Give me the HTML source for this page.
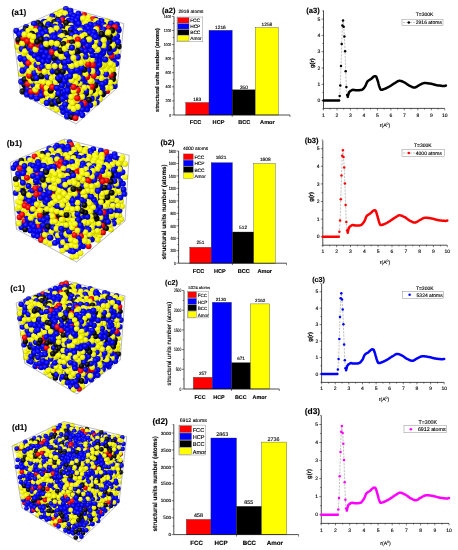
<!DOCTYPE html><html><head><meta charset="utf-8"><style>
html,body{margin:0;padding:0;background:#fff;width:458px;height:550px;overflow:hidden}
svg{display:block;font-family:'Liberation Sans', Arial, sans-serif;text-rendering:geometricPrecision}
text{fill:#000;stroke:#000;stroke-width:0.12px}
.lb{font-weight:bold}.cat{font-weight:bold}.yt{font-weight:bold}
.ax{fill:none;stroke:#000;stroke-width:0.7}.tk{fill:none;stroke:#000;stroke-width:0.5}
.lbx{fill:none;stroke:#777;stroke-width:0.4}
.ed{fill:none;stroke:#999;stroke-width:0.4}.ed2{fill:none;stroke:#666;stroke-width:0.45}.bk{fill:#22224a}
.y{fill:url(#gy)}.b{fill:url(#gb)}.k{fill:url(#gk)}.r{fill:url(#gr)}
</style></head><body>
<svg width="458" height="550" viewBox="0 0 458 550">
<defs>
<radialGradient id="gy" cx="0.4" cy="0.38" r="0.62"><stop offset="0" stop-color="#ffff70"/><stop offset="0.55" stop-color="#f6f600"/><stop offset="1" stop-color="#c4c400"/></radialGradient>
<radialGradient id="gb" cx="0.4" cy="0.38" r="0.62"><stop offset="0" stop-color="#3c3cff"/><stop offset="0.55" stop-color="#0000f4"/><stop offset="1" stop-color="#0000a8"/></radialGradient>
<radialGradient id="gk" cx="0.4" cy="0.38" r="0.62"><stop offset="0" stop-color="#4a4a4a"/><stop offset="0.55" stop-color="#0c0c0c"/><stop offset="1" stop-color="#000"/></radialGradient>
<radialGradient id="gr" cx="0.4" cy="0.38" r="0.62"><stop offset="0" stop-color="#ff5050"/><stop offset="0.55" stop-color="#f40000"/><stop offset="1" stop-color="#a80000"/></radialGradient>
</defs>
<g class="c1">
<path d="M66.0 7.0L61.8 57.4M20.8 93.4L61.8 57.4L117.0 88.0" class="ed"/>
<path d="M66.2 17.1L25.7 36.4L30.5 86.0L74.0 108.7L107.1 81.6L111.2 31.3Z" class="bk"/>
<circle cx="64.8" cy="14.9" r="3.1" class="y"/>
<circle cx="65.9" cy="9.0" r="3.1" class="b"/>
<circle cx="68.4" cy="12.9" r="3.1" class="b"/>
<circle cx="66.1" cy="19.0" r="3.1" class="b"/>
<circle cx="62.0" cy="14.3" r="3.1" class="b"/>
<circle cx="57.8" cy="20.6" r="3.1" class="b"/>
<circle cx="70.6" cy="17.0" r="3.1" class="b"/>
<circle cx="61.9" cy="18.5" r="3.1" class="y"/>
<circle cx="57.1" cy="17.4" r="3.1" class="y"/>
<circle cx="66.2" cy="15.9" r="3.1" class="b"/>
<circle cx="60.8" cy="11.6" r="3.1" class="y"/>
<circle cx="70.4" cy="10.9" r="3.1" class="b"/>
<circle cx="61.7" cy="22.8" r="3.1" class="b"/>
<circle cx="72.5" cy="20.4" r="3.1" class="k"/>
<circle cx="72.1" cy="15.0" r="3.1" class="y"/>
<circle cx="67.4" cy="19.8" r="3.1" class="b"/>
<circle cx="78.7" cy="22.0" r="3.1" class="k"/>
<circle cx="57.1" cy="22.0" r="3.1" class="b"/>
<circle cx="65.0" cy="13.3" r="3.1" class="y"/>
<circle cx="56.1" cy="14.0" r="3.1" class="y"/>
<circle cx="62.6" cy="20.6" r="3.1" class="b"/>
<circle cx="66.4" cy="23.8" r="3.1" class="b"/>
<circle cx="59.4" cy="17.2" r="3.1" class="b"/>
<circle cx="78.7" cy="18.2" r="3.1" class="k"/>
<circle cx="52.1" cy="21.7" r="3.1" class="k"/>
<circle cx="78.4" cy="13.9" r="3.1" class="b"/>
<circle cx="66.6" cy="17.3" r="3.1" class="y"/>
<circle cx="54.2" cy="25.7" r="3.1" class="b"/>
<circle cx="70.9" cy="19.7" r="3.1" class="b"/>
<circle cx="52.4" cy="16.3" r="3.1" class="b"/>
<circle cx="78.7" cy="22.4" r="3.1" class="b"/>
<circle cx="72.1" cy="15.2" r="3.1" class="b"/>
<circle cx="48.0" cy="26.9" r="3.1" class="k"/>
<circle cx="58.8" cy="20.5" r="3.1" class="b"/>
<circle cx="71.5" cy="24.2" r="3.1" class="b"/>
<circle cx="84.2" cy="15.0" r="3.1" class="r"/>
<circle cx="29.3" cy="83.7" r="3.1" class="y"/>
<circle cx="60.0" cy="15.4" r="3.1" class="y"/>
<circle cx="85.1" cy="21.7" r="3.1" class="r"/>
<circle cx="61.5" cy="23.9" r="3.1" class="k"/>
<circle cx="47.5" cy="22.1" r="3.1" class="b"/>
<circle cx="105.7" cy="78.8" r="3.1" class="b"/>
<circle cx="66.9" cy="23.5" r="3.1" class="k"/>
<circle cx="79.8" cy="16.9" r="3.1" class="b"/>
<circle cx="68.3" cy="17.3" r="3.1" class="b"/>
<circle cx="53.4" cy="20.4" r="3.1" class="y"/>
<circle cx="89.8" cy="24.4" r="3.1" class="y"/>
<circle cx="73.8" cy="20.4" r="3.1" class="y"/>
<circle cx="62.9" cy="18.3" r="3.1" class="b"/>
<circle cx="55.5" cy="28.1" r="3.1" class="y"/>
<circle cx="69.1" cy="27.8" r="3.1" class="b"/>
<circle cx="81.3" cy="25.2" r="3.1" class="y"/>
<circle cx="57.5" cy="24.1" r="3.1" class="y"/>
<circle cx="27.9" cy="81.0" r="3.1" class="k"/>
<circle cx="74.8" cy="25.0" r="3.1" class="k"/>
<circle cx="109.5" cy="84.3" r="3.1" class="b"/>
<circle cx="84.6" cy="18.6" r="3.1" class="y"/>
<circle cx="108.6" cy="73.7" r="3.1" class="b"/>
<circle cx="62.6" cy="28.3" r="3.1" class="b"/>
<circle cx="31.7" cy="89.2" r="3.1" class="b"/>
<circle cx="48.1" cy="25.6" r="3.1" class="b"/>
<circle cx="31.8" cy="84.2" r="3.1" class="k"/>
<circle cx="40.4" cy="29.9" r="3.1" class="r"/>
<circle cx="109.5" cy="79.3" r="3.1" class="b"/>
<circle cx="73.9" cy="16.4" r="3.1" class="b"/>
<circle cx="104.8" cy="82.7" r="3.1" class="y"/>
<circle cx="26.1" cy="87.5" r="3.1" class="k"/>
<circle cx="46.7" cy="29.9" r="3.1" class="b"/>
<circle cx="49.4" cy="19.6" r="3.1" class="y"/>
<circle cx="44.0" cy="21.8" r="3.1" class="b"/>
<circle cx="28.8" cy="75.4" r="3.1" class="k"/>
<circle cx="92.5" cy="21.5" r="3.1" class="b"/>
<circle cx="100.0" cy="86.0" r="3.1" class="y"/>
<circle cx="36.5" cy="89.9" r="3.1" class="k"/>
<circle cx="104.5" cy="75.3" r="3.1" class="b"/>
<circle cx="67.8" cy="20.0" r="3.1" class="y"/>
<circle cx="57.8" cy="19.8" r="3.1" class="k"/>
<circle cx="106.5" cy="67.0" r="3.1" class="b"/>
<circle cx="65.8" cy="25.3" r="3.1" class="b"/>
<circle cx="95.9" cy="27.6" r="3.1" class="k"/>
<circle cx="114.6" cy="85.9" r="3.1" class="b"/>
<circle cx="22.6" cy="91.4" r="3.1" class="k"/>
<circle cx="54.1" cy="26.3" r="3.1" class="b"/>
<circle cx="88.7" cy="17.6" r="3.1" class="y"/>
<circle cx="72.2" cy="29.1" r="3.1" class="k"/>
<circle cx="80.9" cy="21.2" r="3.1" class="b"/>
<circle cx="87.1" cy="22.1" r="3.1" class="y"/>
<circle cx="40.0" cy="27.1" r="3.1" class="k"/>
<circle cx="31.7" cy="80.2" r="3.1" class="b"/>
<circle cx="24.4" cy="84.7" r="3.1" class="k"/>
<circle cx="83.7" cy="27.3" r="3.1" class="y"/>
<circle cx="73.1" cy="23.3" r="3.1" class="k"/>
<circle cx="111.7" cy="74.1" r="3.1" class="k"/>
<circle cx="109.3" cy="63.7" r="3.1" class="y"/>
<circle cx="31.4" cy="92.7" r="3.1" class="y"/>
<circle cx="49.2" cy="23.7" r="3.1" class="y"/>
<circle cx="78.2" cy="18.0" r="3.1" class="b"/>
<circle cx="78.7" cy="25.8" r="3.1" class="k"/>
<circle cx="91.0" cy="26.1" r="3.1" class="y"/>
<circle cx="59.2" cy="23.5" r="3.1" class="r"/>
<circle cx="30.2" cy="71.9" r="3.1" class="b"/>
<circle cx="27.3" cy="66.4" r="3.1" class="k"/>
<circle cx="72.6" cy="19.0" r="3.1" class="b"/>
<circle cx="101.5" cy="75.7" r="3.1" class="k"/>
<circle cx="95.3" cy="19.5" r="3.1" class="b"/>
<circle cx="102.2" cy="81.3" r="3.1" class="b"/>
<circle cx="114.2" cy="81.6" r="3.1" class="y"/>
<circle cx="54.4" cy="22.1" r="3.1" class="k"/>
<circle cx="108.4" cy="56.6" r="3.1" class="y"/>
<circle cx="52.1" cy="30.9" r="3.1" class="y"/>
<circle cx="46.1" cy="29.9" r="3.1" class="k"/>
<circle cx="36.7" cy="81.7" r="3.1" class="y"/>
<circle cx="35.1" cy="86.9" r="3.1" class="y"/>
<circle cx="64.0" cy="31.0" r="3.1" class="b"/>
<circle cx="111.6" cy="86.5" r="3.1" class="b"/>
<circle cx="113.2" cy="69.5" r="3.1" class="y"/>
<circle cx="43.2" cy="22.9" r="3.1" class="b"/>
<circle cx="26.8" cy="80.8" r="3.1" class="k"/>
<circle cx="103.3" cy="69.4" r="3.1" class="y"/>
<circle cx="108.2" cy="71.4" r="3.1" class="y"/>
<circle cx="58.7" cy="30.9" r="3.1" class="b"/>
<circle cx="62.1" cy="20.0" r="3.1" class="r"/>
<circle cx="41.4" cy="32.6" r="3.1" class="k"/>
<circle cx="35.6" cy="76.3" r="3.1" class="y"/>
<circle cx="27.8" cy="88.9" r="3.1" class="b"/>
<circle cx="25.8" cy="73.4" r="3.1" class="y"/>
<circle cx="83.1" cy="18.4" r="3.1" class="y"/>
<circle cx="94.3" cy="29.8" r="3.1" class="b"/>
<circle cx="21.3" cy="81.7" r="3.1" class="b"/>
<circle cx="26.9" cy="94.4" r="3.1" class="b"/>
<circle cx="30.9" cy="85.0" r="3.1" class="y"/>
<circle cx="106.7" cy="77.1" r="3.1" class="y"/>
<circle cx="105.6" cy="63.5" r="3.1" class="y"/>
<circle cx="38.1" cy="23.0" r="3.1" class="k"/>
<circle cx="102.8" cy="88.5" r="3.1" class="y"/>
<circle cx="107.1" cy="83.4" r="3.1" class="b"/>
<circle cx="87.0" cy="29.9" r="3.1" class="b"/>
<circle cx="35.2" cy="30.3" r="3.1" class="y"/>
<circle cx="94.8" cy="24.5" r="3.1" class="r"/>
<circle cx="29.2" cy="59.8" r="3.1" class="b"/>
<circle cx="96.9" cy="89.2" r="3.1" class="b"/>
<circle cx="68.1" cy="28.8" r="3.1" class="b"/>
<circle cx="73.1" cy="31.1" r="3.1" class="b"/>
<circle cx="39.6" cy="93.1" r="3.1" class="b"/>
<circle cx="100.2" cy="26.8" r="3.1" class="b"/>
<circle cx="43.2" cy="89.8" r="3.1" class="b"/>
<circle cx="68.9" cy="20.9" r="3.1" class="b"/>
<circle cx="98.1" cy="79.0" r="3.1" class="b"/>
<circle cx="109.9" cy="50.1" r="3.1" class="b"/>
<circle cx="107.1" cy="90.9" r="3.1" class="r"/>
<circle cx="99.7" cy="21.2" r="3.1" class="b"/>
<circle cx="85.7" cy="24.6" r="3.1" class="y"/>
<circle cx="113.5" cy="60.8" r="3.1" class="b"/>
<circle cx="112.9" cy="78.9" r="3.1" class="k"/>
<circle cx="29.8" cy="65.4" r="3.1" class="b"/>
<circle cx="34.4" cy="92.5" r="3.1" class="b"/>
<circle cx="40.2" cy="84.7" r="3.1" class="b"/>
<circle cx="35.7" cy="71.3" r="3.1" class="b"/>
<circle cx="30.9" cy="70.7" r="3.1" class="b"/>
<circle cx="76.2" cy="20.3" r="3.1" class="b"/>
<circle cx="51.6" cy="25.0" r="3.1" class="k"/>
<circle cx="27.1" cy="52.7" r="3.1" class="b"/>
<circle cx="78.7" cy="28.8" r="3.1" class="y"/>
<circle cx="101.0" cy="74.3" r="3.1" class="b"/>
<circle cx="93.0" cy="19.3" r="3.1" class="r"/>
<circle cx="43.0" cy="29.0" r="3.1" class="y"/>
<circle cx="74.2" cy="24.5" r="3.1" class="b"/>
<circle cx="87.9" cy="20.5" r="3.1" class="y"/>
<circle cx="23.8" cy="69.5" r="3.1" class="y"/>
<circle cx="31.6" cy="77.8" r="3.1" class="b"/>
<circle cx="58.1" cy="26.7" r="3.1" class="b"/>
<circle cx="21.0" cy="73.6" r="3.1" class="y"/>
<circle cx="102.9" cy="79.1" r="3.1" class="k"/>
<circle cx="45.9" cy="94.9" r="3.1" class="b"/>
<circle cx="104.5" cy="30.6" r="3.1" class="b"/>
<circle cx="55.0" cy="33.2" r="3.1" class="k"/>
<circle cx="25.1" cy="61.0" r="3.1" class="b"/>
<circle cx="58.4" cy="21.3" r="3.1" class="b"/>
<circle cx="90.9" cy="31.6" r="3.1" class="y"/>
<circle cx="106.3" cy="68.7" r="3.1" class="b"/>
<circle cx="101.7" cy="84.4" r="3.1" class="b"/>
<circle cx="106.4" cy="73.9" r="3.1" class="b"/>
<circle cx="113.5" cy="74.5" r="3.1" class="k"/>
<circle cx="110.3" cy="87.6" r="3.1" class="y"/>
<circle cx="63.5" cy="25.9" r="3.1" class="y"/>
<circle cx="103.0" cy="61.1" r="3.1" class="b"/>
<circle cx="46.0" cy="23.1" r="3.1" class="y"/>
<circle cx="33.9" cy="83.3" r="3.1" class="r"/>
<circle cx="100.3" cy="67.5" r="3.1" class="y"/>
<circle cx="39.2" cy="26.4" r="3.1" class="b"/>
<circle cx="92.9" cy="91.7" r="3.1" class="b"/>
<circle cx="105.0" cy="56.3" r="3.1" class="y"/>
<circle cx="26.2" cy="48.5" r="3.1" class="b"/>
<circle cx="112.9" cy="68.1" r="3.1" class="y"/>
<circle cx="109.8" cy="57.8" r="3.1" class="b"/>
<circle cx="95.8" cy="28.1" r="3.1" class="y"/>
<circle cx="113.4" cy="53.2" r="3.1" class="y"/>
<circle cx="103.6" cy="93.1" r="3.1" class="b"/>
<circle cx="24.8" cy="79.3" r="3.1" class="k"/>
<circle cx="27.7" cy="83.9" r="3.1" class="r"/>
<circle cx="31.5" cy="96.4" r="3.1" class="b"/>
<circle cx="83.6" cy="31.8" r="3.1" class="b"/>
<circle cx="41.2" cy="33.6" r="3.1" class="k"/>
<circle cx="49.7" cy="32.7" r="3.1" class="y"/>
<circle cx="34.3" cy="28.4" r="3.1" class="b"/>
<circle cx="81.8" cy="24.4" r="3.1" class="y"/>
<circle cx="108.5" cy="45.0" r="3.1" class="b"/>
<circle cx="33.5" cy="33.3" r="3.1" class="b"/>
<circle cx="40.5" cy="97.5" r="3.1" class="b"/>
<circle cx="33.9" cy="23.8" r="3.1" class="b"/>
<circle cx="98.7" cy="94.1" r="3.1" class="y"/>
<circle cx="29.1" cy="35.8" r="3.1" class="b"/>
<circle cx="88.1" cy="27.2" r="3.1" class="y"/>
<circle cx="74.6" cy="28.5" r="3.1" class="b"/>
<circle cx="38.6" cy="78.4" r="3.1" class="b"/>
<circle cx="104.1" cy="25.3" r="3.1" class="y"/>
<circle cx="58.8" cy="31.0" r="3.1" class="y"/>
<circle cx="110.3" cy="40.1" r="3.1" class="b"/>
<circle cx="28.4" cy="58.7" r="3.1" class="k"/>
<circle cx="69.2" cy="26.9" r="3.1" class="y"/>
<circle cx="23.0" cy="65.4" r="3.1" class="b"/>
<circle cx="33.3" cy="66.8" r="3.1" class="y"/>
<circle cx="106.5" cy="52.0" r="3.1" class="y"/>
<circle cx="72.2" cy="22.1" r="3.1" class="b"/>
<circle cx="42.7" cy="83.5" r="3.1" class="b"/>
<circle cx="110.2" cy="82.6" r="3.1" class="y"/>
<circle cx="109.4" cy="63.6" r="3.1" class="b"/>
<circle cx="46.6" cy="28.5" r="3.1" class="b"/>
<circle cx="31.2" cy="91.5" r="3.1" class="r"/>
<circle cx="21.4" cy="59.2" r="3.1" class="b"/>
<circle cx="96.1" cy="21.0" r="3.1" class="y"/>
<circle cx="27.7" cy="71.6" r="3.1" class="y"/>
<circle cx="98.6" cy="77.3" r="3.1" class="y"/>
<circle cx="68.2" cy="31.8" r="3.1" class="b"/>
<circle cx="97.5" cy="86.7" r="3.1" class="y"/>
<circle cx="113.6" cy="45.0" r="3.1" class="y"/>
<circle cx="77.7" cy="34.1" r="3.1" class="b"/>
<circle cx="41.3" cy="89.9" r="3.1" class="b"/>
<circle cx="34.2" cy="59.1" r="3.1" class="k"/>
<circle cx="33.6" cy="76.0" r="3.1" class="b"/>
<circle cx="63.4" cy="35.1" r="3.1" class="y"/>
<circle cx="95.1" cy="82.3" r="3.1" class="b"/>
<circle cx="36.6" cy="98.4" r="3.1" class="b"/>
<circle cx="106.5" cy="87.7" r="3.1" class="y"/>
<circle cx="39.9" cy="30.3" r="3.1" class="b"/>
<circle cx="110.7" cy="75.1" r="3.1" class="r"/>
<circle cx="28.8" cy="30.1" r="3.1" class="b"/>
<circle cx="28.9" cy="63.7" r="3.1" class="r"/>
<circle cx="116.1" cy="63.7" r="3.1" class="b"/>
<circle cx="89.9" cy="95.6" r="3.1" class="y"/>
<circle cx="104.2" cy="68.5" r="3.1" class="y"/>
<circle cx="66.2" cy="22.8" r="3.1" class="k"/>
<circle cx="55.7" cy="24.8" r="3.1" class="y"/>
<circle cx="38.1" cy="85.1" r="3.1" class="y"/>
<circle cx="36.8" cy="92.1" r="3.1" class="r"/>
<circle cx="28.9" cy="77.4" r="3.1" class="y"/>
<circle cx="32.2" cy="53.1" r="3.1" class="b"/>
<circle cx="101.8" cy="31.9" r="3.1" class="b"/>
<circle cx="45.3" cy="33.9" r="3.1" class="b"/>
<circle cx="108.2" cy="27.7" r="3.1" class="y"/>
<circle cx="26.5" cy="44.2" r="3.1" class="b"/>
<circle cx="96.6" cy="31.6" r="3.1" class="b"/>
<circle cx="22.6" cy="70.7" r="3.1" class="b"/>
<circle cx="37.5" cy="69.6" r="3.1" class="k"/>
<circle cx="99.7" cy="26.9" r="3.1" class="r"/>
<circle cx="41.7" cy="75.6" r="3.1" class="k"/>
<circle cx="101.6" cy="57.1" r="3.1" class="b"/>
<circle cx="90.9" cy="87.6" r="3.1" class="b"/>
<circle cx="101.8" cy="21.3" r="3.1" class="b"/>
<circle cx="47.1" cy="87.2" r="3.1" class="b"/>
<circle cx="48.4" cy="24.4" r="3.1" class="b"/>
<circle cx="113.7" cy="51.0" r="3.1" class="r"/>
<circle cx="98.4" cy="70.1" r="3.1" class="k"/>
<circle cx="101.9" cy="64.7" r="3.1" class="y"/>
<circle cx="109.8" cy="36.7" r="3.1" class="y"/>
<circle cx="24.0" cy="55.7" r="3.1" class="b"/>
<circle cx="87.3" cy="31.6" r="3.1" class="b"/>
<circle cx="91.4" cy="23.6" r="3.1" class="y"/>
<circle cx="81.3" cy="29.5" r="3.1" class="b"/>
<circle cx="63.7" cy="30.1" r="3.1" class="k"/>
<circle cx="51.2" cy="95.0" r="3.1" class="b"/>
<circle cx="55.9" cy="35.7" r="3.1" class="k"/>
<circle cx="25.5" cy="37.9" r="3.1" class="b"/>
<circle cx="105.4" cy="80.9" r="3.1" class="b"/>
<circle cx="33.5" cy="85.0" r="3.1" class="b"/>
<circle cx="105.2" cy="45.7" r="3.1" class="k"/>
<circle cx="111.5" cy="69.5" r="3.1" class="y"/>
<circle cx="50.5" cy="36.7" r="3.1" class="y"/>
<circle cx="102.4" cy="88.6" r="3.1" class="b"/>
<circle cx="107.3" cy="21.5" r="3.1" class="y"/>
<circle cx="111.5" cy="57.4" r="3.1" class="b"/>
<circle cx="54.4" cy="29.3" r="3.1" class="b"/>
<circle cx="105.9" cy="75.6" r="3.1" class="y"/>
<circle cx="110.1" cy="32.0" r="3.1" class="y"/>
<circle cx="25.2" cy="50.7" r="3.1" class="y"/>
<circle cx="117.7" cy="56.4" r="3.1" class="b"/>
<circle cx="93.7" cy="27.5" r="3.1" class="b"/>
<circle cx="102.7" cy="94.3" r="3.1" class="k"/>
<circle cx="107.7" cy="61.1" r="3.1" class="y"/>
<circle cx="33.8" cy="63.7" r="3.1" class="k"/>
<circle cx="35.7" cy="29.1" r="3.1" class="b"/>
<circle cx="94.9" cy="93.7" r="3.1" class="y"/>
<circle cx="37.7" cy="36.9" r="3.1" class="r"/>
<circle cx="85.8" cy="23.0" r="3.1" class="y"/>
<circle cx="44.5" cy="81.0" r="3.1" class="b"/>
<circle cx="26.0" cy="68.3" r="3.1" class="b"/>
<circle cx="109.2" cy="42.7" r="3.1" class="k"/>
<circle cx="73.1" cy="33.4" r="3.1" class="b"/>
<circle cx="45.6" cy="92.4" r="3.1" class="r"/>
<circle cx="70.8" cy="25.8" r="3.1" class="y"/>
<circle cx="41.3" cy="96.5" r="3.1" class="r"/>
<circle cx="28.9" cy="55.4" r="3.1" class="y"/>
<circle cx="41.7" cy="68.1" r="3.1" class="b"/>
<circle cx="54.7" cy="99.9" r="3.1" class="b"/>
<circle cx="94.4" cy="75.0" r="3.1" class="y"/>
<circle cx="115.9" cy="42.5" r="3.1" class="y"/>
<circle cx="22.1" cy="64.5" r="3.1" class="y"/>
<circle cx="111.0" cy="48.4" r="3.1" class="b"/>
<circle cx="112.8" cy="65.2" r="3.1" class="y"/>
<circle cx="31.0" cy="50.1" r="3.1" class="k"/>
<circle cx="40.6" cy="25.6" r="3.1" class="k"/>
<circle cx="19.6" cy="50.4" r="3.1" class="y"/>
<circle cx="26.2" cy="27.0" r="3.1" class="b"/>
<circle cx="46.9" cy="99.7" r="3.1" class="k"/>
<circle cx="35.3" cy="73.2" r="3.1" class="y"/>
<circle cx="21.0" cy="43.8" r="3.1" class="b"/>
<circle cx="108.9" cy="53.2" r="3.1" class="y"/>
<circle cx="104.5" cy="41.5" r="3.1" class="k"/>
<circle cx="60.1" cy="28.3" r="3.1" class="y"/>
<circle cx="115.2" cy="35.9" r="3.1" class="b"/>
<circle cx="39.5" cy="62.7" r="3.1" class="b"/>
<circle cx="78.7" cy="23.7" r="3.1" class="b"/>
<circle cx="91.5" cy="84.2" r="3.1" class="b"/>
<circle cx="99.6" cy="80.0" r="3.1" class="b"/>
<circle cx="103.2" cy="25.4" r="3.1" class="b"/>
<circle cx="66.1" cy="35.5" r="3.1" class="b"/>
<circle cx="99.2" cy="34.5" r="3.1" class="k"/>
<circle cx="83.1" cy="35.3" r="3.1" class="y"/>
<circle cx="40.8" cy="73.2" r="3.1" class="k"/>
<circle cx="20.5" cy="57.9" r="3.1" class="b"/>
<circle cx="91.5" cy="32.8" r="3.1" class="b"/>
<circle cx="107.4" cy="66.5" r="3.1" class="y"/>
<circle cx="33.1" cy="33.2" r="3.1" class="k"/>
<circle cx="31.9" cy="38.7" r="3.1" class="b"/>
<circle cx="100.5" cy="53.1" r="3.1" class="b"/>
<circle cx="25.2" cy="46.7" r="3.1" class="y"/>
<circle cx="46.0" cy="36.5" r="3.1" class="y"/>
<circle cx="36.5" cy="81.1" r="3.1" class="y"/>
<circle cx="30.3" cy="66.6" r="3.1" class="b"/>
<circle cx="98.4" cy="23.3" r="3.1" class="b"/>
<circle cx="46.8" cy="75.9" r="3.1" class="y"/>
<circle cx="105.4" cy="57.5" r="3.1" class="y"/>
<circle cx="31.2" cy="80.7" r="3.1" class="y"/>
<circle cx="76.4" cy="36.7" r="3.1" class="b"/>
<circle cx="45.1" cy="32.0" r="3.1" class="b"/>
<circle cx="34.8" cy="60.1" r="3.1" class="k"/>
<circle cx="99.8" cy="98.8" r="3.1" class="y"/>
<circle cx="86.7" cy="94.6" r="3.1" class="y"/>
<circle cx="102.2" cy="70.5" r="3.1" class="r"/>
<circle cx="40.9" cy="78.7" r="3.1" class="b"/>
<circle cx="68.9" cy="31.1" r="3.1" class="y"/>
<circle cx="35.3" cy="89.6" r="3.1" class="y"/>
<circle cx="108.6" cy="71.6" r="3.1" class="y"/>
<circle cx="42.4" cy="89.9" r="3.1" class="b"/>
<circle cx="118.6" cy="46.4" r="3.1" class="k"/>
<circle cx="88.5" cy="99.7" r="3.1" class="y"/>
<circle cx="50.7" cy="31.3" r="3.1" class="r"/>
<circle cx="84.4" cy="27.0" r="3.1" class="y"/>
<circle cx="41.4" cy="84.6" r="3.1" class="b"/>
<circle cx="104.9" cy="50.1" r="3.1" class="b"/>
<circle cx="29.3" cy="75.7" r="3.1" class="r"/>
<circle cx="101.6" cy="86.5" r="3.1" class="b"/>
<circle cx="47.6" cy="26.6" r="3.1" class="b"/>
<circle cx="96.1" cy="69.0" r="3.1" class="k"/>
<circle cx="40.2" cy="30.6" r="3.1" class="b"/>
<circle cx="25.7" cy="62.1" r="3.1" class="b"/>
<circle cx="103.5" cy="77.1" r="3.1" class="y"/>
<circle cx="29.8" cy="43.9" r="3.1" class="b"/>
<circle cx="104.6" cy="31.5" r="3.1" class="r"/>
<circle cx="116.2" cy="51.4" r="3.1" class="y"/>
<circle cx="60.0" cy="36.5" r="3.1" class="k"/>
<circle cx="75.1" cy="27.4" r="3.1" class="b"/>
<circle cx="93.6" cy="99.2" r="3.1" class="y"/>
<circle cx="53.4" cy="96.3" r="3.1" class="y"/>
<circle cx="102.3" cy="45.6" r="3.1" class="b"/>
<circle cx="95.5" cy="87.9" r="3.1" class="b"/>
<circle cx="105.1" cy="82.3" r="3.1" class="b"/>
<circle cx="24.1" cy="33.0" r="3.1" class="b"/>
<circle cx="51.2" cy="100.8" r="3.1" class="y"/>
<circle cx="40.2" cy="58.9" r="3.1" class="y"/>
<circle cx="107.8" cy="27.2" r="3.1" class="b"/>
<circle cx="63.3" cy="32.4" r="3.1" class="b"/>
<circle cx="54.7" cy="26.6" r="3.1" class="b"/>
<circle cx="88.2" cy="29.9" r="3.1" class="y"/>
<circle cx="106.4" cy="38.0" r="3.1" class="k"/>
<circle cx="48.6" cy="84.2" r="3.1" class="b"/>
<circle cx="57.6" cy="31.6" r="3.1" class="r"/>
<circle cx="46.1" cy="70.4" r="3.1" class="y"/>
<circle cx="90.5" cy="24.7" r="3.1" class="b"/>
<circle cx="36.0" cy="66.9" r="3.1" class="y"/>
<circle cx="89.7" cy="80.2" r="3.1" class="y"/>
<circle cx="99.3" cy="63.2" r="3.1" class="y"/>
<circle cx="97.1" cy="31.4" r="3.1" class="y"/>
<circle cx="22.3" cy="37.7" r="3.1" class="y"/>
<circle cx="17.4" cy="46.4" r="3.1" class="y"/>
<circle cx="27.9" cy="36.2" r="3.1" class="k"/>
<circle cx="42.9" cy="100.8" r="3.1" class="y"/>
<circle cx="100.5" cy="58.1" r="3.1" class="y"/>
<circle cx="92.3" cy="93.0" r="3.1" class="k"/>
<circle cx="54.5" cy="35.6" r="3.1" class="k"/>
<circle cx="18.5" cy="41.6" r="3.1" class="r"/>
<circle cx="31.1" cy="28.4" r="3.1" class="y"/>
<circle cx="49.3" cy="90.0" r="3.1" class="b"/>
<circle cx="94.5" cy="63.3" r="3.1" class="k"/>
<circle cx="29.8" cy="58.8" r="3.1" class="y"/>
<circle cx="105.1" cy="63.8" r="3.1" class="y"/>
<circle cx="36.7" cy="40.1" r="3.1" class="y"/>
<circle cx="66.3" cy="27.0" r="3.1" class="k"/>
<circle cx="112.0" cy="40.1" r="3.1" class="y"/>
<circle cx="111.8" cy="33.8" r="3.1" class="r"/>
<circle cx="99.5" cy="92.8" r="3.1" class="y"/>
<circle cx="24.7" cy="42.2" r="3.1" class="b"/>
<circle cx="49.9" cy="38.6" r="3.1" class="b"/>
<circle cx="40.9" cy="70.1" r="3.1" class="r"/>
<circle cx="28.6" cy="50.9" r="3.1" class="y"/>
<circle cx="87.5" cy="89.9" r="3.1" class="b"/>
<circle cx="29.3" cy="71.1" r="3.1" class="y"/>
<circle cx="117.9" cy="41.7" r="3.1" class="b"/>
<circle cx="95.3" cy="58.1" r="3.1" class="y"/>
<circle cx="21.9" cy="48.9" r="3.1" class="b"/>
<circle cx="110.5" cy="63.7" r="3.1" class="y"/>
<circle cx="56.7" cy="102.7" r="3.1" class="b"/>
<circle cx="36.1" cy="45.4" r="3.1" class="b"/>
<circle cx="37.7" cy="86.5" r="3.1" class="y"/>
<circle cx="43.0" cy="63.1" r="3.1" class="b"/>
<circle cx="33.6" cy="78.2" r="3.1" class="k"/>
<circle cx="113.4" cy="28.5" r="3.1" class="b"/>
<circle cx="96.7" cy="75.6" r="3.1" class="k"/>
<circle cx="99.3" cy="50.6" r="3.1" class="b"/>
<circle cx="60.4" cy="26.4" r="3.1" class="b"/>
<circle cx="111.5" cy="55.7" r="3.1" class="r"/>
<circle cx="96.3" cy="83.0" r="3.1" class="y"/>
<circle cx="80.7" cy="30.4" r="3.1" class="b"/>
<circle cx="48.1" cy="97.7" r="3.1" class="y"/>
<circle cx="84.1" cy="102.3" r="3.1" class="y"/>
<circle cx="111.0" cy="23.6" r="3.1" class="b"/>
<circle cx="36.6" cy="28.5" r="3.1" class="r"/>
<circle cx="33.8" cy="49.7" r="3.1" class="y"/>
<circle cx="42.4" cy="36.8" r="3.1" class="b"/>
<circle cx="41.0" cy="95.4" r="3.1" class="b"/>
<circle cx="106.0" cy="74.2" r="3.1" class="b"/>
<circle cx="24.1" cy="53.5" r="3.1" class="y"/>
<circle cx="52.9" cy="87.4" r="3.1" class="y"/>
<circle cx="106.3" cy="54.9" r="3.1" class="y"/>
<circle cx="105.6" cy="69.1" r="3.1" class="y"/>
<circle cx="36.0" cy="55.9" r="3.1" class="b"/>
<circle cx="85.6" cy="38.0" r="3.1" class="b"/>
<circle cx="45.7" cy="93.2" r="3.1" class="r"/>
<circle cx="66.7" cy="38.2" r="3.1" class="k"/>
<circle cx="76.4" cy="34.1" r="3.1" class="b"/>
<circle cx="90.1" cy="76.1" r="3.1" class="y"/>
<circle cx="40.7" cy="75.5" r="3.1" class="y"/>
<circle cx="103.3" cy="24.9" r="3.1" class="b"/>
<circle cx="113.8" cy="48.8" r="3.1" class="b"/>
<circle cx="25.5" cy="29.3" r="3.1" class="k"/>
<circle cx="110.2" cy="45.5" r="3.1" class="b"/>
<circle cx="33.4" cy="35.2" r="3.1" class="y"/>
<circle cx="25.1" cy="59.5" r="3.1" class="b"/>
<circle cx="95.3" cy="25.3" r="3.1" class="b"/>
<circle cx="105.8" cy="42.6" r="3.1" class="b"/>
<circle cx="84.8" cy="96.0" r="3.1" class="y"/>
<circle cx="95.8" cy="37.4" r="3.1" class="b"/>
<circle cx="44.8" cy="28.8" r="3.1" class="k"/>
<circle cx="54.6" cy="92.9" r="3.1" class="b"/>
<circle cx="59.1" cy="97.2" r="3.1" class="y"/>
<circle cx="71.0" cy="33.7" r="3.1" class="b"/>
<circle cx="38.5" cy="33.5" r="3.1" class="y"/>
<circle cx="118.6" cy="30.3" r="3.1" class="b"/>
<circle cx="91.4" cy="101.7" r="3.1" class="y"/>
<circle cx="96.6" cy="102.5" r="3.1" class="b"/>
<circle cx="71.9" cy="38.6" r="3.1" class="r"/>
<circle cx="102.4" cy="84.0" r="3.1" class="b"/>
<circle cx="19.4" cy="34.5" r="3.1" class="b"/>
<circle cx="101.0" cy="35.3" r="3.1" class="b"/>
<circle cx="46.8" cy="102.9" r="3.1" class="b"/>
<circle cx="38.4" cy="62.2" r="3.1" class="b"/>
<circle cx="71.4" cy="27.8" r="3.1" class="b"/>
<circle cx="50.5" cy="30.0" r="3.1" class="y"/>
<circle cx="45.9" cy="79.9" r="3.1" class="b"/>
<circle cx="96.7" cy="96.6" r="3.1" class="b"/>
<circle cx="91.8" cy="66.6" r="3.1" class="b"/>
<circle cx="100.9" cy="71.9" r="3.1" class="y"/>
<circle cx="86.7" cy="26.5" r="3.1" class="b"/>
<circle cx="87.1" cy="32.8" r="3.1" class="b"/>
<circle cx="90.6" cy="84.1" r="3.1" class="b"/>
<circle cx="101.7" cy="29.7" r="3.1" class="b"/>
<circle cx="117.0" cy="36.4" r="3.1" class="b"/>
<circle cx="33.4" cy="62.4" r="3.1" class="y"/>
<circle cx="95.4" cy="71.5" r="3.1" class="b"/>
<circle cx="50.3" cy="77.5" r="3.1" class="b"/>
<circle cx="106.0" cy="60.6" r="3.1" class="y"/>
<circle cx="34.5" cy="72.8" r="3.1" class="b"/>
<circle cx="27.2" cy="46.2" r="3.1" class="k"/>
<circle cx="28.5" cy="63.1" r="3.1" class="r"/>
<circle cx="91.5" cy="29.4" r="3.1" class="b"/>
<circle cx="80.6" cy="36.9" r="3.1" class="y"/>
<circle cx="44.8" cy="88.9" r="3.1" class="r"/>
<circle cx="30.5" cy="40.6" r="3.1" class="k"/>
<circle cx="53.1" cy="82.8" r="3.1" class="b"/>
<circle cx="56.5" cy="28.3" r="3.1" class="y"/>
<circle cx="40.6" cy="81.0" r="3.1" class="y"/>
<circle cx="61.9" cy="39.9" r="3.1" class="y"/>
<circle cx="41.2" cy="57.3" r="3.1" class="b"/>
<circle cx="85.8" cy="80.1" r="3.1" class="b"/>
<circle cx="63.9" cy="105.2" r="3.1" class="b"/>
<circle cx="62.7" cy="31.6" r="3.1" class="y"/>
<circle cx="97.8" cy="62.8" r="3.1" class="y"/>
<circle cx="38.8" cy="49.5" r="3.1" class="k"/>
<circle cx="105.2" cy="49.9" r="3.1" class="y"/>
<circle cx="76.8" cy="28.8" r="3.1" class="b"/>
<circle cx="105.3" cy="38.4" r="3.1" class="b"/>
<circle cx="47.7" cy="35.1" r="3.1" class="k"/>
<circle cx="56.7" cy="37.0" r="3.1" class="b"/>
<circle cx="44.5" cy="68.4" r="3.1" class="y"/>
<circle cx="97.0" cy="88.9" r="3.1" class="y"/>
<circle cx="92.0" cy="89.8" r="3.1" class="r"/>
<circle cx="101.2" cy="78.0" r="3.1" class="y"/>
<circle cx="36.6" cy="77.9" r="3.1" class="b"/>
<circle cx="102.0" cy="54.1" r="3.1" class="b"/>
<circle cx="32.1" cy="67.7" r="3.1" class="y"/>
<circle cx="47.1" cy="73.7" r="3.1" class="y"/>
<circle cx="40.1" cy="29.2" r="3.1" class="b"/>
<circle cx="114.1" cy="32.4" r="3.1" class="y"/>
<circle cx="84.0" cy="90.6" r="3.1" class="k"/>
<circle cx="116.8" cy="24.6" r="3.1" class="b"/>
<circle cx="18.4" cy="39.6" r="3.1" class="k"/>
<circle cx="22.3" cy="43.3" r="3.1" class="y"/>
<circle cx="29.4" cy="56.7" r="3.1" class="y"/>
<circle cx="100.5" cy="41.6" r="3.1" class="b"/>
<circle cx="88.3" cy="71.6" r="3.1" class="y"/>
<circle cx="16.4" cy="30.8" r="3.1" class="b"/>
<circle cx="109.5" cy="35.0" r="3.1" class="y"/>
<circle cx="51.1" cy="100.2" r="3.1" class="b"/>
<circle cx="103.6" cy="65.8" r="3.1" class="y"/>
<circle cx="110.1" cy="52.5" r="3.1" class="b"/>
<circle cx="95.0" cy="33.1" r="3.1" class="b"/>
<circle cx="98.6" cy="68.0" r="3.1" class="y"/>
<circle cx="94.1" cy="58.5" r="3.1" class="y"/>
<circle cx="49.6" cy="88.7" r="3.1" class="r"/>
<circle cx="34.2" cy="46.9" r="3.1" class="y"/>
<circle cx="45.8" cy="63.5" r="3.1" class="b"/>
<circle cx="58.1" cy="87.5" r="3.1" class="b"/>
<circle cx="82.3" cy="27.9" r="3.1" class="b"/>
<circle cx="39.0" cy="44.9" r="3.1" class="y"/>
<circle cx="38.7" cy="70.4" r="3.1" class="y"/>
<circle cx="22.5" cy="32.1" r="3.1" class="b"/>
<circle cx="49.6" cy="69.1" r="3.1" class="y"/>
<circle cx="91.9" cy="37.2" r="3.1" class="b"/>
<circle cx="52.0" cy="106.5" r="3.1" class="y"/>
<circle cx="25.1" cy="51.4" r="3.1" class="y"/>
<circle cx="100.4" cy="47.3" r="3.1" class="y"/>
<circle cx="82.6" cy="103.5" r="3.1" class="k"/>
<circle cx="93.2" cy="97.7" r="3.1" class="y"/>
<circle cx="88.5" cy="103.3" r="3.1" class="b"/>
<circle cx="28.4" cy="30.9" r="3.1" class="y"/>
<circle cx="23.3" cy="38.1" r="3.1" class="r"/>
<circle cx="59.7" cy="106.3" r="3.1" class="b"/>
<circle cx="43.8" cy="53.1" r="3.1" class="y"/>
<circle cx="35.1" cy="40.1" r="3.1" class="y"/>
<circle cx="28.1" cy="36.0" r="3.1" class="r"/>
<circle cx="50.2" cy="41.7" r="3.1" class="k"/>
<circle cx="82.4" cy="96.5" r="3.1" class="y"/>
<circle cx="45.2" cy="38.9" r="3.1" class="b"/>
<circle cx="105.8" cy="27.3" r="3.1" class="y"/>
<circle cx="37.0" cy="54.6" r="3.1" class="b"/>
<circle cx="31.4" cy="52.6" r="3.1" class="b"/>
<circle cx="61.6" cy="36.1" r="3.1" class="b"/>
<circle cx="74.3" cy="32.5" r="3.1" class="b"/>
<circle cx="95.6" cy="52.0" r="3.1" class="b"/>
<circle cx="112.5" cy="45.5" r="3.1" class="y"/>
<circle cx="97.3" cy="28.4" r="3.1" class="r"/>
<circle cx="82.7" cy="40.4" r="3.1" class="b"/>
<circle cx="79.8" cy="33.6" r="3.1" class="b"/>
<circle cx="68.0" cy="28.6" r="3.1" class="y"/>
<circle cx="53.9" cy="33.1" r="3.1" class="b"/>
<circle cx="42.6" cy="86.5" r="3.1" class="r"/>
<circle cx="67.2" cy="36.7" r="3.1" class="b"/>
<circle cx="88.3" cy="89.5" r="3.1" class="b"/>
<circle cx="62.0" cy="92.0" r="3.1" class="y"/>
<circle cx="36.6" cy="64.8" r="3.1" class="b"/>
<circle cx="82.6" cy="86.2" r="3.1" class="k"/>
<circle cx="58.5" cy="101.0" r="3.1" class="y"/>
<circle cx="42.4" cy="33.8" r="3.1" class="b"/>
<circle cx="88.4" cy="97.0" r="3.1" class="b"/>
<circle cx="37.0" cy="35.9" r="3.1" class="k"/>
<circle cx="72.5" cy="41.2" r="3.1" class="r"/>
<circle cx="46.9" cy="93.1" r="3.1" class="y"/>
<circle cx="113.3" cy="38.7" r="3.1" class="b"/>
<circle cx="90.5" cy="65.5" r="3.1" class="b"/>
<circle cx="94.0" cy="103.4" r="3.1" class="y"/>
<circle cx="110.9" cy="29.5" r="3.1" class="b"/>
<circle cx="91.4" cy="55.0" r="3.1" class="b"/>
<circle cx="35.2" cy="31.1" r="3.1" class="y"/>
<circle cx="118.2" cy="28.8" r="3.1" class="b"/>
<circle cx="92.0" cy="75.8" r="3.1" class="y"/>
<circle cx="56.6" cy="94.2" r="3.1" class="k"/>
<circle cx="40.1" cy="40.4" r="3.1" class="y"/>
<circle cx="95.5" cy="40.8" r="3.1" class="b"/>
<circle cx="88.4" cy="83.9" r="3.1" class="b"/>
<circle cx="52.9" cy="75.8" r="3.1" class="r"/>
<circle cx="101.1" cy="35.7" r="3.1" class="b"/>
<circle cx="52.5" cy="96.5" r="3.1" class="b"/>
<circle cx="95.7" cy="93.8" r="3.1" class="y"/>
<circle cx="105.2" cy="59.5" r="3.1" class="b"/>
<circle cx="43.2" cy="81.8" r="3.1" class="y"/>
<circle cx="96.6" cy="81.9" r="3.1" class="b"/>
<circle cx="43.2" cy="47.8" r="3.1" class="y"/>
<circle cx="79.1" cy="107.1" r="3.1" class="b"/>
<circle cx="58.9" cy="40.8" r="3.1" class="y"/>
<circle cx="92.9" cy="70.6" r="3.1" class="r"/>
<circle cx="29.4" cy="48.2" r="3.1" class="b"/>
<circle cx="99.2" cy="60.9" r="3.1" class="b"/>
<circle cx="43.1" cy="60.4" r="3.1" class="b"/>
<circle cx="104.8" cy="45.1" r="3.1" class="r"/>
<circle cx="54.2" cy="81.2" r="3.1" class="b"/>
<circle cx="77.3" cy="38.5" r="3.1" class="b"/>
<circle cx="49.3" cy="83.3" r="3.1" class="y"/>
<circle cx="85.2" cy="73.9" r="3.1" class="y"/>
<circle cx="47.7" cy="58.6" r="3.1" class="b"/>
<circle cx="88.4" cy="28.6" r="3.1" class="b"/>
<circle cx="50.6" cy="36.8" r="3.1" class="r"/>
<circle cx="101.0" cy="72.3" r="3.1" class="y"/>
<circle cx="52.9" cy="91.5" r="3.1" class="b"/>
<circle cx="94.4" cy="46.0" r="3.1" class="b"/>
<circle cx="86.3" cy="79.6" r="3.1" class="y"/>
<circle cx="108.9" cy="48.4" r="3.1" class="k"/>
<circle cx="86.0" cy="37.5" r="3.1" class="b"/>
<circle cx="85.3" cy="107.9" r="3.1" class="b"/>
<circle cx="65.4" cy="107.3" r="3.1" class="y"/>
<circle cx="37.6" cy="49.2" r="3.1" class="r"/>
<circle cx="46.4" cy="77.8" r="3.1" class="y"/>
<circle cx="32.3" cy="59.3" r="3.1" class="y"/>
<circle cx="89.7" cy="59.9" r="3.1" class="b"/>
<circle cx="108.0" cy="33.9" r="3.1" class="y"/>
<circle cx="91.9" cy="32.3" r="3.1" class="b"/>
<circle cx="78.6" cy="95.7" r="3.1" class="k"/>
<circle cx="19.7" cy="34.0" r="3.1" class="b"/>
<circle cx="97.1" cy="76.1" r="3.1" class="y"/>
<circle cx="109.4" cy="41.3" r="3.1" class="k"/>
<circle cx="81.7" cy="81.7" r="3.1" class="b"/>
<circle cx="65.0" cy="101.3" r="3.1" class="y"/>
<circle cx="53.7" cy="43.3" r="3.1" class="k"/>
<circle cx="52.1" cy="103.7" r="3.1" class="k"/>
<circle cx="78.0" cy="102.1" r="3.1" class="b"/>
<circle cx="102.8" cy="30.9" r="3.1" class="b"/>
<circle cx="89.7" cy="40.7" r="3.1" class="k"/>
<circle cx="96.2" cy="56.3" r="3.1" class="y"/>
<circle cx="27.2" cy="41.0" r="3.1" class="r"/>
<circle cx="65.7" cy="42.4" r="3.1" class="y"/>
<circle cx="52.5" cy="63.1" r="3.1" class="y"/>
<circle cx="87.2" cy="68.8" r="3.1" class="b"/>
<circle cx="40.3" cy="68.2" r="3.1" class="r"/>
<circle cx="45.0" cy="42.9" r="3.1" class="b"/>
<circle cx="41.4" cy="76.2" r="3.1" class="k"/>
<circle cx="60.8" cy="32.4" r="3.1" class="b"/>
<circle cx="97.1" cy="34.0" r="3.1" class="b"/>
<circle cx="83.1" cy="91.3" r="3.1" class="b"/>
<circle cx="61.4" cy="109.9" r="3.1" class="y"/>
<circle cx="113.3" cy="33.3" r="3.1" class="y"/>
<circle cx="70.3" cy="106.1" r="3.1" class="r"/>
<circle cx="32.0" cy="33.9" r="3.1" class="k"/>
<circle cx="41.7" cy="54.0" r="3.1" class="k"/>
<circle cx="114.9" cy="27.0" r="3.1" class="r"/>
<circle cx="59.5" cy="81.2" r="3.1" class="b"/>
<circle cx="59.3" cy="89.5" r="3.1" class="b"/>
<circle cx="45.1" cy="71.4" r="3.1" class="y"/>
<circle cx="38.9" cy="61.9" r="3.1" class="y"/>
<circle cx="94.2" cy="61.8" r="3.1" class="y"/>
<circle cx="101.8" cy="65.9" r="3.1" class="y"/>
<circle cx="71.0" cy="30.0" r="3.1" class="b"/>
<circle cx="103.2" cy="52.7" r="3.1" class="b"/>
<circle cx="48.6" cy="51.1" r="3.1" class="k"/>
<circle cx="46.0" cy="31.4" r="3.1" class="b"/>
<circle cx="63.1" cy="85.6" r="3.1" class="b"/>
<circle cx="65.8" cy="94.0" r="3.1" class="b"/>
<circle cx="63.6" cy="37.5" r="3.1" class="b"/>
<circle cx="51.9" cy="68.6" r="3.1" class="y"/>
<circle cx="46.7" cy="87.8" r="3.1" class="y"/>
<circle cx="105.1" cy="38.2" r="3.1" class="k"/>
<circle cx="51.6" cy="31.2" r="3.1" class="y"/>
<circle cx="57.3" cy="37.3" r="3.1" class="b"/>
<circle cx="80.3" cy="87.2" r="3.1" class="r"/>
<circle cx="92.3" cy="51.3" r="3.1" class="y"/>
<circle cx="34.7" cy="43.9" r="3.1" class="b"/>
<circle cx="54.3" cy="87.2" r="3.1" class="k"/>
<circle cx="108.7" cy="27.9" r="3.1" class="r"/>
<circle cx="96.4" cy="67.7" r="3.1" class="b"/>
<circle cx="91.6" cy="98.7" r="3.1" class="b"/>
<circle cx="100.3" cy="48.6" r="3.1" class="b"/>
<circle cx="92.8" cy="90.3" r="3.1" class="k"/>
<circle cx="49.4" cy="74.3" r="3.1" class="y"/>
<circle cx="40.7" cy="45.1" r="3.1" class="y"/>
<circle cx="87.8" cy="95.2" r="3.1" class="y"/>
<circle cx="83.0" cy="99.4" r="3.1" class="y"/>
<circle cx="90.1" cy="105.2" r="3.1" class="b"/>
<circle cx="85.1" cy="31.6" r="3.1" class="b"/>
<circle cx="56.5" cy="109.6" r="3.1" class="y"/>
<circle cx="38.3" cy="35.0" r="3.1" class="b"/>
<circle cx="72.2" cy="35.3" r="3.1" class="r"/>
<circle cx="34.7" cy="55.5" r="3.1" class="b"/>
<circle cx="45.9" cy="65.4" r="3.1" class="y"/>
<circle cx="56.0" cy="102.0" r="3.1" class="b"/>
<circle cx="74.4" cy="41.2" r="3.1" class="r"/>
<circle cx="79.8" cy="36.0" r="3.1" class="b"/>
<circle cx="95.2" cy="85.4" r="3.1" class="k"/>
<circle cx="86.8" cy="86.1" r="3.1" class="b"/>
<circle cx="68.1" cy="99.1" r="3.1" class="r"/>
<circle cx="61.3" cy="103.9" r="3.1" class="y"/>
<circle cx="81.2" cy="74.5" r="3.1" class="k"/>
<circle cx="76.0" cy="110.0" r="3.1" class="y"/>
<circle cx="94.5" cy="40.4" r="3.1" class="b"/>
<circle cx="56.3" cy="73.0" r="3.1" class="r"/>
<circle cx="31.9" cy="50.8" r="3.1" class="b"/>
<circle cx="79.8" cy="30.5" r="3.1" class="y"/>
<circle cx="60.8" cy="76.3" r="3.1" class="r"/>
<circle cx="38.7" cy="39.9" r="3.1" class="b"/>
<circle cx="101.8" cy="35.1" r="3.1" class="b"/>
<circle cx="91.8" cy="81.5" r="3.1" class="y"/>
<circle cx="51.9" cy="95.6" r="3.1" class="y"/>
<circle cx="47.7" cy="36.5" r="3.1" class="b"/>
<circle cx="91.9" cy="36.4" r="3.1" class="y"/>
<circle cx="51.2" cy="57.1" r="3.1" class="y"/>
<circle cx="50.2" cy="41.7" r="3.1" class="r"/>
<circle cx="56.8" cy="67.8" r="3.1" class="b"/>
<circle cx="96.2" cy="29.3" r="3.1" class="y"/>
<circle cx="85.6" cy="65.4" r="3.1" class="y"/>
<circle cx="91.5" cy="46.7" r="3.1" class="y"/>
<circle cx="90.7" cy="72.6" r="3.1" class="b"/>
<circle cx="60.5" cy="96.0" r="3.1" class="k"/>
<circle cx="87.6" cy="50.7" r="3.1" class="y"/>
<circle cx="100.7" cy="40.4" r="3.1" class="b"/>
<circle cx="97.5" cy="72.9" r="3.1" class="b"/>
<circle cx="68.2" cy="110.4" r="3.1" class="k"/>
<circle cx="24.5" cy="34.4" r="3.1" class="y"/>
<circle cx="106.1" cy="48.5" r="3.1" class="b"/>
<circle cx="83.1" cy="105.8" r="3.1" class="b"/>
<circle cx="82.5" cy="41.5" r="3.1" class="y"/>
<circle cx="85.9" cy="73.0" r="3.1" class="y"/>
<circle cx="64.8" cy="33.2" r="3.1" class="k"/>
<circle cx="99.7" cy="56.5" r="3.1" class="b"/>
<circle cx="106.8" cy="43.0" r="3.1" class="b"/>
<circle cx="45.1" cy="57.3" r="3.1" class="b"/>
<circle cx="88.2" cy="58.0" r="3.1" class="b"/>
<circle cx="87.1" cy="109.3" r="3.1" class="b"/>
<circle cx="45.1" cy="48.9" r="3.1" class="r"/>
<circle cx="48.7" cy="83.3" r="3.1" class="y"/>
<circle cx="109.8" cy="36.6" r="3.1" class="k"/>
<circle cx="112.1" cy="30.4" r="3.1" class="k"/>
<circle cx="55.5" cy="92.5" r="3.1" class="y"/>
<circle cx="50.7" cy="90.6" r="3.1" class="k"/>
<circle cx="55.5" cy="81.4" r="3.1" class="b"/>
<circle cx="60.5" cy="40.0" r="3.1" class="b"/>
<circle cx="72.4" cy="102.5" r="3.1" class="r"/>
<circle cx="76.6" cy="105.3" r="3.1" class="b"/>
<circle cx="99.3" cy="64.7" r="3.1" class="b"/>
<circle cx="103.7" cy="29.6" r="3.1" class="b"/>
<circle cx="31.3" cy="45.6" r="3.1" class="r"/>
<circle cx="68.1" cy="104.8" r="3.1" class="b"/>
<circle cx="38.6" cy="58.9" r="3.1" class="b"/>
<circle cx="60.0" cy="85.2" r="3.1" class="y"/>
<circle cx="53.2" cy="35.4" r="3.1" class="b"/>
<circle cx="86.6" cy="79.3" r="3.1" class="b"/>
<circle cx="81.8" cy="69.7" r="3.1" class="y"/>
<circle cx="83.8" cy="61.0" r="3.1" class="y"/>
<circle cx="53.0" cy="52.6" r="3.1" class="y"/>
<circle cx="44.9" cy="41.4" r="3.1" class="y"/>
<circle cx="79.5" cy="82.6" r="3.1" class="b"/>
<circle cx="64.4" cy="82.2" r="3.1" class="y"/>
<circle cx="54.7" cy="44.9" r="3.1" class="b"/>
<circle cx="59.3" cy="34.3" r="3.1" class="b"/>
<circle cx="63.3" cy="111.8" r="3.1" class="b"/>
<circle cx="91.2" cy="64.6" r="3.1" class="b"/>
<circle cx="95.6" cy="53.2" r="3.1" class="y"/>
<circle cx="32.8" cy="40.2" r="3.1" class="y"/>
<circle cx="40.9" cy="52.5" r="3.1" class="b"/>
<circle cx="95.9" cy="61.4" r="3.1" class="b"/>
<circle cx="29.9" cy="35.5" r="3.1" class="y"/>
<circle cx="75.0" cy="94.5" r="3.1" class="y"/>
<circle cx="47.3" cy="76.8" r="3.1" class="b"/>
<circle cx="64.7" cy="88.5" r="3.1" class="b"/>
<circle cx="42.9" cy="33.6" r="3.1" class="b"/>
<circle cx="41.9" cy="66.8" r="3.1" class="b"/>
<circle cx="50.2" cy="72.2" r="3.1" class="y"/>
<circle cx="68.8" cy="92.7" r="3.1" class="b"/>
<circle cx="90.0" cy="91.8" r="3.1" class="y"/>
<circle cx="96.8" cy="44.6" r="3.1" class="b"/>
<circle cx="96.3" cy="36.8" r="3.1" class="b"/>
<circle cx="94.5" cy="69.7" r="3.1" class="b"/>
<circle cx="65.5" cy="96.8" r="3.1" class="b"/>
<circle cx="88.9" cy="99.9" r="3.1" class="k"/>
<circle cx="89.5" cy="33.1" r="3.1" class="b"/>
<circle cx="44.6" cy="71.7" r="3.1" class="y"/>
<circle cx="35.5" cy="49.4" r="3.1" class="y"/>
<circle cx="68.8" cy="42.3" r="3.1" class="b"/>
<circle cx="91.8" cy="86.5" r="3.1" class="r"/>
<circle cx="87.3" cy="46.9" r="3.1" class="y"/>
<circle cx="86.6" cy="39.1" r="3.1" class="y"/>
<circle cx="75.8" cy="32.7" r="3.1" class="b"/>
<circle cx="80.4" cy="99.1" r="3.1" class="b"/>
<circle cx="54.5" cy="64.9" r="3.1" class="b"/>
<circle cx="64.1" cy="75.0" r="3.1" class="b"/>
<circle cx="78.2" cy="39.2" r="3.1" class="b"/>
<circle cx="77.9" cy="76.8" r="3.1" class="k"/>
<circle cx="35.8" cy="36.4" r="3.1" class="k"/>
<circle cx="49.0" cy="60.1" r="3.1" class="y"/>
<circle cx="60.5" cy="67.7" r="3.1" class="b"/>
<circle cx="58.2" cy="77.8" r="3.1" class="b"/>
<circle cx="61.0" cy="44.9" r="3.1" class="y"/>
<circle cx="72.8" cy="37.6" r="3.1" class="b"/>
<circle cx="86.7" cy="105.4" r="3.1" class="b"/>
<circle cx="108.2" cy="32.4" r="3.1" class="y"/>
<circle cx="48.4" cy="66.9" r="3.1" class="b"/>
<circle cx="43.0" cy="61.4" r="3.1" class="b"/>
<circle cx="100.5" cy="50.3" r="3.1" class="b"/>
<circle cx="52.3" cy="87.2" r="3.1" class="r"/>
<circle cx="54.9" cy="59.2" r="3.1" class="y"/>
<circle cx="81.2" cy="90.0" r="3.1" class="b"/>
<circle cx="57.7" cy="71.9" r="3.1" class="b"/>
<circle cx="81.0" cy="33.4" r="3.1" class="b"/>
<circle cx="38.1" cy="44.6" r="3.1" class="r"/>
<circle cx="81.0" cy="64.5" r="3.1" class="y"/>
<circle cx="85.9" cy="93.5" r="3.1" class="k"/>
<circle cx="93.8" cy="75.6" r="3.1" class="r"/>
<circle cx="103.4" cy="45.2" r="3.1" class="y"/>
<circle cx="82.5" cy="109.5" r="3.1" class="b"/>
<circle cx="49.8" cy="46.3" r="3.1" class="y"/>
<circle cx="75.9" cy="86.1" r="3.1" class="b"/>
<circle cx="87.3" cy="88.2" r="3.1" class="y"/>
<circle cx="70.4" cy="33.2" r="3.1" class="k"/>
<circle cx="65.0" cy="103.1" r="3.1" class="y"/>
<circle cx="90.5" cy="81.0" r="3.1" class="y"/>
<circle cx="93.4" cy="49.1" r="3.1" class="b"/>
<circle cx="80.9" cy="58.2" r="3.1" class="r"/>
<circle cx="71.1" cy="113.4" r="3.1" class="b"/>
<circle cx="76.7" cy="114.0" r="3.1" class="b"/>
<circle cx="58.7" cy="100.9" r="3.1" class="k"/>
<circle cx="58.2" cy="83.2" r="3.1" class="y"/>
<circle cx="101.3" cy="33.3" r="3.1" class="y"/>
<circle cx="87.4" cy="74.1" r="3.1" class="b"/>
<circle cx="43.7" cy="47.3" r="3.1" class="b"/>
<circle cx="85.1" cy="68.4" r="3.1" class="y"/>
<circle cx="94.0" cy="32.2" r="3.1" class="b"/>
<circle cx="62.2" cy="107.7" r="3.1" class="b"/>
<circle cx="103.8" cy="40.2" r="3.1" class="y"/>
<circle cx="70.1" cy="101.1" r="3.1" class="k"/>
<circle cx="75.3" cy="100.7" r="3.1" class="y"/>
<circle cx="87.8" cy="52.6" r="3.1" class="y"/>
<circle cx="90.3" cy="43.4" r="3.1" class="b"/>
<circle cx="67.4" cy="38.1" r="3.1" class="y"/>
<circle cx="60.0" cy="60.1" r="3.1" class="r"/>
<circle cx="60.1" cy="37.3" r="3.1" class="y"/>
<circle cx="83.0" cy="51.3" r="3.1" class="y"/>
<circle cx="80.5" cy="44.2" r="3.1" class="r"/>
<circle cx="67.5" cy="82.7" r="3.1" class="b"/>
<circle cx="52.0" cy="78.2" r="3.1" class="y"/>
<circle cx="55.9" cy="47.4" r="3.1" class="b"/>
<circle cx="55.5" cy="42.4" r="3.1" class="y"/>
<circle cx="62.1" cy="80.4" r="3.1" class="y"/>
<circle cx="73.2" cy="43.8" r="3.1" class="k"/>
<circle cx="67.5" cy="110.0" r="3.1" class="b"/>
<circle cx="44.3" cy="56.3" r="3.1" class="b"/>
<circle cx="52.4" cy="37.3" r="3.1" class="b"/>
<circle cx="51.3" cy="56.7" r="3.1" class="y"/>
<circle cx="92.8" cy="64.9" r="3.1" class="r"/>
<circle cx="64.7" cy="93.3" r="3.1" class="b"/>
<circle cx="52.7" cy="71.2" r="3.1" class="b"/>
<circle cx="43.8" cy="42.4" r="3.1" class="k"/>
<circle cx="75.4" cy="74.8" r="3.1" class="k"/>
<circle cx="58.4" cy="93.5" r="3.1" class="b"/>
<circle cx="89.0" cy="36.9" r="3.1" class="k"/>
<circle cx="48.2" cy="52.3" r="3.1" class="y"/>
<circle cx="99.3" cy="44.0" r="3.1" class="b"/>
<circle cx="87.7" cy="64.4" r="3.1" class="y"/>
<circle cx="76.2" cy="93.8" r="3.1" class="b"/>
<circle cx="75.6" cy="107.0" r="3.1" class="b"/>
<circle cx="91.8" cy="59.7" r="3.1" class="y"/>
<circle cx="96.6" cy="55.7" r="3.1" class="b"/>
<circle cx="82.7" cy="76.5" r="3.1" class="k"/>
<circle cx="70.9" cy="87.4" r="3.1" class="k"/>
<circle cx="82.3" cy="115.1" r="3.1" class="b"/>
<circle cx="83.8" cy="97.5" r="3.1" class="b"/>
<circle cx="67.1" cy="116.4" r="3.1" class="b"/>
<circle cx="83.8" cy="84.9" r="3.1" class="b"/>
<circle cx="46.5" cy="37.0" r="3.1" class="y"/>
<circle cx="78.1" cy="79.8" r="3.1" class="b"/>
<circle cx="85.4" cy="46.1" r="3.1" class="k"/>
<circle cx="71.1" cy="96.5" r="3.1" class="b"/>
<circle cx="33.4" cy="36.9" r="3.1" class="y"/>
<circle cx="41.6" cy="51.2" r="3.1" class="b"/>
<circle cx="56.8" cy="87.9" r="3.1" class="b"/>
<circle cx="92.4" cy="71.2" r="3.1" class="y"/>
<circle cx="63.0" cy="47.4" r="3.1" class="r"/>
<circle cx="58.6" cy="52.9" r="3.1" class="y"/>
<circle cx="84.4" cy="103.3" r="3.1" class="r"/>
<circle cx="61.2" cy="42.6" r="3.1" class="y"/>
<circle cx="62.0" cy="66.3" r="3.1" class="b"/>
<circle cx="86.4" cy="57.2" r="3.1" class="b"/>
<circle cx="77.6" cy="69.6" r="3.1" class="y"/>
<circle cx="37.2" cy="41.6" r="3.1" class="k"/>
<circle cx="39.5" cy="36.4" r="3.1" class="b"/>
<circle cx="97.7" cy="49.6" r="3.1" class="y"/>
<circle cx="79.0" cy="99.3" r="3.1" class="r"/>
<circle cx="84.5" cy="35.0" r="3.1" class="y"/>
<circle cx="69.0" cy="46.9" r="3.1" class="b"/>
<circle cx="55.8" cy="64.8" r="3.1" class="b"/>
<circle cx="66.9" cy="70.0" r="3.1" class="y"/>
<circle cx="62.4" cy="85.7" r="3.1" class="y"/>
<circle cx="70.2" cy="106.8" r="3.1" class="y"/>
<circle cx="77.2" cy="48.1" r="3.1" class="b"/>
<circle cx="69.4" cy="78.6" r="3.1" class="y"/>
<circle cx="59.2" cy="72.2" r="3.1" class="r"/>
<circle cx="86.1" cy="90.8" r="3.1" class="b"/>
<circle cx="62.6" cy="98.8" r="3.1" class="b"/>
<circle cx="55.6" cy="82.0" r="3.1" class="y"/>
<circle cx="78.9" cy="89.9" r="3.1" class="y"/>
<circle cx="79.3" cy="55.0" r="3.1" class="y"/>
<circle cx="72.0" cy="35.0" r="3.1" class="b"/>
<circle cx="48.7" cy="66.7" r="3.1" class="y"/>
<circle cx="97.0" cy="37.4" r="3.1" class="b"/>
<circle cx="51.3" cy="41.5" r="3.1" class="b"/>
<circle cx="91.6" cy="47.2" r="3.1" class="y"/>
<circle cx="55.7" cy="76.4" r="3.1" class="y"/>
<circle cx="53.5" cy="53.6" r="3.1" class="b"/>
<circle cx="94.7" cy="42.8" r="3.1" class="k"/>
<circle cx="82.4" cy="59.8" r="3.1" class="r"/>
<circle cx="60.2" cy="57.9" r="3.1" class="b"/>
<circle cx="85.7" cy="41.6" r="3.1" class="b"/>
<circle cx="76.5" cy="37.5" r="3.1" class="y"/>
<circle cx="48.3" cy="60.9" r="3.1" class="b"/>
<circle cx="57.7" cy="39.8" r="3.1" class="b"/>
<circle cx="72.1" cy="74.4" r="3.1" class="b"/>
<circle cx="65.2" cy="104.3" r="3.1" class="b"/>
<circle cx="74.6" cy="82.6" r="3.1" class="b"/>
<circle cx="87.1" cy="76.9" r="3.1" class="r"/>
<circle cx="101.5" cy="33.9" r="3.1" class="k"/>
<circle cx="82.5" cy="70.6" r="3.1" class="k"/>
<circle cx="71.5" cy="116.8" r="3.1" class="k"/>
<circle cx="60.1" cy="80.3" r="3.1" class="k"/>
<circle cx="54.8" cy="58.9" r="3.1" class="b"/>
<circle cx="74.0" cy="103.8" r="3.1" class="r"/>
<circle cx="77.4" cy="112.7" r="3.1" class="b"/>
<circle cx="54.9" cy="70.2" r="3.1" class="b"/>
<circle cx="83.5" cy="81.1" r="3.1" class="b"/>
<circle cx="70.0" cy="92.9" r="3.1" class="k"/>
<circle cx="80.8" cy="104.6" r="3.1" class="b"/>
<circle cx="92.8" cy="35.6" r="3.1" class="b"/>
<circle cx="64.5" cy="91.2" r="3.1" class="b"/>
<circle cx="62.1" cy="36.1" r="3.1" class="y"/>
<circle cx="41.9" cy="46.9" r="3.1" class="b"/>
<circle cx="59.9" cy="63.1" r="3.1" class="b"/>
<circle cx="83.7" cy="51.9" r="3.1" class="k"/>
<circle cx="47.9" cy="47.3" r="3.1" class="k"/>
<circle cx="46.6" cy="52.5" r="3.1" class="b"/>
<circle cx="82.0" cy="96.7" r="3.1" class="y"/>
<circle cx="74.6" cy="94.9" r="3.1" class="y"/>
<circle cx="92.3" cy="55.0" r="3.1" class="b"/>
<circle cx="77.2" cy="63.2" r="3.1" class="k"/>
<circle cx="63.2" cy="75.5" r="3.1" class="y"/>
<circle cx="73.6" cy="42.7" r="3.1" class="b"/>
<circle cx="54.2" cy="45.9" r="3.1" class="b"/>
<circle cx="67.3" cy="63.3" r="3.1" class="k"/>
<circle cx="83.2" cy="45.6" r="3.1" class="k"/>
<circle cx="68.5" cy="43.7" r="3.1" class="y"/>
<circle cx="84.4" cy="87.6" r="3.1" class="y"/>
<circle cx="82.4" cy="65.0" r="3.1" class="y"/>
<circle cx="75.6" cy="56.9" r="3.1" class="y"/>
<circle cx="88.2" cy="70.4" r="3.1" class="b"/>
<circle cx="57.6" cy="50.4" r="3.1" class="b"/>
<circle cx="59.3" cy="44.3" r="3.1" class="y"/>
<circle cx="88.1" cy="64.2" r="3.1" class="r"/>
<circle cx="71.3" cy="112.0" r="3.1" class="b"/>
<circle cx="70.8" cy="100.7" r="3.1" class="y"/>
<circle cx="64.4" cy="50.5" r="3.1" class="r"/>
<circle cx="41.0" cy="39.3" r="3.1" class="k"/>
<circle cx="69.7" cy="69.1" r="3.1" class="b"/>
<circle cx="65.0" cy="40.0" r="3.1" class="b"/>
<circle cx="69.0" cy="83.3" r="3.1" class="k"/>
<circle cx="49.7" cy="57.4" r="3.1" class="b"/>
<circle cx="87.5" cy="59.1" r="3.1" class="y"/>
<circle cx="54.7" cy="37.5" r="3.1" class="b"/>
<circle cx="77.9" cy="76.3" r="3.1" class="b"/>
<circle cx="46.5" cy="39.7" r="3.1" class="b"/>
<circle cx="63.5" cy="67.8" r="3.1" class="k"/>
<circle cx="76.7" cy="100.3" r="3.1" class="y"/>
<circle cx="75.5" cy="118.0" r="3.1" class="r"/>
<circle cx="79.6" cy="83.1" r="3.1" class="y"/>
<circle cx="94.6" cy="46.3" r="3.1" class="y"/>
<circle cx="88.8" cy="46.2" r="3.1" class="b"/>
<circle cx="77.0" cy="68.7" r="3.1" class="b"/>
<circle cx="76.5" cy="46.8" r="3.1" class="y"/>
<circle cx="54.8" cy="66.1" r="3.1" class="y"/>
<circle cx="80.0" cy="41.2" r="3.1" class="y"/>
<circle cx="82.2" cy="36.4" r="3.1" class="y"/>
<circle cx="95.5" cy="41.1" r="3.1" class="y"/>
<circle cx="70.0" cy="39.1" r="3.1" class="y"/>
<circle cx="73.5" cy="88.0" r="3.1" class="y"/>
<circle cx="69.9" cy="50.2" r="3.1" class="r"/>
<circle cx="80.9" cy="91.2" r="3.1" class="y"/>
<circle cx="58.1" cy="78.0" r="3.1" class="b"/>
<circle cx="86.8" cy="39.2" r="3.1" class="k"/>
<circle cx="51.1" cy="51.2" r="3.1" class="b"/>
<circle cx="77.6" cy="106.8" r="3.1" class="y"/>
<circle cx="61.9" cy="85.4" r="3.1" class="b"/>
<circle cx="85.5" cy="74.0" r="3.1" class="y"/>
<circle cx="72.6" cy="61.8" r="3.1" class="y"/>
<circle cx="87.0" cy="54.3" r="3.1" class="y"/>
<circle cx="75.7" cy="37.3" r="3.1" class="y"/>
<circle cx="57.4" cy="72.3" r="3.1" class="k"/>
<circle cx="72.5" cy="77.4" r="3.1" class="y"/>
<circle cx="82.3" cy="57.3" r="3.1" class="y"/>
<circle cx="68.8" cy="58.0" r="3.1" class="b"/>
<circle cx="59.4" cy="40.5" r="3.1" class="b"/>
<circle cx="63.6" cy="56.8" r="3.1" class="y"/>
<circle cx="67.6" cy="96.3" r="3.1" class="b"/>
<circle cx="76.5" cy="51.6" r="3.1" class="b"/>
<circle cx="82.3" cy="78.5" r="3.1" class="b"/>
<circle cx="91.0" cy="50.8" r="3.1" class="b"/>
<circle cx="59.5" cy="62.1" r="3.1" class="b"/>
<circle cx="73.6" cy="108.8" r="3.1" class="y"/>
<circle cx="59.6" cy="53.0" r="3.1" class="b"/>
<circle cx="52.4" cy="42.9" r="3.1" class="k"/>
<circle cx="61.7" cy="46.1" r="3.1" class="y"/>
<circle cx="55.7" cy="48.1" r="3.1" class="b"/>
<circle cx="85.0" cy="47.1" r="3.1" class="r"/>
<circle cx="95.6" cy="37.0" r="3.1" class="b"/>
<circle cx="73.9" cy="71.3" r="3.1" class="k"/>
<circle cx="66.3" cy="74.9" r="3.1" class="y"/>
<circle cx="68.7" cy="44.7" r="3.1" class="k"/>
<circle cx="76.9" cy="59.0" r="3.1" class="y"/>
<circle cx="46.1" cy="43.8" r="3.1" class="y"/>
<circle cx="54.4" cy="57.4" r="3.1" class="k"/>
<circle cx="84.3" cy="69.6" r="3.1" class="k"/>
<circle cx="64.8" cy="62.3" r="3.1" class="r"/>
<circle cx="77.2" cy="81.1" r="3.1" class="b"/>
<circle cx="69.6" cy="65.8" r="3.1" class="y"/>
<circle cx="66.3" cy="50.9" r="3.1" class="b"/>
<circle cx="61.1" cy="76.1" r="3.1" class="b"/>
<circle cx="82.7" cy="62.3" r="3.1" class="y"/>
<circle cx="77.3" cy="98.2" r="3.1" class="r"/>
<circle cx="91.3" cy="42.1" r="3.1" class="b"/>
<circle cx="64.8" cy="81.0" r="3.1" class="b"/>
<circle cx="72.5" cy="103.0" r="3.1" class="y"/>
<circle cx="67.7" cy="90.4" r="3.1" class="b"/>
<circle cx="80.1" cy="47.4" r="3.1" class="k"/>
<circle cx="77.7" cy="90.2" r="3.1" class="r"/>
<circle cx="65.4" cy="40.9" r="3.1" class="y"/>
<circle cx="73.4" cy="43.1" r="3.1" class="y"/>
<circle cx="74.0" cy="85.5" r="3.1" class="b"/>
<circle cx="73.7" cy="54.7" r="3.1" class="b"/>
<circle cx="78.8" cy="73.2" r="3.1" class="b"/>
<circle cx="77.8" cy="39.7" r="3.1" class="r"/>
<circle cx="52.0" cy="51.9" r="3.1" class="r"/>
<circle cx="70.9" cy="49.2" r="3.1" class="b"/>
<circle cx="85.7" cy="56.5" r="3.1" class="b"/>
<circle cx="80.8" cy="54.2" r="3.1" class="y"/>
<circle cx="83.0" cy="42.7" r="3.1" class="b"/>
<circle cx="61.6" cy="66.0" r="3.1" class="y"/>
<circle cx="71.3" cy="96.8" r="3.1" class="y"/>
<circle cx="60.1" cy="57.4" r="3.1" class="b"/>
<circle cx="70.2" cy="61.0" r="3.1" class="b"/>
<circle cx="57.5" cy="43.2" r="3.1" class="k"/>
<circle cx="85.5" cy="51.3" r="3.1" class="b"/>
<circle cx="62.8" cy="71.6" r="3.1" class="k"/>
<circle cx="77.3" cy="64.1" r="3.1" class="y"/>
<circle cx="76.0" cy="50.2" r="3.1" class="k"/>
<circle cx="61.1" cy="51.0" r="3.1" class="b"/>
<circle cx="87.4" cy="45.8" r="3.1" class="b"/>
<circle cx="68.0" cy="55.2" r="3.1" class="b"/>
<circle cx="70.7" cy="70.7" r="3.1" class="b"/>
<circle cx="73.7" cy="90.8" r="3.1" class="y"/>
<circle cx="69.4" cy="84.0" r="3.1" class="b"/>
<circle cx="73.3" cy="75.6" r="3.1" class="b"/>
<circle cx="89.1" cy="39.3" r="3.1" class="y"/>
<circle cx="55.8" cy="48.6" r="3.1" class="b"/>
<circle cx="65.7" cy="48.0" r="3.1" class="k"/>
<circle cx="81.4" cy="67.7" r="3.1" class="b"/>
<circle cx="69.3" cy="42.9" r="3.1" class="r"/>
<circle cx="77.9" cy="77.9" r="3.1" class="y"/>
<circle cx="51.4" cy="42.8" r="3.1" class="y"/>
<circle cx="66.9" cy="77.4" r="3.1" class="b"/>
<circle cx="75.5" cy="83.1" r="3.1" class="y"/>
<circle cx="64.0" cy="62.8" r="3.1" class="k"/>
<circle cx="79.6" cy="57.5" r="3.1" class="y"/>
<circle cx="72.9" cy="65.3" r="3.1" class="b"/>
<circle cx="63.9" cy="42.8" r="3.1" class="y"/>
<circle cx="81.2" cy="49.9" r="3.1" class="b"/>
<circle cx="76.7" cy="42.7" r="3.1" class="r"/>
<circle cx="72.7" cy="57.6" r="3.1" class="b"/>
<circle cx="57.2" cy="53.6" r="3.1" class="y"/>
<circle cx="80.9" cy="63.0" r="3.1" class="y"/>
<circle cx="71.6" cy="80.2" r="3.1" class="y"/>
<circle cx="70.9" cy="47.8" r="3.1" class="k"/>
<circle cx="77.0" cy="69.9" r="3.1" class="b"/>
<circle cx="69.4" cy="61.3" r="3.1" class="b"/>
<circle cx="66.7" cy="51.5" r="3.1" class="y"/>
<circle cx="56.9" cy="43.7" r="3.1" class="y"/>
<circle cx="65.4" cy="67.6" r="3.1" class="b"/>
<circle cx="73.6" cy="87.1" r="3.1" class="r"/>
<circle cx="61.4" cy="56.7" r="3.1" class="y"/>
<circle cx="75.6" cy="76.5" r="3.1" class="y"/>
<circle cx="72.0" cy="42.5" r="3.1" class="k"/>
<circle cx="83.8" cy="41.3" r="3.1" class="b"/>
<circle cx="60.6" cy="50.7" r="3.1" class="k"/>
<circle cx="77.7" cy="51.7" r="3.1" class="k"/>
<circle cx="69.9" cy="76.2" r="3.1" class="b"/>
<circle cx="65.0" cy="62.0" r="3.1" class="b"/>
<circle cx="71.6" cy="71.0" r="3.1" class="b"/>
<circle cx="76.4" cy="64.6" r="3.1" class="y"/>
<circle cx="77.8" cy="44.7" r="3.1" class="y"/>
<circle cx="77.8" cy="57.6" r="3.1" class="b"/>
<circle cx="73.3" cy="54.2" r="3.1" class="b"/>
<circle cx="63.5" cy="44.1" r="3.1" class="k"/>
<circle cx="70.0" cy="47.8" r="3.1" class="b"/>
<circle cx="71.7" cy="66.0" r="3.1" class="y"/>
<circle cx="66.8" cy="53.9" r="3.1" class="b"/>
<circle cx="64.8" cy="48.6" r="3.1" class="y"/>
<circle cx="76.4" cy="50.9" r="3.1" class="k"/>
<circle cx="68.9" cy="60.9" r="3.1" class="b"/>
<circle cx="73.4" cy="57.9" r="3.1" class="y"/>
<circle cx="73.7" cy="46.5" r="3.1" class="y"/>
<circle cx="68.4" cy="46.0" r="3.1" class="y"/>
<circle cx="72.1" cy="52.0" r="3.1" class="y"/>
<circle cx="71.9" cy="47.6" r="3.1" class="b"/>
<path d="M66.0 7.0L13.0 30.3L20.8 93.4L76.0 124.0L117.0 88.0L123.8 23.6Z" class="ed2"/>
</g>
<g class="c2">
<path d="M64.5 139.0L65.0 188.2M16.5 229.2L65.0 188.2L125.0 221.0" class="ed"/>
<path d="M65.7 149.1L23.7 169.0L27.7 221.1L75.1 245.4L113.6 214.8L116.0 163.3Z" class="bk"/>
<circle cx="63.8" cy="149.3" r="2.95" class="b"/>
<circle cx="69.0" cy="149.7" r="2.95" class="y"/>
<circle cx="62.6" cy="143.1" r="2.95" class="y"/>
<circle cx="64.5" cy="151.5" r="2.95" class="y"/>
<circle cx="67.5" cy="146.6" r="2.95" class="y"/>
<circle cx="58.5" cy="150.9" r="2.95" class="y"/>
<circle cx="62.6" cy="148.3" r="2.95" class="y"/>
<circle cx="75.6" cy="152.4" r="2.95" class="y"/>
<circle cx="69.6" cy="142.1" r="2.95" class="b"/>
<circle cx="70.0" cy="151.1" r="2.95" class="r"/>
<circle cx="58.8" cy="145.5" r="2.95" class="y"/>
<circle cx="75.0" cy="148.3" r="2.95" class="b"/>
<circle cx="57.4" cy="154.5" r="2.95" class="y"/>
<circle cx="54.9" cy="149.0" r="2.95" class="b"/>
<circle cx="62.7" cy="153.1" r="2.95" class="y"/>
<circle cx="65.5" cy="145.8" r="2.95" class="y"/>
<circle cx="78.1" cy="151.2" r="2.95" class="b"/>
<circle cx="71.4" cy="154.6" r="2.95" class="y"/>
<circle cx="67.7" cy="150.0" r="2.95" class="r"/>
<circle cx="53.4" cy="154.2" r="2.95" class="b"/>
<circle cx="60.5" cy="149.8" r="2.95" class="y"/>
<circle cx="71.0" cy="144.8" r="2.95" class="r"/>
<circle cx="57.1" cy="145.7" r="2.95" class="b"/>
<circle cx="77.7" cy="146.0" r="2.95" class="y"/>
<circle cx="73.2" cy="151.4" r="2.95" class="r"/>
<circle cx="65.7" cy="155.8" r="2.95" class="b"/>
<circle cx="51.1" cy="150.6" r="2.95" class="b"/>
<circle cx="56.1" cy="152.4" r="2.95" class="y"/>
<circle cx="59.1" cy="157.1" r="2.95" class="y"/>
<circle cx="78.8" cy="154.9" r="2.95" class="b"/>
<circle cx="85.0" cy="153.6" r="2.95" class="y"/>
<circle cx="62.4" cy="146.4" r="2.95" class="b"/>
<circle cx="50.1" cy="155.2" r="2.95" class="k"/>
<circle cx="65.8" cy="150.7" r="2.95" class="b"/>
<circle cx="76.9" cy="151.8" r="2.95" class="b"/>
<circle cx="83.5" cy="148.9" r="2.95" class="k"/>
<circle cx="67.9" cy="146.8" r="2.95" class="b"/>
<circle cx="113.4" cy="215.3" r="2.95" class="y"/>
<circle cx="55.3" cy="147.7" r="2.95" class="b"/>
<circle cx="49.3" cy="148.4" r="2.95" class="b"/>
<circle cx="69.8" cy="155.8" r="2.95" class="b"/>
<circle cx="53.8" cy="158.6" r="2.95" class="b"/>
<circle cx="28.1" cy="218.7" r="2.95" class="b"/>
<circle cx="59.9" cy="152.8" r="2.95" class="y"/>
<circle cx="45.5" cy="160.1" r="2.95" class="b"/>
<circle cx="24.2" cy="222.9" r="2.95" class="b"/>
<circle cx="113.2" cy="208.3" r="2.95" class="y"/>
<circle cx="87.9" cy="151.1" r="2.95" class="y"/>
<circle cx="77.6" cy="147.0" r="2.95" class="y"/>
<circle cx="78.2" cy="157.6" r="2.95" class="y"/>
<circle cx="72.4" cy="150.8" r="2.95" class="b"/>
<circle cx="61.5" cy="158.4" r="2.95" class="r"/>
<circle cx="91.1" cy="154.9" r="2.95" class="b"/>
<circle cx="83.6" cy="157.9" r="2.95" class="b"/>
<circle cx="81.5" cy="152.8" r="2.95" class="y"/>
<circle cx="109.9" cy="212.7" r="2.95" class="y"/>
<circle cx="61.0" cy="149.2" r="2.95" class="b"/>
<circle cx="49.4" cy="157.6" r="2.95" class="k"/>
<circle cx="118.2" cy="214.8" r="2.95" class="y"/>
<circle cx="47.0" cy="152.8" r="2.95" class="b"/>
<circle cx="71.8" cy="159.5" r="2.95" class="y"/>
<circle cx="113.3" cy="200.5" r="2.95" class="b"/>
<circle cx="66.6" cy="150.9" r="2.95" class="b"/>
<circle cx="39.6" cy="162.3" r="2.95" class="b"/>
<circle cx="25.6" cy="209.4" r="2.95" class="b"/>
<circle cx="110.9" cy="219.0" r="2.95" class="y"/>
<circle cx="53.0" cy="154.5" r="2.95" class="y"/>
<circle cx="31.9" cy="223.2" r="2.95" class="b"/>
<circle cx="85.8" cy="149.1" r="2.95" class="y"/>
<circle cx="51.3" cy="150.1" r="2.95" class="y"/>
<circle cx="111.0" cy="205.5" r="2.95" class="r"/>
<circle cx="76.6" cy="153.4" r="2.95" class="b"/>
<circle cx="64.9" cy="156.7" r="2.95" class="r"/>
<circle cx="71.0" cy="154.1" r="2.95" class="b"/>
<circle cx="43.1" cy="158.7" r="2.95" class="b"/>
<circle cx="74.1" cy="149.4" r="2.95" class="y"/>
<circle cx="78.6" cy="160.6" r="2.95" class="y"/>
<circle cx="26.5" cy="224.2" r="2.95" class="b"/>
<circle cx="25.5" cy="215.6" r="2.95" class="b"/>
<circle cx="88.8" cy="158.0" r="2.95" class="b"/>
<circle cx="31.4" cy="215.8" r="2.95" class="y"/>
<circle cx="21.5" cy="227.3" r="2.95" class="b"/>
<circle cx="116.9" cy="210.6" r="2.95" class="b"/>
<circle cx="96.9" cy="155.0" r="2.95" class="b"/>
<circle cx="106.1" cy="220.0" r="2.95" class="b"/>
<circle cx="49.4" cy="161.7" r="2.95" class="y"/>
<circle cx="63.8" cy="161.9" r="2.95" class="b"/>
<circle cx="20.7" cy="217.8" r="2.95" class="y"/>
<circle cx="58.5" cy="160.3" r="2.95" class="r"/>
<circle cx="42.5" cy="153.8" r="2.95" class="k"/>
<circle cx="97.2" cy="159.8" r="2.95" class="y"/>
<circle cx="93.3" cy="149.3" r="2.95" class="b"/>
<circle cx="114.4" cy="217.2" r="2.95" class="b"/>
<circle cx="80.3" cy="149.4" r="2.95" class="y"/>
<circle cx="87.9" cy="153.8" r="2.95" class="y"/>
<circle cx="22.6" cy="205.9" r="2.95" class="b"/>
<circle cx="18.6" cy="223.5" r="2.95" class="y"/>
<circle cx="109.9" cy="211.6" r="2.95" class="r"/>
<circle cx="119.1" cy="206.3" r="2.95" class="b"/>
<circle cx="121.0" cy="219.3" r="2.95" class="y"/>
<circle cx="60.0" cy="155.7" r="2.95" class="b"/>
<circle cx="36.8" cy="157.9" r="2.95" class="b"/>
<circle cx="59.0" cy="151.1" r="2.95" class="y"/>
<circle cx="71.6" cy="158.2" r="2.95" class="y"/>
<circle cx="116.2" cy="199.1" r="2.95" class="y"/>
<circle cx="25.0" cy="221.3" r="2.95" class="r"/>
<circle cx="36.9" cy="223.5" r="2.95" class="y"/>
<circle cx="50.5" cy="157.9" r="2.95" class="b"/>
<circle cx="31.3" cy="228.1" r="2.95" class="b"/>
<circle cx="48.0" cy="153.5" r="2.95" class="b"/>
<circle cx="114.4" cy="204.7" r="2.95" class="b"/>
<circle cx="110.8" cy="198.0" r="2.95" class="b"/>
<circle cx="68.5" cy="150.8" r="2.95" class="b"/>
<circle cx="81.1" cy="155.0" r="2.95" class="b"/>
<circle cx="40.2" cy="162.5" r="2.95" class="b"/>
<circle cx="27.7" cy="205.3" r="2.95" class="y"/>
<circle cx="31.1" cy="222.7" r="2.95" class="k"/>
<circle cx="33.6" cy="211.4" r="2.95" class="y"/>
<circle cx="19.5" cy="211.3" r="2.95" class="b"/>
<circle cx="25.2" cy="213.2" r="2.95" class="y"/>
<circle cx="74.0" cy="152.2" r="2.95" class="y"/>
<circle cx="101.1" cy="155.2" r="2.95" class="b"/>
<circle cx="23.8" cy="193.5" r="2.95" class="b"/>
<circle cx="33.6" cy="164.0" r="2.95" class="y"/>
<circle cx="83.3" cy="162.6" r="2.95" class="b"/>
<circle cx="93.1" cy="154.9" r="2.95" class="y"/>
<circle cx="108.3" cy="206.4" r="2.95" class="y"/>
<circle cx="45.4" cy="160.6" r="2.95" class="y"/>
<circle cx="107.4" cy="217.1" r="2.95" class="b"/>
<circle cx="37.8" cy="154.0" r="2.95" class="y"/>
<circle cx="24.7" cy="198.7" r="2.95" class="b"/>
<circle cx="119.4" cy="215.1" r="2.95" class="y"/>
<circle cx="25.3" cy="229.4" r="2.95" class="k"/>
<circle cx="55.8" cy="164.0" r="2.95" class="y"/>
<circle cx="104.6" cy="161.4" r="2.95" class="r"/>
<circle cx="94.2" cy="160.5" r="2.95" class="b"/>
<circle cx="77.1" cy="160.1" r="2.95" class="y"/>
<circle cx="67.2" cy="162.8" r="2.95" class="y"/>
<circle cx="53.6" cy="155.0" r="2.95" class="y"/>
<circle cx="42.2" cy="229.7" r="2.95" class="r"/>
<circle cx="115.6" cy="188.7" r="2.95" class="y"/>
<circle cx="104.4" cy="222.9" r="2.95" class="k"/>
<circle cx="113.6" cy="194.0" r="2.95" class="b"/>
<circle cx="118.2" cy="221.9" r="2.95" class="y"/>
<circle cx="120.0" cy="194.2" r="2.95" class="y"/>
<circle cx="90.4" cy="151.0" r="2.95" class="b"/>
<circle cx="35.4" cy="230.0" r="2.95" class="k"/>
<circle cx="65.9" cy="154.9" r="2.95" class="y"/>
<circle cx="19.6" cy="217.2" r="2.95" class="r"/>
<circle cx="64.0" cy="159.2" r="2.95" class="r"/>
<circle cx="119.5" cy="210.6" r="2.95" class="b"/>
<circle cx="84.7" cy="152.0" r="2.95" class="y"/>
<circle cx="56.7" cy="158.9" r="2.95" class="y"/>
<circle cx="113.5" cy="218.1" r="2.95" class="b"/>
<circle cx="32.7" cy="204.1" r="2.95" class="b"/>
<circle cx="107.3" cy="202.2" r="2.95" class="b"/>
<circle cx="23.0" cy="203.7" r="2.95" class="r"/>
<circle cx="110.1" cy="223.0" r="2.95" class="y"/>
<circle cx="32.9" cy="160.6" r="2.95" class="y"/>
<circle cx="100.9" cy="150.7" r="2.95" class="b"/>
<circle cx="35.1" cy="220.3" r="2.95" class="y"/>
<circle cx="61.7" cy="163.8" r="2.95" class="y"/>
<circle cx="50.1" cy="165.8" r="2.95" class="y"/>
<circle cx="72.8" cy="163.0" r="2.95" class="b"/>
<circle cx="22.4" cy="190.2" r="2.95" class="b"/>
<circle cx="104.5" cy="213.9" r="2.95" class="y"/>
<circle cx="40.5" cy="157.5" r="2.95" class="y"/>
<circle cx="29.4" cy="213.9" r="2.95" class="y"/>
<circle cx="27.5" cy="219.8" r="2.95" class="b"/>
<circle cx="17.5" cy="208.4" r="2.95" class="y"/>
<circle cx="122.0" cy="206.2" r="2.95" class="y"/>
<circle cx="31.7" cy="199.1" r="2.95" class="b"/>
<circle cx="37.3" cy="167.3" r="2.95" class="b"/>
<circle cx="105.8" cy="156.3" r="2.95" class="r"/>
<circle cx="25.8" cy="225.1" r="2.95" class="b"/>
<circle cx="60.0" cy="155.3" r="2.95" class="y"/>
<circle cx="69.6" cy="158.7" r="2.95" class="y"/>
<circle cx="48.3" cy="155.5" r="2.95" class="y"/>
<circle cx="27.8" cy="193.7" r="2.95" class="y"/>
<circle cx="98.1" cy="226.9" r="2.95" class="y"/>
<circle cx="87.9" cy="160.3" r="2.95" class="y"/>
<circle cx="32.9" cy="225.7" r="2.95" class="b"/>
<circle cx="100.3" cy="157.8" r="2.95" class="y"/>
<circle cx="38.6" cy="216.6" r="2.95" class="y"/>
<circle cx="17.9" cy="201.6" r="2.95" class="y"/>
<circle cx="95.7" cy="153.7" r="2.95" class="y"/>
<circle cx="114.4" cy="209.6" r="2.95" class="b"/>
<circle cx="120.2" cy="190.2" r="2.95" class="y"/>
<circle cx="29.3" cy="208.2" r="2.95" class="r"/>
<circle cx="27.1" cy="168.4" r="2.95" class="k"/>
<circle cx="43.6" cy="223.6" r="2.95" class="y"/>
<circle cx="23.1" cy="209.2" r="2.95" class="y"/>
<circle cx="84.7" cy="156.8" r="2.95" class="b"/>
<circle cx="30.4" cy="230.5" r="2.95" class="b"/>
<circle cx="43.3" cy="165.4" r="2.95" class="b"/>
<circle cx="37.6" cy="162.9" r="2.95" class="y"/>
<circle cx="70.9" cy="153.7" r="2.95" class="y"/>
<circle cx="121.1" cy="200.9" r="2.95" class="y"/>
<circle cx="24.7" cy="186.4" r="2.95" class="b"/>
<circle cx="76.3" cy="154.8" r="2.95" class="b"/>
<circle cx="114.4" cy="181.1" r="2.95" class="y"/>
<circle cx="111.7" cy="187.6" r="2.95" class="y"/>
<circle cx="80.8" cy="163.8" r="2.95" class="b"/>
<circle cx="117.6" cy="186.1" r="2.95" class="y"/>
<circle cx="114.4" cy="202.2" r="2.95" class="b"/>
<circle cx="102.8" cy="162.0" r="2.95" class="y"/>
<circle cx="46.1" cy="232.3" r="2.95" class="y"/>
<circle cx="48.3" cy="161.9" r="2.95" class="b"/>
<circle cx="111.1" cy="216.2" r="2.95" class="y"/>
<circle cx="114.2" cy="173.8" r="2.95" class="y"/>
<circle cx="104.7" cy="206.0" r="2.95" class="y"/>
<circle cx="100.9" cy="212.9" r="2.95" class="y"/>
<circle cx="107.1" cy="198.7" r="2.95" class="y"/>
<circle cx="20.2" cy="195.6" r="2.95" class="y"/>
<circle cx="94.7" cy="163.3" r="2.95" class="b"/>
<circle cx="55.7" cy="162.4" r="2.95" class="b"/>
<circle cx="75.9" cy="159.5" r="2.95" class="y"/>
<circle cx="98.9" cy="221.4" r="2.95" class="y"/>
<circle cx="108.0" cy="210.2" r="2.95" class="y"/>
<circle cx="38.2" cy="226.4" r="2.95" class="r"/>
<circle cx="117.0" cy="215.6" r="2.95" class="y"/>
<circle cx="108.4" cy="160.2" r="2.95" class="b"/>
<circle cx="106.3" cy="151.9" r="2.95" class="r"/>
<circle cx="26.8" cy="203.2" r="2.95" class="r"/>
<circle cx="22.1" cy="214.7" r="2.95" class="r"/>
<circle cx="124.4" cy="193.9" r="2.95" class="b"/>
<circle cx="39.0" cy="232.7" r="2.95" class="y"/>
<circle cx="75.7" cy="166.1" r="2.95" class="b"/>
<circle cx="115.2" cy="196.2" r="2.95" class="b"/>
<circle cx="53.9" cy="166.8" r="2.95" class="y"/>
<circle cx="25.9" cy="198.1" r="2.95" class="b"/>
<circle cx="37.7" cy="209.4" r="2.95" class="y"/>
<circle cx="23.1" cy="174.6" r="2.95" class="b"/>
<circle cx="117.9" cy="177.8" r="2.95" class="b"/>
<circle cx="52.6" cy="158.1" r="2.95" class="b"/>
<circle cx="113.8" cy="223.5" r="2.95" class="b"/>
<circle cx="91.4" cy="153.4" r="2.95" class="b"/>
<circle cx="34.5" cy="156.4" r="2.95" class="r"/>
<circle cx="33.9" cy="235.0" r="2.95" class="b"/>
<circle cx="32.2" cy="193.3" r="2.95" class="b"/>
<circle cx="19.4" cy="206.8" r="2.95" class="y"/>
<circle cx="68.4" cy="165.2" r="2.95" class="y"/>
<circle cx="109.3" cy="203.7" r="2.95" class="b"/>
<circle cx="19.7" cy="189.3" r="2.95" class="b"/>
<circle cx="32.6" cy="205.8" r="2.95" class="y"/>
<circle cx="62.1" cy="159.3" r="2.95" class="y"/>
<circle cx="106.1" cy="191.9" r="2.95" class="y"/>
<circle cx="60.4" cy="165.0" r="2.95" class="y"/>
<circle cx="42.5" cy="219.3" r="2.95" class="r"/>
<circle cx="111.0" cy="193.8" r="2.95" class="k"/>
<circle cx="27.2" cy="190.6" r="2.95" class="y"/>
<circle cx="110.9" cy="229.4" r="2.95" class="y"/>
<circle cx="57.8" cy="155.9" r="2.95" class="b"/>
<circle cx="120.4" cy="197.6" r="2.95" class="b"/>
<circle cx="42.3" cy="156.4" r="2.95" class="y"/>
<circle cx="23.0" cy="179.6" r="2.95" class="b"/>
<circle cx="28.5" cy="219.0" r="2.95" class="b"/>
<circle cx="105.0" cy="221.7" r="2.95" class="k"/>
<circle cx="29.4" cy="165.5" r="2.95" class="b"/>
<circle cx="82.0" cy="160.1" r="2.95" class="y"/>
<circle cx="68.6" cy="157.8" r="2.95" class="b"/>
<circle cx="31.2" cy="199.1" r="2.95" class="k"/>
<circle cx="20.3" cy="184.6" r="2.95" class="y"/>
<circle cx="117.9" cy="205.6" r="2.95" class="y"/>
<circle cx="31.5" cy="224.5" r="2.95" class="b"/>
<circle cx="99.9" cy="206.5" r="2.95" class="y"/>
<circle cx="98.8" cy="230.8" r="2.95" class="y"/>
<circle cx="34.6" cy="230.1" r="2.95" class="b"/>
<circle cx="81.1" cy="155.2" r="2.95" class="y"/>
<circle cx="110.4" cy="164.2" r="2.95" class="y"/>
<circle cx="26.2" cy="210.1" r="2.95" class="y"/>
<circle cx="87.9" cy="162.5" r="2.95" class="y"/>
<circle cx="105.1" cy="228.2" r="2.95" class="b"/>
<circle cx="92.7" cy="159.7" r="2.95" class="y"/>
<circle cx="27.9" cy="184.2" r="2.95" class="r"/>
<circle cx="94.1" cy="223.7" r="2.95" class="b"/>
<circle cx="123.5" cy="189.4" r="2.95" class="b"/>
<circle cx="37.9" cy="166.9" r="2.95" class="b"/>
<circle cx="33.5" cy="214.4" r="2.95" class="y"/>
<circle cx="99.8" cy="157.4" r="2.95" class="y"/>
<circle cx="74.2" cy="156.7" r="2.95" class="k"/>
<circle cx="118.1" cy="191.6" r="2.95" class="y"/>
<circle cx="28.6" cy="158.7" r="2.95" class="b"/>
<circle cx="46.7" cy="159.3" r="2.95" class="y"/>
<circle cx="48.4" cy="223.2" r="2.95" class="y"/>
<circle cx="38.9" cy="214.8" r="2.95" class="y"/>
<circle cx="119.8" cy="173.2" r="2.95" class="b"/>
<circle cx="20.1" cy="202.4" r="2.95" class="y"/>
<circle cx="108.5" cy="180.8" r="2.95" class="y"/>
<circle cx="24.1" cy="167.0" r="2.95" class="b"/>
<circle cx="35.4" cy="220.6" r="2.95" class="b"/>
<circle cx="114.3" cy="168.3" r="2.95" class="y"/>
<circle cx="38.2" cy="159.9" r="2.95" class="r"/>
<circle cx="95.6" cy="216.7" r="2.95" class="y"/>
<circle cx="97.8" cy="162.2" r="2.95" class="y"/>
<circle cx="109.9" cy="224.8" r="2.95" class="y"/>
<circle cx="36.7" cy="195.2" r="2.95" class="b"/>
<circle cx="122.9" cy="183.8" r="2.95" class="b"/>
<circle cx="83.8" cy="167.2" r="2.95" class="k"/>
<circle cx="105.7" cy="162.9" r="2.95" class="y"/>
<circle cx="15.7" cy="192.9" r="2.95" class="b"/>
<circle cx="44.2" cy="163.4" r="2.95" class="y"/>
<circle cx="38.9" cy="200.1" r="2.95" class="b"/>
<circle cx="43.9" cy="236.0" r="2.95" class="r"/>
<circle cx="110.6" cy="156.5" r="2.95" class="b"/>
<circle cx="50.7" cy="169.4" r="2.95" class="b"/>
<circle cx="42.2" cy="206.2" r="2.95" class="r"/>
<circle cx="42.5" cy="225.8" r="2.95" class="b"/>
<circle cx="103.2" cy="200.0" r="2.95" class="b"/>
<circle cx="23.5" cy="160.6" r="2.95" class="y"/>
<circle cx="110.7" cy="199.5" r="2.95" class="y"/>
<circle cx="64.7" cy="167.4" r="2.95" class="y"/>
<circle cx="112.2" cy="208.1" r="2.95" class="y"/>
<circle cx="76.7" cy="161.9" r="2.95" class="b"/>
<circle cx="37.8" cy="236.3" r="2.95" class="b"/>
<circle cx="51.8" cy="236.2" r="2.95" class="y"/>
<circle cx="46.3" cy="217.9" r="2.95" class="y"/>
<circle cx="89.1" cy="156.7" r="2.95" class="y"/>
<circle cx="110.1" cy="174.6" r="2.95" class="y"/>
<circle cx="112.2" cy="214.8" r="2.95" class="y"/>
<circle cx="91.3" cy="166.0" r="2.95" class="y"/>
<circle cx="105.2" cy="213.4" r="2.95" class="b"/>
<circle cx="24.3" cy="172.3" r="2.95" class="k"/>
<circle cx="97.9" cy="211.6" r="2.95" class="y"/>
<circle cx="33.2" cy="170.3" r="2.95" class="y"/>
<circle cx="48.6" cy="230.4" r="2.95" class="y"/>
<circle cx="94.8" cy="155.2" r="2.95" class="y"/>
<circle cx="74.6" cy="167.7" r="2.95" class="b"/>
<circle cx="42.9" cy="168.8" r="2.95" class="b"/>
<circle cx="93.1" cy="229.4" r="2.95" class="b"/>
<circle cx="105.4" cy="187.1" r="2.95" class="y"/>
<circle cx="57.5" cy="163.6" r="2.95" class="b"/>
<circle cx="105.4" cy="207.3" r="2.95" class="y"/>
<circle cx="116.2" cy="177.0" r="2.95" class="y"/>
<circle cx="24.1" cy="187.7" r="2.95" class="k"/>
<circle cx="20.9" cy="176.7" r="2.95" class="b"/>
<circle cx="113.0" cy="187.3" r="2.95" class="y"/>
<circle cx="116.7" cy="200.6" r="2.95" class="y"/>
<circle cx="119.8" cy="168.7" r="2.95" class="y"/>
<circle cx="34.1" cy="190.3" r="2.95" class="b"/>
<circle cx="24.7" cy="205.6" r="2.95" class="r"/>
<circle cx="44.2" cy="212.7" r="2.95" class="b"/>
<circle cx="31.8" cy="211.1" r="2.95" class="b"/>
<circle cx="100.3" cy="221.1" r="2.95" class="b"/>
<circle cx="52.5" cy="157.6" r="2.95" class="b"/>
<circle cx="120.1" cy="181.0" r="2.95" class="b"/>
<circle cx="68.2" cy="162.0" r="2.95" class="y"/>
<circle cx="28.4" cy="196.6" r="2.95" class="b"/>
<circle cx="38.0" cy="231.4" r="2.95" class="b"/>
<circle cx="83.9" cy="157.7" r="2.95" class="b"/>
<circle cx="92.2" cy="221.4" r="2.95" class="b"/>
<circle cx="103.9" cy="195.1" r="2.95" class="b"/>
<circle cx="52.0" cy="163.9" r="2.95" class="y"/>
<circle cx="33.8" cy="199.2" r="2.95" class="b"/>
<circle cx="101.8" cy="154.8" r="2.95" class="y"/>
<circle cx="21.2" cy="197.5" r="2.95" class="y"/>
<circle cx="96.9" cy="167.8" r="2.95" class="b"/>
<circle cx="37.2" cy="206.4" r="2.95" class="r"/>
<circle cx="33.8" cy="226.5" r="2.95" class="b"/>
<circle cx="18.6" cy="171.8" r="2.95" class="y"/>
<circle cx="113.3" cy="161.8" r="2.95" class="y"/>
<circle cx="60.6" cy="170.0" r="2.95" class="y"/>
<circle cx="99.7" cy="229.0" r="2.95" class="y"/>
<circle cx="119.6" cy="163.7" r="2.95" class="y"/>
<circle cx="30.8" cy="217.9" r="2.95" class="y"/>
<circle cx="103.1" cy="160.3" r="2.95" class="b"/>
<circle cx="114.6" cy="154.1" r="2.95" class="b"/>
<circle cx="28.0" cy="168.7" r="2.95" class="b"/>
<circle cx="27.5" cy="176.6" r="2.95" class="b"/>
<circle cx="103.2" cy="167.9" r="2.95" class="y"/>
<circle cx="68.0" cy="157.4" r="2.95" class="y"/>
<circle cx="31.9" cy="164.2" r="2.95" class="y"/>
<circle cx="63.3" cy="164.1" r="2.95" class="y"/>
<circle cx="58.1" cy="237.7" r="2.95" class="b"/>
<circle cx="125.2" cy="177.1" r="2.95" class="y"/>
<circle cx="88.5" cy="235.6" r="2.95" class="y"/>
<circle cx="24.6" cy="181.2" r="2.95" class="y"/>
<circle cx="101.6" cy="190.4" r="2.95" class="b"/>
<circle cx="39.0" cy="212.6" r="2.95" class="y"/>
<circle cx="61.6" cy="159.0" r="2.95" class="b"/>
<circle cx="108.8" cy="191.0" r="2.95" class="y"/>
<circle cx="40.1" cy="164.6" r="2.95" class="y"/>
<circle cx="17.7" cy="188.9" r="2.95" class="y"/>
<circle cx="38.4" cy="171.7" r="2.95" class="r"/>
<circle cx="114.6" cy="193.3" r="2.95" class="y"/>
<circle cx="95.1" cy="163.2" r="2.95" class="y"/>
<circle cx="106.0" cy="228.3" r="2.95" class="k"/>
<circle cx="52.3" cy="221.1" r="2.95" class="y"/>
<circle cx="81.3" cy="164.8" r="2.95" class="b"/>
<circle cx="31.4" cy="186.6" r="2.95" class="y"/>
<circle cx="100.6" cy="206.7" r="2.95" class="y"/>
<circle cx="104.9" cy="182.7" r="2.95" class="b"/>
<circle cx="41.0" cy="240.0" r="2.95" class="r"/>
<circle cx="118.2" cy="186.0" r="2.95" class="b"/>
<circle cx="22.5" cy="167.0" r="2.95" class="y"/>
<circle cx="96.9" cy="225.1" r="2.95" class="b"/>
<circle cx="47.5" cy="167.5" r="2.95" class="y"/>
<circle cx="100.0" cy="235.2" r="2.95" class="y"/>
<circle cx="117.9" cy="158.8" r="2.95" class="b"/>
<circle cx="94.4" cy="207.8" r="2.95" class="b"/>
<circle cx="48.1" cy="225.8" r="2.95" class="b"/>
<circle cx="110.2" cy="181.0" r="2.95" class="b"/>
<circle cx="54.8" cy="227.0" r="2.95" class="y"/>
<circle cx="44.2" cy="234.2" r="2.95" class="b"/>
<circle cx="99.7" cy="199.6" r="2.95" class="b"/>
<circle cx="23.9" cy="193.0" r="2.95" class="k"/>
<circle cx="55.9" cy="233.2" r="2.95" class="b"/>
<circle cx="35.9" cy="183.8" r="2.95" class="b"/>
<circle cx="97.2" cy="216.5" r="2.95" class="y"/>
<circle cx="73.4" cy="157.9" r="2.95" class="y"/>
<circle cx="32.9" cy="204.5" r="2.95" class="b"/>
<circle cx="16.3" cy="184.2" r="2.95" class="y"/>
<circle cx="112.8" cy="205.7" r="2.95" class="y"/>
<circle cx="49.6" cy="214.6" r="2.95" class="y"/>
<circle cx="37.8" cy="159.7" r="2.95" class="y"/>
<circle cx="110.8" cy="211.2" r="2.95" class="b"/>
<circle cx="15.8" cy="178.9" r="2.95" class="k"/>
<circle cx="42.9" cy="218.9" r="2.95" class="b"/>
<circle cx="88.4" cy="160.0" r="2.95" class="y"/>
<circle cx="30.1" cy="160.1" r="2.95" class="y"/>
<circle cx="21.3" cy="160.7" r="2.95" class="k"/>
<circle cx="112.7" cy="173.7" r="2.95" class="k"/>
<circle cx="30.3" cy="192.3" r="2.95" class="b"/>
<circle cx="71.7" cy="170.2" r="2.95" class="y"/>
<circle cx="38.1" cy="197.6" r="2.95" class="b"/>
<circle cx="109.8" cy="167.6" r="2.95" class="b"/>
<circle cx="38.1" cy="221.2" r="2.95" class="y"/>
<circle cx="79.1" cy="157.6" r="2.95" class="b"/>
<circle cx="66.6" cy="168.0" r="2.95" class="y"/>
<circle cx="115.9" cy="180.9" r="2.95" class="y"/>
<circle cx="50.4" cy="172.2" r="2.95" class="y"/>
<circle cx="112.4" cy="199.0" r="2.95" class="y"/>
<circle cx="108.1" cy="221.9" r="2.95" class="b"/>
<circle cx="122.5" cy="172.3" r="2.95" class="b"/>
<circle cx="106.2" cy="174.3" r="2.95" class="y"/>
<circle cx="92.3" cy="213.1" r="2.95" class="b"/>
<circle cx="44.2" cy="161.5" r="2.95" class="y"/>
<circle cx="48.5" cy="208.3" r="2.95" class="y"/>
<circle cx="87.9" cy="167.5" r="2.95" class="y"/>
<circle cx="51.1" cy="230.9" r="2.95" class="b"/>
<circle cx="94.1" cy="236.2" r="2.95" class="y"/>
<circle cx="28.3" cy="207.4" r="2.95" class="r"/>
<circle cx="43.3" cy="205.7" r="2.95" class="b"/>
<circle cx="30.0" cy="181.1" r="2.95" class="y"/>
<circle cx="106.0" cy="216.8" r="2.95" class="b"/>
<circle cx="107.6" cy="202.8" r="2.95" class="y"/>
<circle cx="43.7" cy="172.5" r="2.95" class="r"/>
<circle cx="55.2" cy="169.6" r="2.95" class="y"/>
<circle cx="40.6" cy="193.3" r="2.95" class="b"/>
<circle cx="106.2" cy="209.6" r="2.95" class="b"/>
<circle cx="107.8" cy="163.4" r="2.95" class="y"/>
<circle cx="92.7" cy="229.1" r="2.95" class="y"/>
<circle cx="82.5" cy="169.8" r="2.95" class="y"/>
<circle cx="112.9" cy="185.3" r="2.95" class="b"/>
<circle cx="32.3" cy="169.5" r="2.95" class="y"/>
<circle cx="25.1" cy="173.7" r="2.95" class="b"/>
<circle cx="100.1" cy="186.3" r="2.95" class="b"/>
<circle cx="57.0" cy="159.1" r="2.95" class="y"/>
<circle cx="40.0" cy="230.6" r="2.95" class="b"/>
<circle cx="117.6" cy="175.7" r="2.95" class="b"/>
<circle cx="102.2" cy="225.4" r="2.95" class="r"/>
<circle cx="105.4" cy="188.2" r="2.95" class="k"/>
<circle cx="119.7" cy="168.2" r="2.95" class="b"/>
<circle cx="50.3" cy="160.0" r="2.95" class="y"/>
<circle cx="17.4" cy="163.5" r="2.95" class="b"/>
<circle cx="99.2" cy="194.7" r="2.95" class="b"/>
<circle cx="125.1" cy="163.9" r="2.95" class="y"/>
<circle cx="21.8" cy="185.3" r="2.95" class="y"/>
<circle cx="31.3" cy="174.5" r="2.95" class="b"/>
<circle cx="94.7" cy="167.4" r="2.95" class="y"/>
<circle cx="92.7" cy="222.2" r="2.95" class="y"/>
<circle cx="106.0" cy="194.7" r="2.95" class="b"/>
<circle cx="113.2" cy="190.8" r="2.95" class="y"/>
<circle cx="45.8" cy="241.8" r="2.95" class="y"/>
<circle cx="26.1" cy="163.9" r="2.95" class="y"/>
<circle cx="36.3" cy="180.0" r="2.95" class="y"/>
<circle cx="122.5" cy="157.5" r="2.95" class="y"/>
<circle cx="96.0" cy="157.4" r="2.95" class="y"/>
<circle cx="57.5" cy="164.0" r="2.95" class="y"/>
<circle cx="60.9" cy="172.5" r="2.95" class="y"/>
<circle cx="104.4" cy="179.4" r="2.95" class="b"/>
<circle cx="39.6" cy="188.4" r="2.95" class="b"/>
<circle cx="61.4" cy="235.8" r="2.95" class="y"/>
<circle cx="83.5" cy="160.6" r="2.95" class="y"/>
<circle cx="108.0" cy="157.4" r="2.95" class="b"/>
<circle cx="114.5" cy="161.6" r="2.95" class="y"/>
<circle cx="100.9" cy="162.3" r="2.95" class="y"/>
<circle cx="42.7" cy="211.3" r="2.95" class="y"/>
<circle cx="35.1" cy="165.4" r="2.95" class="y"/>
<circle cx="66.5" cy="162.9" r="2.95" class="b"/>
<circle cx="51.1" cy="164.9" r="2.95" class="r"/>
<circle cx="92.0" cy="162.7" r="2.95" class="y"/>
<circle cx="103.0" cy="232.4" r="2.95" class="r"/>
<circle cx="86.5" cy="234.5" r="2.95" class="b"/>
<circle cx="72.6" cy="166.6" r="2.95" class="y"/>
<circle cx="64.2" cy="241.3" r="2.95" class="y"/>
<circle cx="96.0" cy="205.1" r="2.95" class="k"/>
<circle cx="37.4" cy="214.2" r="2.95" class="y"/>
<circle cx="103.5" cy="199.9" r="2.95" class="y"/>
<circle cx="43.4" cy="225.3" r="2.95" class="b"/>
<circle cx="45.3" cy="196.6" r="2.95" class="b"/>
<circle cx="35.2" cy="200.6" r="2.95" class="b"/>
<circle cx="99.7" cy="214.5" r="2.95" class="b"/>
<circle cx="18.1" cy="173.8" r="2.95" class="b"/>
<circle cx="37.0" cy="173.2" r="2.95" class="b"/>
<circle cx="32.9" cy="208.9" r="2.95" class="y"/>
<circle cx="58.7" cy="241.6" r="2.95" class="b"/>
<circle cx="82.6" cy="240.0" r="2.95" class="y"/>
<circle cx="50.4" cy="237.7" r="2.95" class="b"/>
<circle cx="114.6" cy="170.6" r="2.95" class="k"/>
<circle cx="40.6" cy="183.3" r="2.95" class="y"/>
<circle cx="27.4" cy="187.0" r="2.95" class="y"/>
<circle cx="60.2" cy="229.0" r="2.95" class="y"/>
<circle cx="78.2" cy="167.9" r="2.95" class="b"/>
<circle cx="29.2" cy="201.0" r="2.95" class="b"/>
<circle cx="99.0" cy="170.5" r="2.95" class="y"/>
<circle cx="54.7" cy="218.0" r="2.95" class="b"/>
<circle cx="94.2" cy="197.6" r="2.95" class="b"/>
<circle cx="89.0" cy="217.6" r="2.95" class="b"/>
<circle cx="105.2" cy="168.4" r="2.95" class="b"/>
<circle cx="58.2" cy="222.7" r="2.95" class="y"/>
<circle cx="42.4" cy="165.7" r="2.95" class="b"/>
<circle cx="101.6" cy="219.9" r="2.95" class="b"/>
<circle cx="40.3" cy="219.2" r="2.95" class="b"/>
<circle cx="73.3" cy="172.4" r="2.95" class="y"/>
<circle cx="49.1" cy="222.7" r="2.95" class="b"/>
<circle cx="95.4" cy="192.3" r="2.95" class="y"/>
<circle cx="98.2" cy="232.1" r="2.95" class="y"/>
<circle cx="13.5" cy="168.0" r="2.95" class="b"/>
<circle cx="23.9" cy="177.7" r="2.95" class="y"/>
<circle cx="115.2" cy="157.4" r="2.95" class="b"/>
<circle cx="40.1" cy="197.7" r="2.95" class="y"/>
<circle cx="93.6" cy="211.6" r="2.95" class="b"/>
<circle cx="100.3" cy="208.5" r="2.95" class="y"/>
<circle cx="46.4" cy="216.4" r="2.95" class="k"/>
<circle cx="29.0" cy="195.0" r="2.95" class="y"/>
<circle cx="51.3" cy="204.7" r="2.95" class="b"/>
<circle cx="109.1" cy="175.5" r="2.95" class="y"/>
<circle cx="91.2" cy="206.7" r="2.95" class="b"/>
<circle cx="51.1" cy="169.9" r="2.95" class="y"/>
<circle cx="50.6" cy="212.6" r="2.95" class="b"/>
<circle cx="76.8" cy="161.3" r="2.95" class="y"/>
<circle cx="112.2" cy="197.1" r="2.95" class="y"/>
<circle cx="44.9" cy="234.8" r="2.95" class="y"/>
<circle cx="46.9" cy="174.3" r="2.95" class="b"/>
<circle cx="87.8" cy="168.9" r="2.95" class="b"/>
<circle cx="38.7" cy="205.1" r="2.95" class="y"/>
<circle cx="105.8" cy="213.9" r="2.95" class="b"/>
<circle cx="106.7" cy="206.0" r="2.95" class="y"/>
<circle cx="101.8" cy="158.3" r="2.95" class="y"/>
<circle cx="23.2" cy="170.5" r="2.95" class="b"/>
<circle cx="47.1" cy="229.5" r="2.95" class="b"/>
<circle cx="38.0" cy="162.0" r="2.95" class="b"/>
<circle cx="96.5" cy="218.7" r="2.95" class="k"/>
<circle cx="116.2" cy="183.7" r="2.95" class="y"/>
<circle cx="100.8" cy="191.3" r="2.95" class="b"/>
<circle cx="64.9" cy="166.9" r="2.95" class="y"/>
<circle cx="68.2" cy="170.8" r="2.95" class="y"/>
<circle cx="97.8" cy="182.6" r="2.95" class="b"/>
<circle cx="87.4" cy="227.0" r="2.95" class="y"/>
<circle cx="99.0" cy="226.0" r="2.95" class="b"/>
<circle cx="115.2" cy="175.4" r="2.95" class="b"/>
<circle cx="34.1" cy="192.8" r="2.95" class="y"/>
<circle cx="54.2" cy="228.5" r="2.95" class="y"/>
<circle cx="88.0" cy="159.9" r="2.95" class="y"/>
<circle cx="22.9" cy="182.8" r="2.95" class="b"/>
<circle cx="120.2" cy="162.4" r="2.95" class="y"/>
<circle cx="93.6" cy="227.6" r="2.95" class="b"/>
<circle cx="81.8" cy="235.1" r="2.95" class="y"/>
<circle cx="109.0" cy="181.3" r="2.95" class="b"/>
<circle cx="50.4" cy="243.7" r="2.95" class="y"/>
<circle cx="58.1" cy="234.7" r="2.95" class="y"/>
<circle cx="109.7" cy="187.3" r="2.95" class="y"/>
<circle cx="82.5" cy="170.2" r="2.95" class="k"/>
<circle cx="94.5" cy="160.0" r="2.95" class="y"/>
<circle cx="45.9" cy="204.2" r="2.95" class="b"/>
<circle cx="119.4" cy="169.0" r="2.95" class="y"/>
<circle cx="45.2" cy="190.6" r="2.95" class="b"/>
<circle cx="97.7" cy="239.8" r="2.95" class="y"/>
<circle cx="21.9" cy="163.7" r="2.95" class="y"/>
<circle cx="107.3" cy="197.2" r="2.95" class="k"/>
<circle cx="38.1" cy="169.8" r="2.95" class="b"/>
<circle cx="110.4" cy="169.9" r="2.95" class="y"/>
<circle cx="55.7" cy="167.2" r="2.95" class="r"/>
<circle cx="35.2" cy="187.5" r="2.95" class="y"/>
<circle cx="36.2" cy="182.4" r="2.95" class="b"/>
<circle cx="30.8" cy="181.4" r="2.95" class="y"/>
<circle cx="41.2" cy="178.5" r="2.95" class="b"/>
<circle cx="107.8" cy="159.5" r="2.95" class="b"/>
<circle cx="60.7" cy="161.6" r="2.95" class="r"/>
<circle cx="96.3" cy="164.9" r="2.95" class="y"/>
<circle cx="46.1" cy="169.0" r="2.95" class="y"/>
<circle cx="61.9" cy="240.5" r="2.95" class="b"/>
<circle cx="28.1" cy="175.0" r="2.95" class="y"/>
<circle cx="92.7" cy="233.6" r="2.95" class="y"/>
<circle cx="113.3" cy="162.4" r="2.95" class="y"/>
<circle cx="34.1" cy="175.3" r="2.95" class="y"/>
<circle cx="95.0" cy="203.6" r="2.95" class="b"/>
<circle cx="103.3" cy="177.0" r="2.95" class="b"/>
<circle cx="56.6" cy="213.3" r="2.95" class="r"/>
<circle cx="89.6" cy="164.8" r="2.95" class="y"/>
<circle cx="34.4" cy="198.6" r="2.95" class="b"/>
<circle cx="60.5" cy="172.4" r="2.95" class="k"/>
<circle cx="50.6" cy="199.0" r="2.95" class="b"/>
<circle cx="53.4" cy="174.7" r="2.95" class="y"/>
<circle cx="94.1" cy="172.4" r="2.95" class="b"/>
<circle cx="68.3" cy="243.2" r="2.95" class="b"/>
<circle cx="15.6" cy="164.7" r="2.95" class="b"/>
<circle cx="30.7" cy="165.2" r="2.95" class="b"/>
<circle cx="67.2" cy="237.4" r="2.95" class="y"/>
<circle cx="91.9" cy="239.6" r="2.95" class="b"/>
<circle cx="111.6" cy="192.8" r="2.95" class="k"/>
<circle cx="43.2" cy="185.2" r="2.95" class="b"/>
<circle cx="90.6" cy="223.2" r="2.95" class="y"/>
<circle cx="50.5" cy="162.6" r="2.95" class="y"/>
<circle cx="92.8" cy="217.1" r="2.95" class="k"/>
<circle cx="72.1" cy="162.0" r="2.95" class="b"/>
<circle cx="101.0" cy="167.9" r="2.95" class="b"/>
<circle cx="81.3" cy="161.8" r="2.95" class="y"/>
<circle cx="39.9" cy="215.3" r="2.95" class="r"/>
<circle cx="78.8" cy="242.0" r="2.95" class="y"/>
<circle cx="19.7" cy="168.2" r="2.95" class="r"/>
<circle cx="45.6" cy="196.3" r="2.95" class="r"/>
<circle cx="28.5" cy="186.0" r="2.95" class="b"/>
<circle cx="97.9" cy="197.1" r="2.95" class="k"/>
<circle cx="63.6" cy="227.1" r="2.95" class="b"/>
<circle cx="100.4" cy="217.4" r="2.95" class="y"/>
<circle cx="104.8" cy="184.3" r="2.95" class="y"/>
<circle cx="43.7" cy="220.2" r="2.95" class="b"/>
<circle cx="77.7" cy="173.5" r="2.95" class="y"/>
<circle cx="85.1" cy="241.2" r="2.95" class="r"/>
<circle cx="90.8" cy="197.9" r="2.95" class="b"/>
<circle cx="107.2" cy="164.9" r="2.95" class="b"/>
<circle cx="50.0" cy="237.5" r="2.95" class="b"/>
<circle cx="85.1" cy="223.3" r="2.95" class="y"/>
<circle cx="57.5" cy="218.8" r="2.95" class="b"/>
<circle cx="45.3" cy="212.5" r="2.95" class="k"/>
<circle cx="114.4" cy="181.0" r="2.95" class="b"/>
<circle cx="84.3" cy="231.0" r="2.95" class="b"/>
<circle cx="92.6" cy="190.0" r="2.95" class="b"/>
<circle cx="87.9" cy="235.6" r="2.95" class="b"/>
<circle cx="71.9" cy="168.2" r="2.95" class="y"/>
<circle cx="87.7" cy="211.3" r="2.95" class="b"/>
<circle cx="97.4" cy="210.8" r="2.95" class="b"/>
<circle cx="56.8" cy="224.7" r="2.95" class="b"/>
<circle cx="70.4" cy="173.8" r="2.95" class="y"/>
<circle cx="102.4" cy="201.0" r="2.95" class="k"/>
<circle cx="49.1" cy="208.2" r="2.95" class="b"/>
<circle cx="62.6" cy="235.9" r="2.95" class="b"/>
<circle cx="45.4" cy="164.3" r="2.95" class="y"/>
<circle cx="115.0" cy="167.1" r="2.95" class="b"/>
<circle cx="103.5" cy="212.5" r="2.95" class="r"/>
<circle cx="84.7" cy="165.5" r="2.95" class="y"/>
<circle cx="36.8" cy="204.3" r="2.95" class="y"/>
<circle cx="41.1" cy="173.7" r="2.95" class="b"/>
<circle cx="83.6" cy="173.9" r="2.95" class="k"/>
<circle cx="40.1" cy="193.5" r="2.95" class="r"/>
<circle cx="32.4" cy="190.6" r="2.95" class="b"/>
<circle cx="105.0" cy="206.1" r="2.95" class="y"/>
<circle cx="39.9" cy="210.3" r="2.95" class="y"/>
<circle cx="88.4" cy="205.0" r="2.95" class="y"/>
<circle cx="96.3" cy="178.2" r="2.95" class="y"/>
<circle cx="121.6" cy="159.7" r="2.95" class="y"/>
<circle cx="79.2" cy="234.7" r="2.95" class="y"/>
<circle cx="49.2" cy="185.9" r="2.95" class="b"/>
<circle cx="38.7" cy="164.3" r="2.95" class="b"/>
<circle cx="51.5" cy="231.6" r="2.95" class="y"/>
<circle cx="39.9" cy="199.8" r="2.95" class="y"/>
<circle cx="97.6" cy="186.4" r="2.95" class="b"/>
<circle cx="97.4" cy="230.9" r="2.95" class="y"/>
<circle cx="111.4" cy="175.3" r="2.95" class="k"/>
<circle cx="42.8" cy="204.6" r="2.95" class="y"/>
<circle cx="54.8" cy="209.5" r="2.95" class="b"/>
<circle cx="51.4" cy="215.5" r="2.95" class="y"/>
<circle cx="52.1" cy="195.3" r="2.95" class="b"/>
<circle cx="61.0" cy="168.2" r="2.95" class="y"/>
<circle cx="55.0" cy="242.9" r="2.95" class="b"/>
<circle cx="77.4" cy="164.3" r="2.95" class="y"/>
<circle cx="61.4" cy="246.0" r="2.95" class="b"/>
<circle cx="107.6" cy="171.6" r="2.95" class="b"/>
<circle cx="23.2" cy="173.2" r="2.95" class="b"/>
<circle cx="58.3" cy="205.1" r="2.95" class="y"/>
<circle cx="48.6" cy="174.3" r="2.95" class="b"/>
<circle cx="80.8" cy="227.9" r="2.95" class="b"/>
<circle cx="52.4" cy="221.8" r="2.95" class="y"/>
<circle cx="100.9" cy="182.1" r="2.95" class="b"/>
<circle cx="101.7" cy="174.5" r="2.95" class="y"/>
<circle cx="47.8" cy="226.6" r="2.95" class="k"/>
<circle cx="51.1" cy="166.9" r="2.95" class="b"/>
<circle cx="55.8" cy="170.1" r="2.95" class="y"/>
<circle cx="38.4" cy="188.7" r="2.95" class="r"/>
<circle cx="29.1" cy="169.1" r="2.95" class="y"/>
<circle cx="31.2" cy="174.4" r="2.95" class="y"/>
<circle cx="99.0" cy="162.3" r="2.95" class="y"/>
<circle cx="92.4" cy="231.4" r="2.95" class="y"/>
<circle cx="93.2" cy="162.6" r="2.95" class="y"/>
<circle cx="65.2" cy="163.3" r="2.95" class="b"/>
<circle cx="87.9" cy="217.9" r="2.95" class="y"/>
<circle cx="26.9" cy="177.7" r="2.95" class="r"/>
<circle cx="61.9" cy="223.5" r="2.95" class="y"/>
<circle cx="98.6" cy="223.6" r="2.95" class="y"/>
<circle cx="66.8" cy="169.3" r="2.95" class="k"/>
<circle cx="56.5" cy="234.0" r="2.95" class="b"/>
<circle cx="82.7" cy="214.4" r="2.95" class="b"/>
<circle cx="32.6" cy="181.4" r="2.95" class="y"/>
<circle cx="105.7" cy="192.1" r="2.95" class="y"/>
<circle cx="95.3" cy="195.3" r="2.95" class="y"/>
<circle cx="61.5" cy="214.6" r="2.95" class="y"/>
<circle cx="118.4" cy="163.6" r="2.95" class="y"/>
<circle cx="55.1" cy="177.8" r="2.95" class="b"/>
<circle cx="100.2" cy="207.0" r="2.95" class="b"/>
<circle cx="92.6" cy="168.6" r="2.95" class="y"/>
<circle cx="109.1" cy="187.2" r="2.95" class="b"/>
<circle cx="39.0" cy="169.0" r="2.95" class="b"/>
<circle cx="96.8" cy="202.2" r="2.95" class="b"/>
<circle cx="66.4" cy="239.6" r="2.95" class="b"/>
<circle cx="75.8" cy="239.5" r="2.95" class="y"/>
<circle cx="44.9" cy="189.1" r="2.95" class="y"/>
<circle cx="88.1" cy="172.1" r="2.95" class="y"/>
<circle cx="109.7" cy="161.2" r="2.95" class="b"/>
<circle cx="40.8" cy="182.0" r="2.95" class="b"/>
<circle cx="93.9" cy="213.5" r="2.95" class="k"/>
<circle cx="81.3" cy="169.9" r="2.95" class="y"/>
<circle cx="93.2" cy="223.7" r="2.95" class="y"/>
<circle cx="46.9" cy="180.1" r="2.95" class="y"/>
<circle cx="91.5" cy="181.4" r="2.95" class="b"/>
<circle cx="110.7" cy="181.7" r="2.95" class="k"/>
<circle cx="33.3" cy="165.8" r="2.95" class="b"/>
<circle cx="46.7" cy="169.9" r="2.95" class="b"/>
<circle cx="96.7" cy="218.5" r="2.95" class="k"/>
<circle cx="61.0" cy="172.9" r="2.95" class="b"/>
<circle cx="88.6" cy="246.3" r="2.95" class="r"/>
<circle cx="63.1" cy="177.7" r="2.95" class="y"/>
<circle cx="91.9" cy="187.2" r="2.95" class="b"/>
<circle cx="57.3" cy="164.1" r="2.95" class="r"/>
<circle cx="24.5" cy="165.9" r="2.95" class="b"/>
<circle cx="80.6" cy="242.1" r="2.95" class="b"/>
<circle cx="93.3" cy="175.9" r="2.95" class="y"/>
<circle cx="87.8" cy="225.9" r="2.95" class="b"/>
<circle cx="66.9" cy="248.8" r="2.95" class="b"/>
<circle cx="88.9" cy="192.1" r="2.95" class="b"/>
<circle cx="83.0" cy="223.8" r="2.95" class="y"/>
<circle cx="100.9" cy="170.0" r="2.95" class="y"/>
<circle cx="68.1" cy="230.7" r="2.95" class="b"/>
<circle cx="88.4" cy="164.2" r="2.95" class="b"/>
<circle cx="80.3" cy="176.8" r="2.95" class="y"/>
<circle cx="71.1" cy="237.4" r="2.95" class="y"/>
<circle cx="47.5" cy="217.4" r="2.95" class="b"/>
<circle cx="53.8" cy="202.1" r="2.95" class="y"/>
<circle cx="45.7" cy="195.0" r="2.95" class="b"/>
<circle cx="100.3" cy="212.7" r="2.95" class="b"/>
<circle cx="53.2" cy="227.5" r="2.95" class="b"/>
<circle cx="36.3" cy="194.4" r="2.95" class="r"/>
<circle cx="37.4" cy="174.4" r="2.95" class="r"/>
<circle cx="59.8" cy="201.2" r="2.95" class="b"/>
<circle cx="101.8" cy="196.7" r="2.95" class="y"/>
<circle cx="75.3" cy="246.7" r="2.95" class="b"/>
<circle cx="99.6" cy="191.3" r="2.95" class="b"/>
<circle cx="82.9" cy="163.5" r="2.95" class="b"/>
<circle cx="113.7" cy="169.9" r="2.95" class="b"/>
<circle cx="91.8" cy="207.3" r="2.95" class="y"/>
<circle cx="90.5" cy="238.7" r="2.95" class="b"/>
<circle cx="84.1" cy="207.8" r="2.95" class="y"/>
<circle cx="46.9" cy="208.9" r="2.95" class="y"/>
<circle cx="43.9" cy="165.8" r="2.95" class="b"/>
<circle cx="55.6" cy="218.3" r="2.95" class="r"/>
<circle cx="68.6" cy="174.8" r="2.95" class="y"/>
<circle cx="87.5" cy="213.6" r="2.95" class="b"/>
<circle cx="70.3" cy="244.5" r="2.95" class="k"/>
<circle cx="61.2" cy="240.4" r="2.95" class="b"/>
<circle cx="87.3" cy="232.4" r="2.95" class="b"/>
<circle cx="107.3" cy="177.3" r="2.95" class="y"/>
<circle cx="45.5" cy="202.2" r="2.95" class="b"/>
<circle cx="87.7" cy="200.5" r="2.95" class="y"/>
<circle cx="78.2" cy="221.0" r="2.95" class="r"/>
<circle cx="60.3" cy="229.3" r="2.95" class="y"/>
<circle cx="52.6" cy="171.4" r="2.95" class="b"/>
<circle cx="73.2" cy="178.0" r="2.95" class="r"/>
<circle cx="50.2" cy="188.0" r="2.95" class="r"/>
<circle cx="41.0" cy="197.9" r="2.95" class="b"/>
<circle cx="35.3" cy="188.3" r="2.95" class="r"/>
<circle cx="106.2" cy="164.9" r="2.95" class="y"/>
<circle cx="57.6" cy="223.8" r="2.95" class="y"/>
<circle cx="62.5" cy="250.6" r="2.95" class="y"/>
<circle cx="46.1" cy="175.3" r="2.95" class="b"/>
<circle cx="55.8" cy="189.1" r="2.95" class="r"/>
<circle cx="85.1" cy="196.1" r="2.95" class="r"/>
<circle cx="52.3" cy="209.9" r="2.95" class="y"/>
<circle cx="81.3" cy="231.8" r="2.95" class="b"/>
<circle cx="52.0" cy="176.5" r="2.95" class="b"/>
<circle cx="54.2" cy="183.9" r="2.95" class="y"/>
<circle cx="71.2" cy="225.2" r="2.95" class="b"/>
<circle cx="45.0" cy="185.3" r="2.95" class="b"/>
<circle cx="83.6" cy="173.5" r="2.95" class="b"/>
<circle cx="76.3" cy="230.3" r="2.95" class="y"/>
<circle cx="96.6" cy="210.0" r="2.95" class="b"/>
<circle cx="79.5" cy="215.3" r="2.95" class="b"/>
<circle cx="73.5" cy="166.5" r="2.95" class="y"/>
<circle cx="52.4" cy="194.9" r="2.95" class="r"/>
<circle cx="68.9" cy="219.5" r="2.95" class="y"/>
<circle cx="85.4" cy="220.4" r="2.95" class="y"/>
<circle cx="97.0" cy="173.0" r="2.95" class="y"/>
<circle cx="43.0" cy="170.9" r="2.95" class="y"/>
<circle cx="112.2" cy="164.4" r="2.95" class="y"/>
<circle cx="100.9" cy="202.1" r="2.95" class="y"/>
<circle cx="53.9" cy="166.6" r="2.95" class="b"/>
<circle cx="49.8" cy="200.0" r="2.95" class="b"/>
<circle cx="35.8" cy="180.9" r="2.95" class="b"/>
<circle cx="58.1" cy="174.9" r="2.95" class="y"/>
<circle cx="62.5" cy="219.2" r="2.95" class="r"/>
<circle cx="75.9" cy="173.0" r="2.95" class="b"/>
<circle cx="104.4" cy="187.4" r="2.95" class="k"/>
<circle cx="88.5" cy="176.1" r="2.95" class="y"/>
<circle cx="62.9" cy="206.6" r="2.95" class="y"/>
<circle cx="36.9" cy="168.5" r="2.95" class="b"/>
<circle cx="88.7" cy="181.8" r="2.95" class="b"/>
<circle cx="58.6" cy="195.9" r="2.95" class="y"/>
<circle cx="101.0" cy="163.2" r="2.95" class="y"/>
<circle cx="105.5" cy="170.1" r="2.95" class="y"/>
<circle cx="78.7" cy="241.1" r="2.95" class="b"/>
<circle cx="102.2" cy="176.9" r="2.95" class="r"/>
<circle cx="93.9" cy="184.2" r="2.95" class="b"/>
<circle cx="58.0" cy="235.2" r="2.95" class="y"/>
<circle cx="94.0" cy="166.3" r="2.95" class="b"/>
<circle cx="67.9" cy="235.8" r="2.95" class="y"/>
<circle cx="95.5" cy="216.1" r="2.95" class="k"/>
<circle cx="63.7" cy="174.0" r="2.95" class="b"/>
<circle cx="92.3" cy="191.8" r="2.95" class="r"/>
<circle cx="100.4" cy="183.9" r="2.95" class="b"/>
<circle cx="33.0" cy="175.7" r="2.95" class="b"/>
<circle cx="91.8" cy="227.4" r="2.95" class="y"/>
<circle cx="30.1" cy="170.9" r="2.95" class="y"/>
<circle cx="60.3" cy="166.1" r="2.95" class="r"/>
<circle cx="84.7" cy="236.7" r="2.95" class="y"/>
<circle cx="95.4" cy="203.7" r="2.95" class="b"/>
<circle cx="61.5" cy="179.9" r="2.95" class="y"/>
<circle cx="67.3" cy="243.1" r="2.95" class="y"/>
<circle cx="83.0" cy="246.3" r="2.95" class="b"/>
<circle cx="94.4" cy="178.4" r="2.95" class="b"/>
<circle cx="91.6" cy="220.7" r="2.95" class="y"/>
<circle cx="48.4" cy="167.9" r="2.95" class="b"/>
<circle cx="68.9" cy="169.1" r="2.95" class="b"/>
<circle cx="86.8" cy="187.9" r="2.95" class="b"/>
<circle cx="78.9" cy="178.2" r="2.95" class="b"/>
<circle cx="67.3" cy="179.5" r="2.95" class="y"/>
<circle cx="90.3" cy="211.2" r="2.95" class="y"/>
<circle cx="108.6" cy="174.2" r="2.95" class="y"/>
<circle cx="92.2" cy="171.8" r="2.95" class="y"/>
<circle cx="52.6" cy="216.3" r="2.95" class="y"/>
<circle cx="98.6" cy="189.5" r="2.95" class="b"/>
<circle cx="106.4" cy="180.4" r="2.95" class="r"/>
<circle cx="88.1" cy="241.8" r="2.95" class="y"/>
<circle cx="65.3" cy="230.5" r="2.95" class="k"/>
<circle cx="58.8" cy="202.0" r="2.95" class="y"/>
<circle cx="67.0" cy="212.2" r="2.95" class="k"/>
<circle cx="102.0" cy="193.7" r="2.95" class="y"/>
<circle cx="82.4" cy="166.4" r="2.95" class="b"/>
<circle cx="73.3" cy="244.3" r="2.95" class="y"/>
<circle cx="83.8" cy="200.5" r="2.95" class="b"/>
<circle cx="55.2" cy="221.4" r="2.95" class="y"/>
<circle cx="56.4" cy="228.8" r="2.95" class="y"/>
<circle cx="89.6" cy="234.4" r="2.95" class="y"/>
<circle cx="78.1" cy="249.4" r="2.95" class="b"/>
<circle cx="95.4" cy="198.2" r="2.95" class="y"/>
<circle cx="82.8" cy="211.0" r="2.95" class="b"/>
<circle cx="62.2" cy="225.2" r="2.95" class="y"/>
<circle cx="58.1" cy="212.2" r="2.95" class="y"/>
<circle cx="79.9" cy="204.6" r="2.95" class="y"/>
<circle cx="73.1" cy="236.7" r="2.95" class="y"/>
<circle cx="40.5" cy="189.6" r="2.95" class="b"/>
<circle cx="86.9" cy="170.2" r="2.95" class="b"/>
<circle cx="47.4" cy="189.2" r="2.95" class="b"/>
<circle cx="55.9" cy="178.8" r="2.95" class="y"/>
<circle cx="43.2" cy="181.1" r="2.95" class="y"/>
<circle cx="42.8" cy="175.6" r="2.95" class="b"/>
<circle cx="89.0" cy="165.1" r="2.95" class="y"/>
<circle cx="90.9" cy="202.2" r="2.95" class="y"/>
<circle cx="50.4" cy="204.8" r="2.95" class="y"/>
<circle cx="72.0" cy="216.8" r="2.95" class="b"/>
<circle cx="57.5" cy="192.1" r="2.95" class="k"/>
<circle cx="85.5" cy="216.0" r="2.95" class="b"/>
<circle cx="48.9" cy="182.0" r="2.95" class="b"/>
<circle cx="49.7" cy="175.2" r="2.95" class="y"/>
<circle cx="66.0" cy="199.4" r="2.95" class="y"/>
<circle cx="43.6" cy="195.0" r="2.95" class="b"/>
<circle cx="108.9" cy="166.6" r="2.95" class="y"/>
<circle cx="70.4" cy="250.7" r="2.95" class="b"/>
<circle cx="63.1" cy="242.3" r="2.95" class="y"/>
<circle cx="70.2" cy="228.6" r="2.95" class="b"/>
<circle cx="81.9" cy="228.3" r="2.95" class="b"/>
<circle cx="60.8" cy="184.9" r="2.95" class="y"/>
<circle cx="37.8" cy="177.6" r="2.95" class="b"/>
<circle cx="97.9" cy="171.2" r="2.95" class="b"/>
<circle cx="88.6" cy="229.5" r="2.95" class="b"/>
<circle cx="80.1" cy="221.3" r="2.95" class="y"/>
<circle cx="51.8" cy="210.3" r="2.95" class="y"/>
<circle cx="87.9" cy="196.0" r="2.95" class="b"/>
<circle cx="74.1" cy="172.0" r="2.95" class="y"/>
<circle cx="61.6" cy="234.1" r="2.95" class="b"/>
<circle cx="47.0" cy="199.6" r="2.95" class="b"/>
<circle cx="45.7" cy="170.7" r="2.95" class="b"/>
<circle cx="82.8" cy="179.9" r="2.95" class="y"/>
<circle cx="97.5" cy="184.9" r="2.95" class="y"/>
<circle cx="58.2" cy="173.2" r="2.95" class="y"/>
<circle cx="57.8" cy="207.4" r="2.95" class="k"/>
<circle cx="81.0" cy="236.0" r="2.95" class="r"/>
<circle cx="76.4" cy="227.4" r="2.95" class="b"/>
<circle cx="86.9" cy="183.4" r="2.95" class="y"/>
<circle cx="103.3" cy="167.6" r="2.95" class="b"/>
<circle cx="66.4" cy="247.6" r="2.95" class="y"/>
<circle cx="88.7" cy="176.5" r="2.95" class="b"/>
<circle cx="77.1" cy="201.1" r="2.95" class="y"/>
<circle cx="54.5" cy="185.7" r="2.95" class="y"/>
<circle cx="63.1" cy="211.9" r="2.95" class="k"/>
<circle cx="61.3" cy="197.3" r="2.95" class="y"/>
<circle cx="62.9" cy="219.8" r="2.95" class="y"/>
<circle cx="93.1" cy="207.2" r="2.95" class="y"/>
<circle cx="92.5" cy="168.3" r="2.95" class="y"/>
<circle cx="79.0" cy="212.7" r="2.95" class="b"/>
<circle cx="70.9" cy="178.4" r="2.95" class="b"/>
<circle cx="102.6" cy="181.2" r="2.95" class="r"/>
<circle cx="69.2" cy="167.3" r="2.95" class="y"/>
<circle cx="86.7" cy="208.1" r="2.95" class="y"/>
<circle cx="63.4" cy="191.3" r="2.95" class="r"/>
<circle cx="104.6" cy="174.7" r="2.95" class="y"/>
<circle cx="36.0" cy="169.9" r="2.95" class="b"/>
<circle cx="73.4" cy="221.9" r="2.95" class="k"/>
<circle cx="84.8" cy="241.0" r="2.95" class="y"/>
<circle cx="83.6" cy="174.1" r="2.95" class="b"/>
<circle cx="63.3" cy="168.5" r="2.95" class="y"/>
<circle cx="75.9" cy="167.1" r="2.95" class="y"/>
<circle cx="71.3" cy="245.3" r="2.95" class="y"/>
<circle cx="66.4" cy="226.3" r="2.95" class="b"/>
<circle cx="83.0" cy="190.0" r="2.95" class="y"/>
<circle cx="84.7" cy="167.4" r="2.95" class="b"/>
<circle cx="67.6" cy="240.4" r="2.95" class="b"/>
<circle cx="82.6" cy="196.6" r="2.95" class="y"/>
<circle cx="80.5" cy="253.2" r="2.95" class="y"/>
<circle cx="64.3" cy="178.7" r="2.95" class="y"/>
<circle cx="69.0" cy="210.9" r="2.95" class="b"/>
<circle cx="68.6" cy="204.5" r="2.95" class="y"/>
<circle cx="61.2" cy="228.7" r="2.95" class="b"/>
<circle cx="79.9" cy="245.1" r="2.95" class="b"/>
<circle cx="93.0" cy="180.0" r="2.95" class="b"/>
<circle cx="99.1" cy="176.1" r="2.95" class="r"/>
<circle cx="59.1" cy="215.5" r="2.95" class="k"/>
<circle cx="81.0" cy="184.9" r="2.95" class="b"/>
<circle cx="59.6" cy="202.6" r="2.95" class="y"/>
<circle cx="97.8" cy="190.9" r="2.95" class="b"/>
<circle cx="90.8" cy="216.6" r="2.95" class="y"/>
<circle cx="68.1" cy="218.8" r="2.95" class="y"/>
<circle cx="54.2" cy="196.8" r="2.95" class="y"/>
<circle cx="92.7" cy="187.3" r="2.95" class="y"/>
<circle cx="87.5" cy="222.7" r="2.95" class="y"/>
<circle cx="92.6" cy="194.0" r="2.95" class="y"/>
<circle cx="52.7" cy="180.2" r="2.95" class="y"/>
<circle cx="94.0" cy="199.8" r="2.95" class="b"/>
<circle cx="74.4" cy="239.9" r="2.95" class="y"/>
<circle cx="72.4" cy="256.9" r="2.95" class="y"/>
<circle cx="66.2" cy="234.0" r="2.95" class="y"/>
<circle cx="52.4" cy="203.3" r="2.95" class="y"/>
<circle cx="87.3" cy="201.8" r="2.95" class="y"/>
<circle cx="44.2" cy="185.2" r="2.95" class="y"/>
<circle cx="49.6" cy="192.7" r="2.95" class="b"/>
<circle cx="82.0" cy="217.7" r="2.95" class="b"/>
<circle cx="47.6" cy="174.7" r="2.95" class="y"/>
<circle cx="85.4" cy="232.2" r="2.95" class="y"/>
<circle cx="43.0" cy="179.7" r="2.95" class="k"/>
<circle cx="41.2" cy="174.0" r="2.95" class="b"/>
<circle cx="99.0" cy="166.4" r="2.95" class="y"/>
<circle cx="77.9" cy="192.8" r="2.95" class="b"/>
<circle cx="75.0" cy="233.2" r="2.95" class="y"/>
<circle cx="54.4" cy="170.1" r="2.95" class="b"/>
<circle cx="77.0" cy="208.8" r="2.95" class="b"/>
<circle cx="77.7" cy="180.9" r="2.95" class="k"/>
<circle cx="62.5" cy="208.0" r="2.95" class="b"/>
<circle cx="60.0" cy="182.5" r="2.95" class="y"/>
<circle cx="71.1" cy="198.6" r="2.95" class="b"/>
<circle cx="68.2" cy="172.4" r="2.95" class="r"/>
<circle cx="73.5" cy="174.6" r="2.95" class="y"/>
<circle cx="59.5" cy="189.1" r="2.95" class="y"/>
<circle cx="73.2" cy="251.4" r="2.95" class="b"/>
<circle cx="56.7" cy="211.3" r="2.95" class="y"/>
<circle cx="62.3" cy="174.1" r="2.95" class="b"/>
<circle cx="90.0" cy="211.4" r="2.95" class="y"/>
<circle cx="78.2" cy="171.1" r="2.95" class="r"/>
<circle cx="80.8" cy="229.7" r="2.95" class="b"/>
<circle cx="64.0" cy="195.3" r="2.95" class="y"/>
<circle cx="102.2" cy="171.1" r="2.95" class="b"/>
<circle cx="75.5" cy="215.9" r="2.95" class="y"/>
<circle cx="66.0" cy="187.4" r="2.95" class="b"/>
<circle cx="72.5" cy="183.0" r="2.95" class="b"/>
<circle cx="51.0" cy="187.4" r="2.95" class="y"/>
<circle cx="71.0" cy="223.6" r="2.95" class="y"/>
<circle cx="61.6" cy="219.8" r="2.95" class="y"/>
<circle cx="97.0" cy="183.6" r="2.95" class="y"/>
<circle cx="78.5" cy="203.2" r="2.95" class="b"/>
<circle cx="73.0" cy="169.0" r="2.95" class="y"/>
<circle cx="91.7" cy="168.1" r="2.95" class="b"/>
<circle cx="87.4" cy="216.7" r="2.95" class="b"/>
<circle cx="75.2" cy="228.4" r="2.95" class="r"/>
<circle cx="91.9" cy="173.7" r="2.95" class="y"/>
<circle cx="85.5" cy="194.3" r="2.95" class="b"/>
<circle cx="57.7" cy="205.9" r="2.95" class="b"/>
<circle cx="77.0" cy="197.7" r="2.95" class="y"/>
<circle cx="68.2" cy="215.6" r="2.95" class="y"/>
<circle cx="82.6" cy="177.8" r="2.95" class="b"/>
<circle cx="65.5" cy="180.9" r="2.95" class="b"/>
<circle cx="54.5" cy="177.5" r="2.95" class="y"/>
<circle cx="70.9" cy="239.8" r="2.95" class="y"/>
<circle cx="84.3" cy="206.1" r="2.95" class="y"/>
<circle cx="88.8" cy="180.7" r="2.95" class="r"/>
<circle cx="78.6" cy="238.2" r="2.95" class="b"/>
<circle cx="72.7" cy="204.5" r="2.95" class="y"/>
<circle cx="80.0" cy="213.1" r="2.95" class="y"/>
<circle cx="69.0" cy="231.6" r="2.95" class="b"/>
<circle cx="76.4" cy="256.4" r="2.95" class="y"/>
<circle cx="75.7" cy="246.0" r="2.95" class="y"/>
<circle cx="91.2" cy="196.8" r="2.95" class="b"/>
<circle cx="79.1" cy="220.3" r="2.95" class="k"/>
<circle cx="71.7" cy="210.7" r="2.95" class="y"/>
<circle cx="66.2" cy="224.9" r="2.95" class="y"/>
<circle cx="61.7" cy="212.9" r="2.95" class="y"/>
<circle cx="86.0" cy="169.1" r="2.95" class="y"/>
<circle cx="91.9" cy="191.0" r="2.95" class="y"/>
<circle cx="55.9" cy="200.6" r="2.95" class="y"/>
<circle cx="80.1" cy="185.7" r="2.95" class="b"/>
<circle cx="62.2" cy="201.0" r="2.95" class="y"/>
<circle cx="48.6" cy="180.1" r="2.95" class="y"/>
<circle cx="86.3" cy="188.1" r="2.95" class="y"/>
<circle cx="70.6" cy="190.6" r="2.95" class="b"/>
<circle cx="55.2" cy="183.2" r="2.95" class="y"/>
<circle cx="97.4" cy="168.9" r="2.95" class="y"/>
<circle cx="76.2" cy="189.7" r="2.95" class="b"/>
<circle cx="66.5" cy="210.2" r="2.95" class="y"/>
<circle cx="46.2" cy="172.1" r="2.95" class="k"/>
<circle cx="52.3" cy="171.7" r="2.95" class="y"/>
<circle cx="84.2" cy="222.2" r="2.95" class="y"/>
<circle cx="89.4" cy="203.4" r="2.95" class="y"/>
<circle cx="58.1" cy="193.1" r="2.95" class="y"/>
<circle cx="60.5" cy="179.9" r="2.95" class="b"/>
<circle cx="58.9" cy="171.9" r="2.95" class="y"/>
<circle cx="62.6" cy="189.2" r="2.95" class="y"/>
<circle cx="67.2" cy="198.6" r="2.95" class="b"/>
<circle cx="72.7" cy="220.3" r="2.95" class="y"/>
<circle cx="84.0" cy="200.4" r="2.95" class="b"/>
<circle cx="85.3" cy="212.6" r="2.95" class="k"/>
<circle cx="96.5" cy="174.5" r="2.95" class="b"/>
<circle cx="77.8" cy="177.7" r="2.95" class="y"/>
<circle cx="68.7" cy="171.1" r="2.95" class="b"/>
<circle cx="74.5" cy="235.0" r="2.95" class="r"/>
<circle cx="72.0" cy="227.6" r="2.95" class="y"/>
<circle cx="94.4" cy="179.9" r="2.95" class="b"/>
<circle cx="91.6" cy="186.3" r="2.95" class="y"/>
<circle cx="82.7" cy="192.5" r="2.95" class="y"/>
<circle cx="66.5" cy="176.7" r="2.95" class="b"/>
<circle cx="76.6" cy="172.3" r="2.95" class="r"/>
<circle cx="75.6" cy="241.6" r="2.95" class="y"/>
<circle cx="87.5" cy="174.2" r="2.95" class="b"/>
<circle cx="54.3" cy="188.4" r="2.95" class="y"/>
<circle cx="72.1" cy="177.3" r="2.95" class="b"/>
<circle cx="69.8" cy="206.2" r="2.95" class="y"/>
<circle cx="78.7" cy="206.0" r="2.95" class="b"/>
<circle cx="64.0" cy="194.6" r="2.95" class="y"/>
<circle cx="82.0" cy="170.7" r="2.95" class="y"/>
<circle cx="80.5" cy="225.1" r="2.95" class="b"/>
<circle cx="73.7" cy="186.4" r="2.95" class="b"/>
<circle cx="68.2" cy="182.8" r="2.95" class="b"/>
<circle cx="62.2" cy="205.1" r="2.95" class="y"/>
<circle cx="77.4" cy="230.4" r="2.95" class="y"/>
<circle cx="82.5" cy="180.8" r="2.95" class="y"/>
<circle cx="77.6" cy="197.5" r="2.95" class="b"/>
<circle cx="92.8" cy="171.0" r="2.95" class="y"/>
<circle cx="71.8" cy="200.9" r="2.95" class="b"/>
<circle cx="59.4" cy="197.6" r="2.95" class="y"/>
<circle cx="54.9" cy="174.1" r="2.95" class="y"/>
<circle cx="66.6" cy="215.1" r="2.95" class="k"/>
<circle cx="60.0" cy="184.9" r="2.95" class="b"/>
<circle cx="82.0" cy="186.9" r="2.95" class="b"/>
<circle cx="91.9" cy="176.4" r="2.95" class="y"/>
<circle cx="78.1" cy="220.0" r="2.95" class="b"/>
<circle cx="82.0" cy="211.1" r="2.95" class="k"/>
<circle cx="74.2" cy="214.6" r="2.95" class="y"/>
<circle cx="70.0" cy="194.1" r="2.95" class="y"/>
<circle cx="62.4" cy="175.2" r="2.95" class="y"/>
<circle cx="88.1" cy="180.5" r="2.95" class="r"/>
<circle cx="84.4" cy="205.0" r="2.95" class="k"/>
<circle cx="59.4" cy="191.1" r="2.95" class="y"/>
<circle cx="53.7" cy="179.7" r="2.95" class="y"/>
<circle cx="84.8" cy="195.9" r="2.95" class="y"/>
<circle cx="65.6" cy="187.2" r="2.95" class="b"/>
<circle cx="87.5" cy="190.7" r="2.95" class="y"/>
<circle cx="71.8" cy="172.9" r="2.95" class="k"/>
<circle cx="64.0" cy="180.7" r="2.95" class="b"/>
<circle cx="76.3" cy="176.4" r="2.95" class="y"/>
<circle cx="67.8" cy="208.6" r="2.95" class="y"/>
<circle cx="65.7" cy="200.4" r="2.95" class="y"/>
<circle cx="78.5" cy="190.2" r="2.95" class="r"/>
<circle cx="74.8" cy="223.9" r="2.95" class="y"/>
<circle cx="89.2" cy="172.7" r="2.95" class="b"/>
<circle cx="82.3" cy="173.6" r="2.95" class="y"/>
<circle cx="76.1" cy="184.3" r="2.95" class="b"/>
<circle cx="81.6" cy="200.0" r="2.95" class="b"/>
<circle cx="77.3" cy="208.2" r="2.95" class="y"/>
<circle cx="73.2" cy="204.1" r="2.95" class="b"/>
<circle cx="66.9" cy="175.7" r="2.95" class="y"/>
<circle cx="86.3" cy="185.6" r="2.95" class="y"/>
<circle cx="64.1" cy="193.6" r="2.95" class="y"/>
<circle cx="58.5" cy="181.0" r="2.95" class="y"/>
<circle cx="70.7" cy="181.2" r="2.95" class="b"/>
<circle cx="61.8" cy="185.7" r="2.95" class="b"/>
<circle cx="77.7" cy="195.5" r="2.95" class="b"/>
<circle cx="77.5" cy="214.2" r="2.95" class="b"/>
<circle cx="83.5" cy="192.2" r="2.95" class="y"/>
<circle cx="60.6" cy="175.6" r="2.95" class="y"/>
<circle cx="73.2" cy="188.6" r="2.95" class="y"/>
<circle cx="82.7" cy="179.5" r="2.95" class="y"/>
<circle cx="68.0" cy="197.4" r="2.95" class="y"/>
<circle cx="72.4" cy="209.3" r="2.95" class="y"/>
<circle cx="73.2" cy="175.4" r="2.95" class="b"/>
<circle cx="87.0" cy="174.4" r="2.95" class="y"/>
<circle cx="77.5" cy="202.7" r="2.95" class="y"/>
<circle cx="79.4" cy="188.6" r="2.95" class="k"/>
<circle cx="65.2" cy="184.8" r="2.95" class="y"/>
<circle cx="68.1" cy="178.6" r="2.95" class="b"/>
<circle cx="72.7" cy="200.2" r="2.95" class="b"/>
<circle cx="73.3" cy="181.0" r="2.95" class="y"/>
<circle cx="70.2" cy="190.1" r="2.95" class="y"/>
<circle cx="74.8" cy="193.8" r="2.95" class="y"/>
<circle cx="79.5" cy="177.5" r="2.95" class="y"/>
<circle cx="77.5" cy="184.3" r="2.95" class="y"/>
<circle cx="69.8" cy="182.2" r="2.95" class="y"/>
<circle cx="73.4" cy="189.0" r="2.95" class="k"/>
<circle cx="74.5" cy="182.9" r="2.95" class="y"/>
<path d="M64.5 139.0L10.2 162.6L16.5 229.2L76.5 262.0L125.0 221.0L129.2 155.4Z" class="ed2"/>
</g>
<g class="c3">
<path d="M66.0 280.6L68.1 329.4M24.8 363.4L68.1 329.4L120.3 360.0" class="ed"/>
<path d="M67.1 289.5L27.7 308.5L33.6 357.0L75.9 380.3L111.1 354.0L113.8 303.1Z" class="bk"/>
<circle cx="66.8" cy="285.9" r="2.8" class="b"/>
<circle cx="65.4" cy="290.3" r="2.8" class="y"/>
<circle cx="70.2" cy="290.3" r="2.8" class="k"/>
<circle cx="62.3" cy="287.9" r="2.8" class="y"/>
<circle cx="71.1" cy="286.4" r="2.8" class="b"/>
<circle cx="73.9" cy="292.2" r="2.8" class="b"/>
<circle cx="66.1" cy="283.4" r="2.8" class="r"/>
<circle cx="63.4" cy="291.7" r="2.8" class="b"/>
<circle cx="66.7" cy="288.5" r="2.8" class="y"/>
<circle cx="61.8" cy="284.6" r="2.8" class="r"/>
<circle cx="70.7" cy="290.9" r="2.8" class="k"/>
<circle cx="55.8" cy="295.0" r="2.8" class="b"/>
<circle cx="75.4" cy="288.9" r="2.8" class="k"/>
<circle cx="61.0" cy="294.4" r="2.8" class="k"/>
<circle cx="77.2" cy="293.4" r="2.8" class="b"/>
<circle cx="57.6" cy="290.7" r="2.8" class="k"/>
<circle cx="75.5" cy="285.1" r="2.8" class="y"/>
<circle cx="65.2" cy="286.7" r="2.8" class="b"/>
<circle cx="71.0" cy="294.9" r="2.8" class="y"/>
<circle cx="60.1" cy="287.6" r="2.8" class="b"/>
<circle cx="82.7" cy="295.0" r="2.8" class="y"/>
<circle cx="71.8" cy="287.0" r="2.8" class="y"/>
<circle cx="80.9" cy="289.9" r="2.8" class="y"/>
<circle cx="55.8" cy="292.8" r="2.8" class="k"/>
<circle cx="64.3" cy="293.8" r="2.8" class="b"/>
<circle cx="69.5" cy="292.2" r="2.8" class="b"/>
<circle cx="64.6" cy="290.0" r="2.8" class="b"/>
<circle cx="76.5" cy="293.3" r="2.8" class="k"/>
<circle cx="78.7" cy="286.9" r="2.8" class="b"/>
<circle cx="55.2" cy="297.5" r="2.8" class="y"/>
<circle cx="55.5" cy="288.5" r="2.8" class="b"/>
<circle cx="63.1" cy="297.6" r="2.8" class="y"/>
<circle cx="49.9" cy="297.8" r="2.8" class="r"/>
<circle cx="73.8" cy="290.7" r="2.8" class="y"/>
<circle cx="70.3" cy="296.7" r="2.8" class="k"/>
<circle cx="58.8" cy="295.0" r="2.8" class="k"/>
<circle cx="68.9" cy="289.0" r="2.8" class="k"/>
<circle cx="52.1" cy="294.5" r="2.8" class="r"/>
<circle cx="60.8" cy="289.8" r="2.8" class="b"/>
<circle cx="83.7" cy="295.8" r="2.8" class="k"/>
<circle cx="84.5" cy="289.5" r="2.8" class="b"/>
<circle cx="63.6" cy="295.2" r="2.8" class="k"/>
<circle cx="78.5" cy="293.0" r="2.8" class="r"/>
<circle cx="50.5" cy="290.9" r="2.8" class="b"/>
<circle cx="112.0" cy="355.5" r="2.8" class="b"/>
<circle cx="60.8" cy="299.2" r="2.8" class="k"/>
<circle cx="79.0" cy="289.0" r="2.8" class="b"/>
<circle cx="80.3" cy="298.1" r="2.8" class="y"/>
<circle cx="56.2" cy="292.6" r="2.8" class="b"/>
<circle cx="75.6" cy="296.3" r="2.8" class="y"/>
<circle cx="54.2" cy="299.9" r="2.8" class="y"/>
<circle cx="111.5" cy="349.5" r="2.8" class="b"/>
<circle cx="89.3" cy="293.0" r="2.8" class="y"/>
<circle cx="64.7" cy="289.8" r="2.8" class="y"/>
<circle cx="31.6" cy="351.6" r="2.8" class="y"/>
<circle cx="107.9" cy="356.7" r="2.8" class="k"/>
<circle cx="83.1" cy="293.5" r="2.8" class="b"/>
<circle cx="50.6" cy="296.9" r="2.8" class="b"/>
<circle cx="111.0" cy="345.1" r="2.8" class="b"/>
<circle cx="70.2" cy="293.9" r="2.8" class="y"/>
<circle cx="68.7" cy="298.0" r="2.8" class="y"/>
<circle cx="91.8" cy="297.9" r="2.8" class="y"/>
<circle cx="46.9" cy="300.6" r="2.8" class="y"/>
<circle cx="34.4" cy="357.1" r="2.8" class="b"/>
<circle cx="30.0" cy="356.2" r="2.8" class="y"/>
<circle cx="47.9" cy="293.6" r="2.8" class="y"/>
<circle cx="107.3" cy="352.9" r="2.8" class="y"/>
<circle cx="74.7" cy="291.0" r="2.8" class="y"/>
<circle cx="73.8" cy="299.9" r="2.8" class="k"/>
<circle cx="65.5" cy="293.7" r="2.8" class="y"/>
<circle cx="90.1" cy="288.8" r="2.8" class="b"/>
<circle cx="56.4" cy="295.6" r="2.8" class="y"/>
<circle cx="38.9" cy="360.6" r="2.8" class="k"/>
<circle cx="52.8" cy="292.5" r="2.8" class="b"/>
<circle cx="35.2" cy="351.1" r="2.8" class="r"/>
<circle cx="111.3" cy="354.8" r="2.8" class="b"/>
<circle cx="86.7" cy="296.0" r="2.8" class="b"/>
<circle cx="42.6" cy="300.8" r="2.8" class="y"/>
<circle cx="61.0" cy="292.6" r="2.8" class="r"/>
<circle cx="51.5" cy="301.8" r="2.8" class="y"/>
<circle cx="77.4" cy="294.3" r="2.8" class="r"/>
<circle cx="116.1" cy="357.2" r="2.8" class="b"/>
<circle cx="57.1" cy="299.6" r="2.8" class="y"/>
<circle cx="87.9" cy="299.8" r="2.8" class="y"/>
<circle cx="62.3" cy="297.9" r="2.8" class="y"/>
<circle cx="81.7" cy="297.6" r="2.8" class="y"/>
<circle cx="115.0" cy="351.9" r="2.8" class="b"/>
<circle cx="110.8" cy="350.6" r="2.8" class="b"/>
<circle cx="108.7" cy="346.5" r="2.8" class="y"/>
<circle cx="69.3" cy="301.1" r="2.8" class="y"/>
<circle cx="70.6" cy="291.9" r="2.8" class="y"/>
<circle cx="31.4" cy="348.2" r="2.8" class="y"/>
<circle cx="39.0" cy="357.3" r="2.8" class="y"/>
<circle cx="92.4" cy="294.0" r="2.8" class="k"/>
<circle cx="45.4" cy="297.7" r="2.8" class="b"/>
<circle cx="53.0" cy="298.3" r="2.8" class="b"/>
<circle cx="86.8" cy="292.5" r="2.8" class="b"/>
<circle cx="75.0" cy="297.3" r="2.8" class="y"/>
<circle cx="80.8" cy="291.4" r="2.8" class="y"/>
<circle cx="112.9" cy="345.3" r="2.8" class="b"/>
<circle cx="112.5" cy="340.7" r="2.8" class="y"/>
<circle cx="49.8" cy="295.6" r="2.8" class="b"/>
<circle cx="33.7" cy="361.0" r="2.8" class="y"/>
<circle cx="107.4" cy="358.5" r="2.8" class="b"/>
<circle cx="47.7" cy="302.0" r="2.8" class="k"/>
<circle cx="29.0" cy="361.0" r="2.8" class="b"/>
<circle cx="28.6" cy="344.1" r="2.8" class="k"/>
<circle cx="40.7" cy="298.5" r="2.8" class="y"/>
<circle cx="62.2" cy="302.6" r="2.8" class="y"/>
<circle cx="98.6" cy="300.2" r="2.8" class="k"/>
<circle cx="103.0" cy="360.3" r="2.8" class="r"/>
<circle cx="97.3" cy="293.9" r="2.8" class="b"/>
<circle cx="57.5" cy="302.7" r="2.8" class="k"/>
<circle cx="54.9" cy="293.6" r="2.8" class="y"/>
<circle cx="33.7" cy="341.0" r="2.8" class="b"/>
<circle cx="111.3" cy="360.9" r="2.8" class="b"/>
<circle cx="42.9" cy="294.0" r="2.8" class="r"/>
<circle cx="25.8" cy="357.4" r="2.8" class="y"/>
<circle cx="118.4" cy="354.0" r="2.8" class="k"/>
<circle cx="69.7" cy="296.9" r="2.8" class="b"/>
<circle cx="61.4" cy="294.9" r="2.8" class="y"/>
<circle cx="92.6" cy="290.6" r="2.8" class="y"/>
<circle cx="76.0" cy="301.0" r="2.8" class="y"/>
<circle cx="27.8" cy="353.6" r="2.8" class="y"/>
<circle cx="30.3" cy="337.4" r="2.8" class="y"/>
<circle cx="35.6" cy="345.8" r="2.8" class="y"/>
<circle cx="66.6" cy="292.4" r="2.8" class="k"/>
<circle cx="117.7" cy="348.8" r="2.8" class="y"/>
<circle cx="37.5" cy="304.3" r="2.8" class="y"/>
<circle cx="83.7" cy="296.8" r="2.8" class="b"/>
<circle cx="86.5" cy="301.7" r="2.8" class="y"/>
<circle cx="93.4" cy="298.2" r="2.8" class="k"/>
<circle cx="88.9" cy="297.5" r="2.8" class="b"/>
<circle cx="108.3" cy="350.8" r="2.8" class="y"/>
<circle cx="73.6" cy="293.2" r="2.8" class="y"/>
<circle cx="107.6" cy="345.1" r="2.8" class="b"/>
<circle cx="112.7" cy="333.5" r="2.8" class="b"/>
<circle cx="64.6" cy="298.0" r="2.8" class="b"/>
<circle cx="115.4" cy="361.3" r="2.8" class="b"/>
<circle cx="43.7" cy="363.7" r="2.8" class="r"/>
<circle cx="33.2" cy="357.0" r="2.8" class="b"/>
<circle cx="29.7" cy="331.0" r="2.8" class="b"/>
<circle cx="59.9" cy="299.5" r="2.8" class="k"/>
<circle cx="112.4" cy="352.2" r="2.8" class="r"/>
<circle cx="103.3" cy="351.5" r="2.8" class="b"/>
<circle cx="36.1" cy="352.2" r="2.8" class="y"/>
<circle cx="39.3" cy="295.7" r="2.8" class="b"/>
<circle cx="54.7" cy="299.7" r="2.8" class="y"/>
<circle cx="115.0" cy="356.3" r="2.8" class="b"/>
<circle cx="30.7" cy="351.7" r="2.8" class="y"/>
<circle cx="109.1" cy="340.5" r="2.8" class="b"/>
<circle cx="37.5" cy="361.5" r="2.8" class="b"/>
<circle cx="112.3" cy="344.1" r="2.8" class="b"/>
<circle cx="77.9" cy="295.0" r="2.8" class="y"/>
<circle cx="104.9" cy="358.3" r="2.8" class="b"/>
<circle cx="67.1" cy="302.6" r="2.8" class="b"/>
<circle cx="52.8" cy="303.9" r="2.8" class="y"/>
<circle cx="86.3" cy="292.0" r="2.8" class="y"/>
<circle cx="112.2" cy="323.5" r="2.8" class="y"/>
<circle cx="42.8" cy="359.9" r="2.8" class="b"/>
<circle cx="82.9" cy="300.6" r="2.8" class="y"/>
<circle cx="31.6" cy="345.7" r="2.8" class="y"/>
<circle cx="58.0" cy="296.4" r="2.8" class="b"/>
<circle cx="108.2" cy="335.4" r="2.8" class="b"/>
<circle cx="42.4" cy="300.3" r="2.8" class="y"/>
<circle cx="117.8" cy="344.8" r="2.8" class="y"/>
<circle cx="25.8" cy="351.5" r="2.8" class="y"/>
<circle cx="91.6" cy="301.9" r="2.8" class="k"/>
<circle cx="31.1" cy="362.0" r="2.8" class="b"/>
<circle cx="92.0" cy="295.0" r="2.8" class="b"/>
<circle cx="104.0" cy="301.5" r="2.8" class="b"/>
<circle cx="74.4" cy="297.6" r="2.8" class="b"/>
<circle cx="45.9" cy="295.1" r="2.8" class="b"/>
<circle cx="104.3" cy="347.3" r="2.8" class="b"/>
<circle cx="78.8" cy="303.2" r="2.8" class="y"/>
<circle cx="28.4" cy="342.7" r="2.8" class="y"/>
<circle cx="44.9" cy="305.0" r="2.8" class="k"/>
<circle cx="71.4" cy="303.8" r="2.8" class="y"/>
<circle cx="108.4" cy="355.4" r="2.8" class="b"/>
<circle cx="96.2" cy="291.7" r="2.8" class="b"/>
<circle cx="43.5" cy="354.1" r="2.8" class="y"/>
<circle cx="35.4" cy="336.8" r="2.8" class="y"/>
<circle cx="113.6" cy="328.1" r="2.8" class="b"/>
<circle cx="114.5" cy="337.4" r="2.8" class="b"/>
<circle cx="37.8" cy="345.1" r="2.8" class="y"/>
<circle cx="63.3" cy="294.3" r="2.8" class="y"/>
<circle cx="35.4" cy="303.2" r="2.8" class="k"/>
<circle cx="30.4" cy="327.3" r="2.8" class="b"/>
<circle cx="40.1" cy="356.6" r="2.8" class="b"/>
<circle cx="48.8" cy="302.5" r="2.8" class="b"/>
<circle cx="69.9" cy="294.9" r="2.8" class="k"/>
<circle cx="33.7" cy="341.9" r="2.8" class="b"/>
<circle cx="109.3" cy="349.3" r="2.8" class="y"/>
<circle cx="24.0" cy="344.8" r="2.8" class="b"/>
<circle cx="36.0" cy="297.5" r="2.8" class="k"/>
<circle cx="35.2" cy="366.2" r="2.8" class="b"/>
<circle cx="100.6" cy="362.0" r="2.8" class="b"/>
<circle cx="28.2" cy="338.5" r="2.8" class="y"/>
<circle cx="28.6" cy="349.2" r="2.8" class="y"/>
<circle cx="115.5" cy="348.9" r="2.8" class="y"/>
<circle cx="103.8" cy="296.5" r="2.8" class="y"/>
<circle cx="31.1" cy="356.2" r="2.8" class="b"/>
<circle cx="63.8" cy="300.9" r="2.8" class="y"/>
<circle cx="110.6" cy="363.1" r="2.8" class="b"/>
<circle cx="41.4" cy="350.0" r="2.8" class="y"/>
<circle cx="111.4" cy="320.2" r="2.8" class="k"/>
<circle cx="99.0" cy="295.3" r="2.8" class="b"/>
<circle cx="35.3" cy="357.9" r="2.8" class="k"/>
<circle cx="74.7" cy="294.2" r="2.8" class="y"/>
<circle cx="31.4" cy="334.0" r="2.8" class="y"/>
<circle cx="46.5" cy="361.2" r="2.8" class="b"/>
<circle cx="45.2" cy="366.3" r="2.8" class="b"/>
<circle cx="48.6" cy="298.8" r="2.8" class="y"/>
<circle cx="113.4" cy="332.6" r="2.8" class="k"/>
<circle cx="106.0" cy="341.5" r="2.8" class="b"/>
<circle cx="53.5" cy="297.0" r="2.8" class="b"/>
<circle cx="84.2" cy="297.0" r="2.8" class="y"/>
<circle cx="59.5" cy="303.1" r="2.8" class="y"/>
<circle cx="75.2" cy="301.8" r="2.8" class="b"/>
<circle cx="108.1" cy="329.6" r="2.8" class="y"/>
<circle cx="100.4" cy="302.3" r="2.8" class="b"/>
<circle cx="112.0" cy="357.9" r="2.8" class="y"/>
<circle cx="26.3" cy="334.7" r="2.8" class="b"/>
<circle cx="107.3" cy="300.0" r="2.8" class="y"/>
<circle cx="83.0" cy="304.6" r="2.8" class="y"/>
<circle cx="117.4" cy="329.7" r="2.8" class="y"/>
<circle cx="25.3" cy="341.4" r="2.8" class="k"/>
<circle cx="50.9" cy="366.6" r="2.8" class="y"/>
<circle cx="68.2" cy="298.4" r="2.8" class="b"/>
<circle cx="33.3" cy="306.4" r="2.8" class="b"/>
<circle cx="33.8" cy="352.0" r="2.8" class="b"/>
<circle cx="39.6" cy="366.2" r="2.8" class="r"/>
<circle cx="88.8" cy="304.0" r="2.8" class="y"/>
<circle cx="101.0" cy="357.2" r="2.8" class="b"/>
<circle cx="118.4" cy="338.2" r="2.8" class="y"/>
<circle cx="55.1" cy="301.0" r="2.8" class="b"/>
<circle cx="63.9" cy="305.7" r="2.8" class="y"/>
<circle cx="79.9" cy="294.2" r="2.8" class="y"/>
<circle cx="114.4" cy="342.9" r="2.8" class="k"/>
<circle cx="104.8" cy="362.3" r="2.8" class="y"/>
<circle cx="103.7" cy="352.6" r="2.8" class="b"/>
<circle cx="28.2" cy="331.0" r="2.8" class="b"/>
<circle cx="108.3" cy="346.0" r="2.8" class="b"/>
<circle cx="91.4" cy="299.7" r="2.8" class="b"/>
<circle cx="43.1" cy="297.2" r="2.8" class="k"/>
<circle cx="38.4" cy="340.7" r="2.8" class="b"/>
<circle cx="95.8" cy="301.8" r="2.8" class="b"/>
<circle cx="29.5" cy="320.9" r="2.8" class="k"/>
<circle cx="111.6" cy="353.6" r="2.8" class="b"/>
<circle cx="60.0" cy="299.3" r="2.8" class="y"/>
<circle cx="39.8" cy="301.0" r="2.8" class="y"/>
<circle cx="38.1" cy="335.7" r="2.8" class="b"/>
<circle cx="68.3" cy="303.6" r="2.8" class="b"/>
<circle cx="37.8" cy="350.2" r="2.8" class="b"/>
<circle cx="90.8" cy="293.6" r="2.8" class="y"/>
<circle cx="80.0" cy="300.0" r="2.8" class="y"/>
<circle cx="104.9" cy="292.9" r="2.8" class="b"/>
<circle cx="31.0" cy="303.3" r="2.8" class="b"/>
<circle cx="101.0" cy="298.3" r="2.8" class="y"/>
<circle cx="44.7" cy="307.5" r="2.8" class="k"/>
<circle cx="107.9" cy="334.1" r="2.8" class="y"/>
<circle cx="47.9" cy="358.2" r="2.8" class="b"/>
<circle cx="112.0" cy="313.9" r="2.8" class="y"/>
<circle cx="45.5" cy="351.7" r="2.8" class="y"/>
<circle cx="108.9" cy="366.7" r="2.8" class="b"/>
<circle cx="94.2" cy="366.6" r="2.8" class="b"/>
<circle cx="113.2" cy="326.5" r="2.8" class="k"/>
<circle cx="52.0" cy="304.3" r="2.8" class="r"/>
<circle cx="30.2" cy="346.9" r="2.8" class="k"/>
<circle cx="36.0" cy="346.1" r="2.8" class="y"/>
<circle cx="71.8" cy="296.1" r="2.8" class="b"/>
<circle cx="107.4" cy="326.0" r="2.8" class="y"/>
<circle cx="41.7" cy="355.7" r="2.8" class="y"/>
<circle cx="57.3" cy="306.5" r="2.8" class="b"/>
<circle cx="114.7" cy="320.5" r="2.8" class="k"/>
<circle cx="110.1" cy="341.4" r="2.8" class="b"/>
<circle cx="35.9" cy="330.4" r="2.8" class="y"/>
<circle cx="40.4" cy="305.0" r="2.8" class="y"/>
<circle cx="36.7" cy="363.5" r="2.8" class="b"/>
<circle cx="29.2" cy="308.0" r="2.8" class="k"/>
<circle cx="108.8" cy="360.3" r="2.8" class="b"/>
<circle cx="34.7" cy="299.1" r="2.8" class="y"/>
<circle cx="97.4" cy="356.6" r="2.8" class="r"/>
<circle cx="41.4" cy="362.2" r="2.8" class="r"/>
<circle cx="102.5" cy="338.6" r="2.8" class="y"/>
<circle cx="34.4" cy="326.3" r="2.8" class="y"/>
<circle cx="103.7" cy="343.2" r="2.8" class="b"/>
<circle cx="41.8" cy="348.2" r="2.8" class="b"/>
<circle cx="107.3" cy="354.9" r="2.8" class="y"/>
<circle cx="104.3" cy="304.2" r="2.8" class="y"/>
<circle cx="104.3" cy="331.3" r="2.8" class="y"/>
<circle cx="29.4" cy="326.3" r="2.8" class="y"/>
<circle cx="95.8" cy="293.7" r="2.8" class="b"/>
<circle cx="117.9" cy="333.8" r="2.8" class="b"/>
<circle cx="109.2" cy="304.2" r="2.8" class="b"/>
<circle cx="85.2" cy="294.4" r="2.8" class="b"/>
<circle cx="64.2" cy="296.2" r="2.8" class="y"/>
<circle cx="73.8" cy="305.2" r="2.8" class="b"/>
<circle cx="112.1" cy="331.5" r="2.8" class="y"/>
<circle cx="75.5" cy="299.0" r="2.8" class="y"/>
<circle cx="119.8" cy="326.7" r="2.8" class="b"/>
<circle cx="108.7" cy="321.5" r="2.8" class="k"/>
<circle cx="28.4" cy="315.0" r="2.8" class="y"/>
<circle cx="37.1" cy="359.2" r="2.8" class="y"/>
<circle cx="25.8" cy="323.7" r="2.8" class="b"/>
<circle cx="98.2" cy="363.8" r="2.8" class="r"/>
<circle cx="41.9" cy="339.1" r="2.8" class="b"/>
<circle cx="22.9" cy="333.5" r="2.8" class="y"/>
<circle cx="80.1" cy="304.1" r="2.8" class="b"/>
<circle cx="46.7" cy="367.1" r="2.8" class="y"/>
<circle cx="113.8" cy="307.6" r="2.8" class="b"/>
<circle cx="96.3" cy="298.1" r="2.8" class="b"/>
<circle cx="45.4" cy="301.4" r="2.8" class="b"/>
<circle cx="24.7" cy="337.6" r="2.8" class="r"/>
<circle cx="49.7" cy="297.2" r="2.8" class="b"/>
<circle cx="34.6" cy="340.6" r="2.8" class="b"/>
<circle cx="31.2" cy="318.6" r="2.8" class="k"/>
<circle cx="102.2" cy="348.6" r="2.8" class="b"/>
<circle cx="108.5" cy="317.3" r="2.8" class="r"/>
<circle cx="102.4" cy="363.9" r="2.8" class="k"/>
<circle cx="31.6" cy="334.7" r="2.8" class="b"/>
<circle cx="50.6" cy="369.8" r="2.8" class="y"/>
<circle cx="113.3" cy="346.8" r="2.8" class="k"/>
<circle cx="81.2" cy="296.9" r="2.8" class="y"/>
<circle cx="115.0" cy="339.9" r="2.8" class="k"/>
<circle cx="91.5" cy="296.8" r="2.8" class="y"/>
<circle cx="26.2" cy="330.0" r="2.8" class="y"/>
<circle cx="97.4" cy="351.6" r="2.8" class="r"/>
<circle cx="37.9" cy="308.0" r="2.8" class="b"/>
<circle cx="52.4" cy="364.8" r="2.8" class="y"/>
<circle cx="86.8" cy="304.4" r="2.8" class="b"/>
<circle cx="84.7" cy="299.5" r="2.8" class="b"/>
<circle cx="108.5" cy="330.3" r="2.8" class="b"/>
<circle cx="99.1" cy="344.3" r="2.8" class="y"/>
<circle cx="22.5" cy="327.0" r="2.8" class="b"/>
<circle cx="93.2" cy="361.9" r="2.8" class="b"/>
<circle cx="24.0" cy="319.2" r="2.8" class="k"/>
<circle cx="56.3" cy="301.8" r="2.8" class="y"/>
<circle cx="106.8" cy="365.1" r="2.8" class="b"/>
<circle cx="41.2" cy="367.5" r="2.8" class="b"/>
<circle cx="70.5" cy="302.5" r="2.8" class="k"/>
<circle cx="110.6" cy="298.8" r="2.8" class="b"/>
<circle cx="31.3" cy="343.5" r="2.8" class="b"/>
<circle cx="28.7" cy="299.1" r="2.8" class="b"/>
<circle cx="32.7" cy="323.1" r="2.8" class="b"/>
<circle cx="90.2" cy="301.3" r="2.8" class="b"/>
<circle cx="34.3" cy="352.5" r="2.8" class="b"/>
<circle cx="113.5" cy="335.8" r="2.8" class="b"/>
<circle cx="50.2" cy="354.5" r="2.8" class="b"/>
<circle cx="45.7" cy="346.0" r="2.8" class="y"/>
<circle cx="111.7" cy="324.6" r="2.8" class="k"/>
<circle cx="117.0" cy="317.9" r="2.8" class="r"/>
<circle cx="45.8" cy="362.9" r="2.8" class="k"/>
<circle cx="107.6" cy="294.1" r="2.8" class="b"/>
<circle cx="105.3" cy="298.8" r="2.8" class="y"/>
<circle cx="39.8" cy="345.6" r="2.8" class="y"/>
<circle cx="70.6" cy="307.6" r="2.8" class="y"/>
<circle cx="60.8" cy="297.7" r="2.8" class="b"/>
<circle cx="94.7" cy="303.0" r="2.8" class="y"/>
<circle cx="65.5" cy="302.2" r="2.8" class="k"/>
<circle cx="109.0" cy="338.2" r="2.8" class="y"/>
<circle cx="106.9" cy="347.3" r="2.8" class="b"/>
<circle cx="91.0" cy="306.6" r="2.8" class="y"/>
<circle cx="32.6" cy="302.2" r="2.8" class="k"/>
<circle cx="27.5" cy="304.0" r="2.8" class="r"/>
<circle cx="111.8" cy="311.3" r="2.8" class="b"/>
<circle cx="30.4" cy="339.2" r="2.8" class="y"/>
<circle cx="100.7" cy="358.0" r="2.8" class="b"/>
<circle cx="105.3" cy="326.3" r="2.8" class="k"/>
<circle cx="99.7" cy="338.9" r="2.8" class="y"/>
<circle cx="38.3" cy="328.0" r="2.8" class="k"/>
<circle cx="99.0" cy="368.4" r="2.8" class="y"/>
<circle cx="69.9" cy="298.6" r="2.8" class="b"/>
<circle cx="38.7" cy="352.7" r="2.8" class="y"/>
<circle cx="101.3" cy="333.0" r="2.8" class="b"/>
<circle cx="49.3" cy="306.4" r="2.8" class="y"/>
<circle cx="44.5" cy="309.3" r="2.8" class="b"/>
<circle cx="98.8" cy="305.3" r="2.8" class="b"/>
<circle cx="54.1" cy="307.2" r="2.8" class="b"/>
<circle cx="101.0" cy="297.4" r="2.8" class="y"/>
<circle cx="78.0" cy="307.2" r="2.8" class="b"/>
<circle cx="110.0" cy="350.6" r="2.8" class="y"/>
<circle cx="34.1" cy="329.8" r="2.8" class="b"/>
<circle cx="116.5" cy="331.4" r="2.8" class="r"/>
<circle cx="45.1" cy="351.3" r="2.8" class="y"/>
<circle cx="103.2" cy="369.2" r="2.8" class="b"/>
<circle cx="40.8" cy="299.2" r="2.8" class="y"/>
<circle cx="104.5" cy="336.7" r="2.8" class="y"/>
<circle cx="42.6" cy="355.3" r="2.8" class="y"/>
<circle cx="105.9" cy="352.9" r="2.8" class="y"/>
<circle cx="26.3" cy="311.5" r="2.8" class="y"/>
<circle cx="95.1" cy="357.8" r="2.8" class="r"/>
<circle cx="106.8" cy="359.5" r="2.8" class="y"/>
<circle cx="92.7" cy="367.8" r="2.8" class="b"/>
<circle cx="121.0" cy="320.1" r="2.8" class="b"/>
<circle cx="39.7" cy="363.2" r="2.8" class="b"/>
<circle cx="54.0" cy="298.5" r="2.8" class="b"/>
<circle cx="66.3" cy="307.8" r="2.8" class="k"/>
<circle cx="114.8" cy="300.8" r="2.8" class="y"/>
<circle cx="117.9" cy="314.1" r="2.8" class="y"/>
<circle cx="50.0" cy="359.3" r="2.8" class="y"/>
<circle cx="58.3" cy="371.8" r="2.8" class="y"/>
<circle cx="110.6" cy="303.1" r="2.8" class="y"/>
<circle cx="59.8" cy="307.1" r="2.8" class="b"/>
<circle cx="113.0" cy="316.0" r="2.8" class="r"/>
<circle cx="117.5" cy="325.2" r="2.8" class="y"/>
<circle cx="45.7" cy="340.1" r="2.8" class="b"/>
<circle cx="107.4" cy="313.7" r="2.8" class="b"/>
<circle cx="111.6" cy="332.6" r="2.8" class="b"/>
<circle cx="35.9" cy="305.1" r="2.8" class="k"/>
<circle cx="77.7" cy="297.4" r="2.8" class="b"/>
<circle cx="112.2" cy="342.5" r="2.8" class="b"/>
<circle cx="40.0" cy="303.2" r="2.8" class="b"/>
<circle cx="55.1" cy="361.7" r="2.8" class="y"/>
<circle cx="30.0" cy="326.7" r="2.8" class="y"/>
<circle cx="105.3" cy="321.4" r="2.8" class="y"/>
<circle cx="45.7" cy="300.1" r="2.8" class="k"/>
<circle cx="40.8" cy="341.9" r="2.8" class="y"/>
<circle cx="38.0" cy="357.3" r="2.8" class="b"/>
<circle cx="45.1" cy="305.1" r="2.8" class="y"/>
<circle cx="49.5" cy="364.6" r="2.8" class="b"/>
<circle cx="73.9" cy="301.2" r="2.8" class="y"/>
<circle cx="102.9" cy="301.9" r="2.8" class="b"/>
<circle cx="95.4" cy="345.9" r="2.8" class="b"/>
<circle cx="107.4" cy="343.3" r="2.8" class="b"/>
<circle cx="113.5" cy="306.4" r="2.8" class="y"/>
<circle cx="46.8" cy="356.5" r="2.8" class="b"/>
<circle cx="65.3" cy="297.9" r="2.8" class="y"/>
<circle cx="28.3" cy="322.7" r="2.8" class="b"/>
<circle cx="22.5" cy="322.1" r="2.8" class="y"/>
<circle cx="100.3" cy="353.3" r="2.8" class="r"/>
<circle cx="30.5" cy="308.1" r="2.8" class="r"/>
<circle cx="50.8" cy="351.3" r="2.8" class="k"/>
<circle cx="101.4" cy="327.8" r="2.8" class="y"/>
<circle cx="33.6" cy="347.4" r="2.8" class="b"/>
<circle cx="105.5" cy="331.6" r="2.8" class="b"/>
<circle cx="85.7" cy="308.2" r="2.8" class="b"/>
<circle cx="34.9" cy="310.6" r="2.8" class="y"/>
<circle cx="102.3" cy="342.5" r="2.8" class="b"/>
<circle cx="112.7" cy="320.7" r="2.8" class="b"/>
<circle cx="37.3" cy="338.6" r="2.8" class="b"/>
<circle cx="39.0" cy="334.5" r="2.8" class="b"/>
<circle cx="82.8" cy="304.4" r="2.8" class="y"/>
<circle cx="119.3" cy="307.3" r="2.8" class="b"/>
<circle cx="94.9" cy="353.2" r="2.8" class="y"/>
<circle cx="97.4" cy="296.7" r="2.8" class="b"/>
<circle cx="46.1" cy="372.3" r="2.8" class="y"/>
<circle cx="35.0" cy="343.1" r="2.8" class="y"/>
<circle cx="112.7" cy="328.0" r="2.8" class="b"/>
<circle cx="93.3" cy="300.1" r="2.8" class="b"/>
<circle cx="53.4" cy="357.0" r="2.8" class="b"/>
<circle cx="43.0" cy="361.3" r="2.8" class="b"/>
<circle cx="50.2" cy="301.6" r="2.8" class="b"/>
<circle cx="58.4" cy="299.6" r="2.8" class="b"/>
<circle cx="36.4" cy="300.8" r="2.8" class="b"/>
<circle cx="41.9" cy="350.8" r="2.8" class="y"/>
<circle cx="108.2" cy="309.7" r="2.8" class="r"/>
<circle cx="104.4" cy="364.8" r="2.8" class="b"/>
<circle cx="39.6" cy="324.5" r="2.8" class="b"/>
<circle cx="95.1" cy="371.8" r="2.8" class="b"/>
<circle cx="86.3" cy="298.4" r="2.8" class="y"/>
<circle cx="23.3" cy="315.6" r="2.8" class="k"/>
<circle cx="105.0" cy="296.2" r="2.8" class="y"/>
<circle cx="55.7" cy="369.2" r="2.8" class="k"/>
<circle cx="29.7" cy="334.7" r="2.8" class="b"/>
<circle cx="31.6" cy="315.8" r="2.8" class="b"/>
<circle cx="27.3" cy="330.6" r="2.8" class="b"/>
<circle cx="42.1" cy="330.7" r="2.8" class="y"/>
<circle cx="97.2" cy="341.4" r="2.8" class="b"/>
<circle cx="98.8" cy="360.7" r="2.8" class="b"/>
<circle cx="92.1" cy="359.8" r="2.8" class="y"/>
<circle cx="20.0" cy="318.4" r="2.8" class="b"/>
<circle cx="108.3" cy="317.8" r="2.8" class="b"/>
<circle cx="90.0" cy="370.7" r="2.8" class="b"/>
<circle cx="39.5" cy="309.5" r="2.8" class="r"/>
<circle cx="48.6" cy="346.8" r="2.8" class="y"/>
<circle cx="43.8" cy="336.8" r="2.8" class="y"/>
<circle cx="111.0" cy="297.3" r="2.8" class="y"/>
<circle cx="45.3" cy="366.9" r="2.8" class="b"/>
<circle cx="102.5" cy="306.7" r="2.8" class="y"/>
<circle cx="26.0" cy="301.1" r="2.8" class="b"/>
<circle cx="51.4" cy="372.5" r="2.8" class="k"/>
<circle cx="100.0" cy="365.6" r="2.8" class="y"/>
<circle cx="108.2" cy="300.9" r="2.8" class="y"/>
<circle cx="115.1" cy="312.4" r="2.8" class="b"/>
<circle cx="36.2" cy="321.0" r="2.8" class="y"/>
<circle cx="100.6" cy="371.7" r="2.8" class="y"/>
<circle cx="103.2" cy="347.4" r="2.8" class="b"/>
<circle cx="117.9" cy="303.4" r="2.8" class="y"/>
<circle cx="107.1" cy="305.1" r="2.8" class="b"/>
<circle cx="31.1" cy="302.0" r="2.8" class="y"/>
<circle cx="90.5" cy="303.9" r="2.8" class="b"/>
<circle cx="81.7" cy="300.4" r="2.8" class="b"/>
<circle cx="68.6" cy="303.8" r="2.8" class="k"/>
<circle cx="99.8" cy="337.2" r="2.8" class="y"/>
<circle cx="94.6" cy="363.8" r="2.8" class="r"/>
<circle cx="98.2" cy="349.2" r="2.8" class="y"/>
<circle cx="32.1" cy="339.8" r="2.8" class="y"/>
<circle cx="120.0" cy="311.5" r="2.8" class="k"/>
<circle cx="73.3" cy="305.9" r="2.8" class="k"/>
<circle cx="80.0" cy="308.4" r="2.8" class="b"/>
<circle cx="58.3" cy="303.8" r="2.8" class="y"/>
<circle cx="102.7" cy="357.1" r="2.8" class="b"/>
<circle cx="112.6" cy="336.6" r="2.8" class="y"/>
<circle cx="106.6" cy="325.3" r="2.8" class="y"/>
<circle cx="109.2" cy="340.0" r="2.8" class="b"/>
<circle cx="49.7" cy="342.6" r="2.8" class="b"/>
<circle cx="29.0" cy="319.1" r="2.8" class="y"/>
<circle cx="35.1" cy="328.6" r="2.8" class="b"/>
<circle cx="100.9" cy="332.7" r="2.8" class="k"/>
<circle cx="61.4" cy="371.3" r="2.8" class="b"/>
<circle cx="88.0" cy="366.1" r="2.8" class="y"/>
<circle cx="58.1" cy="365.5" r="2.8" class="y"/>
<circle cx="116.5" cy="295.8" r="2.8" class="b"/>
<circle cx="108.3" cy="348.3" r="2.8" class="y"/>
<circle cx="75.4" cy="309.9" r="2.8" class="b"/>
<circle cx="70.5" cy="299.7" r="2.8" class="b"/>
<circle cx="49.4" cy="308.3" r="2.8" class="y"/>
<circle cx="43.4" cy="345.3" r="2.8" class="b"/>
<circle cx="92.0" cy="350.1" r="2.8" class="b"/>
<circle cx="24.8" cy="308.2" r="2.8" class="k"/>
<circle cx="41.9" cy="300.8" r="2.8" class="k"/>
<circle cx="114.2" cy="324.6" r="2.8" class="y"/>
<circle cx="27.0" cy="326.3" r="2.8" class="y"/>
<circle cx="33.9" cy="335.8" r="2.8" class="y"/>
<circle cx="78.0" cy="303.4" r="2.8" class="b"/>
<circle cx="38.2" cy="351.6" r="2.8" class="b"/>
<circle cx="41.7" cy="305.9" r="2.8" class="y"/>
<circle cx="69.3" cy="309.0" r="2.8" class="y"/>
<circle cx="116.9" cy="319.9" r="2.8" class="y"/>
<circle cx="55.6" cy="309.0" r="2.8" class="b"/>
<circle cx="62.8" cy="311.0" r="2.8" class="k"/>
<circle cx="112.9" cy="303.0" r="2.8" class="b"/>
<circle cx="19.3" cy="313.6" r="2.8" class="y"/>
<circle cx="90.7" cy="309.0" r="2.8" class="b"/>
<circle cx="118.9" cy="315.7" r="2.8" class="b"/>
<circle cx="65.0" cy="306.3" r="2.8" class="b"/>
<circle cx="96.7" cy="333.7" r="2.8" class="y"/>
<circle cx="101.2" cy="299.3" r="2.8" class="y"/>
<circle cx="104.4" cy="319.1" r="2.8" class="k"/>
<circle cx="43.5" cy="326.6" r="2.8" class="y"/>
<circle cx="101.1" cy="324.6" r="2.8" class="b"/>
<circle cx="95.7" cy="309.1" r="2.8" class="b"/>
<circle cx="104.9" cy="340.1" r="2.8" class="k"/>
<circle cx="44.8" cy="341.2" r="2.8" class="y"/>
<circle cx="40.1" cy="340.4" r="2.8" class="y"/>
<circle cx="104.7" cy="353.1" r="2.8" class="b"/>
<circle cx="110.2" cy="333.1" r="2.8" class="b"/>
<circle cx="32.1" cy="325.2" r="2.8" class="y"/>
<circle cx="41.9" cy="354.8" r="2.8" class="b"/>
<circle cx="64.0" cy="300.4" r="2.8" class="y"/>
<circle cx="97.5" cy="355.6" r="2.8" class="y"/>
<circle cx="36.7" cy="317.1" r="2.8" class="y"/>
<circle cx="93.5" cy="345.7" r="2.8" class="y"/>
<circle cx="52.5" cy="348.0" r="2.8" class="k"/>
<circle cx="97.8" cy="369.9" r="2.8" class="b"/>
<circle cx="84.0" cy="310.0" r="2.8" class="b"/>
<circle cx="24.6" cy="319.7" r="2.8" class="y"/>
<circle cx="20.2" cy="307.9" r="2.8" class="y"/>
<circle cx="31.0" cy="310.6" r="2.8" class="y"/>
<circle cx="44.2" cy="311.8" r="2.8" class="y"/>
<circle cx="38.6" cy="346.9" r="2.8" class="b"/>
<circle cx="117.9" cy="299.8" r="2.8" class="y"/>
<circle cx="54.6" cy="360.4" r="2.8" class="y"/>
<circle cx="106.2" cy="335.5" r="2.8" class="b"/>
<circle cx="51.2" cy="364.5" r="2.8" class="y"/>
<circle cx="47.4" cy="351.4" r="2.8" class="y"/>
<circle cx="113.9" cy="316.0" r="2.8" class="b"/>
<circle cx="40.2" cy="320.5" r="2.8" class="y"/>
<circle cx="57.5" cy="375.0" r="2.8" class="y"/>
<circle cx="26.7" cy="315.2" r="2.8" class="y"/>
<circle cx="87.2" cy="306.3" r="2.8" class="b"/>
<circle cx="96.1" cy="303.2" r="2.8" class="y"/>
<circle cx="51.6" cy="356.4" r="2.8" class="r"/>
<circle cx="53.9" cy="304.0" r="2.8" class="b"/>
<circle cx="87.0" cy="370.8" r="2.8" class="k"/>
<circle cx="93.6" cy="340.1" r="2.8" class="y"/>
<circle cx="39.0" cy="334.1" r="2.8" class="b"/>
<circle cx="103.4" cy="311.1" r="2.8" class="r"/>
<circle cx="113.0" cy="329.4" r="2.8" class="b"/>
<circle cx="108.2" cy="297.9" r="2.8" class="k"/>
<circle cx="85.6" cy="302.1" r="2.8" class="y"/>
<circle cx="47.4" cy="334.4" r="2.8" class="b"/>
<circle cx="102.9" cy="329.6" r="2.8" class="b"/>
<circle cx="109.2" cy="314.3" r="2.8" class="r"/>
<circle cx="93.3" cy="369.8" r="2.8" class="b"/>
<circle cx="91.3" cy="363.6" r="2.8" class="b"/>
<circle cx="47.1" cy="357.0" r="2.8" class="y"/>
<circle cx="62.5" cy="367.0" r="2.8" class="y"/>
<circle cx="35.8" cy="342.3" r="2.8" class="b"/>
<circle cx="110.0" cy="308.6" r="2.8" class="b"/>
<circle cx="119.5" cy="306.6" r="2.8" class="r"/>
<circle cx="59.8" cy="361.4" r="2.8" class="b"/>
<circle cx="100.2" cy="320.8" r="2.8" class="b"/>
<circle cx="48.2" cy="370.5" r="2.8" class="y"/>
<circle cx="79.4" cy="299.2" r="2.8" class="y"/>
<circle cx="91.5" cy="355.7" r="2.8" class="y"/>
<circle cx="47.2" cy="345.3" r="2.8" class="y"/>
<circle cx="96.3" cy="298.2" r="2.8" class="y"/>
<circle cx="97.4" cy="326.8" r="2.8" class="b"/>
<circle cx="49.9" cy="312.6" r="2.8" class="b"/>
<circle cx="93.9" cy="359.9" r="2.8" class="y"/>
<circle cx="110.4" cy="320.5" r="2.8" class="y"/>
<circle cx="50.5" cy="375.6" r="2.8" class="y"/>
<circle cx="48.5" cy="339.4" r="2.8" class="b"/>
<circle cx="21.2" cy="304.3" r="2.8" class="b"/>
<circle cx="91.3" cy="298.8" r="2.8" class="r"/>
<circle cx="39.4" cy="312.5" r="2.8" class="y"/>
<circle cx="58.4" cy="370.7" r="2.8" class="y"/>
<circle cx="38.9" cy="327.5" r="2.8" class="b"/>
<circle cx="60.9" cy="307.5" r="2.8" class="b"/>
<circle cx="74.2" cy="301.0" r="2.8" class="k"/>
<circle cx="61.9" cy="376.1" r="2.8" class="b"/>
<circle cx="97.8" cy="375.2" r="2.8" class="b"/>
<circle cx="49.9" cy="302.2" r="2.8" class="y"/>
<circle cx="38.2" cy="304.3" r="2.8" class="y"/>
<circle cx="33.8" cy="307.4" r="2.8" class="b"/>
<circle cx="45.3" cy="303.3" r="2.8" class="b"/>
<circle cx="104.4" cy="344.9" r="2.8" class="b"/>
<circle cx="89.2" cy="375.4" r="2.8" class="y"/>
<circle cx="47.0" cy="362.9" r="2.8" class="b"/>
<circle cx="27.8" cy="303.5" r="2.8" class="y"/>
<circle cx="104.7" cy="315.6" r="2.8" class="y"/>
<circle cx="115.9" cy="310.3" r="2.8" class="y"/>
<circle cx="53.9" cy="373.2" r="2.8" class="k"/>
<circle cx="80.8" cy="305.8" r="2.8" class="r"/>
<circle cx="57.3" cy="301.2" r="2.8" class="b"/>
<circle cx="59.4" cy="356.2" r="2.8" class="y"/>
<circle cx="106.0" cy="305.1" r="2.8" class="b"/>
<circle cx="87.8" cy="358.5" r="2.8" class="y"/>
<circle cx="56.3" cy="352.2" r="2.8" class="y"/>
<circle cx="111.7" cy="325.0" r="2.8" class="b"/>
<circle cx="65.5" cy="372.0" r="2.8" class="y"/>
<circle cx="59.2" cy="311.8" r="2.8" class="b"/>
<circle cx="83.5" cy="373.4" r="2.8" class="r"/>
<circle cx="34.8" cy="321.8" r="2.8" class="b"/>
<circle cx="95.1" cy="352.5" r="2.8" class="b"/>
<circle cx="100.2" cy="315.4" r="2.8" class="y"/>
<circle cx="43.5" cy="349.0" r="2.8" class="b"/>
<circle cx="28.6" cy="318.8" r="2.8" class="y"/>
<circle cx="107.7" cy="329.4" r="2.8" class="y"/>
<circle cx="104.5" cy="323.3" r="2.8" class="b"/>
<circle cx="115.6" cy="297.4" r="2.8" class="y"/>
<circle cx="33.1" cy="317.2" r="2.8" class="y"/>
<circle cx="95.4" cy="331.7" r="2.8" class="y"/>
<circle cx="52.3" cy="344.3" r="2.8" class="k"/>
<circle cx="68.3" cy="303.3" r="2.8" class="y"/>
<circle cx="90.4" cy="350.2" r="2.8" class="b"/>
<circle cx="89.8" cy="303.3" r="2.8" class="r"/>
<circle cx="99.3" cy="310.1" r="2.8" class="y"/>
<circle cx="45.3" cy="330.5" r="2.8" class="b"/>
<circle cx="93.4" cy="306.3" r="2.8" class="b"/>
<circle cx="100.3" cy="359.1" r="2.8" class="y"/>
<circle cx="113.3" cy="306.0" r="2.8" class="y"/>
<circle cx="99.6" cy="364.0" r="2.8" class="y"/>
<circle cx="31.6" cy="329.7" r="2.8" class="y"/>
<circle cx="36.9" cy="337.9" r="2.8" class="y"/>
<circle cx="101.6" cy="304.5" r="2.8" class="y"/>
<circle cx="54.8" cy="307.4" r="2.8" class="y"/>
<circle cx="102.5" cy="339.8" r="2.8" class="y"/>
<circle cx="100.2" cy="344.6" r="2.8" class="y"/>
<circle cx="100.1" cy="334.9" r="2.8" class="k"/>
<circle cx="72.3" cy="310.1" r="2.8" class="y"/>
<circle cx="54.2" cy="311.7" r="2.8" class="y"/>
<circle cx="121.1" cy="298.8" r="2.8" class="y"/>
<circle cx="76.9" cy="311.5" r="2.8" class="b"/>
<circle cx="42.4" cy="307.0" r="2.8" class="y"/>
<circle cx="58.7" cy="366.8" r="2.8" class="y"/>
<circle cx="102.2" cy="349.1" r="2.8" class="y"/>
<circle cx="50.3" cy="352.5" r="2.8" class="y"/>
<circle cx="90.8" cy="310.9" r="2.8" class="b"/>
<circle cx="87.3" cy="365.2" r="2.8" class="b"/>
<circle cx="99.2" cy="354.2" r="2.8" class="y"/>
<circle cx="97.3" cy="338.6" r="2.8" class="k"/>
<circle cx="29.3" cy="307.4" r="2.8" class="b"/>
<circle cx="39.4" cy="343.4" r="2.8" class="k"/>
<circle cx="113.7" cy="301.7" r="2.8" class="b"/>
<circle cx="30.7" cy="324.8" r="2.8" class="b"/>
<circle cx="49.8" cy="309.4" r="2.8" class="b"/>
<circle cx="44.4" cy="341.8" r="2.8" class="r"/>
<circle cx="63.7" cy="302.5" r="2.8" class="y"/>
<circle cx="56.5" cy="347.8" r="2.8" class="y"/>
<circle cx="44.3" cy="325.1" r="2.8" class="y"/>
<circle cx="40.9" cy="319.2" r="2.8" class="y"/>
<circle cx="32.5" cy="312.5" r="2.8" class="b"/>
<circle cx="67.8" cy="310.5" r="2.8" class="b"/>
<circle cx="24.8" cy="311.8" r="2.8" class="b"/>
<circle cx="91.5" cy="344.9" r="2.8" class="y"/>
<circle cx="55.4" cy="378.0" r="2.8" class="k"/>
<circle cx="50.1" cy="332.7" r="2.8" class="b"/>
<circle cx="93.4" cy="376.3" r="2.8" class="b"/>
<circle cx="43.3" cy="315.6" r="2.8" class="y"/>
<circle cx="108.2" cy="334.5" r="2.8" class="k"/>
<circle cx="105.3" cy="309.6" r="2.8" class="b"/>
<circle cx="49.0" cy="328.1" r="2.8" class="b"/>
<circle cx="100.5" cy="328.9" r="2.8" class="b"/>
<circle cx="73.4" cy="306.0" r="2.8" class="y"/>
<circle cx="118.4" cy="302.7" r="2.8" class="b"/>
<circle cx="82.7" cy="309.1" r="2.8" class="b"/>
<circle cx="81.7" cy="370.3" r="2.8" class="y"/>
<circle cx="110.3" cy="298.9" r="2.8" class="b"/>
<circle cx="55.5" cy="342.2" r="2.8" class="b"/>
<circle cx="45.2" cy="354.4" r="2.8" class="b"/>
<circle cx="36.1" cy="331.3" r="2.8" class="b"/>
<circle cx="53.1" cy="370.4" r="2.8" class="y"/>
<circle cx="95.4" cy="370.9" r="2.8" class="b"/>
<circle cx="62.8" cy="362.8" r="2.8" class="y"/>
<circle cx="59.6" cy="305.8" r="2.8" class="b"/>
<circle cx="97.4" cy="303.2" r="2.8" class="b"/>
<circle cx="84.8" cy="361.7" r="2.8" class="y"/>
<circle cx="108.7" cy="317.7" r="2.8" class="k"/>
<circle cx="56.8" cy="362.0" r="2.8" class="b"/>
<circle cx="44.6" cy="311.1" r="2.8" class="b"/>
<circle cx="91.2" cy="361.7" r="2.8" class="y"/>
<circle cx="95.7" cy="323.4" r="2.8" class="y"/>
<circle cx="34.7" cy="303.8" r="2.8" class="y"/>
<circle cx="87.4" cy="308.8" r="2.8" class="b"/>
<circle cx="66.0" cy="306.8" r="2.8" class="b"/>
<circle cx="96.4" cy="343.1" r="2.8" class="y"/>
<circle cx="66.3" cy="369.0" r="2.8" class="b"/>
<circle cx="48.9" cy="303.6" r="2.8" class="k"/>
<circle cx="39.9" cy="326.6" r="2.8" class="k"/>
<circle cx="100.1" cy="320.4" r="2.8" class="y"/>
<circle cx="47.0" cy="349.3" r="2.8" class="b"/>
<circle cx="81.4" cy="376.6" r="2.8" class="r"/>
<circle cx="113.3" cy="316.6" r="2.8" class="b"/>
<circle cx="43.3" cy="346.4" r="2.8" class="b"/>
<circle cx="60.1" cy="374.6" r="2.8" class="y"/>
<circle cx="61.4" cy="353.1" r="2.8" class="b"/>
<circle cx="109.1" cy="326.8" r="2.8" class="b"/>
<circle cx="48.5" cy="323.9" r="2.8" class="y"/>
<circle cx="62.4" cy="310.4" r="2.8" class="b"/>
<circle cx="101.9" cy="312.3" r="2.8" class="k"/>
<circle cx="37.9" cy="308.6" r="2.8" class="y"/>
<circle cx="93.8" cy="327.7" r="2.8" class="b"/>
<circle cx="77.1" cy="301.7" r="2.8" class="y"/>
<circle cx="102.8" cy="301.4" r="2.8" class="b"/>
<circle cx="94.0" cy="356.0" r="2.8" class="b"/>
<circle cx="107.4" cy="302.6" r="2.8" class="y"/>
<circle cx="82.6" cy="301.4" r="2.8" class="y"/>
<circle cx="37.3" cy="312.9" r="2.8" class="y"/>
<circle cx="94.8" cy="364.9" r="2.8" class="b"/>
<circle cx="43.7" cy="334.5" r="2.8" class="b"/>
<circle cx="86.3" cy="304.5" r="2.8" class="y"/>
<circle cx="89.3" cy="353.6" r="2.8" class="b"/>
<circle cx="66.9" cy="379.3" r="2.8" class="y"/>
<circle cx="47.8" cy="337.9" r="2.8" class="y"/>
<circle cx="97.5" cy="351.2" r="2.8" class="y"/>
<circle cx="48.0" cy="344.9" r="2.8" class="y"/>
<circle cx="97.8" cy="358.7" r="2.8" class="b"/>
<circle cx="68.4" cy="374.2" r="2.8" class="y"/>
<circle cx="91.8" cy="335.2" r="2.8" class="y"/>
<circle cx="92.3" cy="340.0" r="2.8" class="k"/>
<circle cx="110.3" cy="322.1" r="2.8" class="b"/>
<circle cx="50.7" cy="359.0" r="2.8" class="b"/>
<circle cx="47.0" cy="319.7" r="2.8" class="y"/>
<circle cx="53.1" cy="365.9" r="2.8" class="b"/>
<circle cx="87.5" cy="358.1" r="2.8" class="y"/>
<circle cx="81.3" cy="313.0" r="2.8" class="b"/>
<circle cx="61.2" cy="358.1" r="2.8" class="b"/>
<circle cx="50.1" cy="314.6" r="2.8" class="y"/>
<circle cx="87.3" cy="346.5" r="2.8" class="y"/>
<circle cx="104.8" cy="321.2" r="2.8" class="b"/>
<circle cx="89.7" cy="373.8" r="2.8" class="b"/>
<circle cx="54.0" cy="352.3" r="2.8" class="y"/>
<circle cx="71.7" cy="378.5" r="2.8" class="y"/>
<circle cx="73.3" cy="313.8" r="2.8" class="b"/>
<circle cx="97.6" cy="332.0" r="2.8" class="y"/>
<circle cx="95.0" cy="310.4" r="2.8" class="y"/>
<circle cx="54.0" cy="338.4" r="2.8" class="b"/>
<circle cx="25.2" cy="307.2" r="2.8" class="b"/>
<circle cx="68.3" cy="314.2" r="2.8" class="k"/>
<circle cx="92.0" cy="369.5" r="2.8" class="r"/>
<circle cx="40.5" cy="340.2" r="2.8" class="k"/>
<circle cx="89.9" cy="301.2" r="2.8" class="y"/>
<circle cx="113.9" cy="311.4" r="2.8" class="b"/>
<circle cx="105.0" cy="337.0" r="2.8" class="b"/>
<circle cx="52.2" cy="307.2" r="2.8" class="y"/>
<circle cx="55.9" cy="356.7" r="2.8" class="y"/>
<circle cx="52.7" cy="347.2" r="2.8" class="y"/>
<circle cx="34.3" cy="319.5" r="2.8" class="y"/>
<circle cx="105.2" cy="332.3" r="2.8" class="b"/>
<circle cx="115.6" cy="306.6" r="2.8" class="y"/>
<circle cx="28.4" cy="314.4" r="2.8" class="b"/>
<circle cx="34.6" cy="325.3" r="2.8" class="b"/>
<circle cx="82.0" cy="305.5" r="2.8" class="k"/>
<circle cx="42.8" cy="323.0" r="2.8" class="b"/>
<circle cx="64.5" cy="375.4" r="2.8" class="y"/>
<circle cx="50.7" cy="341.6" r="2.8" class="k"/>
<circle cx="93.1" cy="349.2" r="2.8" class="y"/>
<circle cx="104.0" cy="327.8" r="2.8" class="y"/>
<circle cx="70.8" cy="309.2" r="2.8" class="k"/>
<circle cx="61.9" cy="379.3" r="2.8" class="b"/>
<circle cx="78.9" cy="373.4" r="2.8" class="y"/>
<circle cx="96.8" cy="314.8" r="2.8" class="y"/>
<circle cx="66.1" cy="361.5" r="2.8" class="b"/>
<circle cx="31.3" cy="305.7" r="2.8" class="y"/>
<circle cx="77.1" cy="308.3" r="2.8" class="b"/>
<circle cx="104.5" cy="316.0" r="2.8" class="b"/>
<circle cx="109.2" cy="313.6" r="2.8" class="b"/>
<circle cx="69.6" cy="303.6" r="2.8" class="y"/>
<circle cx="81.5" cy="363.9" r="2.8" class="y"/>
<circle cx="47.6" cy="308.5" r="2.8" class="b"/>
<circle cx="62.3" cy="367.8" r="2.8" class="b"/>
<circle cx="110.5" cy="306.1" r="2.8" class="b"/>
<circle cx="85.5" cy="369.6" r="2.8" class="y"/>
<circle cx="91.2" cy="307.3" r="2.8" class="k"/>
<circle cx="99.4" cy="326.5" r="2.8" class="r"/>
<circle cx="104.5" cy="306.4" r="2.8" class="y"/>
<circle cx="99.9" cy="308.1" r="2.8" class="y"/>
<circle cx="31.9" cy="311.1" r="2.8" class="y"/>
<circle cx="84.7" cy="350.6" r="2.8" class="b"/>
<circle cx="38.1" cy="322.9" r="2.8" class="b"/>
<circle cx="39.0" cy="305.2" r="2.8" class="y"/>
<circle cx="113.8" cy="300.9" r="2.8" class="b"/>
<circle cx="87.1" cy="378.0" r="2.8" class="b"/>
<circle cx="58.2" cy="352.2" r="2.8" class="b"/>
<circle cx="54.5" cy="311.5" r="2.8" class="b"/>
<circle cx="56.5" cy="374.6" r="2.8" class="b"/>
<circle cx="42.6" cy="329.4" r="2.8" class="y"/>
<circle cx="94.4" cy="304.0" r="2.8" class="b"/>
<circle cx="57.6" cy="344.6" r="2.8" class="b"/>
<circle cx="39.9" cy="334.6" r="2.8" class="y"/>
<circle cx="57.2" cy="304.2" r="2.8" class="y"/>
<circle cx="47.2" cy="330.1" r="2.8" class="b"/>
<circle cx="83.9" cy="374.7" r="2.8" class="y"/>
<circle cx="58.6" cy="308.6" r="2.8" class="b"/>
<circle cx="33.1" cy="315.7" r="2.8" class="y"/>
<circle cx="91.3" cy="379.7" r="2.8" class="b"/>
<circle cx="50.9" cy="355.5" r="2.8" class="y"/>
<circle cx="100.8" cy="343.3" r="2.8" class="y"/>
<circle cx="82.2" cy="359.2" r="2.8" class="b"/>
<circle cx="38.1" cy="329.9" r="2.8" class="b"/>
<circle cx="86.4" cy="343.4" r="2.8" class="k"/>
<circle cx="91.0" cy="344.2" r="2.8" class="y"/>
<circle cx="101.4" cy="338.4" r="2.8" class="b"/>
<circle cx="82.9" cy="379.8" r="2.8" class="b"/>
<circle cx="45.7" cy="305.0" r="2.8" class="k"/>
<circle cx="42.6" cy="308.5" r="2.8" class="y"/>
<circle cx="64.9" cy="312.3" r="2.8" class="y"/>
<circle cx="46.5" cy="347.8" r="2.8" class="r"/>
<circle cx="59.5" cy="340.1" r="2.8" class="b"/>
<circle cx="73.0" cy="375.2" r="2.8" class="y"/>
<circle cx="54.5" cy="316.3" r="2.8" class="k"/>
<circle cx="90.9" cy="331.2" r="2.8" class="b"/>
<circle cx="56.3" cy="366.9" r="2.8" class="y"/>
<circle cx="93.7" cy="318.8" r="2.8" class="y"/>
<circle cx="82.2" cy="354.5" r="2.8" class="y"/>
<circle cx="86.3" cy="364.0" r="2.8" class="y"/>
<circle cx="101.7" cy="332.8" r="2.8" class="b"/>
<circle cx="90.6" cy="359.9" r="2.8" class="y"/>
<circle cx="57.0" cy="334.7" r="2.8" class="b"/>
<circle cx="89.6" cy="339.5" r="2.8" class="k"/>
<circle cx="87.9" cy="355.8" r="2.8" class="b"/>
<circle cx="95.4" cy="360.2" r="2.8" class="b"/>
<circle cx="43.1" cy="316.0" r="2.8" class="b"/>
<circle cx="103.6" cy="310.9" r="2.8" class="b"/>
<circle cx="88.4" cy="312.4" r="2.8" class="y"/>
<circle cx="44.8" cy="337.9" r="2.8" class="r"/>
<circle cx="64.2" cy="306.7" r="2.8" class="y"/>
<circle cx="87.9" cy="334.8" r="2.8" class="y"/>
<circle cx="67.2" cy="373.1" r="2.8" class="b"/>
<circle cx="105.0" cy="302.1" r="2.8" class="b"/>
<circle cx="50.2" cy="350.7" r="2.8" class="y"/>
<circle cx="47.1" cy="343.1" r="2.8" class="k"/>
<circle cx="69.3" cy="366.9" r="2.8" class="y"/>
<circle cx="37.0" cy="309.1" r="2.8" class="b"/>
<circle cx="50.4" cy="327.1" r="2.8" class="k"/>
<circle cx="49.7" cy="322.4" r="2.8" class="y"/>
<circle cx="91.4" cy="324.2" r="2.8" class="b"/>
<circle cx="96.8" cy="352.3" r="2.8" class="b"/>
<circle cx="97.8" cy="346.7" r="2.8" class="y"/>
<circle cx="62.8" cy="355.3" r="2.8" class="b"/>
<circle cx="49.4" cy="334.8" r="2.8" class="b"/>
<circle cx="79.1" cy="377.8" r="2.8" class="k"/>
<circle cx="107.4" cy="319.6" r="2.8" class="b"/>
<circle cx="60.0" cy="313.7" r="2.8" class="b"/>
<circle cx="111.0" cy="310.6" r="2.8" class="b"/>
<circle cx="98.8" cy="304.8" r="2.8" class="b"/>
<circle cx="93.3" cy="335.5" r="2.8" class="b"/>
<circle cx="81.4" cy="370.8" r="2.8" class="b"/>
<circle cx="67.8" cy="380.9" r="2.8" class="b"/>
<circle cx="71.8" cy="314.1" r="2.8" class="k"/>
<circle cx="89.4" cy="351.2" r="2.8" class="y"/>
<circle cx="61.9" cy="350.7" r="2.8" class="b"/>
<circle cx="60.0" cy="371.2" r="2.8" class="y"/>
<circle cx="102.9" cy="318.8" r="2.8" class="b"/>
<circle cx="53.8" cy="339.4" r="2.8" class="b"/>
<circle cx="78.3" cy="367.1" r="2.8" class="b"/>
<circle cx="55.0" cy="326.0" r="2.8" class="r"/>
<circle cx="38.7" cy="319.8" r="2.8" class="k"/>
<circle cx="65.5" cy="368.8" r="2.8" class="b"/>
<circle cx="54.8" cy="363.0" r="2.8" class="b"/>
<circle cx="62.0" cy="362.1" r="2.8" class="b"/>
<circle cx="75.3" cy="304.6" r="2.8" class="b"/>
<circle cx="54.1" cy="331.0" r="2.8" class="b"/>
<circle cx="74.1" cy="309.0" r="2.8" class="b"/>
<circle cx="93.3" cy="314.2" r="2.8" class="y"/>
<circle cx="86.7" cy="304.8" r="2.8" class="b"/>
<circle cx="90.3" cy="375.7" r="2.8" class="y"/>
<circle cx="98.8" cy="321.2" r="2.8" class="k"/>
<circle cx="47.9" cy="317.6" r="2.8" class="y"/>
<circle cx="41.2" cy="312.1" r="2.8" class="b"/>
<circle cx="29.8" cy="307.3" r="2.8" class="y"/>
<circle cx="83.0" cy="311.9" r="2.8" class="b"/>
<circle cx="92.3" cy="367.3" r="2.8" class="y"/>
<circle cx="97.6" cy="340.1" r="2.8" class="y"/>
<circle cx="97.0" cy="309.4" r="2.8" class="b"/>
<circle cx="108.0" cy="315.0" r="2.8" class="y"/>
<circle cx="107.7" cy="305.5" r="2.8" class="y"/>
<circle cx="68.9" cy="310.1" r="2.8" class="y"/>
<circle cx="44.9" cy="324.2" r="2.8" class="y"/>
<circle cx="103.8" cy="323.6" r="2.8" class="y"/>
<circle cx="79.4" cy="359.2" r="2.8" class="y"/>
<circle cx="112.3" cy="302.6" r="2.8" class="y"/>
<circle cx="44.4" cy="332.4" r="2.8" class="y"/>
<circle cx="98.3" cy="314.5" r="2.8" class="b"/>
<circle cx="71.0" cy="372.4" r="2.8" class="y"/>
<circle cx="77.5" cy="312.9" r="2.8" class="b"/>
<circle cx="58.8" cy="331.1" r="2.8" class="y"/>
<circle cx="66.2" cy="358.9" r="2.8" class="y"/>
<circle cx="75.1" cy="379.9" r="2.8" class="y"/>
<circle cx="58.5" cy="356.4" r="2.8" class="y"/>
<circle cx="49.4" cy="305.9" r="2.8" class="y"/>
<circle cx="79.0" cy="308.3" r="2.8" class="y"/>
<circle cx="90.4" cy="308.1" r="2.8" class="r"/>
<circle cx="71.6" cy="383.2" r="2.8" class="b"/>
<circle cx="97.8" cy="330.6" r="2.8" class="y"/>
<circle cx="81.8" cy="363.6" r="2.8" class="b"/>
<circle cx="84.8" cy="347.2" r="2.8" class="y"/>
<circle cx="69.7" cy="305.6" r="2.8" class="b"/>
<circle cx="66.5" cy="349.8" r="2.8" class="y"/>
<circle cx="58.7" cy="305.5" r="2.8" class="r"/>
<circle cx="84.9" cy="337.8" r="2.8" class="b"/>
<circle cx="93.8" cy="304.0" r="2.8" class="y"/>
<circle cx="100.3" cy="336.2" r="2.8" class="b"/>
<circle cx="85.7" cy="353.5" r="2.8" class="y"/>
<circle cx="72.9" cy="367.2" r="2.8" class="b"/>
<circle cx="40.2" cy="325.8" r="2.8" class="b"/>
<circle cx="76.9" cy="371.6" r="2.8" class="b"/>
<circle cx="52.8" cy="353.7" r="2.8" class="k"/>
<circle cx="80.7" cy="304.2" r="2.8" class="b"/>
<circle cx="52.1" cy="315.9" r="2.8" class="b"/>
<circle cx="40.6" cy="307.0" r="2.8" class="y"/>
<circle cx="93.3" cy="354.4" r="2.8" class="y"/>
<circle cx="103.1" cy="306.1" r="2.8" class="r"/>
<circle cx="85.4" cy="381.2" r="2.8" class="b"/>
<circle cx="85.8" cy="358.5" r="2.8" class="b"/>
<circle cx="61.6" cy="338.4" r="2.8" class="b"/>
<circle cx="37.8" cy="315.3" r="2.8" class="y"/>
<circle cx="63.7" cy="382.3" r="2.8" class="y"/>
<circle cx="69.2" cy="377.5" r="2.8" class="b"/>
<circle cx="95.9" cy="326.1" r="2.8" class="b"/>
<circle cx="58.8" cy="342.7" r="2.8" class="y"/>
<circle cx="34.4" cy="311.0" r="2.8" class="k"/>
<circle cx="84.3" cy="375.8" r="2.8" class="b"/>
<circle cx="64.4" cy="345.7" r="2.8" class="y"/>
<circle cx="52.7" cy="309.6" r="2.8" class="k"/>
<circle cx="48.7" cy="311.9" r="2.8" class="y"/>
<circle cx="57.9" cy="350.7" r="2.8" class="y"/>
<circle cx="69.3" cy="364.5" r="2.8" class="y"/>
<circle cx="53.5" cy="321.7" r="2.8" class="k"/>
<circle cx="81.8" cy="351.2" r="2.8" class="b"/>
<circle cx="86.7" cy="370.5" r="2.8" class="r"/>
<circle cx="84.0" cy="316.4" r="2.8" class="y"/>
<circle cx="65.4" cy="312.7" r="2.8" class="y"/>
<circle cx="102.3" cy="328.6" r="2.8" class="b"/>
<circle cx="90.9" cy="363.6" r="2.8" class="b"/>
<circle cx="50.5" cy="340.7" r="2.8" class="k"/>
<circle cx="62.6" cy="376.5" r="2.8" class="b"/>
<circle cx="53.7" cy="347.7" r="2.8" class="b"/>
<circle cx="82.0" cy="356.2" r="2.8" class="y"/>
<circle cx="65.7" cy="317.7" r="2.8" class="y"/>
<circle cx="46.3" cy="336.9" r="2.8" class="b"/>
<circle cx="80.8" cy="383.8" r="2.8" class="y"/>
<circle cx="89.2" cy="348.6" r="2.8" class="b"/>
<circle cx="45.0" cy="320.5" r="2.8" class="y"/>
<circle cx="93.3" cy="330.1" r="2.8" class="y"/>
<circle cx="61.4" cy="367.7" r="2.8" class="y"/>
<circle cx="101.6" cy="310.6" r="2.8" class="y"/>
<circle cx="89.3" cy="333.7" r="2.8" class="b"/>
<circle cx="82.7" cy="343.3" r="2.8" class="b"/>
<circle cx="93.7" cy="349.1" r="2.8" class="y"/>
<circle cx="86.4" cy="364.8" r="2.8" class="y"/>
<circle cx="106.5" cy="310.4" r="2.8" class="y"/>
<circle cx="70.1" cy="354.1" r="2.8" class="k"/>
<circle cx="87.2" cy="329.4" r="2.8" class="b"/>
<circle cx="94.4" cy="343.2" r="2.8" class="y"/>
<circle cx="89.2" cy="313.1" r="2.8" class="y"/>
<circle cx="91.1" cy="322.6" r="2.8" class="y"/>
<circle cx="90.4" cy="317.5" r="2.8" class="y"/>
<circle cx="76.7" cy="364.4" r="2.8" class="y"/>
<circle cx="93.3" cy="338.0" r="2.8" class="y"/>
<circle cx="61.1" cy="317.8" r="2.8" class="b"/>
<circle cx="56.0" cy="336.6" r="2.8" class="b"/>
<circle cx="103.0" cy="316.0" r="2.8" class="k"/>
<circle cx="69.9" cy="314.9" r="2.8" class="k"/>
<circle cx="58.1" cy="326.4" r="2.8" class="y"/>
<circle cx="43.2" cy="316.2" r="2.8" class="y"/>
<circle cx="49.7" cy="333.9" r="2.8" class="b"/>
<circle cx="60.9" cy="311.9" r="2.8" class="b"/>
<circle cx="56.8" cy="315.2" r="2.8" class="b"/>
<circle cx="39.2" cy="319.2" r="2.8" class="b"/>
<circle cx="51.8" cy="326.8" r="2.8" class="b"/>
<circle cx="66.0" cy="369.3" r="2.8" class="y"/>
<circle cx="49.6" cy="319.2" r="2.8" class="y"/>
<circle cx="44.6" cy="327.3" r="2.8" class="b"/>
<circle cx="100.3" cy="323.2" r="2.8" class="y"/>
<circle cx="75.1" cy="313.6" r="2.8" class="b"/>
<circle cx="97.9" cy="319.4" r="2.8" class="y"/>
<circle cx="61.7" cy="357.0" r="2.8" class="b"/>
<circle cx="87.8" cy="344.3" r="2.8" class="y"/>
<circle cx="94.5" cy="309.7" r="2.8" class="b"/>
<circle cx="56.6" cy="308.1" r="2.8" class="r"/>
<circle cx="73.1" cy="375.1" r="2.8" class="b"/>
<circle cx="88.5" cy="338.5" r="2.8" class="y"/>
<circle cx="47.6" cy="308.2" r="2.8" class="b"/>
<circle cx="62.3" cy="333.0" r="2.8" class="k"/>
<circle cx="99.6" cy="306.2" r="2.8" class="b"/>
<circle cx="82.9" cy="372.2" r="2.8" class="r"/>
<circle cx="78.8" cy="358.4" r="2.8" class="b"/>
<circle cx="81.9" cy="379.4" r="2.8" class="y"/>
<circle cx="77.1" cy="378.8" r="2.8" class="y"/>
<circle cx="38.6" cy="309.8" r="2.8" class="k"/>
<circle cx="63.8" cy="308.3" r="2.8" class="y"/>
<circle cx="67.5" cy="382.7" r="2.8" class="b"/>
<circle cx="83.3" cy="307.9" r="2.8" class="y"/>
<circle cx="42.1" cy="323.3" r="2.8" class="b"/>
<circle cx="86.5" cy="322.6" r="2.8" class="b"/>
<circle cx="107.1" cy="306.3" r="2.8" class="y"/>
<circle cx="57.6" cy="331.6" r="2.8" class="b"/>
<circle cx="60.1" cy="361.5" r="2.8" class="y"/>
<circle cx="57.3" cy="320.0" r="2.8" class="y"/>
<circle cx="65.9" cy="362.0" r="2.8" class="b"/>
<circle cx="65.5" cy="352.0" r="2.8" class="b"/>
<circle cx="91.8" cy="326.7" r="2.8" class="y"/>
<circle cx="83.1" cy="334.5" r="2.8" class="b"/>
<circle cx="88.5" cy="356.6" r="2.8" class="b"/>
<circle cx="98.0" cy="314.7" r="2.8" class="y"/>
<circle cx="70.8" cy="386.6" r="2.8" class="b"/>
<circle cx="87.9" cy="309.0" r="2.8" class="y"/>
<circle cx="77.0" cy="353.4" r="2.8" class="b"/>
<circle cx="79.5" cy="343.0" r="2.8" class="b"/>
<circle cx="85.6" cy="349.7" r="2.8" class="b"/>
<circle cx="72.2" cy="358.2" r="2.8" class="b"/>
<circle cx="70.2" cy="308.4" r="2.8" class="y"/>
<circle cx="76.8" cy="307.6" r="2.8" class="r"/>
<circle cx="74.2" cy="317.9" r="2.8" class="b"/>
<circle cx="60.2" cy="338.2" r="2.8" class="b"/>
<circle cx="92.6" cy="305.3" r="2.8" class="k"/>
<circle cx="74.6" cy="369.2" r="2.8" class="b"/>
<circle cx="52.3" cy="338.9" r="2.8" class="b"/>
<circle cx="60.8" cy="344.5" r="2.8" class="b"/>
<circle cx="77.8" cy="347.4" r="2.8" class="k"/>
<circle cx="55.8" cy="351.2" r="2.8" class="k"/>
<circle cx="56.3" cy="344.5" r="2.8" class="k"/>
<circle cx="80.4" cy="318.2" r="2.8" class="b"/>
<circle cx="104.3" cy="312.6" r="2.8" class="b"/>
<circle cx="83.7" cy="339.4" r="2.8" class="b"/>
<circle cx="97.6" cy="328.6" r="2.8" class="y"/>
<circle cx="66.1" cy="336.2" r="2.8" class="k"/>
<circle cx="85.0" cy="314.0" r="2.8" class="b"/>
<circle cx="63.7" cy="314.9" r="2.8" class="b"/>
<circle cx="66.6" cy="377.4" r="2.8" class="k"/>
<circle cx="64.9" cy="341.3" r="2.8" class="y"/>
<circle cx="69.3" cy="318.0" r="2.8" class="b"/>
<circle cx="95.7" cy="336.2" r="2.8" class="k"/>
<circle cx="82.5" cy="386.4" r="2.8" class="y"/>
<circle cx="68.4" cy="356.4" r="2.8" class="b"/>
<circle cx="90.0" cy="331.5" r="2.8" class="y"/>
<circle cx="72.6" cy="381.6" r="2.8" class="b"/>
<circle cx="82.0" cy="363.0" r="2.8" class="b"/>
<circle cx="68.9" cy="366.0" r="2.8" class="b"/>
<circle cx="70.2" cy="345.0" r="2.8" class="y"/>
<circle cx="41.9" cy="312.3" r="2.8" class="b"/>
<circle cx="94.5" cy="318.8" r="2.8" class="b"/>
<circle cx="79.8" cy="375.9" r="2.8" class="y"/>
<circle cx="79.9" cy="370.1" r="2.8" class="r"/>
<circle cx="65.8" cy="346.6" r="2.8" class="b"/>
<circle cx="89.6" cy="352.0" r="2.8" class="k"/>
<circle cx="58.7" cy="355.3" r="2.8" class="y"/>
<circle cx="73.1" cy="363.2" r="2.8" class="b"/>
<circle cx="54.2" cy="311.1" r="2.8" class="b"/>
<circle cx="61.7" cy="349.4" r="2.8" class="b"/>
<circle cx="84.7" cy="356.6" r="2.8" class="b"/>
<circle cx="50.6" cy="331.4" r="2.8" class="y"/>
<circle cx="67.5" cy="312.2" r="2.8" class="k"/>
<circle cx="76.2" cy="384.8" r="2.8" class="r"/>
<circle cx="86.5" cy="318.6" r="2.8" class="y"/>
<circle cx="100.7" cy="309.7" r="2.8" class="y"/>
<circle cx="81.1" cy="311.3" r="2.8" class="b"/>
<circle cx="93.0" cy="344.7" r="2.8" class="b"/>
<circle cx="87.1" cy="364.3" r="2.8" class="k"/>
<circle cx="52.2" cy="316.1" r="2.8" class="y"/>
<circle cx="47.5" cy="327.3" r="2.8" class="y"/>
<circle cx="84.7" cy="344.7" r="2.8" class="b"/>
<circle cx="81.0" cy="353.7" r="2.8" class="b"/>
<circle cx="70.1" cy="350.4" r="2.8" class="y"/>
<circle cx="43.8" cy="319.5" r="2.8" class="y"/>
<circle cx="64.5" cy="366.5" r="2.8" class="b"/>
<circle cx="58.7" cy="313.3" r="2.8" class="b"/>
<circle cx="61.5" cy="321.2" r="2.8" class="k"/>
<circle cx="91.0" cy="322.4" r="2.8" class="y"/>
<circle cx="90.7" cy="336.2" r="2.8" class="y"/>
<circle cx="47.5" cy="322.5" r="2.8" class="k"/>
<circle cx="86.5" cy="328.2" r="2.8" class="y"/>
<circle cx="46.0" cy="310.3" r="2.8" class="y"/>
<circle cx="64.2" cy="327.6" r="2.8" class="k"/>
<circle cx="98.7" cy="324.5" r="2.8" class="y"/>
<circle cx="85.4" cy="369.6" r="2.8" class="b"/>
<circle cx="68.2" cy="371.3" r="2.8" class="y"/>
<circle cx="60.6" cy="332.8" r="2.8" class="k"/>
<circle cx="57.0" cy="324.2" r="2.8" class="y"/>
<circle cx="51.9" cy="320.6" r="2.8" class="b"/>
<circle cx="103.5" cy="305.9" r="2.8" class="y"/>
<circle cx="78.6" cy="338.1" r="2.8" class="b"/>
<circle cx="91.7" cy="315.9" r="2.8" class="b"/>
<circle cx="77.4" cy="364.3" r="2.8" class="y"/>
<circle cx="72.0" cy="314.0" r="2.8" class="b"/>
<circle cx="64.0" cy="361.9" r="2.8" class="y"/>
<circle cx="81.7" cy="327.2" r="2.8" class="b"/>
<circle cx="82.8" cy="321.1" r="2.8" class="y"/>
<circle cx="79.5" cy="359.2" r="2.8" class="b"/>
<circle cx="74.5" cy="354.1" r="2.8" class="y"/>
<circle cx="79.1" cy="389.0" r="2.8" class="r"/>
<circle cx="69.7" cy="336.2" r="2.8" class="b"/>
<circle cx="57.5" cy="329.4" r="2.8" class="k"/>
<circle cx="93.9" cy="333.0" r="2.8" class="k"/>
<circle cx="81.5" cy="380.9" r="2.8" class="k"/>
<circle cx="47.2" cy="316.5" r="2.8" class="y"/>
<circle cx="60.3" cy="308.9" r="2.8" class="b"/>
<circle cx="82.9" cy="374.0" r="2.8" class="y"/>
<circle cx="73.7" cy="389.6" r="2.8" class="y"/>
<circle cx="66.5" cy="352.7" r="2.8" class="b"/>
<circle cx="53.0" cy="326.4" r="2.8" class="k"/>
<circle cx="55.0" cy="335.3" r="2.8" class="b"/>
<circle cx="62.5" cy="337.4" r="2.8" class="b"/>
<circle cx="84.6" cy="351.2" r="2.8" class="b"/>
<circle cx="98.8" cy="315.4" r="2.8" class="y"/>
<circle cx="62.9" cy="344.0" r="2.8" class="b"/>
<circle cx="92.0" cy="340.9" r="2.8" class="y"/>
<circle cx="66.1" cy="320.6" r="2.8" class="y"/>
<circle cx="61.6" cy="317.1" r="2.8" class="b"/>
<circle cx="85.3" cy="332.5" r="2.8" class="b"/>
<circle cx="80.6" cy="332.1" r="2.8" class="y"/>
<circle cx="58.6" cy="342.1" r="2.8" class="y"/>
<circle cx="83.3" cy="337.8" r="2.8" class="b"/>
<circle cx="57.7" cy="319.9" r="2.8" class="b"/>
<circle cx="84.9" cy="308.3" r="2.8" class="y"/>
<circle cx="94.0" cy="325.4" r="2.8" class="b"/>
<circle cx="76.4" cy="343.2" r="2.8" class="b"/>
<circle cx="50.7" cy="310.7" r="2.8" class="r"/>
<circle cx="67.1" cy="358.8" r="2.8" class="y"/>
<circle cx="77.5" cy="380.1" r="2.8" class="k"/>
<circle cx="98.1" cy="320.4" r="2.8" class="b"/>
<circle cx="74.1" cy="349.2" r="2.8" class="k"/>
<circle cx="67.1" cy="331.7" r="2.8" class="b"/>
<circle cx="78.8" cy="314.4" r="2.8" class="b"/>
<circle cx="85.3" cy="312.9" r="2.8" class="b"/>
<circle cx="86.6" cy="323.9" r="2.8" class="y"/>
<circle cx="88.3" cy="344.0" r="2.8" class="b"/>
<circle cx="59.4" cy="347.9" r="2.8" class="k"/>
<circle cx="95.2" cy="312.8" r="2.8" class="k"/>
<circle cx="68.1" cy="348.2" r="2.8" class="k"/>
<circle cx="97.9" cy="308.4" r="2.8" class="y"/>
<circle cx="91.4" cy="308.9" r="2.8" class="y"/>
<circle cx="76.1" cy="373.4" r="2.8" class="y"/>
<circle cx="68.2" cy="327.3" r="2.8" class="b"/>
<circle cx="72.9" cy="382.4" r="2.8" class="b"/>
<circle cx="76.8" cy="334.4" r="2.8" class="y"/>
<circle cx="63.2" cy="356.8" r="2.8" class="y"/>
<circle cx="75.6" cy="358.7" r="2.8" class="y"/>
<circle cx="71.3" cy="369.7" r="2.8" class="y"/>
<circle cx="57.0" cy="311.1" r="2.8" class="b"/>
<circle cx="78.3" cy="328.3" r="2.8" class="y"/>
<circle cx="83.9" cy="362.2" r="2.8" class="b"/>
<circle cx="69.4" cy="316.7" r="2.8" class="b"/>
<circle cx="74.7" cy="366.4" r="2.8" class="b"/>
<circle cx="88.1" cy="336.6" r="2.8" class="b"/>
<circle cx="69.3" cy="364.9" r="2.8" class="y"/>
<circle cx="72.8" cy="309.1" r="2.8" class="b"/>
<circle cx="64.0" cy="312.4" r="2.8" class="y"/>
<circle cx="50.3" cy="323.3" r="2.8" class="k"/>
<circle cx="91.6" cy="320.0" r="2.8" class="b"/>
<circle cx="78.7" cy="309.0" r="2.8" class="y"/>
<circle cx="88.0" cy="316.6" r="2.8" class="y"/>
<circle cx="70.9" cy="376.4" r="2.8" class="y"/>
<circle cx="64.1" cy="324.5" r="2.8" class="y"/>
<circle cx="74.3" cy="318.0" r="2.8" class="r"/>
<circle cx="80.2" cy="319.9" r="2.8" class="y"/>
<circle cx="58.6" cy="337.3" r="2.8" class="y"/>
<circle cx="72.4" cy="344.0" r="2.8" class="y"/>
<circle cx="78.4" cy="349.2" r="2.8" class="y"/>
<circle cx="67.3" cy="339.4" r="2.8" class="y"/>
<circle cx="76.9" cy="386.2" r="2.8" class="b"/>
<circle cx="92.2" cy="330.3" r="2.8" class="b"/>
<circle cx="74.0" cy="338.7" r="2.8" class="y"/>
<circle cx="46.7" cy="311.5" r="2.8" class="b"/>
<circle cx="87.0" cy="348.3" r="2.8" class="k"/>
<circle cx="78.5" cy="354.6" r="2.8" class="r"/>
<circle cx="68.3" cy="309.9" r="2.8" class="k"/>
<circle cx="80.7" cy="344.3" r="2.8" class="b"/>
<circle cx="71.0" cy="359.4" r="2.8" class="y"/>
<circle cx="80.7" cy="370.8" r="2.8" class="r"/>
<circle cx="60.5" cy="327.3" r="2.8" class="b"/>
<circle cx="63.1" cy="350.5" r="2.8" class="y"/>
<circle cx="53.1" cy="319.4" r="2.8" class="b"/>
<circle cx="53.9" cy="313.7" r="2.8" class="b"/>
<circle cx="81.4" cy="365.8" r="2.8" class="k"/>
<circle cx="70.3" cy="354.1" r="2.8" class="y"/>
<circle cx="56.5" cy="333.7" r="2.8" class="b"/>
<circle cx="64.2" cy="344.6" r="2.8" class="y"/>
<circle cx="62.1" cy="316.0" r="2.8" class="b"/>
<circle cx="53.9" cy="325.6" r="2.8" class="b"/>
<circle cx="94.9" cy="308.9" r="2.8" class="y"/>
<circle cx="86.9" cy="329.5" r="2.8" class="b"/>
<circle cx="82.4" cy="357.2" r="2.8" class="y"/>
<circle cx="75.6" cy="381.2" r="2.8" class="b"/>
<circle cx="89.0" cy="311.6" r="2.8" class="b"/>
<circle cx="86.5" cy="319.7" r="2.8" class="y"/>
<circle cx="62.4" cy="333.0" r="2.8" class="y"/>
<circle cx="78.8" cy="339.5" r="2.8" class="y"/>
<circle cx="50.1" cy="316.4" r="2.8" class="b"/>
<circle cx="59.2" cy="321.6" r="2.8" class="y"/>
<circle cx="67.5" cy="329.9" r="2.8" class="r"/>
<circle cx="78.3" cy="361.7" r="2.8" class="y"/>
<circle cx="82.4" cy="335.1" r="2.8" class="y"/>
<circle cx="73.4" cy="373.9" r="2.8" class="y"/>
<circle cx="82.6" cy="352.0" r="2.8" class="y"/>
<circle cx="85.3" cy="339.9" r="2.8" class="y"/>
<circle cx="72.5" cy="331.9" r="2.8" class="y"/>
<circle cx="70.9" cy="323.1" r="2.8" class="b"/>
<circle cx="74.2" cy="350.7" r="2.8" class="b"/>
<circle cx="78.4" cy="375.9" r="2.8" class="b"/>
<circle cx="90.7" cy="324.3" r="2.8" class="b"/>
<circle cx="89.7" cy="333.4" r="2.8" class="b"/>
<circle cx="67.8" cy="358.2" r="2.8" class="y"/>
<circle cx="76.4" cy="316.3" r="2.8" class="b"/>
<circle cx="64.0" cy="339.9" r="2.8" class="y"/>
<circle cx="78.6" cy="324.7" r="2.8" class="b"/>
<circle cx="77.8" cy="331.9" r="2.8" class="y"/>
<circle cx="68.2" cy="316.6" r="2.8" class="r"/>
<circle cx="71.3" cy="338.0" r="2.8" class="y"/>
<circle cx="71.6" cy="313.0" r="2.8" class="r"/>
<circle cx="82.0" cy="315.5" r="2.8" class="y"/>
<circle cx="64.7" cy="321.8" r="2.8" class="y"/>
<circle cx="94.0" cy="316.4" r="2.8" class="b"/>
<circle cx="85.2" cy="346.2" r="2.8" class="b"/>
<circle cx="83.0" cy="326.3" r="2.8" class="b"/>
<circle cx="67.2" cy="350.6" r="2.8" class="b"/>
<circle cx="79.5" cy="319.8" r="2.8" class="r"/>
<circle cx="70.6" cy="362.7" r="2.8" class="b"/>
<circle cx="76.8" cy="310.9" r="2.8" class="y"/>
<circle cx="67.5" cy="334.9" r="2.8" class="b"/>
<circle cx="65.3" cy="312.7" r="2.8" class="b"/>
<circle cx="77.8" cy="344.4" r="2.8" class="b"/>
<circle cx="73.5" cy="357.7" r="2.8" class="b"/>
<circle cx="75.0" cy="368.2" r="2.8" class="b"/>
<circle cx="59.0" cy="313.5" r="2.8" class="b"/>
<circle cx="55.1" cy="321.6" r="2.8" class="b"/>
<circle cx="57.3" cy="326.9" r="2.8" class="r"/>
<circle cx="67.4" cy="343.4" r="2.8" class="b"/>
<circle cx="86.0" cy="333.6" r="2.8" class="y"/>
<circle cx="72.9" cy="327.9" r="2.8" class="b"/>
<circle cx="72.2" cy="343.0" r="2.8" class="y"/>
<circle cx="83.5" cy="311.4" r="2.8" class="b"/>
<circle cx="78.4" cy="354.1" r="2.8" class="y"/>
<circle cx="70.6" cy="319.8" r="2.8" class="b"/>
<circle cx="93.5" cy="310.4" r="2.8" class="b"/>
<circle cx="90.9" cy="318.2" r="2.8" class="b"/>
<circle cx="88.7" cy="312.9" r="2.8" class="b"/>
<circle cx="62.1" cy="319.8" r="2.8" class="b"/>
<circle cx="61.3" cy="330.2" r="2.8" class="r"/>
<circle cx="70.8" cy="350.0" r="2.8" class="b"/>
<circle cx="54.3" cy="313.6" r="2.8" class="b"/>
<circle cx="79.1" cy="315.6" r="2.8" class="y"/>
<circle cx="78.7" cy="328.0" r="2.8" class="b"/>
<circle cx="73.0" cy="336.1" r="2.8" class="b"/>
<circle cx="65.5" cy="327.9" r="2.8" class="b"/>
<circle cx="78.3" cy="360.4" r="2.8" class="y"/>
<circle cx="75.6" cy="318.9" r="2.8" class="b"/>
<circle cx="78.0" cy="336.3" r="2.8" class="y"/>
<circle cx="80.4" cy="348.4" r="2.8" class="b"/>
<circle cx="57.4" cy="317.5" r="2.8" class="b"/>
<circle cx="74.6" cy="347.3" r="2.8" class="b"/>
<circle cx="81.4" cy="340.4" r="2.8" class="y"/>
<circle cx="75.0" cy="364.3" r="2.8" class="b"/>
<circle cx="61.6" cy="325.1" r="2.8" class="b"/>
<circle cx="82.6" cy="323.9" r="2.8" class="y"/>
<circle cx="63.4" cy="335.0" r="2.8" class="k"/>
<circle cx="85.9" cy="319.0" r="2.8" class="k"/>
<circle cx="87.1" cy="325.1" r="2.8" class="b"/>
<circle cx="77.5" cy="323.4" r="2.8" class="y"/>
<circle cx="82.5" cy="333.7" r="2.8" class="y"/>
<circle cx="85.2" cy="329.7" r="2.8" class="b"/>
<circle cx="69.4" cy="345.8" r="2.8" class="y"/>
<circle cx="66.5" cy="314.7" r="2.8" class="b"/>
<circle cx="60.8" cy="314.7" r="2.8" class="y"/>
<circle cx="74.4" cy="352.6" r="2.8" class="b"/>
<circle cx="75.3" cy="331.7" r="2.8" class="b"/>
<circle cx="68.1" cy="334.2" r="2.8" class="b"/>
<circle cx="83.2" cy="314.8" r="2.8" class="b"/>
<circle cx="77.4" cy="341.9" r="2.8" class="y"/>
<circle cx="69.4" cy="340.8" r="2.8" class="b"/>
<circle cx="68.1" cy="321.1" r="2.8" class="k"/>
<circle cx="76.9" cy="314.6" r="2.8" class="b"/>
<circle cx="88.3" cy="315.8" r="2.8" class="y"/>
<circle cx="79.5" cy="318.7" r="2.8" class="b"/>
<circle cx="71.1" cy="315.1" r="2.8" class="y"/>
<circle cx="75.6" cy="357.4" r="2.8" class="y"/>
<circle cx="79.8" cy="326.7" r="2.8" class="b"/>
<circle cx="80.9" cy="337.6" r="2.8" class="y"/>
<circle cx="67.7" cy="329.6" r="2.8" class="b"/>
<circle cx="61.9" cy="319.9" r="2.8" class="b"/>
<circle cx="77.4" cy="347.9" r="2.8" class="b"/>
<circle cx="71.6" cy="325.8" r="2.8" class="r"/>
<circle cx="81.7" cy="331.2" r="2.8" class="y"/>
<circle cx="83.6" cy="323.2" r="2.8" class="y"/>
<circle cx="72.6" cy="345.4" r="2.8" class="y"/>
<circle cx="75.4" cy="320.6" r="2.8" class="k"/>
<circle cx="71.1" cy="337.0" r="2.8" class="y"/>
<circle cx="72.1" cy="330.5" r="2.8" class="b"/>
<circle cx="75.5" cy="335.6" r="2.8" class="b"/>
<circle cx="67.0" cy="325.2" r="2.8" class="b"/>
<circle cx="84.6" cy="318.5" r="2.8" class="y"/>
<circle cx="79.2" cy="316.5" r="2.8" class="b"/>
<circle cx="64.3" cy="318.0" r="2.8" class="k"/>
<circle cx="75.2" cy="341.7" r="2.8" class="y"/>
<circle cx="79.6" cy="326.5" r="2.8" class="b"/>
<circle cx="81.3" cy="321.7" r="2.8" class="b"/>
<circle cx="71.1" cy="316.4" r="2.8" class="y"/>
<circle cx="75.8" cy="319.2" r="2.8" class="k"/>
<circle cx="70.6" cy="321.5" r="2.8" class="b"/>
<circle cx="73.7" cy="333.7" r="2.8" class="b"/>
<circle cx="71.6" cy="327.7" r="2.8" class="b"/>
<circle cx="76.7" cy="328.7" r="2.8" class="y"/>
<circle cx="76.7" cy="323.8" r="2.8" class="y"/>
<circle cx="79.8" cy="317.0" r="2.8" class="b"/>
<circle cx="74.7" cy="320.0" r="2.8" class="y"/>
<path d="M66.0 280.6L16.1 303.1L24.8 363.4L77.0 394.0L120.3 360.0L125.0 296.0Z" class="ed2"/>
</g>
<g class="c4">
<path d="M64.0 421.5L62.0 469.0M22.0 508.0L62.0 469.0L119.0 503.0" class="ed"/>
<path d="M64.8 429.3L22.7 450.6L29.7 502.2L77.2 528.9L111.1 497.7L116.2 443.2Z" class="bk"/>
<circle cx="64.3" cy="430.1" r="2.38" class="b"/>
<circle cx="63.9" cy="425.0" r="2.38" class="y"/>
<circle cx="68.5" cy="430.9" r="2.38" class="b"/>
<circle cx="60.5" cy="430.6" r="2.38" class="b"/>
<circle cx="61.2" cy="427.6" r="2.38" class="b"/>
<circle cx="67.7" cy="428.0" r="2.38" class="b"/>
<circle cx="58.5" cy="429.5" r="2.38" class="y"/>
<circle cx="60.1" cy="425.5" r="2.38" class="b"/>
<circle cx="67.7" cy="424.9" r="2.38" class="y"/>
<circle cx="66.1" cy="433.0" r="2.38" class="y"/>
<circle cx="61.8" cy="432.0" r="2.38" class="b"/>
<circle cx="56.1" cy="433.0" r="2.38" class="y"/>
<circle cx="72.0" cy="430.8" r="2.38" class="b"/>
<circle cx="65.3" cy="429.9" r="2.38" class="b"/>
<circle cx="63.5" cy="427.0" r="2.38" class="y"/>
<circle cx="72.2" cy="425.1" r="2.38" class="y"/>
<circle cx="57.0" cy="428.2" r="2.38" class="b"/>
<circle cx="70.4" cy="428.5" r="2.38" class="b"/>
<circle cx="59.6" cy="432.5" r="2.38" class="b"/>
<circle cx="53.7" cy="431.2" r="2.38" class="k"/>
<circle cx="75.3" cy="428.8" r="2.38" class="b"/>
<circle cx="56.5" cy="435.3" r="2.38" class="y"/>
<circle cx="68.6" cy="433.2" r="2.38" class="y"/>
<circle cx="77.2" cy="434.1" r="2.38" class="b"/>
<circle cx="68.1" cy="426.5" r="2.38" class="b"/>
<circle cx="53.7" cy="427.8" r="2.38" class="y"/>
<circle cx="64.0" cy="430.5" r="2.38" class="y"/>
<circle cx="71.9" cy="435.2" r="2.38" class="y"/>
<circle cx="62.0" cy="435.7" r="2.38" class="y"/>
<circle cx="50.1" cy="435.6" r="2.38" class="y"/>
<circle cx="59.1" cy="429.0" r="2.38" class="b"/>
<circle cx="57.1" cy="432.1" r="2.38" class="r"/>
<circle cx="64.5" cy="427.7" r="2.38" class="y"/>
<circle cx="67.3" cy="436.2" r="2.38" class="b"/>
<circle cx="71.4" cy="428.8" r="2.38" class="b"/>
<circle cx="80.0" cy="432.1" r="2.38" class="b"/>
<circle cx="75.0" cy="431.4" r="2.38" class="b"/>
<circle cx="77.0" cy="428.3" r="2.38" class="y"/>
<circle cx="52.3" cy="431.7" r="2.38" class="y"/>
<circle cx="58.0" cy="436.2" r="2.38" class="k"/>
<circle cx="81.2" cy="429.2" r="2.38" class="b"/>
<circle cx="84.2" cy="434.4" r="2.38" class="y"/>
<circle cx="61.1" cy="431.9" r="2.38" class="b"/>
<circle cx="73.8" cy="436.3" r="2.38" class="b"/>
<circle cx="67.6" cy="434.1" r="2.38" class="y"/>
<circle cx="47.2" cy="435.0" r="2.38" class="y"/>
<circle cx="62.7" cy="437.5" r="2.38" class="y"/>
<circle cx="44.9" cy="439.2" r="2.38" class="y"/>
<circle cx="52.2" cy="434.4" r="2.38" class="y"/>
<circle cx="65.1" cy="430.9" r="2.38" class="k"/>
<circle cx="51.7" cy="438.4" r="2.38" class="y"/>
<circle cx="74.3" cy="432.5" r="2.38" class="y"/>
<circle cx="71.6" cy="429.0" r="2.38" class="y"/>
<circle cx="54.1" cy="431.0" r="2.38" class="r"/>
<circle cx="55.4" cy="436.7" r="2.38" class="k"/>
<circle cx="77.5" cy="435.3" r="2.38" class="y"/>
<circle cx="58.2" cy="432.9" r="2.38" class="y"/>
<circle cx="49.6" cy="431.7" r="2.38" class="y"/>
<circle cx="66.6" cy="437.1" r="2.38" class="b"/>
<circle cx="30.1" cy="502.4" r="2.38" class="k"/>
<circle cx="61.7" cy="430.4" r="2.38" class="y"/>
<circle cx="83.5" cy="436.0" r="2.38" class="b"/>
<circle cx="82.0" cy="429.6" r="2.38" class="y"/>
<circle cx="68.6" cy="432.6" r="2.38" class="b"/>
<circle cx="47.9" cy="440.3" r="2.38" class="y"/>
<circle cx="109.7" cy="496.6" r="2.38" class="y"/>
<circle cx="71.6" cy="437.9" r="2.38" class="y"/>
<circle cx="77.1" cy="429.5" r="2.38" class="y"/>
<circle cx="87.0" cy="429.2" r="2.38" class="k"/>
<circle cx="83.7" cy="432.6" r="2.38" class="y"/>
<circle cx="43.4" cy="435.9" r="2.38" class="b"/>
<circle cx="48.7" cy="436.4" r="2.38" class="y"/>
<circle cx="44.0" cy="439.6" r="2.38" class="y"/>
<circle cx="62.8" cy="439.7" r="2.38" class="r"/>
<circle cx="87.9" cy="437.2" r="2.38" class="b"/>
<circle cx="26.5" cy="504.6" r="2.38" class="y"/>
<circle cx="28.3" cy="496.8" r="2.38" class="b"/>
<circle cx="113.7" cy="499.3" r="2.38" class="b"/>
<circle cx="106.7" cy="500.1" r="2.38" class="b"/>
<circle cx="92.4" cy="437.6" r="2.38" class="y"/>
<circle cx="90.6" cy="434.1" r="2.38" class="b"/>
<circle cx="81.5" cy="438.9" r="2.38" class="y"/>
<circle cx="58.4" cy="439.8" r="2.38" class="b"/>
<circle cx="63.7" cy="434.8" r="2.38" class="k"/>
<circle cx="76.5" cy="438.6" r="2.38" class="y"/>
<circle cx="113.1" cy="494.4" r="2.38" class="y"/>
<circle cx="55.5" cy="435.2" r="2.38" class="y"/>
<circle cx="111.0" cy="486.5" r="2.38" class="y"/>
<circle cx="111.9" cy="490.5" r="2.38" class="b"/>
<circle cx="59.5" cy="436.6" r="2.38" class="y"/>
<circle cx="71.6" cy="435.2" r="2.38" class="b"/>
<circle cx="51.9" cy="433.1" r="2.38" class="y"/>
<circle cx="39.6" cy="442.1" r="2.38" class="k"/>
<circle cx="47.6" cy="433.9" r="2.38" class="y"/>
<circle cx="66.5" cy="431.3" r="2.38" class="k"/>
<circle cx="51.8" cy="440.8" r="2.38" class="b"/>
<circle cx="77.8" cy="432.7" r="2.38" class="y"/>
<circle cx="26.9" cy="493.9" r="2.38" class="y"/>
<circle cx="31.6" cy="497.8" r="2.38" class="y"/>
<circle cx="27.6" cy="489.8" r="2.38" class="y"/>
<circle cx="109.1" cy="494.1" r="2.38" class="y"/>
<circle cx="24.4" cy="503.0" r="2.38" class="r"/>
<circle cx="74.2" cy="431.2" r="2.38" class="b"/>
<circle cx="86.9" cy="430.9" r="2.38" class="y"/>
<circle cx="44.7" cy="442.9" r="2.38" class="b"/>
<circle cx="35.7" cy="506.0" r="2.38" class="y"/>
<circle cx="110.8" cy="500.9" r="2.38" class="y"/>
<circle cx="82.5" cy="431.0" r="2.38" class="r"/>
<circle cx="43.4" cy="435.5" r="2.38" class="y"/>
<circle cx="32.4" cy="503.8" r="2.38" class="b"/>
<circle cx="62.6" cy="432.9" r="2.38" class="y"/>
<circle cx="105.7" cy="498.3" r="2.38" class="b"/>
<circle cx="85.9" cy="439.4" r="2.38" class="y"/>
<circle cx="28.3" cy="504.0" r="2.38" class="b"/>
<circle cx="27.2" cy="499.1" r="2.38" class="r"/>
<circle cx="117.5" cy="501.0" r="2.38" class="b"/>
<circle cx="95.8" cy="435.6" r="2.38" class="y"/>
<circle cx="71.1" cy="439.8" r="2.38" class="k"/>
<circle cx="75.0" cy="434.7" r="2.38" class="y"/>
<circle cx="107.7" cy="491.0" r="2.38" class="b"/>
<circle cx="49.9" cy="438.0" r="2.38" class="b"/>
<circle cx="82.4" cy="437.2" r="2.38" class="y"/>
<circle cx="26.7" cy="484.6" r="2.38" class="k"/>
<circle cx="110.3" cy="485.1" r="2.38" class="y"/>
<circle cx="89.3" cy="436.9" r="2.38" class="b"/>
<circle cx="116.3" cy="495.0" r="2.38" class="y"/>
<circle cx="66.6" cy="439.3" r="2.38" class="b"/>
<circle cx="67.4" cy="434.5" r="2.38" class="k"/>
<circle cx="56.7" cy="437.6" r="2.38" class="y"/>
<circle cx="36.0" cy="444.2" r="2.38" class="b"/>
<circle cx="90.7" cy="432.7" r="2.38" class="y"/>
<circle cx="34.2" cy="501.1" r="2.38" class="k"/>
<circle cx="76.5" cy="440.5" r="2.38" class="y"/>
<circle cx="57.9" cy="442.7" r="2.38" class="y"/>
<circle cx="113.4" cy="498.5" r="2.38" class="b"/>
<circle cx="51.6" cy="434.7" r="2.38" class="b"/>
<circle cx="23.5" cy="500.3" r="2.38" class="b"/>
<circle cx="82.1" cy="440.7" r="2.38" class="b"/>
<circle cx="112.4" cy="491.0" r="2.38" class="y"/>
<circle cx="57.8" cy="434.1" r="2.38" class="y"/>
<circle cx="42.0" cy="440.7" r="2.38" class="k"/>
<circle cx="39.3" cy="437.6" r="2.38" class="b"/>
<circle cx="32.5" cy="495.9" r="2.38" class="y"/>
<circle cx="46.0" cy="439.1" r="2.38" class="b"/>
<circle cx="53.8" cy="441.0" r="2.38" class="k"/>
<circle cx="103.4" cy="501.8" r="2.38" class="r"/>
<circle cx="61.7" cy="440.4" r="2.38" class="y"/>
<circle cx="62.4" cy="436.9" r="2.38" class="y"/>
<circle cx="85.6" cy="434.4" r="2.38" class="r"/>
<circle cx="25.8" cy="480.6" r="2.38" class="y"/>
<circle cx="79.6" cy="432.6" r="2.38" class="b"/>
<circle cx="114.7" cy="504.1" r="2.38" class="b"/>
<circle cx="111.2" cy="480.6" r="2.38" class="b"/>
<circle cx="114.9" cy="485.2" r="2.38" class="y"/>
<circle cx="31.8" cy="507.6" r="2.38" class="b"/>
<circle cx="39.5" cy="508.3" r="2.38" class="y"/>
<circle cx="26.5" cy="508.4" r="2.38" class="b"/>
<circle cx="36.9" cy="440.5" r="2.38" class="y"/>
<circle cx="108.4" cy="500.8" r="2.38" class="y"/>
<circle cx="23.9" cy="489.1" r="2.38" class="y"/>
<circle cx="29.3" cy="491.6" r="2.38" class="y"/>
<circle cx="117.3" cy="491.6" r="2.38" class="y"/>
<circle cx="30.4" cy="501.1" r="2.38" class="b"/>
<circle cx="37.7" cy="504.6" r="2.38" class="b"/>
<circle cx="89.3" cy="440.6" r="2.38" class="b"/>
<circle cx="35.9" cy="508.0" r="2.38" class="k"/>
<circle cx="71.5" cy="436.5" r="2.38" class="b"/>
<circle cx="47.3" cy="442.5" r="2.38" class="y"/>
<circle cx="26.2" cy="493.9" r="2.38" class="y"/>
<circle cx="99.4" cy="438.5" r="2.38" class="k"/>
<circle cx="108.6" cy="488.3" r="2.38" class="k"/>
<circle cx="51.3" cy="444.0" r="2.38" class="k"/>
<circle cx="27.6" cy="487.9" r="2.38" class="b"/>
<circle cx="108.8" cy="483.8" r="2.38" class="b"/>
<circle cx="115.7" cy="480.9" r="2.38" class="y"/>
<circle cx="39.5" cy="445.3" r="2.38" class="y"/>
<circle cx="94.7" cy="439.8" r="2.38" class="y"/>
<circle cx="97.0" cy="432.5" r="2.38" class="y"/>
<circle cx="65.2" cy="443.1" r="2.38" class="b"/>
<circle cx="80.0" cy="436.3" r="2.38" class="r"/>
<circle cx="28.2" cy="497.7" r="2.38" class="y"/>
<circle cx="104.0" cy="495.0" r="2.38" class="b"/>
<circle cx="108.2" cy="494.0" r="2.38" class="b"/>
<circle cx="114.6" cy="477.0" r="2.38" class="b"/>
<circle cx="35.0" cy="499.3" r="2.38" class="k"/>
<circle cx="26.7" cy="504.6" r="2.38" class="b"/>
<circle cx="61.2" cy="434.5" r="2.38" class="b"/>
<circle cx="103.9" cy="506.2" r="2.38" class="b"/>
<circle cx="111.6" cy="498.8" r="2.38" class="b"/>
<circle cx="90.9" cy="436.5" r="2.38" class="y"/>
<circle cx="55.1" cy="434.9" r="2.38" class="k"/>
<circle cx="111.0" cy="505.8" r="2.38" class="k"/>
<circle cx="115.8" cy="497.5" r="2.38" class="b"/>
<circle cx="27.6" cy="484.2" r="2.38" class="k"/>
<circle cx="92.9" cy="432.6" r="2.38" class="b"/>
<circle cx="50.9" cy="438.4" r="2.38" class="k"/>
<circle cx="85.7" cy="437.7" r="2.38" class="y"/>
<circle cx="34.2" cy="492.9" r="2.38" class="b"/>
<circle cx="23.0" cy="497.2" r="2.38" class="y"/>
<circle cx="66.7" cy="434.5" r="2.38" class="b"/>
<circle cx="102.2" cy="500.2" r="2.38" class="b"/>
<circle cx="85.6" cy="442.2" r="2.38" class="y"/>
<circle cx="114.2" cy="489.5" r="2.38" class="b"/>
<circle cx="118.5" cy="488.7" r="2.38" class="b"/>
<circle cx="113.9" cy="469.8" r="2.38" class="b"/>
<circle cx="43.9" cy="441.2" r="2.38" class="k"/>
<circle cx="45.7" cy="436.1" r="2.38" class="b"/>
<circle cx="114.0" cy="502.4" r="2.38" class="y"/>
<circle cx="111.0" cy="477.5" r="2.38" class="y"/>
<circle cx="103.6" cy="440.6" r="2.38" class="y"/>
<circle cx="58.0" cy="442.5" r="2.38" class="y"/>
<circle cx="106.6" cy="499.2" r="2.38" class="b"/>
<circle cx="69.1" cy="439.8" r="2.38" class="k"/>
<circle cx="113.5" cy="473.9" r="2.38" class="b"/>
<circle cx="31.3" cy="505.6" r="2.38" class="b"/>
<circle cx="32.0" cy="510.9" r="2.38" class="b"/>
<circle cx="39.1" cy="439.2" r="2.38" class="b"/>
<circle cx="24.5" cy="478.6" r="2.38" class="y"/>
<circle cx="33.1" cy="442.3" r="2.38" class="y"/>
<circle cx="74.4" cy="440.7" r="2.38" class="b"/>
<circle cx="63.1" cy="437.8" r="2.38" class="b"/>
<circle cx="54.9" cy="440.3" r="2.38" class="y"/>
<circle cx="43.8" cy="445.7" r="2.38" class="b"/>
<circle cx="36.7" cy="496.4" r="2.38" class="y"/>
<circle cx="77.0" cy="435.4" r="2.38" class="b"/>
<circle cx="34.1" cy="489.0" r="2.38" class="b"/>
<circle cx="112.3" cy="482.5" r="2.38" class="b"/>
<circle cx="26.6" cy="474.2" r="2.38" class="y"/>
<circle cx="102.6" cy="436.4" r="2.38" class="y"/>
<circle cx="79.3" cy="442.8" r="2.38" class="y"/>
<circle cx="30.9" cy="491.0" r="2.38" class="y"/>
<circle cx="115.2" cy="493.7" r="2.38" class="y"/>
<circle cx="88.8" cy="434.4" r="2.38" class="b"/>
<circle cx="58.1" cy="437.5" r="2.38" class="y"/>
<circle cx="35.8" cy="446.6" r="2.38" class="b"/>
<circle cx="23.2" cy="484.6" r="2.38" class="b"/>
<circle cx="98.5" cy="435.3" r="2.38" class="y"/>
<circle cx="108.2" cy="482.1" r="2.38" class="b"/>
<circle cx="24.9" cy="470.3" r="2.38" class="y"/>
<circle cx="22.4" cy="492.3" r="2.38" class="y"/>
<circle cx="69.9" cy="443.8" r="2.38" class="y"/>
<circle cx="98.2" cy="441.0" r="2.38" class="k"/>
<circle cx="31.5" cy="446.8" r="2.38" class="y"/>
<circle cx="81.9" cy="434.3" r="2.38" class="b"/>
<circle cx="111.5" cy="488.7" r="2.38" class="r"/>
<circle cx="31.8" cy="499.3" r="2.38" class="y"/>
<circle cx="40.5" cy="508.6" r="2.38" class="b"/>
<circle cx="104.3" cy="491.3" r="2.38" class="b"/>
<circle cx="78.2" cy="439.0" r="2.38" class="b"/>
<circle cx="110.4" cy="502.9" r="2.38" class="b"/>
<circle cx="101.3" cy="432.4" r="2.38" class="k"/>
<circle cx="109.2" cy="474.2" r="2.38" class="b"/>
<circle cx="53.9" cy="444.2" r="2.38" class="b"/>
<circle cx="108.7" cy="507.1" r="2.38" class="b"/>
<circle cx="38.9" cy="504.3" r="2.38" class="k"/>
<circle cx="26.3" cy="495.6" r="2.38" class="y"/>
<circle cx="27.6" cy="487.7" r="2.38" class="k"/>
<circle cx="21.2" cy="488.0" r="2.38" class="y"/>
<circle cx="112.4" cy="497.3" r="2.38" class="b"/>
<circle cx="93.4" cy="442.8" r="2.38" class="y"/>
<circle cx="37.0" cy="510.3" r="2.38" class="k"/>
<circle cx="65.2" cy="441.6" r="2.38" class="b"/>
<circle cx="118.9" cy="482.3" r="2.38" class="y"/>
<circle cx="102.9" cy="504.7" r="2.38" class="b"/>
<circle cx="51.2" cy="441.5" r="2.38" class="b"/>
<circle cx="104.8" cy="486.8" r="2.38" class="b"/>
<circle cx="73.3" cy="435.7" r="2.38" class="b"/>
<circle cx="22.9" cy="474.2" r="2.38" class="y"/>
<circle cx="32.7" cy="495.7" r="2.38" class="k"/>
<circle cx="116.3" cy="485.8" r="2.38" class="y"/>
<circle cx="113.7" cy="463.4" r="2.38" class="y"/>
<circle cx="29.3" cy="478.5" r="2.38" class="b"/>
<circle cx="34.4" cy="438.3" r="2.38" class="b"/>
<circle cx="91.8" cy="439.7" r="2.38" class="y"/>
<circle cx="28.4" cy="502.6" r="2.38" class="b"/>
<circle cx="119.4" cy="476.7" r="2.38" class="y"/>
<circle cx="48.8" cy="444.9" r="2.38" class="y"/>
<circle cx="67.5" cy="437.1" r="2.38" class="b"/>
<circle cx="108.2" cy="478.3" r="2.38" class="y"/>
<circle cx="109.5" cy="494.1" r="2.38" class="b"/>
<circle cx="83.9" cy="437.8" r="2.38" class="y"/>
<circle cx="35.4" cy="503.7" r="2.38" class="k"/>
<circle cx="108.9" cy="487.0" r="2.38" class="b"/>
<circle cx="105.8" cy="496.5" r="2.38" class="b"/>
<circle cx="114.7" cy="477.9" r="2.38" class="y"/>
<circle cx="99.8" cy="508.3" r="2.38" class="b"/>
<circle cx="39.7" cy="442.6" r="2.38" class="b"/>
<circle cx="104.3" cy="501.0" r="2.38" class="r"/>
<circle cx="63.9" cy="445.4" r="2.38" class="y"/>
<circle cx="31.9" cy="484.2" r="2.38" class="b"/>
<circle cx="25.2" cy="490.6" r="2.38" class="y"/>
<circle cx="96.2" cy="439.0" r="2.38" class="k"/>
<circle cx="73.9" cy="444.4" r="2.38" class="y"/>
<circle cx="58.3" cy="445.2" r="2.38" class="y"/>
<circle cx="94.5" cy="434.9" r="2.38" class="r"/>
<circle cx="41.8" cy="447.4" r="2.38" class="b"/>
<circle cx="111.0" cy="466.9" r="2.38" class="y"/>
<circle cx="117.8" cy="470.0" r="2.38" class="y"/>
<circle cx="33.5" cy="509.8" r="2.38" class="r"/>
<circle cx="71.0" cy="440.6" r="2.38" class="y"/>
<circle cx="84.9" cy="443.7" r="2.38" class="k"/>
<circle cx="21.8" cy="478.6" r="2.38" class="y"/>
<circle cx="104.7" cy="483.3" r="2.38" class="y"/>
<circle cx="112.5" cy="472.8" r="2.38" class="y"/>
<circle cx="35.5" cy="443.4" r="2.38" class="k"/>
<circle cx="40.5" cy="498.2" r="2.38" class="y"/>
<circle cx="47.3" cy="440.2" r="2.38" class="b"/>
<circle cx="105.1" cy="434.6" r="2.38" class="b"/>
<circle cx="37.0" cy="488.6" r="2.38" class="b"/>
<circle cx="28.1" cy="471.5" r="2.38" class="y"/>
<circle cx="114.0" cy="492.5" r="2.38" class="y"/>
<circle cx="89.9" cy="443.7" r="2.38" class="y"/>
<circle cx="57.3" cy="441.3" r="2.38" class="y"/>
<circle cx="103.0" cy="439.2" r="2.38" class="y"/>
<circle cx="87.3" cy="440.4" r="2.38" class="b"/>
<circle cx="53.4" cy="437.4" r="2.38" class="k"/>
<circle cx="43.1" cy="505.2" r="2.38" class="y"/>
<circle cx="107.2" cy="503.9" r="2.38" class="y"/>
<circle cx="29.2" cy="492.0" r="2.38" class="y"/>
<circle cx="35.8" cy="494.1" r="2.38" class="b"/>
<circle cx="45.5" cy="509.8" r="2.38" class="y"/>
<circle cx="28.4" cy="445.4" r="2.38" class="y"/>
<circle cx="107.8" cy="438.5" r="2.38" class="y"/>
<circle cx="110.8" cy="500.5" r="2.38" class="b"/>
<circle cx="25.2" cy="482.0" r="2.38" class="y"/>
<circle cx="88.4" cy="436.6" r="2.38" class="y"/>
<circle cx="79.1" cy="435.7" r="2.38" class="b"/>
<circle cx="23.6" cy="471.8" r="2.38" class="y"/>
<circle cx="61.8" cy="442.9" r="2.38" class="b"/>
<circle cx="43.9" cy="513.8" r="2.38" class="y"/>
<circle cx="116.2" cy="466.6" r="2.38" class="y"/>
<circle cx="75.7" cy="439.4" r="2.38" class="b"/>
<circle cx="80.7" cy="440.6" r="2.38" class="b"/>
<circle cx="101.1" cy="501.3" r="2.38" class="b"/>
<circle cx="116.5" cy="474.3" r="2.38" class="y"/>
<circle cx="24.9" cy="467.9" r="2.38" class="b"/>
<circle cx="30.4" cy="448.8" r="2.38" class="b"/>
<circle cx="29.1" cy="486.4" r="2.38" class="k"/>
<circle cx="37.4" cy="447.1" r="2.38" class="y"/>
<circle cx="69.9" cy="446.2" r="2.38" class="y"/>
<circle cx="24.2" cy="485.9" r="2.38" class="k"/>
<circle cx="23.7" cy="463.4" r="2.38" class="y"/>
<circle cx="33.4" cy="500.5" r="2.38" class="k"/>
<circle cx="38.3" cy="508.8" r="2.38" class="y"/>
<circle cx="31.5" cy="440.6" r="2.38" class="k"/>
<circle cx="38.0" cy="439.5" r="2.38" class="y"/>
<circle cx="116.4" cy="483.3" r="2.38" class="b"/>
<circle cx="80.5" cy="444.5" r="2.38" class="r"/>
<circle cx="28.6" cy="498.2" r="2.38" class="r"/>
<circle cx="31.1" cy="474.5" r="2.38" class="y"/>
<circle cx="103.1" cy="497.5" r="2.38" class="y"/>
<circle cx="25.5" cy="477.2" r="2.38" class="y"/>
<circle cx="43.6" cy="444.6" r="2.38" class="b"/>
<circle cx="63.4" cy="439.2" r="2.38" class="y"/>
<circle cx="43.2" cy="439.9" r="2.38" class="y"/>
<circle cx="53.2" cy="446.7" r="2.38" class="r"/>
<circle cx="101.0" cy="443.8" r="2.38" class="k"/>
<circle cx="99.9" cy="493.6" r="2.38" class="b"/>
<circle cx="53.3" cy="440.8" r="2.38" class="y"/>
<circle cx="45.0" cy="502.4" r="2.38" class="b"/>
<circle cx="70.8" cy="437.6" r="2.38" class="b"/>
<circle cx="120.9" cy="472.3" r="2.38" class="k"/>
<circle cx="109.8" cy="464.4" r="2.38" class="y"/>
<circle cx="115.9" cy="459.7" r="2.38" class="y"/>
<circle cx="34.0" cy="487.2" r="2.38" class="b"/>
<circle cx="104.2" cy="491.3" r="2.38" class="y"/>
<circle cx="107.2" cy="442.6" r="2.38" class="b"/>
<circle cx="36.6" cy="484.5" r="2.38" class="k"/>
<circle cx="37.6" cy="515.3" r="2.38" class="y"/>
<circle cx="21.1" cy="482.2" r="2.38" class="b"/>
<circle cx="67.5" cy="441.6" r="2.38" class="y"/>
<circle cx="107.4" cy="509.2" r="2.38" class="y"/>
<circle cx="34.5" cy="507.4" r="2.38" class="b"/>
<circle cx="109.4" cy="475.5" r="2.38" class="y"/>
<circle cx="112.7" cy="470.2" r="2.38" class="b"/>
<circle cx="99.3" cy="512.4" r="2.38" class="b"/>
<circle cx="104.2" cy="511.8" r="2.38" class="y"/>
<circle cx="98.8" cy="435.0" r="2.38" class="b"/>
<circle cx="112.7" cy="478.2" r="2.38" class="y"/>
<circle cx="111.2" cy="483.6" r="2.38" class="b"/>
<circle cx="48.2" cy="515.3" r="2.38" class="y"/>
<circle cx="58.6" cy="447.4" r="2.38" class="b"/>
<circle cx="41.8" cy="494.7" r="2.38" class="y"/>
<circle cx="113.4" cy="456.4" r="2.38" class="r"/>
<circle cx="95.8" cy="504.7" r="2.38" class="y"/>
<circle cx="108.8" cy="470.9" r="2.38" class="y"/>
<circle cx="23.1" cy="457.6" r="2.38" class="y"/>
<circle cx="113.1" cy="488.9" r="2.38" class="y"/>
<circle cx="35.3" cy="479.2" r="2.38" class="b"/>
<circle cx="19.8" cy="472.3" r="2.38" class="y"/>
<circle cx="27.3" cy="465.3" r="2.38" class="b"/>
<circle cx="112.4" cy="461.3" r="2.38" class="y"/>
<circle cx="105.7" cy="475.1" r="2.38" class="b"/>
<circle cx="47.5" cy="507.5" r="2.38" class="k"/>
<circle cx="48.1" cy="446.7" r="2.38" class="r"/>
<circle cx="24.7" cy="448.1" r="2.38" class="k"/>
<circle cx="77.1" cy="446.0" r="2.38" class="b"/>
<circle cx="98.5" cy="439.5" r="2.38" class="b"/>
<circle cx="37.2" cy="503.9" r="2.38" class="b"/>
<circle cx="39.9" cy="443.7" r="2.38" class="b"/>
<circle cx="28.8" cy="483.2" r="2.38" class="y"/>
<circle cx="40.4" cy="501.6" r="2.38" class="y"/>
<circle cx="83.9" cy="436.3" r="2.38" class="b"/>
<circle cx="96.3" cy="510.1" r="2.38" class="b"/>
<circle cx="106.6" cy="495.3" r="2.38" class="y"/>
<circle cx="41.4" cy="447.5" r="2.38" class="b"/>
<circle cx="20.0" cy="477.4" r="2.38" class="b"/>
<circle cx="40.6" cy="512.7" r="2.38" class="y"/>
<circle cx="20.5" cy="463.3" r="2.38" class="y"/>
<circle cx="101.8" cy="509.0" r="2.38" class="b"/>
<circle cx="50.5" cy="511.3" r="2.38" class="b"/>
<circle cx="33.9" cy="445.2" r="2.38" class="b"/>
<circle cx="58.8" cy="438.7" r="2.38" class="b"/>
<circle cx="119.0" cy="469.0" r="2.38" class="k"/>
<circle cx="108.6" cy="502.1" r="2.38" class="r"/>
<circle cx="112.4" cy="442.2" r="2.38" class="y"/>
<circle cx="114.2" cy="451.6" r="2.38" class="b"/>
<circle cx="107.6" cy="482.8" r="2.38" class="y"/>
<circle cx="34.3" cy="497.9" r="2.38" class="b"/>
<circle cx="72.3" cy="444.6" r="2.38" class="y"/>
<circle cx="85.5" cy="445.5" r="2.38" class="b"/>
<circle cx="95.2" cy="443.2" r="2.38" class="b"/>
<circle cx="38.1" cy="449.9" r="2.38" class="y"/>
<circle cx="26.9" cy="445.0" r="2.38" class="y"/>
<circle cx="38.9" cy="491.7" r="2.38" class="y"/>
<circle cx="66.6" cy="438.0" r="2.38" class="k"/>
<circle cx="32.4" cy="481.9" r="2.38" class="r"/>
<circle cx="90.5" cy="445.0" r="2.38" class="y"/>
<circle cx="109.1" cy="437.0" r="2.38" class="b"/>
<circle cx="110.7" cy="494.4" r="2.38" class="b"/>
<circle cx="88.0" cy="441.8" r="2.38" class="y"/>
<circle cx="92.7" cy="439.5" r="2.38" class="b"/>
<circle cx="120.4" cy="461.4" r="2.38" class="k"/>
<circle cx="112.9" cy="466.6" r="2.38" class="r"/>
<circle cx="104.1" cy="485.5" r="2.38" class="b"/>
<circle cx="30.7" cy="469.4" r="2.38" class="y"/>
<circle cx="115.8" cy="481.0" r="2.38" class="b"/>
<circle cx="36.4" cy="494.8" r="2.38" class="b"/>
<circle cx="97.6" cy="500.5" r="2.38" class="b"/>
<circle cx="27.4" cy="461.5" r="2.38" class="y"/>
<circle cx="43.0" cy="506.5" r="2.38" class="b"/>
<circle cx="31.9" cy="493.7" r="2.38" class="y"/>
<circle cx="26.2" cy="471.3" r="2.38" class="y"/>
<circle cx="121.6" cy="465.5" r="2.38" class="b"/>
<circle cx="107.2" cy="489.5" r="2.38" class="y"/>
<circle cx="115.7" cy="445.9" r="2.38" class="y"/>
<circle cx="104.1" cy="437.2" r="2.38" class="b"/>
<circle cx="45.0" cy="517.0" r="2.38" class="b"/>
<circle cx="41.3" cy="488.8" r="2.38" class="b"/>
<circle cx="105.4" cy="479.5" r="2.38" class="b"/>
<circle cx="29.3" cy="474.9" r="2.38" class="r"/>
<circle cx="49.9" cy="442.1" r="2.38" class="b"/>
<circle cx="118.0" cy="456.2" r="2.38" class="k"/>
<circle cx="33.2" cy="448.6" r="2.38" class="b"/>
<circle cx="102.3" cy="491.0" r="2.38" class="y"/>
<circle cx="108.1" cy="462.8" r="2.38" class="y"/>
<circle cx="37.7" cy="509.3" r="2.38" class="y"/>
<circle cx="37.0" cy="441.8" r="2.38" class="k"/>
<circle cx="116.1" cy="463.3" r="2.38" class="b"/>
<circle cx="64.6" cy="445.9" r="2.38" class="b"/>
<circle cx="51.5" cy="448.9" r="2.38" class="b"/>
<circle cx="28.2" cy="489.8" r="2.38" class="k"/>
<circle cx="39.7" cy="498.1" r="2.38" class="b"/>
<circle cx="76.6" cy="439.7" r="2.38" class="b"/>
<circle cx="28.3" cy="450.6" r="2.38" class="k"/>
<circle cx="32.3" cy="477.8" r="2.38" class="r"/>
<circle cx="32.4" cy="486.5" r="2.38" class="b"/>
<circle cx="60.4" cy="444.6" r="2.38" class="b"/>
<circle cx="109.1" cy="498.4" r="2.38" class="y"/>
<circle cx="108.8" cy="467.2" r="2.38" class="y"/>
<circle cx="101.1" cy="496.8" r="2.38" class="y"/>
<circle cx="111.1" cy="458.6" r="2.38" class="r"/>
<circle cx="25.5" cy="441.9" r="2.38" class="b"/>
<circle cx="105.1" cy="440.7" r="2.38" class="b"/>
<circle cx="41.3" cy="517.1" r="2.38" class="b"/>
<circle cx="22.9" cy="451.8" r="2.38" class="b"/>
<circle cx="117.4" cy="473.1" r="2.38" class="y"/>
<circle cx="100.6" cy="485.7" r="2.38" class="b"/>
<circle cx="44.4" cy="441.1" r="2.38" class="r"/>
<circle cx="101.5" cy="504.0" r="2.38" class="b"/>
<circle cx="30.7" cy="442.7" r="2.38" class="y"/>
<circle cx="45.8" cy="512.9" r="2.38" class="b"/>
<circle cx="45.6" cy="497.8" r="2.38" class="r"/>
<circle cx="95.8" cy="437.0" r="2.38" class="b"/>
<circle cx="21.4" cy="467.7" r="2.38" class="b"/>
<circle cx="54.3" cy="442.5" r="2.38" class="y"/>
<circle cx="105.4" cy="498.9" r="2.38" class="b"/>
<circle cx="25.7" cy="482.4" r="2.38" class="b"/>
<circle cx="82.6" cy="440.7" r="2.38" class="b"/>
<circle cx="53.6" cy="514.0" r="2.38" class="r"/>
<circle cx="111.8" cy="476.4" r="2.38" class="y"/>
<circle cx="118.2" cy="449.3" r="2.38" class="b"/>
<circle cx="111.4" cy="487.1" r="2.38" class="b"/>
<circle cx="112.6" cy="454.8" r="2.38" class="y"/>
<circle cx="104.3" cy="474.0" r="2.38" class="y"/>
<circle cx="105.6" cy="505.2" r="2.38" class="k"/>
<circle cx="40.0" cy="483.5" r="2.38" class="b"/>
<circle cx="63.5" cy="441.8" r="2.38" class="b"/>
<circle cx="105.3" cy="510.7" r="2.38" class="b"/>
<circle cx="101.8" cy="445.8" r="2.38" class="y"/>
<circle cx="94.0" cy="506.1" r="2.38" class="b"/>
<circle cx="17.0" cy="466.9" r="2.38" class="b"/>
<circle cx="70.9" cy="448.5" r="2.38" class="r"/>
<circle cx="102.3" cy="514.1" r="2.38" class="b"/>
<circle cx="42.2" cy="510.9" r="2.38" class="b"/>
<circle cx="27.7" cy="479.1" r="2.38" class="b"/>
<circle cx="95.1" cy="515.4" r="2.38" class="y"/>
<circle cx="56.0" cy="449.5" r="2.38" class="y"/>
<circle cx="28.0" cy="486.3" r="2.38" class="b"/>
<circle cx="74.8" cy="446.7" r="2.38" class="r"/>
<circle cx="61.0" cy="448.2" r="2.38" class="b"/>
<circle cx="45.0" cy="502.4" r="2.38" class="b"/>
<circle cx="37.6" cy="480.1" r="2.38" class="k"/>
<circle cx="88.1" cy="437.8" r="2.38" class="b"/>
<circle cx="24.5" cy="455.3" r="2.38" class="y"/>
<circle cx="48.8" cy="501.2" r="2.38" class="y"/>
<circle cx="51.0" cy="517.9" r="2.38" class="r"/>
<circle cx="21.8" cy="471.9" r="2.38" class="r"/>
<circle cx="32.5" cy="473.6" r="2.38" class="y"/>
<circle cx="45.2" cy="445.9" r="2.38" class="k"/>
<circle cx="114.3" cy="438.2" r="2.38" class="b"/>
<circle cx="110.2" cy="443.7" r="2.38" class="k"/>
<circle cx="96.4" cy="495.0" r="2.38" class="r"/>
<circle cx="79.6" cy="443.4" r="2.38" class="y"/>
<circle cx="71.4" cy="441.4" r="2.38" class="y"/>
<circle cx="41.7" cy="494.0" r="2.38" class="b"/>
<circle cx="88.1" cy="447.6" r="2.38" class="b"/>
<circle cx="102.6" cy="479.5" r="2.38" class="y"/>
<circle cx="108.5" cy="475.1" r="2.38" class="y"/>
<circle cx="101.7" cy="439.3" r="2.38" class="b"/>
<circle cx="38.9" cy="502.3" r="2.38" class="r"/>
<circle cx="37.1" cy="475.9" r="2.38" class="b"/>
<circle cx="48.5" cy="507.5" r="2.38" class="k"/>
<circle cx="109.1" cy="493.9" r="2.38" class="k"/>
<circle cx="68.1" cy="444.0" r="2.38" class="y"/>
<circle cx="40.2" cy="507.3" r="2.38" class="b"/>
<circle cx="20.1" cy="455.9" r="2.38" class="b"/>
<circle cx="23.3" cy="475.8" r="2.38" class="b"/>
<circle cx="108.2" cy="486.0" r="2.38" class="y"/>
<circle cx="113.6" cy="461.4" r="2.38" class="y"/>
<circle cx="95.4" cy="440.9" r="2.38" class="y"/>
<circle cx="41.2" cy="450.6" r="2.38" class="b"/>
<circle cx="97.4" cy="444.5" r="2.38" class="b"/>
<circle cx="117.8" cy="469.2" r="2.38" class="y"/>
<circle cx="90.9" cy="443.1" r="2.38" class="y"/>
<circle cx="83.5" cy="446.4" r="2.38" class="b"/>
<circle cx="120.6" cy="454.2" r="2.38" class="r"/>
<circle cx="37.6" cy="487.0" r="2.38" class="y"/>
<circle cx="99.0" cy="489.8" r="2.38" class="b"/>
<circle cx="106.0" cy="445.7" r="2.38" class="b"/>
<circle cx="36.1" cy="471.7" r="2.38" class="b"/>
<circle cx="59.7" cy="440.4" r="2.38" class="y"/>
<circle cx="37.0" cy="451.3" r="2.38" class="y"/>
<circle cx="112.6" cy="465.5" r="2.38" class="y"/>
<circle cx="114.6" cy="472.5" r="2.38" class="b"/>
<circle cx="49.7" cy="446.3" r="2.38" class="y"/>
<circle cx="79.3" cy="447.2" r="2.38" class="k"/>
<circle cx="31.8" cy="491.6" r="2.38" class="b"/>
<circle cx="109.1" cy="455.4" r="2.38" class="b"/>
<circle cx="93.6" cy="511.8" r="2.38" class="b"/>
<circle cx="34.8" cy="498.2" r="2.38" class="b"/>
<circle cx="26.3" cy="446.8" r="2.38" class="y"/>
<circle cx="56.5" cy="519.0" r="2.38" class="r"/>
<circle cx="21.1" cy="464.0" r="2.38" class="b"/>
<circle cx="120.3" cy="460.1" r="2.38" class="y"/>
<circle cx="30.7" cy="464.4" r="2.38" class="y"/>
<circle cx="24.9" cy="466.2" r="2.38" class="b"/>
<circle cx="22.4" cy="459.6" r="2.38" class="y"/>
<circle cx="101.0" cy="476.1" r="2.38" class="y"/>
<circle cx="17.7" cy="459.9" r="2.38" class="b"/>
<circle cx="85.8" cy="443.0" r="2.38" class="y"/>
<circle cx="109.0" cy="440.0" r="2.38" class="k"/>
<circle cx="113.9" cy="447.0" r="2.38" class="b"/>
<circle cx="105.7" cy="492.3" r="2.38" class="r"/>
<circle cx="97.6" cy="510.3" r="2.38" class="y"/>
<circle cx="36.1" cy="447.4" r="2.38" class="k"/>
<circle cx="103.1" cy="483.7" r="2.38" class="b"/>
<circle cx="43.6" cy="489.6" r="2.38" class="b"/>
<circle cx="38.7" cy="496.7" r="2.38" class="b"/>
<circle cx="21.1" cy="447.0" r="2.38" class="k"/>
<circle cx="35.3" cy="442.8" r="2.38" class="y"/>
<circle cx="116.1" cy="452.7" r="2.38" class="y"/>
<circle cx="41.3" cy="443.7" r="2.38" class="r"/>
<circle cx="32.7" cy="452.5" r="2.38" class="b"/>
<circle cx="106.0" cy="461.9" r="2.38" class="r"/>
<circle cx="57.2" cy="445.6" r="2.38" class="b"/>
<circle cx="26.0" cy="462.6" r="2.38" class="y"/>
<circle cx="107.2" cy="480.9" r="2.38" class="b"/>
<circle cx="35.8" cy="492.3" r="2.38" class="y"/>
<circle cx="104.8" cy="471.0" r="2.38" class="y"/>
<circle cx="19.2" cy="450.2" r="2.38" class="y"/>
<circle cx="48.7" cy="515.4" r="2.38" class="b"/>
<circle cx="99.7" cy="506.4" r="2.38" class="b"/>
<circle cx="111.6" cy="480.4" r="2.38" class="y"/>
<circle cx="31.1" cy="445.9" r="2.38" class="k"/>
<circle cx="96.4" cy="504.0" r="2.38" class="b"/>
<circle cx="25.4" cy="450.6" r="2.38" class="k"/>
<circle cx="51.6" cy="441.9" r="2.38" class="y"/>
<circle cx="99.0" cy="484.9" r="2.38" class="y"/>
<circle cx="103.3" cy="488.0" r="2.38" class="y"/>
<circle cx="47.0" cy="449.5" r="2.38" class="k"/>
<circle cx="105.6" cy="436.9" r="2.38" class="y"/>
<circle cx="95.0" cy="447.7" r="2.38" class="y"/>
<circle cx="30.6" cy="470.0" r="2.38" class="y"/>
<circle cx="43.9" cy="507.4" r="2.38" class="b"/>
<circle cx="109.7" cy="450.6" r="2.38" class="y"/>
<circle cx="115.7" cy="442.2" r="2.38" class="r"/>
<circle cx="29.0" cy="483.9" r="2.38" class="b"/>
<circle cx="46.8" cy="519.5" r="2.38" class="b"/>
<circle cx="43.9" cy="485.3" r="2.38" class="y"/>
<circle cx="110.7" cy="471.3" r="2.38" class="b"/>
<circle cx="101.5" cy="502.1" r="2.38" class="b"/>
<circle cx="33.2" cy="488.4" r="2.38" class="r"/>
<circle cx="24.6" cy="443.6" r="2.38" class="b"/>
<circle cx="79.9" cy="439.4" r="2.38" class="b"/>
<circle cx="42.5" cy="501.5" r="2.38" class="y"/>
<circle cx="92.2" cy="439.4" r="2.38" class="y"/>
<circle cx="110.6" cy="460.4" r="2.38" class="r"/>
<circle cx="109.2" cy="464.7" r="2.38" class="y"/>
<circle cx="31.6" cy="477.7" r="2.38" class="b"/>
<circle cx="27.4" cy="457.1" r="2.38" class="y"/>
<circle cx="118.3" cy="446.5" r="2.38" class="b"/>
<circle cx="94.0" cy="496.7" r="2.38" class="y"/>
<circle cx="100.1" cy="494.2" r="2.38" class="y"/>
<circle cx="64.3" cy="445.7" r="2.38" class="y"/>
<circle cx="90.0" cy="516.8" r="2.38" class="y"/>
<circle cx="53.4" cy="448.6" r="2.38" class="y"/>
<circle cx="99.3" cy="441.6" r="2.38" class="b"/>
<circle cx="21.9" cy="453.5" r="2.38" class="y"/>
<circle cx="71.9" cy="444.5" r="2.38" class="y"/>
<circle cx="122.6" cy="448.9" r="2.38" class="b"/>
<circle cx="103.5" cy="508.8" r="2.38" class="b"/>
<circle cx="96.2" cy="491.2" r="2.38" class="y"/>
<circle cx="51.0" cy="511.6" r="2.38" class="y"/>
<circle cx="27.3" cy="472.2" r="2.38" class="y"/>
<circle cx="93.4" cy="501.7" r="2.38" class="b"/>
<circle cx="58.1" cy="516.1" r="2.38" class="b"/>
<circle cx="48.4" cy="495.6" r="2.38" class="r"/>
<circle cx="97.7" cy="498.9" r="2.38" class="y"/>
<circle cx="29.5" cy="449.5" r="2.38" class="k"/>
<circle cx="108.8" cy="490.2" r="2.38" class="y"/>
<circle cx="65.1" cy="449.7" r="2.38" class="b"/>
<circle cx="97.4" cy="438.0" r="2.38" class="y"/>
<circle cx="52.9" cy="508.0" r="2.38" class="y"/>
<circle cx="90.2" cy="509.6" r="2.38" class="b"/>
<circle cx="112.8" cy="436.8" r="2.38" class="y"/>
<circle cx="33.8" cy="482.0" r="2.38" class="y"/>
<circle cx="117.9" cy="436.6" r="2.38" class="y"/>
<circle cx="103.7" cy="465.2" r="2.38" class="y"/>
<circle cx="120.8" cy="442.5" r="2.38" class="b"/>
<circle cx="52.0" cy="521.1" r="2.38" class="y"/>
<circle cx="31.4" cy="461.6" r="2.38" class="b"/>
<circle cx="41.1" cy="482.5" r="2.38" class="b"/>
<circle cx="76.0" cy="441.0" r="2.38" class="b"/>
<circle cx="115.3" cy="458.8" r="2.38" class="b"/>
<circle cx="55.6" cy="441.7" r="2.38" class="b"/>
<circle cx="45.2" cy="515.0" r="2.38" class="b"/>
<circle cx="86.7" cy="447.2" r="2.38" class="k"/>
<circle cx="51.3" cy="500.9" r="2.38" class="k"/>
<circle cx="27.2" cy="476.4" r="2.38" class="b"/>
<circle cx="50.1" cy="452.1" r="2.38" class="b"/>
<circle cx="111.9" cy="443.0" r="2.38" class="b"/>
<circle cx="105.8" cy="499.0" r="2.38" class="y"/>
<circle cx="112.9" cy="454.5" r="2.38" class="k"/>
<circle cx="81.5" cy="444.9" r="2.38" class="b"/>
<circle cx="73.5" cy="450.1" r="2.38" class="k"/>
<circle cx="103.5" cy="442.3" r="2.38" class="b"/>
<circle cx="21.7" cy="467.4" r="2.38" class="b"/>
<circle cx="35.9" cy="468.2" r="2.38" class="k"/>
<circle cx="117.0" cy="465.1" r="2.38" class="y"/>
<circle cx="85.0" cy="440.1" r="2.38" class="b"/>
<circle cx="100.0" cy="445.8" r="2.38" class="y"/>
<circle cx="94.0" cy="506.4" r="2.38" class="b"/>
<circle cx="113.3" cy="475.4" r="2.38" class="y"/>
<circle cx="40.4" cy="490.2" r="2.38" class="b"/>
<circle cx="54.0" cy="515.4" r="2.38" class="r"/>
<circle cx="92.8" cy="444.6" r="2.38" class="k"/>
<circle cx="70.4" cy="440.6" r="2.38" class="b"/>
<circle cx="38.8" cy="486.0" r="2.38" class="b"/>
<circle cx="44.0" cy="497.1" r="2.38" class="b"/>
<circle cx="104.3" cy="495.1" r="2.38" class="b"/>
<circle cx="77.9" cy="449.2" r="2.38" class="y"/>
<circle cx="38.7" cy="446.4" r="2.38" class="b"/>
<circle cx="107.4" cy="453.7" r="2.38" class="y"/>
<circle cx="37.8" cy="473.3" r="2.38" class="b"/>
<circle cx="104.9" cy="476.9" r="2.38" class="y"/>
<circle cx="106.8" cy="487.3" r="2.38" class="b"/>
<circle cx="61.1" cy="448.0" r="2.38" class="b"/>
<circle cx="109.5" cy="483.7" r="2.38" class="b"/>
<circle cx="107.5" cy="469.0" r="2.38" class="y"/>
<circle cx="46.3" cy="502.3" r="2.38" class="y"/>
<circle cx="91.4" cy="448.4" r="2.38" class="b"/>
<circle cx="100.8" cy="470.1" r="2.38" class="y"/>
<circle cx="95.8" cy="511.2" r="2.38" class="b"/>
<circle cx="93.4" cy="518.4" r="2.38" class="k"/>
<circle cx="66.4" cy="443.0" r="2.38" class="y"/>
<circle cx="46.7" cy="443.4" r="2.38" class="b"/>
<circle cx="110.2" cy="447.5" r="2.38" class="b"/>
<circle cx="55.4" cy="451.8" r="2.38" class="b"/>
<circle cx="21.6" cy="445.0" r="2.38" class="y"/>
<circle cx="56.8" cy="512.0" r="2.38" class="r"/>
<circle cx="99.1" cy="516.5" r="2.38" class="b"/>
<circle cx="120.1" cy="453.5" r="2.38" class="y"/>
<circle cx="98.4" cy="479.9" r="2.38" class="b"/>
<circle cx="77.0" cy="445.5" r="2.38" class="b"/>
<circle cx="18.6" cy="455.6" r="2.38" class="y"/>
<circle cx="33.7" cy="444.4" r="2.38" class="y"/>
<circle cx="95.4" cy="486.5" r="2.38" class="y"/>
<circle cx="60.6" cy="444.0" r="2.38" class="b"/>
<circle cx="34.4" cy="451.1" r="2.38" class="y"/>
<circle cx="47.3" cy="488.5" r="2.38" class="y"/>
<circle cx="49.2" cy="446.9" r="2.38" class="b"/>
<circle cx="32.8" cy="458.3" r="2.38" class="y"/>
<circle cx="118.3" cy="440.1" r="2.38" class="r"/>
<circle cx="103.1" cy="448.6" r="2.38" class="y"/>
<circle cx="19.7" cy="448.5" r="2.38" class="r"/>
<circle cx="31.5" cy="453.9" r="2.38" class="b"/>
<circle cx="44.9" cy="492.2" r="2.38" class="b"/>
<circle cx="107.8" cy="459.6" r="2.38" class="y"/>
<circle cx="50.3" cy="492.0" r="2.38" class="k"/>
<circle cx="22.2" cy="460.7" r="2.38" class="b"/>
<circle cx="40.6" cy="476.5" r="2.38" class="y"/>
<circle cx="43.4" cy="447.8" r="2.38" class="b"/>
<circle cx="46.7" cy="484.1" r="2.38" class="b"/>
<circle cx="100.1" cy="490.7" r="2.38" class="b"/>
<circle cx="113.2" cy="468.3" r="2.38" class="y"/>
<circle cx="49.8" cy="518.7" r="2.38" class="b"/>
<circle cx="92.9" cy="492.8" r="2.38" class="b"/>
<circle cx="33.4" cy="465.1" r="2.38" class="b"/>
<circle cx="69.0" cy="451.5" r="2.38" class="y"/>
<circle cx="35.4" cy="487.6" r="2.38" class="b"/>
<circle cx="92.5" cy="513.1" r="2.38" class="b"/>
<circle cx="53.9" cy="504.8" r="2.38" class="r"/>
<circle cx="110.0" cy="477.8" r="2.38" class="b"/>
<circle cx="37.9" cy="494.3" r="2.38" class="b"/>
<circle cx="83.4" cy="450.4" r="2.38" class="b"/>
<circle cx="86.5" cy="444.1" r="2.38" class="y"/>
<circle cx="100.9" cy="476.1" r="2.38" class="r"/>
<circle cx="91.4" cy="497.6" r="2.38" class="r"/>
<circle cx="96.6" cy="441.7" r="2.38" class="k"/>
<circle cx="45.9" cy="453.6" r="2.38" class="b"/>
<circle cx="33.1" cy="476.2" r="2.38" class="y"/>
<circle cx="24.8" cy="456.8" r="2.38" class="k"/>
<circle cx="47.5" cy="507.6" r="2.38" class="y"/>
<circle cx="122.3" cy="437.5" r="2.38" class="b"/>
<circle cx="119.0" cy="449.0" r="2.38" class="b"/>
<circle cx="27.8" cy="461.5" r="2.38" class="y"/>
<circle cx="27.3" cy="468.8" r="2.38" class="b"/>
<circle cx="106.8" cy="438.9" r="2.38" class="k"/>
<circle cx="43.5" cy="507.7" r="2.38" class="b"/>
<circle cx="100.0" cy="512.0" r="2.38" class="r"/>
<circle cx="90.2" cy="440.6" r="2.38" class="b"/>
<circle cx="54.4" cy="444.6" r="2.38" class="b"/>
<circle cx="15.8" cy="446.3" r="2.38" class="y"/>
<circle cx="37.0" cy="480.0" r="2.38" class="y"/>
<circle cx="35.5" cy="461.3" r="2.38" class="b"/>
<circle cx="16.7" cy="450.8" r="2.38" class="y"/>
<circle cx="24.5" cy="464.8" r="2.38" class="b"/>
<circle cx="40.0" cy="450.3" r="2.38" class="b"/>
<circle cx="61.0" cy="522.2" r="2.38" class="b"/>
<circle cx="31.3" cy="447.5" r="2.38" class="b"/>
<circle cx="114.4" cy="447.9" r="2.38" class="b"/>
<circle cx="98.1" cy="520.9" r="2.38" class="b"/>
<circle cx="87.0" cy="514.9" r="2.38" class="y"/>
<circle cx="123.5" cy="443.9" r="2.38" class="b"/>
<circle cx="91.5" cy="503.7" r="2.38" class="b"/>
<circle cx="96.3" cy="447.2" r="2.38" class="y"/>
<circle cx="101.5" cy="505.0" r="2.38" class="y"/>
<circle cx="65.7" cy="446.9" r="2.38" class="y"/>
<circle cx="71.3" cy="446.3" r="2.38" class="b"/>
<circle cx="57.4" cy="448.9" r="2.38" class="b"/>
<circle cx="40.9" cy="498.0" r="2.38" class="k"/>
<circle cx="60.0" cy="452.1" r="2.38" class="y"/>
<circle cx="38.1" cy="454.3" r="2.38" class="b"/>
<circle cx="112.7" cy="464.3" r="2.38" class="b"/>
<circle cx="33.2" cy="469.5" r="2.38" class="b"/>
<circle cx="101.5" cy="463.8" r="2.38" class="y"/>
<circle cx="24.1" cy="450.6" r="2.38" class="k"/>
<circle cx="117.9" cy="457.2" r="2.38" class="y"/>
<circle cx="104.8" cy="483.3" r="2.38" class="b"/>
<circle cx="56.8" cy="522.1" r="2.38" class="b"/>
<circle cx="48.2" cy="514.0" r="2.38" class="y"/>
<circle cx="29.6" cy="473.3" r="2.38" class="b"/>
<circle cx="110.9" cy="473.6" r="2.38" class="b"/>
<circle cx="48.9" cy="499.3" r="2.38" class="y"/>
<circle cx="57.6" cy="508.8" r="2.38" class="y"/>
<circle cx="106.8" cy="445.7" r="2.38" class="b"/>
<circle cx="80.6" cy="442.7" r="2.38" class="b"/>
<circle cx="112.8" cy="459.3" r="2.38" class="y"/>
<circle cx="37.1" cy="484.3" r="2.38" class="b"/>
<circle cx="26.9" cy="445.6" r="2.38" class="y"/>
<circle cx="102.7" cy="500.8" r="2.38" class="y"/>
<circle cx="102.4" cy="439.7" r="2.38" class="y"/>
<circle cx="97.1" cy="500.8" r="2.38" class="y"/>
<circle cx="107.8" cy="464.4" r="2.38" class="y"/>
<circle cx="96.6" cy="495.0" r="2.38" class="b"/>
<circle cx="115.0" cy="439.5" r="2.38" class="b"/>
<circle cx="43.9" cy="501.6" r="2.38" class="y"/>
<circle cx="90.2" cy="521.5" r="2.38" class="k"/>
<circle cx="33.3" cy="482.0" r="2.38" class="y"/>
<circle cx="29.6" cy="457.7" r="2.38" class="y"/>
<circle cx="99.1" cy="484.3" r="2.38" class="r"/>
<circle cx="74.3" cy="452.1" r="2.38" class="b"/>
<circle cx="37.2" cy="466.0" r="2.38" class="k"/>
<circle cx="54.0" cy="518.7" r="2.38" class="r"/>
<circle cx="40.5" cy="470.4" r="2.38" class="y"/>
<circle cx="52.1" cy="523.2" r="2.38" class="y"/>
<circle cx="42.7" cy="488.5" r="2.38" class="b"/>
<circle cx="105.3" cy="492.1" r="2.38" class="k"/>
<circle cx="86.8" cy="519.8" r="2.38" class="y"/>
<circle cx="106.0" cy="472.8" r="2.38" class="k"/>
<circle cx="92.3" cy="443.6" r="2.38" class="y"/>
<circle cx="105.0" cy="460.2" r="2.38" class="b"/>
<circle cx="51.9" cy="495.5" r="2.38" class="y"/>
<circle cx="28.4" cy="452.9" r="2.38" class="y"/>
<circle cx="107.9" cy="456.3" r="2.38" class="y"/>
<circle cx="91.7" cy="509.0" r="2.38" class="y"/>
<circle cx="96.0" cy="506.0" r="2.38" class="k"/>
<circle cx="36.6" cy="446.3" r="2.38" class="b"/>
<circle cx="80.9" cy="448.8" r="2.38" class="b"/>
<circle cx="39.4" cy="490.6" r="2.38" class="b"/>
<circle cx="36.8" cy="472.6" r="2.38" class="b"/>
<circle cx="50.7" cy="454.2" r="2.38" class="b"/>
<circle cx="42.3" cy="474.7" r="2.38" class="b"/>
<circle cx="65.0" cy="523.7" r="2.38" class="k"/>
<circle cx="65.3" cy="450.5" r="2.38" class="k"/>
<circle cx="56.9" cy="504.5" r="2.38" class="y"/>
<circle cx="116.6" cy="452.2" r="2.38" class="b"/>
<circle cx="105.9" cy="487.8" r="2.38" class="b"/>
<circle cx="102.7" cy="495.7" r="2.38" class="b"/>
<circle cx="44.9" cy="480.1" r="2.38" class="y"/>
<circle cx="46.4" cy="445.0" r="2.38" class="b"/>
<circle cx="43.7" cy="496.1" r="2.38" class="y"/>
<circle cx="46.0" cy="449.4" r="2.38" class="b"/>
<circle cx="95.7" cy="519.3" r="2.38" class="y"/>
<circle cx="116.2" cy="444.2" r="2.38" class="b"/>
<circle cx="109.0" cy="468.4" r="2.38" class="y"/>
<circle cx="29.9" cy="464.9" r="2.38" class="y"/>
<circle cx="58.9" cy="518.1" r="2.38" class="y"/>
<circle cx="89.9" cy="446.9" r="2.38" class="y"/>
<circle cx="106.2" cy="442.0" r="2.38" class="k"/>
<circle cx="96.2" cy="489.5" r="2.38" class="k"/>
<circle cx="102.9" cy="456.2" r="2.38" class="b"/>
<circle cx="57.4" cy="513.5" r="2.38" class="y"/>
<circle cx="74.9" cy="444.5" r="2.38" class="b"/>
<circle cx="111.7" cy="450.8" r="2.38" class="b"/>
<circle cx="53.2" cy="500.8" r="2.38" class="y"/>
<circle cx="102.1" cy="443.5" r="2.38" class="y"/>
<circle cx="106.1" cy="452.6" r="2.38" class="b"/>
<circle cx="102.3" cy="468.7" r="2.38" class="b"/>
<circle cx="86.7" cy="450.5" r="2.38" class="b"/>
<circle cx="67.4" cy="444.0" r="2.38" class="b"/>
<circle cx="76.1" cy="448.8" r="2.38" class="y"/>
<circle cx="111.2" cy="445.6" r="2.38" class="y"/>
<circle cx="51.4" cy="507.0" r="2.38" class="b"/>
<circle cx="62.3" cy="514.3" r="2.38" class="b"/>
<circle cx="100.3" cy="472.9" r="2.38" class="b"/>
<circle cx="90.9" cy="451.4" r="2.38" class="b"/>
<circle cx="91.6" cy="517.0" r="2.38" class="b"/>
<circle cx="96.3" cy="474.3" r="2.38" class="b"/>
<circle cx="103.1" cy="480.4" r="2.38" class="b"/>
<circle cx="62.1" cy="443.7" r="2.38" class="k"/>
<circle cx="23.3" cy="460.3" r="2.38" class="k"/>
<circle cx="121.3" cy="440.8" r="2.38" class="y"/>
<circle cx="101.2" cy="489.8" r="2.38" class="y"/>
<circle cx="47.5" cy="488.1" r="2.38" class="y"/>
<circle cx="20.6" cy="455.7" r="2.38" class="y"/>
<circle cx="114.4" cy="456.1" r="2.38" class="k"/>
<circle cx="57.6" cy="500.4" r="2.38" class="b"/>
<circle cx="87.5" cy="502.0" r="2.38" class="y"/>
<circle cx="54.3" cy="451.2" r="2.38" class="y"/>
<circle cx="83.7" cy="523.3" r="2.38" class="r"/>
<circle cx="93.4" cy="492.8" r="2.38" class="r"/>
<circle cx="48.8" cy="510.8" r="2.38" class="k"/>
<circle cx="42.1" cy="484.1" r="2.38" class="b"/>
<circle cx="108.0" cy="478.0" r="2.38" class="y"/>
<circle cx="35.2" cy="456.2" r="2.38" class="b"/>
<circle cx="87.9" cy="509.6" r="2.38" class="b"/>
<circle cx="52.4" cy="489.1" r="2.38" class="y"/>
<circle cx="49.8" cy="484.2" r="2.38" class="b"/>
<circle cx="47.6" cy="505.6" r="2.38" class="k"/>
<circle cx="16.7" cy="448.7" r="2.38" class="b"/>
<circle cx="94.9" cy="498.6" r="2.38" class="y"/>
<circle cx="52.9" cy="515.1" r="2.38" class="y"/>
<circle cx="40.6" cy="479.6" r="2.38" class="k"/>
<circle cx="102.9" cy="449.6" r="2.38" class="y"/>
<circle cx="110.7" cy="441.2" r="2.38" class="b"/>
<circle cx="93.3" cy="481.4" r="2.38" class="b"/>
<circle cx="28.9" cy="448.6" r="2.38" class="b"/>
<circle cx="97.6" cy="511.7" r="2.38" class="b"/>
<circle cx="65.7" cy="519.6" r="2.38" class="k"/>
<circle cx="91.2" cy="488.1" r="2.38" class="r"/>
<circle cx="86.4" cy="443.7" r="2.38" class="k"/>
<circle cx="21.6" cy="447.0" r="2.38" class="y"/>
<circle cx="86.2" cy="513.9" r="2.38" class="b"/>
<circle cx="35.2" cy="479.0" r="2.38" class="b"/>
<circle cx="97.5" cy="441.4" r="2.38" class="b"/>
<circle cx="29.5" cy="461.2" r="2.38" class="b"/>
<circle cx="105.0" cy="464.2" r="2.38" class="y"/>
<circle cx="48.5" cy="494.4" r="2.38" class="y"/>
<circle cx="118.8" cy="447.4" r="2.38" class="y"/>
<circle cx="41.4" cy="446.9" r="2.38" class="b"/>
<circle cx="104.5" cy="476.4" r="2.38" class="y"/>
<circle cx="44.0" cy="452.5" r="2.38" class="r"/>
<circle cx="55.2" cy="510.5" r="2.38" class="b"/>
<circle cx="49.9" cy="448.8" r="2.38" class="b"/>
<circle cx="83.4" cy="518.7" r="2.38" class="y"/>
<circle cx="99.0" cy="448.7" r="2.38" class="b"/>
<circle cx="32.5" cy="475.4" r="2.38" class="b"/>
<circle cx="97.3" cy="469.4" r="2.38" class="y"/>
<circle cx="60.8" cy="454.2" r="2.38" class="r"/>
<circle cx="61.1" cy="508.7" r="2.38" class="k"/>
<circle cx="63.2" cy="447.6" r="2.38" class="b"/>
<circle cx="32.9" cy="446.1" r="2.38" class="b"/>
<circle cx="92.6" cy="524.0" r="2.38" class="b"/>
<circle cx="30.2" cy="469.3" r="2.38" class="y"/>
<circle cx="93.9" cy="513.2" r="2.38" class="y"/>
<circle cx="26.4" cy="464.0" r="2.38" class="y"/>
<circle cx="23.0" cy="452.8" r="2.38" class="y"/>
<circle cx="91.4" cy="499.6" r="2.38" class="b"/>
<circle cx="111.0" cy="461.4" r="2.38" class="y"/>
<circle cx="88.4" cy="524.3" r="2.38" class="b"/>
<circle cx="53.1" cy="445.5" r="2.38" class="y"/>
<circle cx="99.0" cy="505.2" r="2.38" class="y"/>
<circle cx="55.5" cy="524.6" r="2.38" class="r"/>
<circle cx="105.6" cy="446.6" r="2.38" class="k"/>
<circle cx="34.1" cy="450.2" r="2.38" class="b"/>
<circle cx="34.0" cy="462.1" r="2.38" class="b"/>
<circle cx="100.4" cy="464.0" r="2.38" class="b"/>
<circle cx="38.2" cy="482.5" r="2.38" class="y"/>
<circle cx="98.6" cy="480.6" r="2.38" class="b"/>
<circle cx="94.9" cy="449.6" r="2.38" class="y"/>
<circle cx="48.1" cy="455.2" r="2.38" class="b"/>
<circle cx="95.3" cy="503.9" r="2.38" class="b"/>
<circle cx="45.0" cy="500.2" r="2.38" class="r"/>
<circle cx="55.2" cy="495.5" r="2.38" class="y"/>
<circle cx="104.2" cy="472.5" r="2.38" class="b"/>
<circle cx="108.9" cy="472.3" r="2.38" class="b"/>
<circle cx="36.1" cy="468.1" r="2.38" class="b"/>
<circle cx="31.6" cy="457.7" r="2.38" class="b"/>
<circle cx="42.0" cy="469.0" r="2.38" class="b"/>
<circle cx="43.1" cy="493.9" r="2.38" class="b"/>
<circle cx="94.7" cy="485.8" r="2.38" class="y"/>
<circle cx="51.0" cy="504.0" r="2.38" class="y"/>
<circle cx="100.2" cy="500.8" r="2.38" class="y"/>
<circle cx="91.9" cy="507.6" r="2.38" class="b"/>
<circle cx="38.9" cy="457.5" r="2.38" class="y"/>
<circle cx="88.3" cy="519.2" r="2.38" class="y"/>
<circle cx="61.4" cy="523.2" r="2.38" class="y"/>
<circle cx="52.3" cy="498.5" r="2.38" class="y"/>
<circle cx="71.0" cy="443.9" r="2.38" class="r"/>
<circle cx="115.9" cy="450.3" r="2.38" class="b"/>
<circle cx="72.4" cy="448.0" r="2.38" class="y"/>
<circle cx="40.6" cy="462.1" r="2.38" class="k"/>
<circle cx="81.2" cy="522.7" r="2.38" class="r"/>
<circle cx="67.6" cy="446.9" r="2.38" class="y"/>
<circle cx="85.4" cy="453.2" r="2.38" class="y"/>
<circle cx="101.6" cy="485.5" r="2.38" class="y"/>
<circle cx="84.1" cy="511.1" r="2.38" class="b"/>
<circle cx="81.2" cy="444.8" r="2.38" class="y"/>
<circle cx="98.7" cy="460.3" r="2.38" class="y"/>
<circle cx="39.8" cy="487.2" r="2.38" class="r"/>
<circle cx="103.2" cy="460.4" r="2.38" class="r"/>
<circle cx="90.6" cy="493.7" r="2.38" class="b"/>
<circle cx="91.7" cy="443.5" r="2.38" class="y"/>
<circle cx="51.9" cy="511.0" r="2.38" class="k"/>
<circle cx="47.4" cy="473.6" r="2.38" class="y"/>
<circle cx="48.0" cy="480.5" r="2.38" class="y"/>
<circle cx="94.8" cy="477.9" r="2.38" class="y"/>
<circle cx="71.3" cy="452.0" r="2.38" class="y"/>
<circle cx="106.9" cy="456.1" r="2.38" class="b"/>
<circle cx="36.1" cy="453.6" r="2.38" class="b"/>
<circle cx="46.0" cy="467.9" r="2.38" class="y"/>
<circle cx="93.4" cy="473.5" r="2.38" class="b"/>
<circle cx="96.6" cy="445.3" r="2.38" class="b"/>
<circle cx="67.7" cy="524.5" r="2.38" class="y"/>
<circle cx="64.9" cy="510.3" r="2.38" class="b"/>
<circle cx="36.4" cy="473.8" r="2.38" class="r"/>
<circle cx="66.7" cy="515.0" r="2.38" class="k"/>
<circle cx="58.7" cy="445.6" r="2.38" class="b"/>
<circle cx="27.7" cy="458.7" r="2.38" class="y"/>
<circle cx="59.7" cy="450.1" r="2.38" class="y"/>
<circle cx="58.1" cy="508.5" r="2.38" class="y"/>
<circle cx="119.5" cy="440.2" r="2.38" class="y"/>
<circle cx="51.9" cy="454.0" r="2.38" class="b"/>
<circle cx="88.3" cy="499.5" r="2.38" class="y"/>
<circle cx="91.5" cy="448.2" r="2.38" class="k"/>
<circle cx="104.5" cy="467.7" r="2.38" class="y"/>
<circle cx="76.4" cy="450.9" r="2.38" class="y"/>
<circle cx="67.3" cy="454.0" r="2.38" class="y"/>
<circle cx="55.8" cy="521.3" r="2.38" class="y"/>
<circle cx="105.9" cy="442.6" r="2.38" class="b"/>
<circle cx="108.8" cy="467.0" r="2.38" class="b"/>
<circle cx="57.9" cy="455.7" r="2.38" class="y"/>
<circle cx="97.4" cy="489.6" r="2.38" class="k"/>
<circle cx="48.5" cy="451.7" r="2.38" class="y"/>
<circle cx="58.7" cy="498.0" r="2.38" class="y"/>
<circle cx="58.9" cy="519.0" r="2.38" class="y"/>
<circle cx="32.4" cy="466.3" r="2.38" class="y"/>
<circle cx="85.8" cy="448.0" r="2.38" class="k"/>
<circle cx="109.9" cy="445.5" r="2.38" class="b"/>
<circle cx="100.2" cy="493.9" r="2.38" class="y"/>
<circle cx="110.5" cy="458.2" r="2.38" class="k"/>
<circle cx="44.2" cy="448.9" r="2.38" class="y"/>
<circle cx="44.2" cy="464.2" r="2.38" class="r"/>
<circle cx="84.9" cy="504.9" r="2.38" class="b"/>
<circle cx="52.4" cy="487.9" r="2.38" class="k"/>
<circle cx="114.6" cy="445.4" r="2.38" class="y"/>
<circle cx="48.9" cy="500.1" r="2.38" class="y"/>
<circle cx="89.5" cy="488.2" r="2.38" class="y"/>
<circle cx="45.1" cy="477.5" r="2.38" class="y"/>
<circle cx="101.8" cy="445.1" r="2.38" class="r"/>
<circle cx="64.4" cy="526.6" r="2.38" class="b"/>
<circle cx="53.9" cy="507.6" r="2.38" class="y"/>
<circle cx="93.8" cy="520.1" r="2.38" class="y"/>
<circle cx="111.5" cy="452.9" r="2.38" class="y"/>
<circle cx="81.7" cy="453.4" r="2.38" class="r"/>
<circle cx="95.8" cy="508.4" r="2.38" class="k"/>
<circle cx="43.7" cy="457.1" r="2.38" class="k"/>
<circle cx="56.1" cy="502.8" r="2.38" class="y"/>
<circle cx="86.6" cy="523.4" r="2.38" class="y"/>
<circle cx="99.9" cy="467.9" r="2.38" class="b"/>
<circle cx="101.5" cy="475.7" r="2.38" class="k"/>
<circle cx="109.2" cy="449.7" r="2.38" class="k"/>
<circle cx="39.1" cy="448.7" r="2.38" class="b"/>
<circle cx="41.5" cy="453.6" r="2.38" class="r"/>
<circle cx="64.6" cy="450.1" r="2.38" class="b"/>
<circle cx="54.5" cy="450.4" r="2.38" class="b"/>
<circle cx="29.3" cy="455.2" r="2.38" class="y"/>
<circle cx="47.6" cy="484.8" r="2.38" class="y"/>
<circle cx="113.5" cy="441.2" r="2.38" class="k"/>
<circle cx="89.5" cy="515.1" r="2.38" class="k"/>
<circle cx="96.4" cy="464.7" r="2.38" class="b"/>
<circle cx="94.3" cy="501.2" r="2.38" class="y"/>
<circle cx="102.9" cy="451.2" r="2.38" class="k"/>
<circle cx="85.7" cy="443.6" r="2.38" class="y"/>
<circle cx="43.6" cy="489.1" r="2.38" class="k"/>
<circle cx="61.7" cy="501.8" r="2.38" class="y"/>
<circle cx="58.6" cy="526.4" r="2.38" class="b"/>
<circle cx="101.8" cy="489.6" r="2.38" class="b"/>
<circle cx="106.6" cy="463.7" r="2.38" class="y"/>
<circle cx="52.7" cy="482.2" r="2.38" class="y"/>
<circle cx="42.5" cy="473.3" r="2.38" class="b"/>
<circle cx="103.7" cy="479.5" r="2.38" class="y"/>
<circle cx="101.4" cy="457.5" r="2.38" class="b"/>
<circle cx="63.1" cy="520.5" r="2.38" class="b"/>
<circle cx="90.8" cy="452.1" r="2.38" class="y"/>
<circle cx="47.7" cy="490.5" r="2.38" class="y"/>
<circle cx="62.5" cy="513.3" r="2.38" class="y"/>
<circle cx="31.2" cy="447.9" r="2.38" class="b"/>
<circle cx="47.1" cy="495.2" r="2.38" class="y"/>
<circle cx="85.0" cy="517.2" r="2.38" class="y"/>
<circle cx="67.0" cy="520.5" r="2.38" class="k"/>
<circle cx="50.4" cy="476.3" r="2.38" class="b"/>
<circle cx="41.0" cy="480.8" r="2.38" class="y"/>
<circle cx="88.8" cy="483.6" r="2.38" class="b"/>
<circle cx="91.0" cy="505.2" r="2.38" class="b"/>
<circle cx="63.3" cy="455.0" r="2.38" class="r"/>
<circle cx="98.0" cy="498.8" r="2.38" class="b"/>
<circle cx="81.8" cy="448.5" r="2.38" class="y"/>
<circle cx="88.0" cy="495.5" r="2.38" class="y"/>
<circle cx="38.9" cy="465.8" r="2.38" class="y"/>
<circle cx="92.8" cy="485.5" r="2.38" class="y"/>
<circle cx="78.5" cy="526.4" r="2.38" class="b"/>
<circle cx="72.6" cy="526.9" r="2.38" class="b"/>
<circle cx="34.8" cy="450.4" r="2.38" class="y"/>
<circle cx="74.5" cy="454.0" r="2.38" class="b"/>
<circle cx="53.5" cy="492.2" r="2.38" class="y"/>
<circle cx="114.1" cy="449.3" r="2.38" class="y"/>
<circle cx="39.0" cy="476.6" r="2.38" class="y"/>
<circle cx="30.6" cy="463.4" r="2.38" class="b"/>
<circle cx="24.4" cy="451.5" r="2.38" class="b"/>
<circle cx="75.9" cy="447.5" r="2.38" class="y"/>
<circle cx="96.5" cy="460.8" r="2.38" class="b"/>
<circle cx="60.1" cy="506.1" r="2.38" class="b"/>
<circle cx="56.2" cy="515.3" r="2.38" class="b"/>
<circle cx="94.0" cy="489.8" r="2.38" class="b"/>
<circle cx="31.1" cy="459.4" r="2.38" class="y"/>
<circle cx="90.7" cy="511.3" r="2.38" class="y"/>
<circle cx="91.9" cy="523.8" r="2.38" class="b"/>
<circle cx="81.0" cy="520.8" r="2.38" class="b"/>
<circle cx="70.7" cy="445.5" r="2.38" class="r"/>
<circle cx="36.1" cy="457.1" r="2.38" class="y"/>
<circle cx="91.4" cy="498.5" r="2.38" class="y"/>
<circle cx="59.9" cy="493.1" r="2.38" class="b"/>
<circle cx="42.5" cy="468.0" r="2.38" class="y"/>
<circle cx="53.8" cy="499.5" r="2.38" class="k"/>
<circle cx="98.1" cy="447.8" r="2.38" class="b"/>
<circle cx="96.7" cy="481.0" r="2.38" class="y"/>
<circle cx="94.6" cy="494.7" r="2.38" class="y"/>
<circle cx="94.2" cy="443.6" r="2.38" class="b"/>
<circle cx="49.9" cy="457.0" r="2.38" class="b"/>
<circle cx="93.9" cy="514.2" r="2.38" class="y"/>
<circle cx="104.5" cy="473.0" r="2.38" class="b"/>
<circle cx="92.5" cy="480.7" r="2.38" class="y"/>
<circle cx="61.4" cy="446.4" r="2.38" class="y"/>
<circle cx="37.1" cy="470.6" r="2.38" class="b"/>
<circle cx="94.7" cy="450.4" r="2.38" class="k"/>
<circle cx="107.5" cy="459.4" r="2.38" class="y"/>
<circle cx="95.5" cy="470.9" r="2.38" class="b"/>
<circle cx="39.9" cy="459.2" r="2.38" class="k"/>
<circle cx="51.4" cy="447.4" r="2.38" class="b"/>
<circle cx="51.1" cy="503.5" r="2.38" class="b"/>
<circle cx="27.8" cy="449.2" r="2.38" class="b"/>
<circle cx="88.3" cy="450.0" r="2.38" class="y"/>
<circle cx="85.6" cy="501.1" r="2.38" class="b"/>
<circle cx="35.0" cy="461.2" r="2.38" class="y"/>
<circle cx="108.8" cy="443.6" r="2.38" class="k"/>
<circle cx="43.8" cy="484.5" r="2.38" class="b"/>
<circle cx="56.0" cy="447.4" r="2.38" class="y"/>
<circle cx="84.3" cy="526.8" r="2.38" class="y"/>
<circle cx="69.8" cy="453.1" r="2.38" class="y"/>
<circle cx="88.1" cy="528.5" r="2.38" class="y"/>
<circle cx="80.1" cy="513.0" r="2.38" class="y"/>
<circle cx="66.5" cy="507.8" r="2.38" class="r"/>
<circle cx="89.5" cy="478.2" r="2.38" class="y"/>
<circle cx="69.9" cy="519.3" r="2.38" class="y"/>
<circle cx="59.1" cy="487.5" r="2.38" class="b"/>
<circle cx="82.6" cy="508.2" r="2.38" class="k"/>
<circle cx="98.1" cy="452.9" r="2.38" class="y"/>
<circle cx="56.4" cy="484.1" r="2.38" class="b"/>
<circle cx="89.2" cy="445.6" r="2.38" class="b"/>
<circle cx="101.6" cy="461.8" r="2.38" class="b"/>
<circle cx="47.7" cy="470.9" r="2.38" class="k"/>
<circle cx="65.4" cy="503.4" r="2.38" class="y"/>
<circle cx="63.1" cy="510.3" r="2.38" class="b"/>
<circle cx="58.2" cy="451.0" r="2.38" class="b"/>
<circle cx="101.3" cy="480.8" r="2.38" class="y"/>
<circle cx="84.8" cy="494.7" r="2.38" class="b"/>
<circle cx="55.0" cy="489.0" r="2.38" class="b"/>
<circle cx="66.2" cy="446.9" r="2.38" class="b"/>
<circle cx="109.8" cy="454.9" r="2.38" class="r"/>
<circle cx="94.0" cy="507.7" r="2.38" class="y"/>
<circle cx="59.8" cy="520.9" r="2.38" class="r"/>
<circle cx="94.0" cy="466.9" r="2.38" class="b"/>
<circle cx="113.0" cy="444.3" r="2.38" class="y"/>
<circle cx="35.4" cy="466.9" r="2.38" class="b"/>
<circle cx="45.2" cy="448.7" r="2.38" class="y"/>
<circle cx="86.4" cy="512.3" r="2.38" class="y"/>
<circle cx="83.7" cy="453.3" r="2.38" class="y"/>
<circle cx="99.5" cy="475.5" r="2.38" class="b"/>
<circle cx="102.6" cy="447.2" r="2.38" class="b"/>
<circle cx="49.4" cy="479.8" r="2.38" class="y"/>
<circle cx="98.9" cy="465.1" r="2.38" class="y"/>
<circle cx="45.8" cy="458.5" r="2.38" class="b"/>
<circle cx="105.6" cy="455.5" r="2.38" class="k"/>
<circle cx="98.5" cy="485.3" r="2.38" class="y"/>
<circle cx="90.9" cy="519.3" r="2.38" class="k"/>
<circle cx="101.8" cy="468.2" r="2.38" class="b"/>
<circle cx="87.9" cy="522.8" r="2.38" class="y"/>
<circle cx="63.4" cy="526.2" r="2.38" class="y"/>
<circle cx="66.3" cy="513.7" r="2.38" class="r"/>
<circle cx="105.5" cy="450.2" r="2.38" class="b"/>
<circle cx="98.3" cy="444.4" r="2.38" class="k"/>
<circle cx="50.2" cy="466.5" r="2.38" class="k"/>
<circle cx="79.8" cy="450.1" r="2.38" class="b"/>
<circle cx="65.5" cy="530.5" r="2.38" class="b"/>
<circle cx="50.7" cy="451.0" r="2.38" class="k"/>
<circle cx="55.1" cy="495.7" r="2.38" class="y"/>
<circle cx="58.1" cy="503.9" r="2.38" class="r"/>
<circle cx="54.8" cy="456.8" r="2.38" class="y"/>
<circle cx="70.1" cy="525.9" r="2.38" class="b"/>
<circle cx="87.8" cy="506.2" r="2.38" class="y"/>
<circle cx="87.8" cy="490.7" r="2.38" class="b"/>
<circle cx="31.1" cy="452.3" r="2.38" class="y"/>
<circle cx="44.9" cy="453.9" r="2.38" class="r"/>
<circle cx="49.4" cy="495.5" r="2.38" class="y"/>
<circle cx="66.4" cy="451.4" r="2.38" class="y"/>
<circle cx="105.8" cy="466.7" r="2.38" class="b"/>
<circle cx="87.2" cy="485.8" r="2.38" class="k"/>
<circle cx="31.4" cy="456.5" r="2.38" class="y"/>
<circle cx="60.5" cy="513.2" r="2.38" class="k"/>
<circle cx="77.9" cy="518.5" r="2.38" class="b"/>
<circle cx="57.3" cy="510.3" r="2.38" class="b"/>
<circle cx="49.5" cy="485.5" r="2.38" class="b"/>
<circle cx="70.8" cy="448.9" r="2.38" class="b"/>
<circle cx="54.7" cy="476.8" r="2.38" class="k"/>
<circle cx="43.0" cy="478.9" r="2.38" class="y"/>
<circle cx="91.5" cy="473.8" r="2.38" class="b"/>
<circle cx="40.6" cy="453.3" r="2.38" class="y"/>
<circle cx="43.1" cy="464.3" r="2.38" class="k"/>
<circle cx="36.3" cy="454.7" r="2.38" class="y"/>
<circle cx="64.7" cy="520.3" r="2.38" class="k"/>
<circle cx="79.6" cy="456.8" r="2.38" class="b"/>
<circle cx="95.3" cy="462.9" r="2.38" class="b"/>
<circle cx="61.3" cy="496.8" r="2.38" class="b"/>
<circle cx="82.4" cy="497.8" r="2.38" class="k"/>
<circle cx="69.1" cy="456.8" r="2.38" class="b"/>
<circle cx="77.1" cy="525.2" r="2.38" class="y"/>
<circle cx="80.9" cy="445.8" r="2.38" class="b"/>
<circle cx="94.6" cy="503.7" r="2.38" class="b"/>
<circle cx="54.5" cy="505.8" r="2.38" class="b"/>
<circle cx="46.2" cy="467.5" r="2.38" class="y"/>
<circle cx="47.4" cy="476.2" r="2.38" class="y"/>
<circle cx="60.0" cy="455.8" r="2.38" class="b"/>
<circle cx="99.0" cy="458.9" r="2.38" class="b"/>
<circle cx="83.9" cy="516.6" r="2.38" class="b"/>
<circle cx="37.1" cy="449.2" r="2.38" class="b"/>
<circle cx="74.2" cy="529.3" r="2.38" class="y"/>
<circle cx="74.3" cy="453.8" r="2.38" class="k"/>
<circle cx="110.1" cy="451.3" r="2.38" class="k"/>
<circle cx="51.3" cy="490.2" r="2.38" class="y"/>
<circle cx="75.8" cy="446.3" r="2.38" class="b"/>
<circle cx="58.5" cy="491.2" r="2.38" class="y"/>
<circle cx="96.7" cy="491.0" r="2.38" class="y"/>
<circle cx="85.9" cy="456.4" r="2.38" class="b"/>
<circle cx="61.7" cy="502.6" r="2.38" class="b"/>
<circle cx="96.1" cy="475.4" r="2.38" class="b"/>
<circle cx="90.5" cy="453.4" r="2.38" class="y"/>
<circle cx="95.1" cy="453.6" r="2.38" class="b"/>
<circle cx="51.2" cy="471.2" r="2.38" class="b"/>
<circle cx="47.4" cy="489.1" r="2.38" class="r"/>
<circle cx="42.2" cy="474.3" r="2.38" class="b"/>
<circle cx="91.4" cy="496.4" r="2.38" class="k"/>
<circle cx="81.9" cy="524.8" r="2.38" class="b"/>
<circle cx="90.4" cy="503.0" r="2.38" class="b"/>
<circle cx="95.2" cy="498.1" r="2.38" class="y"/>
<circle cx="55.4" cy="481.5" r="2.38" class="y"/>
<circle cx="91.1" cy="462.8" r="2.38" class="y"/>
<circle cx="51.4" cy="458.7" r="2.38" class="r"/>
<circle cx="94.0" cy="470.5" r="2.38" class="y"/>
<circle cx="89.0" cy="482.0" r="2.38" class="b"/>
<circle cx="54.9" cy="449.7" r="2.38" class="k"/>
<circle cx="69.8" cy="510.7" r="2.38" class="y"/>
<circle cx="48.2" cy="462.9" r="2.38" class="y"/>
<circle cx="69.1" cy="532.0" r="2.38" class="b"/>
<circle cx="37.1" cy="464.0" r="2.38" class="b"/>
<circle cx="92.5" cy="479.1" r="2.38" class="b"/>
<circle cx="106.3" cy="459.7" r="2.38" class="y"/>
<circle cx="86.2" cy="478.6" r="2.38" class="y"/>
<circle cx="78.0" cy="512.1" r="2.38" class="y"/>
<circle cx="89.9" cy="467.3" r="2.38" class="y"/>
<circle cx="85.4" cy="445.8" r="2.38" class="y"/>
<circle cx="60.1" cy="507.9" r="2.38" class="b"/>
<circle cx="49.8" cy="454.3" r="2.38" class="y"/>
<circle cx="97.2" cy="448.7" r="2.38" class="b"/>
<circle cx="39.1" cy="469.5" r="2.38" class="b"/>
<circle cx="42.0" cy="450.0" r="2.38" class="y"/>
<circle cx="102.2" cy="444.6" r="2.38" class="b"/>
<circle cx="72.7" cy="514.1" r="2.38" class="y"/>
<circle cx="81.7" cy="504.6" r="2.38" class="k"/>
<circle cx="72.6" cy="521.6" r="2.38" class="b"/>
<circle cx="65.1" cy="499.4" r="2.38" class="b"/>
<circle cx="86.8" cy="500.1" r="2.38" class="b"/>
<circle cx="89.6" cy="516.2" r="2.38" class="b"/>
<circle cx="94.5" cy="483.0" r="2.38" class="b"/>
<circle cx="64.5" cy="506.7" r="2.38" class="b"/>
<circle cx="110.0" cy="444.0" r="2.38" class="y"/>
<circle cx="91.2" cy="489.0" r="2.38" class="b"/>
<circle cx="63.5" cy="458.5" r="2.38" class="b"/>
<circle cx="100.6" cy="451.0" r="2.38" class="y"/>
<circle cx="83.8" cy="511.1" r="2.38" class="b"/>
<circle cx="51.9" cy="479.0" r="2.38" class="k"/>
<circle cx="78.4" cy="530.3" r="2.38" class="b"/>
<circle cx="65.9" cy="454.9" r="2.38" class="y"/>
<circle cx="88.0" cy="449.9" r="2.38" class="r"/>
<circle cx="85.4" cy="506.1" r="2.38" class="r"/>
<circle cx="61.6" cy="451.9" r="2.38" class="y"/>
<circle cx="102.9" cy="463.2" r="2.38" class="b"/>
<circle cx="62.4" cy="489.0" r="2.38" class="b"/>
<circle cx="59.8" cy="448.3" r="2.38" class="b"/>
<circle cx="54.8" cy="501.6" r="2.38" class="y"/>
<circle cx="57.1" cy="487.4" r="2.38" class="y"/>
<circle cx="96.6" cy="487.2" r="2.38" class="b"/>
<circle cx="94.2" cy="458.9" r="2.38" class="k"/>
<circle cx="86.3" cy="530.3" r="2.38" class="b"/>
<circle cx="44.4" cy="471.0" r="2.38" class="r"/>
<circle cx="43.1" cy="459.2" r="2.38" class="y"/>
<circle cx="70.1" cy="504.0" r="2.38" class="y"/>
<circle cx="82.0" cy="520.4" r="2.38" class="b"/>
<circle cx="99.5" cy="455.4" r="2.38" class="b"/>
<circle cx="98.2" cy="481.0" r="2.38" class="k"/>
<circle cx="85.0" cy="485.2" r="2.38" class="b"/>
<circle cx="99.4" cy="467.2" r="2.38" class="k"/>
<circle cx="106.7" cy="452.8" r="2.38" class="r"/>
<circle cx="72.9" cy="457.2" r="2.38" class="y"/>
<circle cx="83.5" cy="453.0" r="2.38" class="b"/>
<circle cx="59.3" cy="459.5" r="2.38" class="k"/>
<circle cx="69.2" cy="515.5" r="2.38" class="y"/>
<circle cx="91.9" cy="447.6" r="2.38" class="b"/>
<circle cx="58.5" cy="474.8" r="2.38" class="y"/>
<circle cx="53.9" cy="455.3" r="2.38" class="k"/>
<circle cx="64.8" cy="448.8" r="2.38" class="y"/>
<circle cx="85.0" cy="493.0" r="2.38" class="y"/>
<circle cx="47.9" cy="480.5" r="2.38" class="y"/>
<circle cx="106.1" cy="448.8" r="2.38" class="k"/>
<circle cx="72.7" cy="527.1" r="2.38" class="y"/>
<circle cx="66.4" cy="492.6" r="2.38" class="b"/>
<circle cx="65.0" cy="524.4" r="2.38" class="y"/>
<circle cx="95.2" cy="467.0" r="2.38" class="b"/>
<circle cx="78.3" cy="450.5" r="2.38" class="b"/>
<circle cx="52.7" cy="468.4" r="2.38" class="b"/>
<circle cx="68.9" cy="523.3" r="2.38" class="y"/>
<circle cx="47.4" cy="450.8" r="2.38" class="y"/>
<circle cx="90.2" cy="510.8" r="2.38" class="b"/>
<circle cx="100.9" cy="472.3" r="2.38" class="y"/>
<circle cx="51.1" cy="483.5" r="2.38" class="b"/>
<circle cx="62.3" cy="516.0" r="2.38" class="k"/>
<circle cx="37.2" cy="460.6" r="2.38" class="y"/>
<circle cx="53.9" cy="496.4" r="2.38" class="y"/>
<circle cx="59.1" cy="504.1" r="2.38" class="b"/>
<circle cx="76.8" cy="520.2" r="2.38" class="b"/>
<circle cx="86.7" cy="522.6" r="2.38" class="b"/>
<circle cx="77.3" cy="508.4" r="2.38" class="r"/>
<circle cx="58.9" cy="496.8" r="2.38" class="y"/>
<circle cx="43.3" cy="453.4" r="2.38" class="b"/>
<circle cx="83.1" cy="533.1" r="2.38" class="k"/>
<circle cx="90.0" cy="477.6" r="2.38" class="b"/>
<circle cx="82.6" cy="448.5" r="2.38" class="b"/>
<circle cx="48.6" cy="467.1" r="2.38" class="b"/>
<circle cx="54.1" cy="473.7" r="2.38" class="y"/>
<circle cx="88.2" cy="472.8" r="2.38" class="k"/>
<circle cx="52.0" cy="463.1" r="2.38" class="r"/>
<circle cx="36.1" cy="451.5" r="2.38" class="k"/>
<circle cx="40.4" cy="466.3" r="2.38" class="y"/>
<circle cx="57.0" cy="470.0" r="2.38" class="b"/>
<circle cx="73.2" cy="533.3" r="2.38" class="b"/>
<circle cx="61.0" cy="485.0" r="2.38" class="b"/>
<circle cx="77.0" cy="458.9" r="2.38" class="b"/>
<circle cx="69.1" cy="528.3" r="2.38" class="k"/>
<circle cx="44.5" cy="464.7" r="2.38" class="b"/>
<circle cx="92.8" cy="499.1" r="2.38" class="b"/>
<circle cx="94.5" cy="492.6" r="2.38" class="y"/>
<circle cx="55.8" cy="491.6" r="2.38" class="y"/>
<circle cx="87.5" cy="468.0" r="2.38" class="y"/>
<circle cx="53.6" cy="487.6" r="2.38" class="b"/>
<circle cx="40.2" cy="456.1" r="2.38" class="y"/>
<circle cx="88.4" cy="454.2" r="2.38" class="y"/>
<circle cx="54.9" cy="459.9" r="2.38" class="b"/>
<circle cx="35.7" cy="456.5" r="2.38" class="k"/>
<circle cx="79.8" cy="516.1" r="2.38" class="b"/>
<circle cx="72.5" cy="507.6" r="2.38" class="b"/>
<circle cx="48.3" cy="456.7" r="2.38" class="k"/>
<circle cx="46.8" cy="475.5" r="2.38" class="y"/>
<circle cx="60.9" cy="456.1" r="2.38" class="y"/>
<circle cx="86.0" cy="518.0" r="2.38" class="b"/>
<circle cx="61.2" cy="478.7" r="2.38" class="y"/>
<circle cx="97.1" cy="474.9" r="2.38" class="b"/>
<circle cx="83.0" cy="489.9" r="2.38" class="y"/>
<circle cx="82.9" cy="497.9" r="2.38" class="b"/>
<circle cx="85.2" cy="480.8" r="2.38" class="k"/>
<circle cx="85.7" cy="457.8" r="2.38" class="b"/>
<circle cx="57.4" cy="452.4" r="2.38" class="y"/>
<circle cx="80.0" cy="525.8" r="2.38" class="y"/>
<circle cx="88.4" cy="497.9" r="2.38" class="b"/>
<circle cx="71.0" cy="453.4" r="2.38" class="k"/>
<circle cx="93.1" cy="486.3" r="2.38" class="k"/>
<circle cx="65.5" cy="512.8" r="2.38" class="b"/>
<circle cx="67.2" cy="519.1" r="2.38" class="b"/>
<circle cx="92.8" cy="463.7" r="2.38" class="y"/>
<circle cx="101.6" cy="459.9" r="2.38" class="b"/>
<circle cx="57.2" cy="481.5" r="2.38" class="b"/>
<circle cx="79.1" cy="499.1" r="2.38" class="k"/>
<circle cx="101.8" cy="448.2" r="2.38" class="y"/>
<circle cx="65.0" cy="484.2" r="2.38" class="b"/>
<circle cx="64.2" cy="505.2" r="2.38" class="b"/>
<circle cx="55.6" cy="465.4" r="2.38" class="y"/>
<circle cx="40.9" cy="461.7" r="2.38" class="y"/>
<circle cx="69.1" cy="510.9" r="2.38" class="b"/>
<circle cx="80.4" cy="493.6" r="2.38" class="y"/>
<circle cx="94.1" cy="470.6" r="2.38" class="b"/>
<circle cx="78.8" cy="504.5" r="2.38" class="b"/>
<circle cx="47.5" cy="461.4" r="2.38" class="y"/>
<circle cx="97.2" cy="447.5" r="2.38" class="y"/>
<circle cx="76.1" cy="512.7" r="2.38" class="b"/>
<circle cx="81.8" cy="456.9" r="2.38" class="b"/>
<circle cx="60.1" cy="489.2" r="2.38" class="y"/>
<circle cx="75.7" cy="526.1" r="2.38" class="k"/>
<circle cx="40.1" cy="451.2" r="2.38" class="y"/>
<circle cx="90.2" cy="458.8" r="2.38" class="b"/>
<circle cx="64.6" cy="499.8" r="2.38" class="y"/>
<circle cx="101.6" cy="464.3" r="2.38" class="b"/>
<circle cx="96.0" cy="482.0" r="2.38" class="y"/>
<circle cx="51.5" cy="452.4" r="2.38" class="y"/>
<circle cx="87.7" cy="509.3" r="2.38" class="b"/>
<circle cx="74.0" cy="520.8" r="2.38" class="y"/>
<circle cx="68.7" cy="499.0" r="2.38" class="y"/>
<circle cx="61.4" cy="508.8" r="2.38" class="b"/>
<circle cx="104.4" cy="455.7" r="2.38" class="y"/>
<circle cx="106.4" cy="446.1" r="2.38" class="k"/>
<circle cx="43.6" cy="469.5" r="2.38" class="b"/>
<circle cx="96.0" cy="457.3" r="2.38" class="k"/>
<circle cx="73.5" cy="503.8" r="2.38" class="b"/>
<circle cx="87.0" cy="477.2" r="2.38" class="b"/>
<circle cx="78.7" cy="454.1" r="2.38" class="y"/>
<circle cx="91.2" cy="449.7" r="2.38" class="b"/>
<circle cx="82.4" cy="529.8" r="2.38" class="b"/>
<circle cx="82.9" cy="504.8" r="2.38" class="b"/>
<circle cx="84.2" cy="473.6" r="2.38" class="k"/>
<circle cx="101.0" cy="453.3" r="2.38" class="y"/>
<circle cx="69.4" cy="505.1" r="2.38" class="r"/>
<circle cx="54.7" cy="477.9" r="2.38" class="b"/>
<circle cx="73.5" cy="450.4" r="2.38" class="b"/>
<circle cx="90.4" cy="494.6" r="2.38" class="b"/>
<circle cx="86.1" cy="487.9" r="2.38" class="y"/>
<circle cx="68.9" cy="450.5" r="2.38" class="y"/>
<circle cx="98.3" cy="462.2" r="2.38" class="b"/>
<circle cx="61.0" cy="494.7" r="2.38" class="y"/>
<circle cx="68.1" cy="459.4" r="2.38" class="y"/>
<circle cx="50.8" cy="474.1" r="2.38" class="y"/>
<circle cx="87.6" cy="462.9" r="2.38" class="y"/>
<circle cx="92.7" cy="490.7" r="2.38" class="y"/>
<circle cx="82.4" cy="520.9" r="2.38" class="b"/>
<circle cx="66.3" cy="495.4" r="2.38" class="y"/>
<circle cx="60.2" cy="459.8" r="2.38" class="y"/>
<circle cx="82.0" cy="509.7" r="2.38" class="y"/>
<circle cx="52.4" cy="456.2" r="2.38" class="b"/>
<circle cx="37.9" cy="454.4" r="2.38" class="r"/>
<circle cx="54.7" cy="469.8" r="2.38" class="b"/>
<circle cx="105.0" cy="450.4" r="2.38" class="y"/>
<circle cx="97.0" cy="452.1" r="2.38" class="y"/>
<circle cx="91.9" cy="454.6" r="2.38" class="y"/>
<circle cx="70.3" cy="516.5" r="2.38" class="y"/>
<circle cx="69.0" cy="524.2" r="2.38" class="b"/>
<circle cx="72.4" cy="529.8" r="2.38" class="b"/>
<circle cx="51.0" cy="480.9" r="2.38" class="y"/>
<circle cx="78.7" cy="449.4" r="2.38" class="y"/>
<circle cx="46.0" cy="454.9" r="2.38" class="y"/>
<circle cx="85.0" cy="513.1" r="2.38" class="b"/>
<circle cx="64.7" cy="451.4" r="2.38" class="b"/>
<circle cx="60.1" cy="502.4" r="2.38" class="y"/>
<circle cx="98.8" cy="468.9" r="2.38" class="y"/>
<circle cx="72.2" cy="458.0" r="2.38" class="k"/>
<circle cx="79.8" cy="485.3" r="2.38" class="b"/>
<circle cx="90.9" cy="481.5" r="2.38" class="y"/>
<circle cx="85.9" cy="454.6" r="2.38" class="b"/>
<circle cx="65.5" cy="490.7" r="2.38" class="b"/>
<circle cx="61.8" cy="471.6" r="2.38" class="y"/>
<circle cx="87.9" cy="505.1" r="2.38" class="b"/>
<circle cx="77.9" cy="517.3" r="2.38" class="y"/>
<circle cx="61.9" cy="476.4" r="2.38" class="b"/>
<circle cx="85.2" cy="450.1" r="2.38" class="y"/>
<circle cx="86.8" cy="483.6" r="2.38" class="y"/>
<circle cx="84.3" cy="525.6" r="2.38" class="b"/>
<circle cx="89.6" cy="468.7" r="2.38" class="y"/>
<circle cx="77.3" cy="457.7" r="2.38" class="y"/>
<circle cx="63.1" cy="482.2" r="2.38" class="b"/>
<circle cx="57.3" cy="491.2" r="2.38" class="k"/>
<circle cx="55.3" cy="460.9" r="2.38" class="b"/>
<circle cx="62.4" cy="456.5" r="2.38" class="k"/>
<circle cx="55.9" cy="486.2" r="2.38" class="y"/>
<circle cx="57.3" cy="454.4" r="2.38" class="b"/>
<circle cx="60.7" cy="467.2" r="2.38" class="y"/>
<circle cx="94.2" cy="476.2" r="2.38" class="b"/>
<circle cx="45.3" cy="465.4" r="2.38" class="y"/>
<circle cx="74.2" cy="516.6" r="2.38" class="k"/>
<circle cx="92.2" cy="461.9" r="2.38" class="b"/>
<circle cx="83.8" cy="500.8" r="2.38" class="y"/>
<circle cx="66.7" cy="516.6" r="2.38" class="b"/>
<circle cx="49.1" cy="470.8" r="2.38" class="b"/>
<circle cx="81.7" cy="460.4" r="2.38" class="y"/>
<circle cx="85.3" cy="518.1" r="2.38" class="y"/>
<circle cx="68.0" cy="487.3" r="2.38" class="y"/>
<circle cx="81.4" cy="536.7" r="2.38" class="b"/>
<circle cx="64.1" cy="460.4" r="2.38" class="y"/>
<circle cx="64.9" cy="508.4" r="2.38" class="b"/>
<circle cx="83.3" cy="481.1" r="2.38" class="b"/>
<circle cx="99.9" cy="456.6" r="2.38" class="b"/>
<circle cx="78.4" cy="533.3" r="2.38" class="b"/>
<circle cx="74.3" cy="500.5" r="2.38" class="y"/>
<circle cx="75.8" cy="537.6" r="2.38" class="k"/>
<circle cx="82.4" cy="491.8" r="2.38" class="b"/>
<circle cx="60.4" cy="451.2" r="2.38" class="k"/>
<circle cx="52.8" cy="464.7" r="2.38" class="r"/>
<circle cx="80.0" cy="499.0" r="2.38" class="r"/>
<circle cx="85.1" cy="465.5" r="2.38" class="b"/>
<circle cx="43.7" cy="461.6" r="2.38" class="b"/>
<circle cx="77.9" cy="489.3" r="2.38" class="k"/>
<circle cx="41.8" cy="453.2" r="2.38" class="r"/>
<circle cx="88.5" cy="474.8" r="2.38" class="y"/>
<circle cx="72.6" cy="522.0" r="2.38" class="y"/>
<circle cx="59.9" cy="485.5" r="2.38" class="b"/>
<circle cx="83.7" cy="496.3" r="2.38" class="b"/>
<circle cx="82.0" cy="455.5" r="2.38" class="y"/>
<circle cx="80.1" cy="525.2" r="2.38" class="b"/>
<circle cx="96.1" cy="472.4" r="2.38" class="y"/>
<circle cx="101.4" cy="449.4" r="2.38" class="k"/>
<circle cx="77.0" cy="508.4" r="2.38" class="r"/>
<circle cx="89.3" cy="489.0" r="2.38" class="y"/>
<circle cx="71.0" cy="498.0" r="2.38" class="y"/>
<circle cx="48.5" cy="452.3" r="2.38" class="y"/>
<circle cx="84.8" cy="469.8" r="2.38" class="r"/>
<circle cx="43.6" cy="457.2" r="2.38" class="b"/>
<circle cx="53.0" cy="452.2" r="2.38" class="y"/>
<circle cx="66.4" cy="500.7" r="2.38" class="b"/>
<circle cx="81.4" cy="475.5" r="2.38" class="b"/>
<circle cx="78.4" cy="494.5" r="2.38" class="b"/>
<circle cx="87.9" cy="494.2" r="2.38" class="b"/>
<circle cx="56.6" cy="473.1" r="2.38" class="b"/>
<circle cx="85.4" cy="509.8" r="2.38" class="k"/>
<circle cx="78.6" cy="503.8" r="2.38" class="y"/>
<circle cx="96.1" cy="458.4" r="2.38" class="k"/>
<circle cx="61.7" cy="489.8" r="2.38" class="b"/>
<circle cx="63.3" cy="503.5" r="2.38" class="b"/>
<circle cx="74.3" cy="511.7" r="2.38" class="b"/>
<circle cx="87.7" cy="498.8" r="2.38" class="y"/>
<circle cx="52.2" cy="458.9" r="2.38" class="b"/>
<circle cx="71.4" cy="507.8" r="2.38" class="b"/>
<circle cx="82.3" cy="519.8" r="2.38" class="b"/>
<circle cx="70.5" cy="493.5" r="2.38" class="y"/>
<circle cx="94.8" cy="467.5" r="2.38" class="r"/>
<circle cx="74.4" cy="527.0" r="2.38" class="b"/>
<circle cx="92.1" cy="449.5" r="2.38" class="y"/>
<circle cx="65.7" cy="480.0" r="2.38" class="y"/>
<circle cx="76.8" cy="461.8" r="2.38" class="k"/>
<circle cx="74.4" cy="455.8" r="2.38" class="y"/>
<circle cx="91.0" cy="478.0" r="2.38" class="y"/>
<circle cx="91.3" cy="484.9" r="2.38" class="y"/>
<circle cx="62.7" cy="498.8" r="2.38" class="b"/>
<circle cx="80.8" cy="508.0" r="2.38" class="k"/>
<circle cx="81.6" cy="512.7" r="2.38" class="k"/>
<circle cx="69.7" cy="460.3" r="2.38" class="k"/>
<circle cx="49.4" cy="467.2" r="2.38" class="b"/>
<circle cx="55.3" cy="477.0" r="2.38" class="b"/>
<circle cx="95.9" cy="452.3" r="2.38" class="k"/>
<circle cx="66.9" cy="473.8" r="2.38" class="y"/>
<circle cx="69.0" cy="511.9" r="2.38" class="b"/>
<circle cx="85.9" cy="456.2" r="2.38" class="y"/>
<circle cx="96.3" cy="463.1" r="2.38" class="b"/>
<circle cx="56.5" cy="458.6" r="2.38" class="b"/>
<circle cx="69.0" cy="453.6" r="2.38" class="b"/>
<circle cx="79.8" cy="486.1" r="2.38" class="b"/>
<circle cx="73.1" cy="451.2" r="2.38" class="b"/>
<circle cx="76.1" cy="520.4" r="2.38" class="y"/>
<circle cx="77.6" cy="481.9" r="2.38" class="y"/>
<circle cx="58.0" cy="469.4" r="2.38" class="y"/>
<circle cx="75.7" cy="532.0" r="2.38" class="k"/>
<circle cx="66.4" cy="496.8" r="2.38" class="r"/>
<circle cx="57.0" cy="481.8" r="2.38" class="b"/>
<circle cx="81.5" cy="468.7" r="2.38" class="b"/>
<circle cx="86.1" cy="479.7" r="2.38" class="b"/>
<circle cx="85.3" cy="475.2" r="2.38" class="y"/>
<circle cx="88.1" cy="460.2" r="2.38" class="y"/>
<circle cx="70.6" cy="488.4" r="2.38" class="y"/>
<circle cx="66.7" cy="489.8" r="2.38" class="b"/>
<circle cx="88.9" cy="470.7" r="2.38" class="y"/>
<circle cx="63.5" cy="468.4" r="2.38" class="y"/>
<circle cx="61.5" cy="473.7" r="2.38" class="k"/>
<circle cx="53.1" cy="473.5" r="2.38" class="r"/>
<circle cx="76.7" cy="498.8" r="2.38" class="b"/>
<circle cx="91.1" cy="455.1" r="2.38" class="y"/>
<circle cx="50.5" cy="462.9" r="2.38" class="y"/>
<circle cx="64.8" cy="485.7" r="2.38" class="y"/>
<circle cx="71.9" cy="516.9" r="2.38" class="y"/>
<circle cx="86.3" cy="485.3" r="2.38" class="y"/>
<circle cx="89.3" cy="466.0" r="2.38" class="y"/>
<circle cx="59.0" cy="464.1" r="2.38" class="b"/>
<circle cx="63.9" cy="455.9" r="2.38" class="b"/>
<circle cx="47.2" cy="459.2" r="2.38" class="b"/>
<circle cx="46.6" cy="454.8" r="2.38" class="y"/>
<circle cx="83.8" cy="505.5" r="2.38" class="b"/>
<circle cx="70.4" cy="482.5" r="2.38" class="k"/>
<circle cx="65.5" cy="461.8" r="2.38" class="y"/>
<circle cx="61.3" cy="459.6" r="2.38" class="y"/>
<circle cx="87.9" cy="451.7" r="2.38" class="b"/>
<circle cx="92.8" cy="473.0" r="2.38" class="b"/>
<circle cx="67.4" cy="506.4" r="2.38" class="b"/>
<circle cx="82.0" cy="452.8" r="2.38" class="b"/>
<circle cx="69.5" cy="502.0" r="2.38" class="r"/>
<circle cx="98.8" cy="455.2" r="2.38" class="b"/>
<circle cx="77.4" cy="525.4" r="2.38" class="b"/>
<circle cx="79.8" cy="530.0" r="2.38" class="k"/>
<circle cx="78.1" cy="511.5" r="2.38" class="k"/>
<circle cx="60.0" cy="477.7" r="2.38" class="b"/>
<circle cx="54.3" cy="466.4" r="2.38" class="y"/>
<circle cx="79.1" cy="456.2" r="2.38" class="b"/>
<circle cx="82.9" cy="459.6" r="2.38" class="b"/>
<circle cx="77.3" cy="490.0" r="2.38" class="b"/>
<circle cx="84.4" cy="489.3" r="2.38" class="y"/>
<circle cx="81.2" cy="517.3" r="2.38" class="k"/>
<circle cx="63.4" cy="492.2" r="2.38" class="y"/>
<circle cx="82.6" cy="481.6" r="2.38" class="k"/>
<circle cx="77.7" cy="478.0" r="2.38" class="b"/>
<circle cx="61.0" cy="486.5" r="2.38" class="b"/>
<circle cx="77.1" cy="452.3" r="2.38" class="k"/>
<circle cx="78.9" cy="502.9" r="2.38" class="b"/>
<circle cx="78.7" cy="470.8" r="2.38" class="b"/>
<circle cx="54.5" cy="453.5" r="2.38" class="b"/>
<circle cx="50.8" cy="455.6" r="2.38" class="y"/>
<circle cx="81.0" cy="474.6" r="2.38" class="b"/>
<circle cx="84.8" cy="494.4" r="2.38" class="b"/>
<circle cx="72.5" cy="505.3" r="2.38" class="b"/>
<circle cx="67.0" cy="467.0" r="2.38" class="b"/>
<circle cx="88.9" cy="475.4" r="2.38" class="b"/>
<circle cx="93.5" cy="466.8" r="2.38" class="y"/>
<circle cx="93.8" cy="458.5" r="2.38" class="y"/>
<circle cx="69.3" cy="476.4" r="2.38" class="r"/>
<circle cx="74.3" cy="493.3" r="2.38" class="b"/>
<circle cx="66.1" cy="471.6" r="2.38" class="b"/>
<circle cx="83.2" cy="463.9" r="2.38" class="b"/>
<circle cx="84.3" cy="500.7" r="2.38" class="b"/>
<circle cx="73.3" cy="461.1" r="2.38" class="b"/>
<circle cx="74.2" cy="486.3" r="2.38" class="b"/>
<circle cx="69.5" cy="463.4" r="2.38" class="y"/>
<circle cx="69.6" cy="494.8" r="2.38" class="y"/>
<circle cx="88.7" cy="481.6" r="2.38" class="b"/>
<circle cx="78.4" cy="520.3" r="2.38" class="k"/>
<circle cx="64.6" cy="453.2" r="2.38" class="k"/>
<circle cx="56.6" cy="473.9" r="2.38" class="b"/>
<circle cx="74.8" cy="455.6" r="2.38" class="b"/>
<circle cx="76.0" cy="473.8" r="2.38" class="b"/>
<circle cx="70.7" cy="510.0" r="2.38" class="y"/>
<circle cx="65.2" cy="475.8" r="2.38" class="y"/>
<circle cx="80.1" cy="485.1" r="2.38" class="b"/>
<circle cx="60.5" cy="455.6" r="2.38" class="k"/>
<circle cx="75.1" cy="517.2" r="2.38" class="y"/>
<circle cx="81.4" cy="490.9" r="2.38" class="b"/>
<circle cx="67.9" cy="499.2" r="2.38" class="b"/>
<circle cx="87.5" cy="468.5" r="2.38" class="b"/>
<circle cx="69.5" cy="486.9" r="2.38" class="r"/>
<circle cx="85.6" cy="452.8" r="2.38" class="b"/>
<circle cx="76.2" cy="506.8" r="2.38" class="b"/>
<circle cx="96.7" cy="453.2" r="2.38" class="y"/>
<circle cx="90.9" cy="471.0" r="2.38" class="b"/>
<circle cx="62.4" cy="483.3" r="2.38" class="b"/>
<circle cx="50.3" cy="460.8" r="2.38" class="y"/>
<circle cx="73.4" cy="478.0" r="2.38" class="b"/>
<circle cx="78.3" cy="494.4" r="2.38" class="k"/>
<circle cx="89.2" cy="460.2" r="2.38" class="b"/>
<circle cx="66.8" cy="482.6" r="2.38" class="y"/>
<circle cx="74.8" cy="498.1" r="2.38" class="b"/>
<circle cx="60.0" cy="466.5" r="2.38" class="b"/>
<circle cx="59.1" cy="459.7" r="2.38" class="y"/>
<circle cx="76.0" cy="464.6" r="2.38" class="y"/>
<circle cx="69.3" cy="459.1" r="2.38" class="b"/>
<circle cx="92.0" cy="463.7" r="2.38" class="y"/>
<circle cx="81.5" cy="498.1" r="2.38" class="b"/>
<circle cx="80.5" cy="466.7" r="2.38" class="y"/>
<circle cx="64.9" cy="488.2" r="2.38" class="y"/>
<circle cx="70.0" cy="472.7" r="2.38" class="y"/>
<circle cx="80.3" cy="480.5" r="2.38" class="y"/>
<circle cx="79.4" cy="515.3" r="2.38" class="k"/>
<circle cx="65.6" cy="461.4" r="2.38" class="b"/>
<circle cx="86.8" cy="478.2" r="2.38" class="b"/>
<circle cx="75.2" cy="512.1" r="2.38" class="b"/>
<circle cx="75.4" cy="482.7" r="2.38" class="b"/>
<circle cx="82.0" cy="505.2" r="2.38" class="b"/>
<circle cx="55.1" cy="458.0" r="2.38" class="y"/>
<circle cx="89.2" cy="455.0" r="2.38" class="b"/>
<circle cx="79.7" cy="460.5" r="2.38" class="y"/>
<circle cx="83.9" cy="471.8" r="2.38" class="y"/>
<circle cx="92.8" cy="452.4" r="2.38" class="y"/>
<circle cx="80.8" cy="509.8" r="2.38" class="b"/>
<circle cx="62.1" cy="471.7" r="2.38" class="k"/>
<circle cx="85.4" cy="487.9" r="2.38" class="r"/>
<circle cx="85.4" cy="460.1" r="2.38" class="b"/>
<circle cx="60.1" cy="477.0" r="2.38" class="b"/>
<circle cx="88.4" cy="474.0" r="2.38" class="b"/>
<circle cx="57.3" cy="469.9" r="2.38" class="b"/>
<circle cx="68.0" cy="454.8" r="2.38" class="b"/>
<circle cx="54.8" cy="462.7" r="2.38" class="k"/>
<circle cx="75.5" cy="491.7" r="2.38" class="b"/>
<circle cx="80.5" cy="453.5" r="2.38" class="b"/>
<circle cx="81.6" cy="475.5" r="2.38" class="b"/>
<circle cx="77.4" cy="471.2" r="2.38" class="b"/>
<circle cx="67.4" cy="468.7" r="2.38" class="y"/>
<circle cx="83.3" cy="494.0" r="2.38" class="y"/>
<circle cx="72.4" cy="494.3" r="2.38" class="k"/>
<circle cx="73.4" cy="505.8" r="2.38" class="b"/>
<circle cx="68.0" cy="492.0" r="2.38" class="y"/>
<circle cx="70.2" cy="484.3" r="2.38" class="r"/>
<circle cx="51.2" cy="456.3" r="2.38" class="y"/>
<circle cx="84.0" cy="480.4" r="2.38" class="y"/>
<circle cx="78.2" cy="505.2" r="2.38" class="b"/>
<circle cx="64.6" cy="480.5" r="2.38" class="y"/>
<circle cx="73.0" cy="475.1" r="2.38" class="r"/>
<circle cx="61.0" cy="462.2" r="2.38" class="y"/>
<circle cx="58.6" cy="456.7" r="2.38" class="b"/>
<circle cx="88.7" cy="465.4" r="2.38" class="b"/>
<circle cx="84.4" cy="455.8" r="2.38" class="b"/>
<circle cx="72.6" cy="480.4" r="2.38" class="b"/>
<circle cx="82.4" cy="485.5" r="2.38" class="k"/>
<circle cx="71.5" cy="464.3" r="2.38" class="y"/>
<circle cx="91.8" cy="457.6" r="2.38" class="y"/>
<circle cx="78.0" cy="513.1" r="2.38" class="b"/>
<circle cx="63.2" cy="455.8" r="2.38" class="b"/>
<circle cx="79.1" cy="488.4" r="2.38" class="k"/>
<circle cx="78.2" cy="482.3" r="2.38" class="y"/>
<circle cx="80.4" cy="499.2" r="2.38" class="y"/>
<circle cx="67.0" cy="475.4" r="2.38" class="y"/>
<circle cx="76.3" cy="498.0" r="2.38" class="b"/>
<circle cx="76.2" cy="458.2" r="2.38" class="b"/>
<circle cx="77.9" cy="462.4" r="2.38" class="y"/>
<circle cx="72.1" cy="500.8" r="2.38" class="r"/>
<circle cx="67.3" cy="459.5" r="2.38" class="b"/>
<circle cx="85.4" cy="473.8" r="2.38" class="b"/>
<circle cx="79.1" cy="494.7" r="2.38" class="k"/>
<circle cx="77.7" cy="476.9" r="2.38" class="k"/>
<circle cx="70.4" cy="455.7" r="2.38" class="b"/>
<circle cx="74.7" cy="490.0" r="2.38" class="y"/>
<circle cx="75.1" cy="484.9" r="2.38" class="y"/>
<circle cx="63.9" cy="472.8" r="2.38" class="b"/>
<circle cx="88.3" cy="455.0" r="2.38" class="y"/>
<circle cx="59.8" cy="466.8" r="2.38" class="b"/>
<circle cx="79.7" cy="472.8" r="2.38" class="b"/>
<circle cx="65.9" cy="465.6" r="2.38" class="k"/>
<circle cx="67.3" cy="485.2" r="2.38" class="y"/>
<circle cx="83.4" cy="459.9" r="2.38" class="y"/>
<circle cx="77.1" cy="508.7" r="2.38" class="b"/>
<circle cx="82.5" cy="464.5" r="2.38" class="y"/>
<circle cx="69.2" cy="471.1" r="2.38" class="k"/>
<circle cx="86.0" cy="468.3" r="2.38" class="y"/>
<circle cx="82.7" cy="478.1" r="2.38" class="b"/>
<circle cx="73.6" cy="469.6" r="2.38" class="y"/>
<circle cx="76.3" cy="466.0" r="2.38" class="y"/>
<circle cx="61.8" cy="458.4" r="2.38" class="k"/>
<circle cx="81.4" cy="455.2" r="2.38" class="b"/>
<circle cx="58.7" cy="462.8" r="2.38" class="y"/>
<circle cx="70.8" cy="488.3" r="2.38" class="y"/>
<circle cx="72.7" cy="494.6" r="2.38" class="y"/>
<circle cx="56.1" cy="457.4" r="2.38" class="y"/>
<circle cx="72.2" cy="475.3" r="2.38" class="y"/>
<circle cx="87.8" cy="461.0" r="2.38" class="y"/>
<circle cx="76.3" cy="502.5" r="2.38" class="b"/>
<circle cx="70.1" cy="463.2" r="2.38" class="y"/>
<circle cx="82.1" cy="468.9" r="2.38" class="y"/>
<circle cx="66.4" cy="457.7" r="2.38" class="b"/>
<circle cx="69.4" cy="479.6" r="2.38" class="b"/>
<circle cx="78.3" cy="491.4" r="2.38" class="y"/>
<circle cx="76.3" cy="497.3" r="2.38" class="b"/>
<circle cx="79.7" cy="486.4" r="2.38" class="b"/>
<circle cx="72.0" cy="459.1" r="2.38" class="b"/>
<circle cx="76.7" cy="457.0" r="2.38" class="b"/>
<circle cx="62.7" cy="463.3" r="2.38" class="b"/>
<circle cx="76.0" cy="461.9" r="2.38" class="b"/>
<circle cx="75.8" cy="478.5" r="2.38" class="y"/>
<circle cx="65.4" cy="467.7" r="2.38" class="b"/>
<circle cx="82.0" cy="474.0" r="2.38" class="y"/>
<circle cx="75.1" cy="489.1" r="2.38" class="b"/>
<circle cx="68.1" cy="473.9" r="2.38" class="b"/>
<circle cx="76.7" cy="472.8" r="2.38" class="y"/>
<circle cx="71.9" cy="485.0" r="2.38" class="y"/>
<circle cx="71.2" cy="466.6" r="2.38" class="k"/>
<circle cx="81.9" cy="464.4" r="2.38" class="y"/>
<circle cx="83.0" cy="458.8" r="2.38" class="b"/>
<circle cx="76.8" cy="484.5" r="2.38" class="y"/>
<circle cx="80.0" cy="477.9" r="2.38" class="y"/>
<circle cx="76.8" cy="467.1" r="2.38" class="b"/>
<circle cx="72.5" cy="472.3" r="2.38" class="b"/>
<circle cx="62.3" cy="458.7" r="2.38" class="b"/>
<circle cx="80.6" cy="470.0" r="2.38" class="y"/>
<circle cx="70.1" cy="462.6" r="2.38" class="y"/>
<circle cx="74.9" cy="458.7" r="2.38" class="b"/>
<circle cx="78.6" cy="462.0" r="2.38" class="b"/>
<circle cx="70.8" cy="476.2" r="2.38" class="k"/>
<circle cx="68.2" cy="458.4" r="2.38" class="b"/>
<circle cx="79.5" cy="457.5" r="2.38" class="b"/>
<circle cx="66.5" cy="465.1" r="2.38" class="k"/>
<circle cx="75.1" cy="478.3" r="2.38" class="y"/>
<circle cx="69.7" cy="469.2" r="2.38" class="b"/>
<circle cx="74.0" cy="463.3" r="2.38" class="b"/>
<circle cx="78.5" cy="464.5" r="2.38" class="k"/>
<circle cx="76.9" cy="473.0" r="2.38" class="y"/>
<circle cx="79.6" cy="459.4" r="2.38" class="b"/>
<circle cx="68.8" cy="461.4" r="2.38" class="b"/>
<circle cx="74.6" cy="467.4" r="2.38" class="y"/>
<circle cx="72.1" cy="462.9" r="2.38" class="y"/>
<circle cx="76.5" cy="460.9" r="2.38" class="y"/>
<path d="M64.0 421.5L12.0 446.0L22.0 508.0L79.0 542.0L119.0 503.0L126.7 436.7Z" class="ed2"/>
</g>
<text x="11.6" y="15.1" class="lb" style="font-size:8.3px">(a1)</text>
<text x="6.8" y="146" class="lb" style="font-size:8.3px">(b1)</text>
<text x="10.3" y="291.2" class="lb" style="font-size:8.3px">(c1)</text>
<text x="11.9" y="429.8" class="lb" style="font-size:8.3px">(d1)</text>
<text x="162" y="12.8" class="lb" style="font-size:7.6px">(a2)</text>
<text x="178.4" y="13" style="font-size:4.8px">2916 atoms</text>
<rect x="185.8" y="102.5" width="23.2" height="12.5" fill="#f00" stroke="#333" stroke-width="0.35"/>
<text x="197.2" y="100.9" text-anchor="middle" style="font-size:4.8px">183</text>
<rect x="209" y="30.3" width="23.2" height="84.7" fill="#00f" stroke="#333" stroke-width="0.35"/>
<text x="220.4" y="28.9" text-anchor="middle" style="font-size:4.8px">1216</text>
<rect x="232.2" y="89.8" width="23.1" height="25.2" fill="#000" stroke="#333" stroke-width="0.35"/>
<text x="243.9" y="88.7" text-anchor="middle" style="font-size:4.8px">350</text>
<rect x="255.3" y="27.6" width="23.1" height="87.4" fill="#ff0" stroke="#333" stroke-width="0.35"/>
<text x="266.9" y="26.1" text-anchor="middle" style="font-size:4.8px">1258</text>
<path d="M174 16.4V115H290" class="ax"/>
<path d="M171.8 115.0H174M172.8 108.0H174M171.8 100.9H174M172.8 93.9H174M171.8 86.8H174M172.8 79.8H174M171.8 72.7H174M172.8 65.7H174M171.8 58.7H174M172.8 51.6H174M171.8 44.6H174M172.8 37.5H174M171.8 30.5H174M172.8 23.4H174M171.8 16.4H174M232.2 115V117M290 115V117" class="tk"/>
<text transform="translate(171.2 116.5) scale(0.8 1)" text-anchor="end" style="font-size:4.2px">0</text><text transform="translate(171.2 102.4) scale(0.8 1)" text-anchor="end" style="font-size:4.2px">200</text><text transform="translate(171.2 88.3) scale(0.8 1)" text-anchor="end" style="font-size:4.2px">400</text><text transform="translate(171.2 74.3) scale(0.8 1)" text-anchor="end" style="font-size:4.2px">600</text><text transform="translate(171.2 60.2) scale(0.8 1)" text-anchor="end" style="font-size:4.2px">800</text><text transform="translate(171.2 46.1) scale(0.8 1)" text-anchor="end" style="font-size:4.2px">1000</text><text transform="translate(171.2 32.0) scale(0.8 1)" text-anchor="end" style="font-size:4.2px">1200</text><text transform="translate(171.2 17.9) scale(0.8 1)" text-anchor="end" style="font-size:4.2px">1400</text>
<text x="195.6" y="124" text-anchor="middle" class="cat" style="font-size:5.6px">FCC</text>
<text x="218.5" y="124" text-anchor="middle" class="cat" style="font-size:5.6px">HCP</text>
<text x="244.2" y="124" text-anchor="middle" class="cat" style="font-size:5.6px">BCC</text>
<text x="267.4" y="124" text-anchor="middle" class="cat" style="font-size:5.6px">Amor</text>
<text transform="translate(158.9 70) rotate(-90)" text-anchor="middle" class="yt" style="font-size:5.55px;font-weight:bold">structural units number (atoms)</text>
<rect x="177" y="17" width="25.80000000000001" height="24.799999999999997" class="lbx"/>
<rect x="177.6" y="17.6" width="11.4" height="5.4" fill="#f00" stroke="#555" stroke-width="0.3"/>
<text x="190.2" y="22.4" style="font-size:4.8px">FCC</text>
<rect x="177.6" y="23.6" width="11.4" height="5.4" fill="#00f" stroke="#555" stroke-width="0.3"/>
<text x="190.2" y="28.4" style="font-size:4.8px">HCP</text>
<rect x="177.6" y="29.6" width="11.4" height="5.4" fill="#000" stroke="#555" stroke-width="0.3"/>
<text x="190.2" y="34.4" style="font-size:4.8px">BCC</text>
<rect x="177.6" y="35.6" width="11.4" height="5.4" fill="#ff0" stroke="#555" stroke-width="0.3"/>
<text x="190.2" y="40.4" style="font-size:4.8px">Amor</text>
<text x="160.6" y="145.3" class="lb" style="font-size:7.6px">(b2)</text>
<text x="183" y="150.3" style="font-size:4.8px">4000 atoms</text>
<rect x="189.8" y="247.3" width="21.4" height="15.9" fill="#f00" stroke="#333" stroke-width="0.35"/>
<text x="200.4" y="243.5" text-anchor="middle" style="font-size:4.8px">251</text>
<rect x="211.2" y="162.7" width="21.2" height="100.5" fill="#00f" stroke="#333" stroke-width="0.35"/>
<text x="221.0" y="158.9" text-anchor="middle" style="font-size:4.8px">1621</text>
<rect x="232.4" y="232.0" width="21.4" height="31.2" fill="#000" stroke="#333" stroke-width="0.35"/>
<text x="243.1" y="228.9" text-anchor="middle" style="font-size:4.8px">512</text>
<rect x="253.8" y="163.5" width="21.4" height="99.7" fill="#ff0" stroke="#333" stroke-width="0.35"/>
<text x="265.3" y="160.9" text-anchor="middle" style="font-size:4.8px">1608</text>
<path d="M178.6 151V263.2H286.5" class="ax"/>
<path d="M176.4 263.2H178.6M177.4 257.0H178.6M176.4 250.7H178.6M177.4 244.5H178.6M176.4 238.3H178.6M177.4 232.0H178.6M176.4 225.8H178.6M177.4 219.6H178.6M176.4 213.3H178.6M177.4 207.1H178.6M176.4 200.9H178.6M177.4 194.6H178.6M176.4 188.4H178.6M177.4 182.2H178.6M176.4 175.9H178.6M177.4 169.7H178.6M176.4 163.5H178.6M177.4 157.2H178.6M176.4 151.0H178.6M232.4 263.2V265.2M286.5 263.2V265.2" class="tk"/>
<text transform="translate(175.79999999999998 264.9) scale(0.7 1)" text-anchor="end" style="font-size:4.6px">0</text><text transform="translate(175.79999999999998 252.4) scale(0.7 1)" text-anchor="end" style="font-size:4.6px">200</text><text transform="translate(175.79999999999998 239.9) scale(0.7 1)" text-anchor="end" style="font-size:4.6px">400</text><text transform="translate(175.79999999999998 227.5) scale(0.7 1)" text-anchor="end" style="font-size:4.6px">600</text><text transform="translate(175.79999999999998 215.0) scale(0.7 1)" text-anchor="end" style="font-size:4.6px">800</text><text transform="translate(175.79999999999998 202.5) scale(0.7 1)" text-anchor="end" style="font-size:4.6px">1000</text><text transform="translate(175.79999999999998 190.1) scale(0.7 1)" text-anchor="end" style="font-size:4.6px">1200</text><text transform="translate(175.79999999999998 177.6) scale(0.7 1)" text-anchor="end" style="font-size:4.6px">1400</text><text transform="translate(175.79999999999998 165.1) scale(0.7 1)" text-anchor="end" style="font-size:4.6px">1600</text><text transform="translate(175.79999999999998 152.7) scale(0.7 1)" text-anchor="end" style="font-size:4.6px">1800</text>
<text x="198.6" y="272.7" text-anchor="middle" class="cat" style="font-size:5.6px">FCC</text>
<text x="219.8" y="272.7" text-anchor="middle" class="cat" style="font-size:5.6px">HCP</text>
<text x="243.8" y="272.7" text-anchor="middle" class="cat" style="font-size:5.6px">BCC</text>
<text x="264.7" y="272.7" text-anchor="middle" class="cat" style="font-size:5.6px">Amor</text>
<text transform="translate(165.9 212) rotate(-90)" text-anchor="middle" class="yt" style="font-size:6.3px;font-weight:bold">structural units number (atoms)</text>
<rect x="183.4" y="153.9" width="9.8" height="5.8" fill="#f00" stroke="#555" stroke-width="0.3"/>
<text x="194.4" y="159.0" style="font-size:4.8px">FCC</text>
<rect x="183.4" y="160.2" width="9.8" height="5.8" fill="#00f" stroke="#555" stroke-width="0.3"/>
<text x="194.4" y="165.3" style="font-size:4.8px">HCP</text>
<rect x="183.4" y="166.6" width="9.8" height="5.8" fill="#000" stroke="#555" stroke-width="0.3"/>
<text x="194.4" y="171.7" style="font-size:4.8px">BCC</text>
<rect x="183.4" y="172.9" width="9.8" height="5.8" fill="#ff0" stroke="#555" stroke-width="0.3"/>
<text x="194.4" y="178.0" style="font-size:4.8px">Amor</text>
<text x="165" y="285.2" class="lb" style="font-size:7.2px">(c2)</text>
<text x="188.6" y="289" style="font-size:4.1px">5324 atoms</text>
<rect x="193.3" y="377.3" width="19.0" height="11.7" fill="#f00" stroke="#333" stroke-width="0.35"/>
<text x="202.8" y="374.6" text-anchor="middle" style="font-size:4.6px">257</text>
<rect x="212.3" y="302.3" width="19.2" height="86.7" fill="#00f" stroke="#333" stroke-width="0.35"/>
<text x="220.9" y="300.5" text-anchor="middle" style="font-size:4.6px">2130</text>
<rect x="231.5" y="362.7" width="19.0" height="26.3" fill="#000" stroke="#333" stroke-width="0.35"/>
<text x="241.0" y="360.0" text-anchor="middle" style="font-size:4.6px">671</text>
<rect x="250.5" y="303.9" width="19.2" height="85.1" fill="#ff0" stroke="#333" stroke-width="0.35"/>
<text x="260.2" y="302.4" text-anchor="middle" style="font-size:4.6px">2162</text>
<path d="M184 290.5V389H279.3" class="ax"/>
<path d="M181.8 389.0H184M182.8 379.1H184M181.8 369.3H184M182.8 359.4H184M181.8 349.6H184M182.8 339.8H184M181.8 329.9H184M182.8 320.1H184M181.8 310.2H184M182.8 300.4H184M181.8 290.5H184M231.5 389V391M279.3 389V391" class="tk"/>
<text transform="translate(181.2 390.8) scale(0.65 1)" text-anchor="end" style="font-size:5.0px">0</text><text transform="translate(181.2 371.1) scale(0.65 1)" text-anchor="end" style="font-size:5.0px">500</text><text transform="translate(181.2 351.4) scale(0.65 1)" text-anchor="end" style="font-size:5.0px">1000</text><text transform="translate(181.2 331.7) scale(0.65 1)" text-anchor="end" style="font-size:5.0px">1500</text><text transform="translate(181.2 312.0) scale(0.65 1)" text-anchor="end" style="font-size:5.0px">2000</text><text transform="translate(181.2 292.3) scale(0.65 1)" text-anchor="end" style="font-size:5.0px">2500</text>
<text x="200.1" y="398.6" text-anchor="middle" class="cat" style="font-size:5.4px">FCC</text>
<text x="219.0" y="398.6" text-anchor="middle" class="cat" style="font-size:5.4px">HCP</text>
<text x="240.8" y="398.6" text-anchor="middle" class="cat" style="font-size:5.4px">BCC</text>
<text x="259.6" y="398.6" text-anchor="middle" class="cat" style="font-size:5.4px">Amor</text>
<text transform="translate(170.5 343.6) rotate(-90)" text-anchor="middle" class="yt" style="font-size:6.05px;font-weight:normal">structural units number (atoms)</text>
<rect x="187.2" y="291.3" width="21.100000000000023" height="26.599999999999966" class="lbx"/>
<rect x="188" y="291.9" width="8.5" height="5.9" fill="#f00" stroke="#555" stroke-width="0.3"/>
<text x="197.7" y="297.1" style="font-size:4.6px">FCC</text>
<rect x="188" y="298.4" width="8.5" height="5.9" fill="#00f" stroke="#555" stroke-width="0.3"/>
<text x="197.7" y="303.6" style="font-size:4.6px">HCP</text>
<rect x="188" y="304.9" width="8.5" height="5.9" fill="#000" stroke="#555" stroke-width="0.3"/>
<text x="197.7" y="310.1" style="font-size:4.6px">BCC</text>
<rect x="188" y="311.4" width="8.5" height="5.9" fill="#ff0" stroke="#555" stroke-width="0.3"/>
<text x="197.7" y="316.6" style="font-size:4.6px">Amor</text>
<text x="152.5" y="423.5" class="lb" style="font-size:8.4px">(d2)</text>
<text x="179.7" y="422" style="font-size:5.2px">6912 atoms</text>
<rect x="186.3" y="519.4" width="24.6" height="15.2" fill="#f00" stroke="#333" stroke-width="0.35"/>
<text x="198.6" y="516.5" text-anchor="middle" style="font-size:5.4px">458</text>
<rect x="210.9" y="438.0" width="25.6" height="96.6" fill="#00f" stroke="#333" stroke-width="0.35"/>
<text x="222.2" y="435.7" text-anchor="middle" style="font-size:5.4px">2863</text>
<rect x="236.5" y="506.3" width="25.1" height="28.3" fill="#000" stroke="#333" stroke-width="0.35"/>
<text x="248.8" y="503.7" text-anchor="middle" style="font-size:5.4px">855</text>
<rect x="261.6" y="442.1" width="25.1" height="92.5" fill="#ff0" stroke="#333" stroke-width="0.35"/>
<text x="273.4" y="440.7" text-anchor="middle" style="font-size:5.4px">2736</text>
<path d="M173.8 424.5V534.6H298.6" class="ax"/>
<path d="M171.60000000000002 534.6H173.8M172.60000000000002 526.1H173.8M171.60000000000002 517.7H173.8M172.60000000000002 509.2H173.8M171.60000000000002 500.7H173.8M172.60000000000002 492.3H173.8M171.60000000000002 483.8H173.8M172.60000000000002 475.3H173.8M171.60000000000002 466.8H173.8M172.60000000000002 458.4H173.8M171.60000000000002 449.9H173.8M172.60000000000002 441.4H173.8M171.60000000000002 433.0H173.8M172.60000000000002 424.5H173.8M236.5 534.6V536.6M298.6 534.6V536.6" class="tk"/>
<text transform="translate(171.0 536.3) scale(1 1)" text-anchor="end" style="font-size:4.6px">0</text><text transform="translate(171.0 519.3) scale(1 1)" text-anchor="end" style="font-size:4.6px">500</text><text transform="translate(171.0 502.4) scale(1 1)" text-anchor="end" style="font-size:4.6px">1000</text><text transform="translate(171.0 485.4) scale(1 1)" text-anchor="end" style="font-size:4.6px">1500</text><text transform="translate(171.0 468.5) scale(1 1)" text-anchor="end" style="font-size:4.6px">2000</text><text transform="translate(171.0 451.6) scale(1 1)" text-anchor="end" style="font-size:4.6px">2500</text><text transform="translate(171.0 434.6) scale(1 1)" text-anchor="end" style="font-size:4.6px">3000</text>
<text x="196.7" y="545.3" text-anchor="middle" class="cat" style="font-size:6.2px">FCC</text>
<text x="221.1" y="545.3" text-anchor="middle" class="cat" style="font-size:6.2px">HCP</text>
<text x="249.4" y="545.3" text-anchor="middle" class="cat" style="font-size:6.2px">BCC</text>
<text x="274.8" y="545.3" text-anchor="middle" class="cat" style="font-size:6.2px">Amor</text>
<text transform="translate(157 483.8) rotate(-90)" text-anchor="middle" class="yt" style="font-size:6.3px;font-weight:bold">structural units number (atoms)</text>
<rect x="178.9" y="425.1" width="26.400000000000006" height="29.899999999999977" class="lbx"/>
<rect x="179.7" y="425.8" width="11.8" height="6.7" fill="#f00" stroke="#555" stroke-width="0.3"/>
<text x="192.7" y="431.6" style="font-size:5.6px">FCC</text>
<rect x="179.7" y="433.1" width="11.8" height="6.7" fill="#00f" stroke="#555" stroke-width="0.3"/>
<text x="192.7" y="438.9" style="font-size:5.6px">HCP</text>
<rect x="179.7" y="440.4" width="11.8" height="6.7" fill="#000" stroke="#555" stroke-width="0.3"/>
<text x="192.7" y="446.2" style="font-size:5.6px">BCC</text>
<rect x="179.7" y="447.7" width="11.8" height="6.7" fill="#ff0" stroke="#555" stroke-width="0.3"/>
<text x="192.7" y="453.5" style="font-size:5.6px">Amor</text>
<text x="306.3" y="13" class="lb" style="font-size:7.6px">(a3)</text>
<path d="M323.5 10.5V108.4H444.7" class="ax"/>
<path d="M321.5 100.6H323.5M321.5 84.3H323.5M321.5 68.0H323.5M321.5 51.7H323.5M321.5 35.4H323.5M321.5 19.1H323.5M322.3 92.4H323.5M322.3 76.1H323.5M322.3 59.8H323.5M322.3 43.5H323.5M322.3 27.2H323.5M322.3 10.9H323.5M322.3 108.8H323.5M323.5 108.4V110.4M330.2 108.4V109.60000000000001M337.0 108.4V110.4M343.7 108.4V109.60000000000001M350.4 108.4V110.4M357.2 108.4V109.60000000000001M363.9 108.4V110.4M370.6 108.4V109.60000000000001M377.4 108.4V110.4M384.1 108.4V109.60000000000001M390.9 108.4V110.4M397.6 108.4V109.60000000000001M404.3 108.4V110.4M411.1 108.4V109.60000000000001M417.8 108.4V110.4M424.5 108.4V109.60000000000001M431.3 108.4V110.4M438.0 108.4V109.60000000000001M444.7 108.4V110.4" class="tk"/>
<text x="320.3" y="102.3" text-anchor="end" style="font-size:5px">0</text><text x="320.3" y="86.0" text-anchor="end" style="font-size:5px">1</text><text x="320.3" y="69.7" text-anchor="end" style="font-size:5px">2</text><text x="320.3" y="53.4" text-anchor="end" style="font-size:5px">3</text><text x="320.3" y="37.1" text-anchor="end" style="font-size:5px">4</text><text x="320.3" y="20.8" text-anchor="end" style="font-size:5px">5</text><text x="323.5" y="116.6" text-anchor="middle" style="font-size:5px">1</text><text x="337.0" y="116.6" text-anchor="middle" style="font-size:5px">2</text><text x="350.4" y="116.6" text-anchor="middle" style="font-size:5px">3</text><text x="363.9" y="116.6" text-anchor="middle" style="font-size:5px">4</text><text x="377.4" y="116.6" text-anchor="middle" style="font-size:5px">5</text><text x="390.9" y="116.6" text-anchor="middle" style="font-size:5px">6</text><text x="404.3" y="116.6" text-anchor="middle" style="font-size:5px">7</text><text x="417.8" y="116.6" text-anchor="middle" style="font-size:5px">8</text><text x="431.3" y="116.6" text-anchor="middle" style="font-size:5px">9</text><text x="444.7" y="116.6" text-anchor="middle" style="font-size:5px">10</text>
<text transform="translate(314.3 63.2) rotate(-90)" text-anchor="middle" class="yt" style="font-size:5.8px">g(r)</text>
<text x="385" y="127" text-anchor="middle" style="font-size:5.2px">r(A<tspan dy="-2" style="font-size:3.5px">0</tspan><tspan dy="2">)</tspan></text>
<path d="M339.1 100.6L339.7 96.0L340.3 85.6L341.0 65.9L341.7 44.0L342.4 25.6L343.0 20.6L343.7 26.8L344.4 36.5L345.1 51.2L345.7 71.3L346.4 87.1L347.1 94.9L347.7 96.9" fill="none" stroke="#777" stroke-width="0.45" stroke-dasharray="2.2 1.2"/>
<path d="M323.5 100.6L324.0 100.6L324.6 100.6L325.1 100.6L325.7 100.6L326.2 100.6L326.7 100.6L327.3 100.6L327.8 100.6L328.3 100.6L328.9 100.6L329.4 100.6L330.0 100.6L330.5 100.6L331.0 100.6L331.6 100.6L332.1 100.6L332.7 100.6L333.2 100.6L333.7 100.6L334.3 100.6L334.8 100.6L335.4 100.6L335.9 100.6L336.4 100.6L337.0 100.6L337.5 100.6L338.0 100.6L338.6 100.6L339.1 100.6" fill="none" stroke="#000" stroke-width="2.5" stroke-linejoin="round" stroke-linecap="round"/>
<path d="M347.7 96.9L348.3 94.6L348.9 92.7L349.5 91.8L350.1 91.2L350.7 90.8L351.3 90.5L351.9 90.2L352.4 89.9L353.0 89.8L353.6 89.9L354.2 90.0L354.8 90.1L355.4 90.2L356.0 90.3L356.6 90.3L357.1 90.3L357.7 90.3L358.3 90.3L358.9 90.2L359.5 90.2L360.1 90.1L360.7 90.0L361.3 89.9L361.8 89.8L362.4 89.5L363.0 89.1L363.5 88.6L364.0 87.9L364.6 87.2L365.1 86.4L365.7 85.4L366.2 84.1L366.7 82.8L367.3 81.7L367.8 81.1L368.4 80.6L368.9 80.3L369.4 80.0L370.0 79.7L370.5 79.3L371.0 79.0L371.6 78.5L372.1 78.0L372.7 77.5L373.2 77.0L373.7 76.6L374.3 76.3L374.8 76.2L375.4 76.2L375.9 76.4L376.4 76.9L377.0 78.6L377.5 80.2L378.1 82.0L378.6 84.0L379.1 85.8L379.7 87.5L380.2 88.8L380.7 89.6L381.3 89.8L381.8 89.8L382.4 89.7L382.9 89.5L383.4 89.3L384.0 89.1L384.5 88.9L385.1 88.7L385.6 88.4L386.1 88.2L386.7 88.0L387.2 87.7L387.8 87.4L388.3 87.1L388.8 86.8L389.4 86.5L389.9 86.2L390.4 85.9L391.0 85.5L391.5 85.2L392.1 84.8L392.6 84.4L393.1 84.1L393.7 83.7L394.2 83.4L394.8 83.1L395.3 82.8L395.8 82.4L396.4 82.1L396.9 81.7L397.5 81.4L398.0 81.1L398.5 80.9L399.1 80.8L399.6 80.7L400.1 80.8L400.7 80.9L401.2 81.0L401.8 81.2L402.3 81.4L402.8 81.7L403.4 82.0L403.9 82.2L404.5 82.5L405.0 82.8L405.5 83.1L406.1 83.5L406.6 83.8L407.1 84.2L407.7 84.6L408.2 85.0L408.8 85.3L409.3 85.7L409.8 85.9L410.4 86.2L410.9 86.4L411.5 86.7L412.0 86.9L412.5 87.2L413.1 87.3L413.6 87.5L414.2 87.6L414.7 87.5L415.2 87.4L415.8 87.2L416.3 86.9L416.8 86.6L417.4 86.2L417.9 85.9L418.5 85.6L419.0 85.3L419.5 85.0L420.1 84.7L420.6 84.5L421.2 84.2L421.7 83.9L422.2 83.6L422.8 83.4L423.3 83.2L423.9 83.1L424.4 83.0L424.9 83.0L425.5 83.0L426.0 83.0L426.5 83.1L427.1 83.2L427.6 83.2L428.2 83.3L428.7 83.4L429.2 83.5L429.8 83.5L430.3 83.6L430.9 83.7L431.4 83.8L431.9 83.9L432.5 84.1L433.0 84.2L433.5 84.4L434.1 84.5L434.6 84.7L435.2 84.8L435.7 85.0L436.2 85.1L436.8 85.2L437.3 85.3L437.9 85.4L438.4 85.4L438.9 85.5L439.5 85.6L440.0 85.6L440.6 85.7L441.1 85.8L441.6 85.8L442.2 85.9L442.7 85.9L443.2 85.9L443.8 85.9L444.3 85.9L444.9 85.9L445.4 85.7L445.9 85.6" fill="none" stroke="#000" stroke-width="2.5" stroke-linejoin="round" stroke-linecap="round"/>
<circle cx="339.7" cy="96.0" r="1.25" fill="#000"/>
<circle cx="340.3" cy="85.6" r="1.25" fill="#000"/>
<circle cx="341.0" cy="65.9" r="1.25" fill="#000"/>
<circle cx="341.7" cy="44.0" r="1.25" fill="#000"/>
<circle cx="342.4" cy="25.6" r="1.25" fill="#000"/>
<circle cx="343.0" cy="20.6" r="1.25" fill="#000"/>
<circle cx="343.7" cy="26.8" r="1.25" fill="#000"/>
<circle cx="344.4" cy="36.5" r="1.25" fill="#000"/>
<circle cx="345.1" cy="51.2" r="1.25" fill="#000"/>
<circle cx="345.7" cy="71.3" r="1.25" fill="#000"/>
<circle cx="346.4" cy="87.1" r="1.25" fill="#000"/>
<circle cx="347.1" cy="94.9" r="1.25" fill="#000"/>
<text x="415.8" y="16.3" style="font-size:5px">T=300K</text>
<rect x="402" y="19.6" width="41" height="5.799999999999997" class="lbx"/>
<path d="M403 22.5H415" stroke="#777" stroke-width="0.45" stroke-dasharray="2.2 1.2"/>
<circle cx="408.8" cy="22.5" r="1.25" fill="#000"/>
<text x="415.8" y="24.3" style="font-size:5px">2916 atoms</text>
<text x="304.7" y="143.4" class="lb" style="font-size:7.6px">(b3)</text>
<path d="M322.8 140.5V245.2H447.3" class="ax"/>
<path d="M320.8 236.7H322.8M320.8 219.1H322.8M320.8 201.5H322.8M320.8 183.9H322.8M320.8 166.3H322.8M320.8 148.7H322.8M321.6 227.9H322.8M321.6 210.3H322.8M321.6 192.7H322.8M321.6 175.1H322.8M321.6 157.5H322.8M321.6 139.9H322.8M321.6 245.5H322.8M322.8 245.2V247.2M329.7 245.2V246.39999999999998M336.6 245.2V247.2M343.5 245.2V246.39999999999998M350.5 245.2V247.2M357.4 245.2V246.39999999999998M364.3 245.2V247.2M371.2 245.2V246.39999999999998M378.1 245.2V247.2M385.0 245.2V246.39999999999998M392.0 245.2V247.2M398.9 245.2V246.39999999999998M405.8 245.2V247.2M412.7 245.2V246.39999999999998M419.6 245.2V247.2M426.5 245.2V246.39999999999998M433.4 245.2V247.2M440.4 245.2V246.39999999999998M447.3 245.2V247.2" class="tk"/>
<text x="319.6" y="238.4" text-anchor="end" style="font-size:5px">0</text><text x="319.6" y="220.8" text-anchor="end" style="font-size:5px">1</text><text x="319.6" y="203.2" text-anchor="end" style="font-size:5px">2</text><text x="319.6" y="185.6" text-anchor="end" style="font-size:5px">3</text><text x="319.6" y="168.0" text-anchor="end" style="font-size:5px">4</text><text x="319.6" y="150.4" text-anchor="end" style="font-size:5px">5</text><text x="322.8" y="253" text-anchor="middle" style="font-size:5px">1</text><text x="336.6" y="253" text-anchor="middle" style="font-size:5px">2</text><text x="350.5" y="253" text-anchor="middle" style="font-size:5px">3</text><text x="364.3" y="253" text-anchor="middle" style="font-size:5px">4</text><text x="378.1" y="253" text-anchor="middle" style="font-size:5px">5</text><text x="392.0" y="253" text-anchor="middle" style="font-size:5px">6</text><text x="405.8" y="253" text-anchor="middle" style="font-size:5px">7</text><text x="419.6" y="253" text-anchor="middle" style="font-size:5px">8</text><text x="433.4" y="253" text-anchor="middle" style="font-size:5px">9</text><text x="447.3" y="253" text-anchor="middle" style="font-size:5px">10</text>
<text transform="translate(313.4 196.8) rotate(-90)" text-anchor="middle" class="yt" style="font-size:5.8px">g(r)</text>
<text x="385" y="263.5" text-anchor="middle" style="font-size:5.2px">r(A<tspan dy="-2" style="font-size:3.5px">0</tspan><tspan dy="2">)</tspan></text>
<path d="M338.8 236.7L339.4 231.8L340.1 220.5L340.8 199.2L341.5 175.6L342.2 155.7L342.9 150.3L343.5 157.0L344.2 167.5L344.9 183.4L345.6 205.0L346.3 222.1L347.0 230.5L347.7 232.7" fill="none" stroke="#777" stroke-width="0.45" stroke-dasharray="2.2 1.2"/>
<path d="M322.8 236.7L323.4 236.7L323.9 236.7L324.5 236.7L325.0 236.7L325.6 236.7L326.1 236.7L326.7 236.7L327.2 236.7L327.8 236.7L328.3 236.7L328.9 236.7L329.4 236.7L330.0 236.7L330.5 236.7L331.1 236.7L331.7 236.7L332.2 236.7L332.8 236.7L333.3 236.7L333.9 236.7L334.4 236.7L335.0 236.7L335.5 236.7L336.1 236.7L336.6 236.7L337.2 236.7L337.7 236.7L338.3 236.7L338.8 236.7" fill="none" stroke="#f00" stroke-width="2.5" stroke-linejoin="round" stroke-linecap="round"/>
<path d="M347.7 232.7L348.2 230.2L348.8 228.2L349.4 227.1L349.9 226.6L350.5 226.1L351.0 225.8L351.6 225.4L352.1 225.2L352.7 225.1L353.2 225.1L353.8 225.2L354.3 225.3L354.9 225.5L355.4 225.6L356.0 225.6L356.5 225.6L357.1 225.6L357.7 225.6L358.2 225.5L358.8 225.4L359.3 225.4L359.9 225.3L360.4 225.2L361.0 225.0L361.5 224.8L362.1 224.3L362.6 223.7L363.2 223.0L363.7 222.2L364.3 221.4L364.8 220.3L365.4 218.9L365.9 217.5L366.5 216.3L367.1 215.6L367.6 215.2L368.2 214.8L368.7 214.4L369.3 214.1L369.8 213.8L370.4 213.4L370.9 212.9L371.5 212.3L372.0 211.8L372.6 211.2L373.1 210.8L373.7 210.5L374.2 210.3L374.8 210.3L375.4 210.5L375.9 211.1L376.5 212.9L377.0 214.7L377.6 216.6L378.1 218.7L378.7 220.7L379.2 222.6L379.8 224.0L380.3 224.9L380.9 225.1L381.4 225.0L382.0 224.9L382.5 224.7L383.1 224.5L383.7 224.3L384.2 224.1L384.8 223.8L385.3 223.6L385.9 223.3L386.4 223.1L387.0 222.8L387.5 222.5L388.1 222.1L388.6 221.8L389.2 221.5L389.7 221.1L390.3 220.8L390.8 220.4L391.4 220.0L392.0 219.7L392.5 219.3L393.1 218.9L393.6 218.5L394.2 218.1L394.7 217.8L395.3 217.4L395.8 217.1L396.4 216.7L396.9 216.3L397.5 216.0L398.0 215.7L398.6 215.4L399.1 215.3L399.7 215.2L400.2 215.3L400.8 215.4L401.4 215.6L401.9 215.8L402.5 216.0L403.0 216.3L403.6 216.6L404.1 216.9L404.7 217.1L405.2 217.4L405.8 217.8L406.3 218.2L406.9 218.6L407.4 219.0L408.0 219.4L408.5 219.9L409.1 220.2L409.7 220.6L410.2 220.9L410.8 221.1L411.3 221.4L411.9 221.7L412.4 222.0L413.0 222.2L413.5 222.4L414.1 222.5L414.6 222.6L415.2 222.6L415.7 222.5L416.3 222.2L416.8 221.9L417.4 221.6L418.0 221.2L418.5 220.8L419.1 220.5L419.6 220.2L420.2 219.9L420.7 219.6L421.3 219.3L421.8 219.0L422.4 218.7L422.9 218.4L423.5 218.1L424.0 217.9L424.6 217.8L425.1 217.7L425.7 217.7L426.2 217.7L426.8 217.7L427.4 217.8L427.9 217.9L428.5 217.9L429.0 218.0L429.6 218.1L430.1 218.2L430.7 218.3L431.2 218.4L431.8 218.5L432.3 218.6L432.9 218.7L433.4 218.9L434.0 219.0L434.5 219.2L435.1 219.4L435.7 219.5L436.2 219.7L436.8 219.8L437.3 220.0L437.9 220.1L438.4 220.2L439.0 220.2L439.5 220.3L440.1 220.4L440.6 220.5L441.2 220.5L441.7 220.6L442.3 220.7L442.8 220.7L443.4 220.8L444.0 220.8L444.5 220.8L445.1 220.9L445.6 220.9L446.2 220.8L446.7 220.7L447.3 220.5" fill="none" stroke="#f00" stroke-width="2.5" stroke-linejoin="round" stroke-linecap="round"/>
<circle cx="339.4" cy="231.8" r="1.25" fill="#f00"/>
<circle cx="340.1" cy="220.5" r="1.25" fill="#f00"/>
<circle cx="340.8" cy="199.2" r="1.25" fill="#f00"/>
<circle cx="341.5" cy="175.6" r="1.25" fill="#f00"/>
<circle cx="342.2" cy="155.7" r="1.25" fill="#f00"/>
<circle cx="342.9" cy="150.3" r="1.25" fill="#f00"/>
<circle cx="343.5" cy="157.0" r="1.25" fill="#f00"/>
<circle cx="344.2" cy="167.5" r="1.25" fill="#f00"/>
<circle cx="344.9" cy="183.4" r="1.25" fill="#f00"/>
<circle cx="345.6" cy="205.0" r="1.25" fill="#f00"/>
<circle cx="346.3" cy="222.1" r="1.25" fill="#f00"/>
<circle cx="347.0" cy="230.5" r="1.25" fill="#f00"/>
<text x="414" y="146.8" style="font-size:5px">T=300K</text>
<rect x="402" y="149.6" width="42.80000000000001" height="6.800000000000011" class="lbx"/>
<path d="M403 153.0H415" stroke="#777" stroke-width="0.45" stroke-dasharray="2.2 1.2"/>
<circle cx="408.8" cy="153.0" r="1.25" fill="#f00"/>
<text x="415.8" y="154.8" style="font-size:5px">4000 atoms</text>
<text x="312.2" y="281.5" class="lb" style="font-size:7.2px">(c3)</text>
<path d="M321.6 284V382.4H444.2" class="ax"/>
<path d="M319.6 374.0H321.6M319.6 357.6H321.6M319.6 341.1H321.6M319.6 324.6H321.6M319.6 308.2H321.6M319.6 291.8H321.6M320.40000000000003 365.8H321.6M320.40000000000003 349.3H321.6M320.40000000000003 332.9H321.6M320.40000000000003 316.4H321.6M320.40000000000003 300.0H321.6M320.40000000000003 283.5H321.6M320.40000000000003 382.2H321.6M321.6 382.4V384.4M328.4 382.4V383.59999999999997M335.2 382.4V384.4M342.0 382.4V383.59999999999997M348.8 382.4V384.4M355.7 382.4V383.59999999999997M362.5 382.4V384.4M369.3 382.4V383.59999999999997M376.1 382.4V384.4M382.9 382.4V383.59999999999997M389.7 382.4V384.4M396.5 382.4V383.59999999999997M403.3 382.4V384.4M410.1 382.4V383.59999999999997M416.9 382.4V384.4M423.8 382.4V383.59999999999997M430.6 382.4V384.4M437.4 382.4V383.59999999999997M444.2 382.4V384.4" class="tk"/>
<text x="318.40000000000003" y="375.7" text-anchor="end" style="font-size:5px">0</text><text x="318.40000000000003" y="359.2" text-anchor="end" style="font-size:5px">1</text><text x="318.40000000000003" y="342.8" text-anchor="end" style="font-size:5px">2</text><text x="318.40000000000003" y="326.3" text-anchor="end" style="font-size:5px">3</text><text x="318.40000000000003" y="309.9" text-anchor="end" style="font-size:5px">4</text><text x="318.40000000000003" y="293.4" text-anchor="end" style="font-size:5px">5</text><text x="321.6" y="390" text-anchor="middle" style="font-size:5px">1</text><text x="335.2" y="390" text-anchor="middle" style="font-size:5px">2</text><text x="348.8" y="390" text-anchor="middle" style="font-size:5px">3</text><text x="362.5" y="390" text-anchor="middle" style="font-size:5px">4</text><text x="376.1" y="390" text-anchor="middle" style="font-size:5px">5</text><text x="389.7" y="390" text-anchor="middle" style="font-size:5px">6</text><text x="403.3" y="390" text-anchor="middle" style="font-size:5px">7</text><text x="416.9" y="390" text-anchor="middle" style="font-size:5px">8</text><text x="430.6" y="390" text-anchor="middle" style="font-size:5px">9</text><text x="444.2" y="390" text-anchor="middle" style="font-size:5px">10</text>
<text transform="translate(312 336.8) rotate(-90)" text-anchor="middle" class="yt" style="font-size:5.8px">g(r)</text>
<text x="384" y="401" text-anchor="middle" style="font-size:5.2px">r(A<tspan dy="-2" style="font-size:3.5px">0</tspan><tspan dy="2">)</tspan></text>
<path d="M337.4 374.0L337.9 369.4L338.6 358.9L339.3 339.0L340.0 316.9L340.7 298.3L341.3 293.2L342.0 299.5L342.7 309.4L343.4 324.2L344.1 344.4L344.8 360.3L345.4 368.2L346.1 370.3" fill="none" stroke="#777" stroke-width="0.45" stroke-dasharray="2.2 1.2"/>
<path d="M321.6 374.0L322.1 374.0L322.7 374.0L323.2 374.0L323.8 374.0L324.3 374.0L324.9 374.0L325.4 374.0L326.0 374.0L326.5 374.0L327.0 374.0L327.6 374.0L328.1 374.0L328.7 374.0L329.2 374.0L329.8 374.0L330.3 374.0L330.9 374.0L331.4 374.0L332.0 374.0L332.5 374.0L333.0 374.0L333.6 374.0L334.1 374.0L334.7 374.0L335.2 374.0L335.8 374.0L336.3 374.0L336.9 374.0L337.4 374.0" fill="none" stroke="#00f" stroke-width="2.5" stroke-linejoin="round" stroke-linecap="round"/>
<path d="M346.1 370.3L346.7 367.9L347.2 366.0L347.8 365.1L348.3 364.5L348.8 364.1L349.4 363.8L349.9 363.5L350.5 363.2L351.0 363.1L351.6 363.2L352.1 363.3L352.7 363.4L353.2 363.5L353.7 363.6L354.3 363.6L354.8 363.6L355.4 363.6L355.9 363.6L356.5 363.5L357.0 363.5L357.6 363.4L358.1 363.3L358.6 363.2L359.2 363.1L359.7 362.8L360.3 362.4L360.8 361.8L361.4 361.2L361.9 360.4L362.5 359.7L363.0 358.7L363.5 357.4L364.1 356.0L364.6 355.0L365.2 354.3L365.7 353.9L366.3 353.5L366.8 353.2L367.4 352.9L367.9 352.6L368.5 352.2L369.0 351.7L369.5 351.2L370.1 350.7L370.6 350.2L371.2 349.8L371.7 349.5L372.3 349.3L372.8 349.4L373.4 349.5L373.9 350.1L374.4 351.8L375.0 353.4L375.5 355.3L376.1 357.2L376.6 359.1L377.2 360.8L377.7 362.1L378.3 362.9L378.8 363.1L379.3 363.1L379.9 363.0L380.4 362.8L381.0 362.6L381.5 362.4L382.1 362.2L382.6 361.9L383.2 361.7L383.7 361.5L384.3 361.2L384.8 361.0L385.3 360.7L385.9 360.4L386.4 360.1L387.0 359.8L387.5 359.4L388.1 359.1L388.6 358.8L389.2 358.4L389.7 358.1L390.2 357.7L390.8 357.3L391.3 357.0L391.9 356.6L392.4 356.3L393.0 356.0L393.5 355.7L394.1 355.3L394.6 355.0L395.1 354.6L395.7 354.4L396.2 354.1L396.8 354.0L397.3 353.9L397.9 354.0L398.4 354.1L399.0 354.2L399.5 354.4L400.1 354.7L400.6 354.9L401.1 355.2L401.7 355.5L402.2 355.7L402.8 356.0L403.3 356.3L403.9 356.7L404.4 357.1L405.0 357.5L405.5 357.9L406.0 358.3L406.6 358.6L407.1 358.9L407.7 359.2L408.2 359.4L408.8 359.7L409.3 360.0L409.9 360.2L410.4 360.4L410.9 360.6L411.5 360.8L412.0 360.8L412.6 360.8L413.1 360.7L413.7 360.5L414.2 360.2L414.8 359.9L415.3 359.5L415.9 359.1L416.4 358.8L416.9 358.5L417.5 358.3L418.0 358.0L418.6 357.7L419.1 357.4L419.7 357.1L420.2 356.9L420.8 356.6L421.3 356.5L421.8 356.3L422.4 356.2L422.9 356.2L423.5 356.3L424.0 356.3L424.6 356.3L425.1 356.4L425.7 356.5L426.2 356.5L426.7 356.6L427.3 356.7L427.8 356.8L428.4 356.9L428.9 357.0L429.5 357.1L430.0 357.2L430.6 357.3L431.1 357.5L431.6 357.6L432.2 357.8L432.7 357.9L433.3 358.1L433.8 358.2L434.4 358.3L434.9 358.5L435.5 358.5L436.0 358.6L436.6 358.7L437.1 358.8L437.6 358.8L438.2 358.9L438.7 359.0L439.3 359.0L439.8 359.1L440.4 359.1L440.9 359.2L441.5 359.2L442.0 359.2L442.5 359.2L443.1 359.1L443.6 359.0L444.2 358.9" fill="none" stroke="#00f" stroke-width="2.5" stroke-linejoin="round" stroke-linecap="round"/>
<circle cx="337.9" cy="369.4" r="1.25" fill="#00f"/>
<circle cx="338.6" cy="358.9" r="1.25" fill="#00f"/>
<circle cx="339.3" cy="339.0" r="1.25" fill="#00f"/>
<circle cx="340.0" cy="316.9" r="1.25" fill="#00f"/>
<circle cx="340.7" cy="298.3" r="1.25" fill="#00f"/>
<circle cx="341.3" cy="293.2" r="1.25" fill="#00f"/>
<circle cx="342.0" cy="299.5" r="1.25" fill="#00f"/>
<circle cx="342.7" cy="309.4" r="1.25" fill="#00f"/>
<circle cx="343.4" cy="324.2" r="1.25" fill="#00f"/>
<circle cx="344.1" cy="344.4" r="1.25" fill="#00f"/>
<circle cx="344.8" cy="360.3" r="1.25" fill="#00f"/>
<circle cx="345.4" cy="368.2" r="1.25" fill="#00f"/>
<text x="415.9" y="289.8" style="font-size:5px">T=300K</text>
<rect x="402.8" y="291.4" width="40.69999999999999" height="6.800000000000011" class="lbx"/>
<circle cx="409.6" cy="294.8" r="1.25" fill="#00f"/>
<text x="416.6" y="296.6" style="font-size:5px">5324 atoms</text>
<text x="304.8" y="413.5" class="lb" style="font-size:8.4px">(d3)</text>
<path d="M321.3 415.5V523.4H449.0" class="ax"/>
<path d="M319.3 514.7H321.3M319.3 496.7H321.3M319.3 478.6H321.3M319.3 460.6H321.3M319.3 442.5H321.3M319.3 424.5H321.3M320.1 505.7H321.3M320.1 487.6H321.3M320.1 469.6H321.3M320.1 451.5H321.3M320.1 433.5H321.3M320.1 415.4H321.3M320.1 523.7H321.3M321.3 523.4V525.4M328.4 523.4V524.6M335.5 523.4V525.4M342.6 523.4V524.6M349.7 523.4V525.4M356.8 523.4V524.6M363.9 523.4V525.4M371.0 523.4V524.6M378.1 523.4V525.4M385.2 523.4V524.6M392.2 523.4V525.4M399.3 523.4V524.6M406.4 523.4V525.4M413.5 523.4V524.6M420.6 523.4V525.4M427.7 523.4V524.6M434.8 523.4V525.4M441.9 523.4V524.6M449.0 523.4V525.4" class="tk"/>
<text x="318.1" y="516.4" text-anchor="end" style="font-size:5px">0</text><text x="318.1" y="498.4" text-anchor="end" style="font-size:5px">1</text><text x="318.1" y="480.3" text-anchor="end" style="font-size:5px">2</text><text x="318.1" y="462.3" text-anchor="end" style="font-size:5px">3</text><text x="318.1" y="444.2" text-anchor="end" style="font-size:5px">4</text><text x="318.1" y="426.2" text-anchor="end" style="font-size:5px">5</text><text x="321.3" y="532.3" text-anchor="middle" style="font-size:5px">1</text><text x="335.5" y="532.3" text-anchor="middle" style="font-size:5px">2</text><text x="349.7" y="532.3" text-anchor="middle" style="font-size:5px">3</text><text x="363.9" y="532.3" text-anchor="middle" style="font-size:5px">4</text><text x="378.1" y="532.3" text-anchor="middle" style="font-size:5px">5</text><text x="392.2" y="532.3" text-anchor="middle" style="font-size:5px">6</text><text x="406.4" y="532.3" text-anchor="middle" style="font-size:5px">7</text><text x="420.6" y="532.3" text-anchor="middle" style="font-size:5px">8</text><text x="434.8" y="532.3" text-anchor="middle" style="font-size:5px">9</text><text x="449.0" y="532.3" text-anchor="middle" style="font-size:5px">10</text>
<text transform="translate(311.2 473.9) rotate(-90)" text-anchor="middle" class="yt" style="font-size:6.0px">g(r)</text>
<text x="385.5" y="545" text-anchor="middle" style="font-size:5.2px">r(A<tspan dy="-2" style="font-size:3.5px">0</tspan><tspan dy="2">)</tspan></text>
<path d="M337.8 514.7L338.3 509.6L339.0 498.1L339.7 476.3L340.5 452.1L341.2 431.7L341.9 426.1L342.6 432.9L343.3 443.8L344.0 460.0L344.7 482.2L345.4 499.7L346.1 508.4L346.8 510.6" fill="none" stroke="#777" stroke-width="0.45" stroke-dasharray="2.2 1.2"/>
<path d="M321.3 514.7L321.9 514.7L322.4 514.7L323.0 514.7L323.6 514.7L324.1 514.7L324.7 514.7L325.3 514.7L325.8 514.7L326.4 514.7L327.0 514.7L327.5 514.7L328.1 514.7L328.7 514.7L329.2 514.7L329.8 514.7L330.4 514.7L330.9 514.7L331.5 514.7L332.1 514.7L332.7 514.7L333.2 514.7L333.8 514.7L334.4 514.7L334.9 514.7L335.5 514.7L336.1 514.7L336.6 514.7L337.2 514.7L337.8 514.7" fill="none" stroke="#f0f" stroke-width="2.5" stroke-linejoin="round" stroke-linecap="round"/>
<path d="M346.8 510.6L347.4 508.0L348.0 505.9L348.5 504.9L349.1 504.3L349.7 503.9L350.2 503.5L350.8 503.1L351.4 502.9L352.0 502.8L352.5 502.8L353.1 502.9L353.7 503.0L354.2 503.2L354.8 503.3L355.4 503.3L355.9 503.3L356.5 503.3L357.1 503.3L357.6 503.2L358.2 503.2L358.8 503.1L359.3 503.0L359.9 502.9L360.5 502.7L361.0 502.5L361.6 502.0L362.2 501.4L362.7 500.6L363.3 499.8L363.9 499.0L364.4 497.9L365.0 496.5L365.6 495.0L366.1 493.8L366.7 493.1L367.3 492.6L367.8 492.2L368.4 491.8L369.0 491.5L369.5 491.2L370.1 490.8L370.7 490.3L371.2 489.7L371.8 489.1L372.4 488.6L373.0 488.1L373.5 487.8L374.1 487.6L374.7 487.7L375.2 487.8L375.8 488.5L376.4 490.3L376.9 492.1L377.5 494.1L378.1 496.3L378.6 498.3L379.2 500.2L379.8 501.7L380.3 502.6L380.9 502.8L381.5 502.7L382.0 502.6L382.6 502.4L383.2 502.2L383.7 502.0L384.3 501.7L384.9 501.5L385.4 501.2L386.0 501.0L386.6 500.7L387.1 500.4L387.7 500.1L388.3 499.8L388.8 499.4L389.4 499.1L390.0 498.7L390.5 498.4L391.1 498.0L391.7 497.6L392.3 497.2L392.8 496.8L393.4 496.4L394.0 496.0L394.5 495.6L395.1 495.3L395.7 494.9L396.2 494.6L396.8 494.2L397.4 493.8L397.9 493.5L398.5 493.1L399.1 492.9L399.6 492.7L400.2 492.7L400.8 492.7L401.3 492.8L401.9 493.0L402.5 493.2L403.0 493.5L403.6 493.8L404.2 494.1L404.7 494.3L405.3 494.6L405.9 495.0L406.4 495.3L407.0 495.7L407.6 496.1L408.1 496.6L408.7 497.0L409.3 497.4L409.8 497.8L410.4 498.2L411.0 498.5L411.5 498.7L412.1 499.0L412.7 499.3L413.3 499.6L413.8 499.8L414.4 500.0L415.0 500.2L415.5 500.2L416.1 500.2L416.7 500.1L417.2 499.9L417.8 499.6L418.4 499.2L418.9 498.8L419.5 498.4L420.1 498.0L420.6 497.7L421.2 497.5L421.8 497.1L422.3 496.8L422.9 496.5L423.5 496.2L424.0 495.9L424.6 495.7L425.2 495.4L425.7 495.3L426.3 495.2L426.9 495.2L427.4 495.2L428.0 495.3L428.6 495.3L429.1 495.4L429.7 495.5L430.3 495.5L430.8 495.6L431.4 495.7L432.0 495.8L432.5 495.9L433.1 496.0L433.7 496.1L434.3 496.3L434.8 496.4L435.4 496.6L436.0 496.7L436.5 496.9L437.1 497.1L437.7 497.2L438.2 497.4L438.8 497.5L439.4 497.6L439.9 497.7L440.5 497.8L441.1 497.9L441.6 498.0L442.2 498.1L442.8 498.1L443.3 498.2L443.9 498.3L444.5 498.3L445.0 498.4L445.6 498.4L446.2 498.4L446.7 498.5L447.3 498.5L447.9 498.4L448.4 498.2L449.0 498.1" fill="none" stroke="#f0f" stroke-width="2.5" stroke-linejoin="round" stroke-linecap="round"/>
<circle cx="338.3" cy="509.6" r="1.25" fill="#f0f"/>
<circle cx="339.0" cy="498.1" r="1.25" fill="#f0f"/>
<circle cx="339.7" cy="476.3" r="1.25" fill="#f0f"/>
<circle cx="340.5" cy="452.1" r="1.25" fill="#f0f"/>
<circle cx="341.2" cy="431.7" r="1.25" fill="#f0f"/>
<circle cx="341.9" cy="426.1" r="1.25" fill="#f0f"/>
<circle cx="342.6" cy="432.9" r="1.25" fill="#f0f"/>
<circle cx="343.3" cy="443.8" r="1.25" fill="#f0f"/>
<circle cx="344.0" cy="460.0" r="1.25" fill="#f0f"/>
<circle cx="344.7" cy="482.2" r="1.25" fill="#f0f"/>
<circle cx="345.4" cy="499.7" r="1.25" fill="#f0f"/>
<circle cx="346.1" cy="508.4" r="1.25" fill="#f0f"/>
<text x="418.4" y="423.5" style="font-size:5.3px">T=300K</text>
<rect x="404" y="425.6" width="42.80000000000001" height="7.199999999999989" class="lbx"/>
<circle cx="410.8" cy="429.2" r="1.25" fill="#f0f"/>
<text x="417.9" y="431.0" style="font-size:5.3px">6912 atoms</text>
</svg></body></html>
